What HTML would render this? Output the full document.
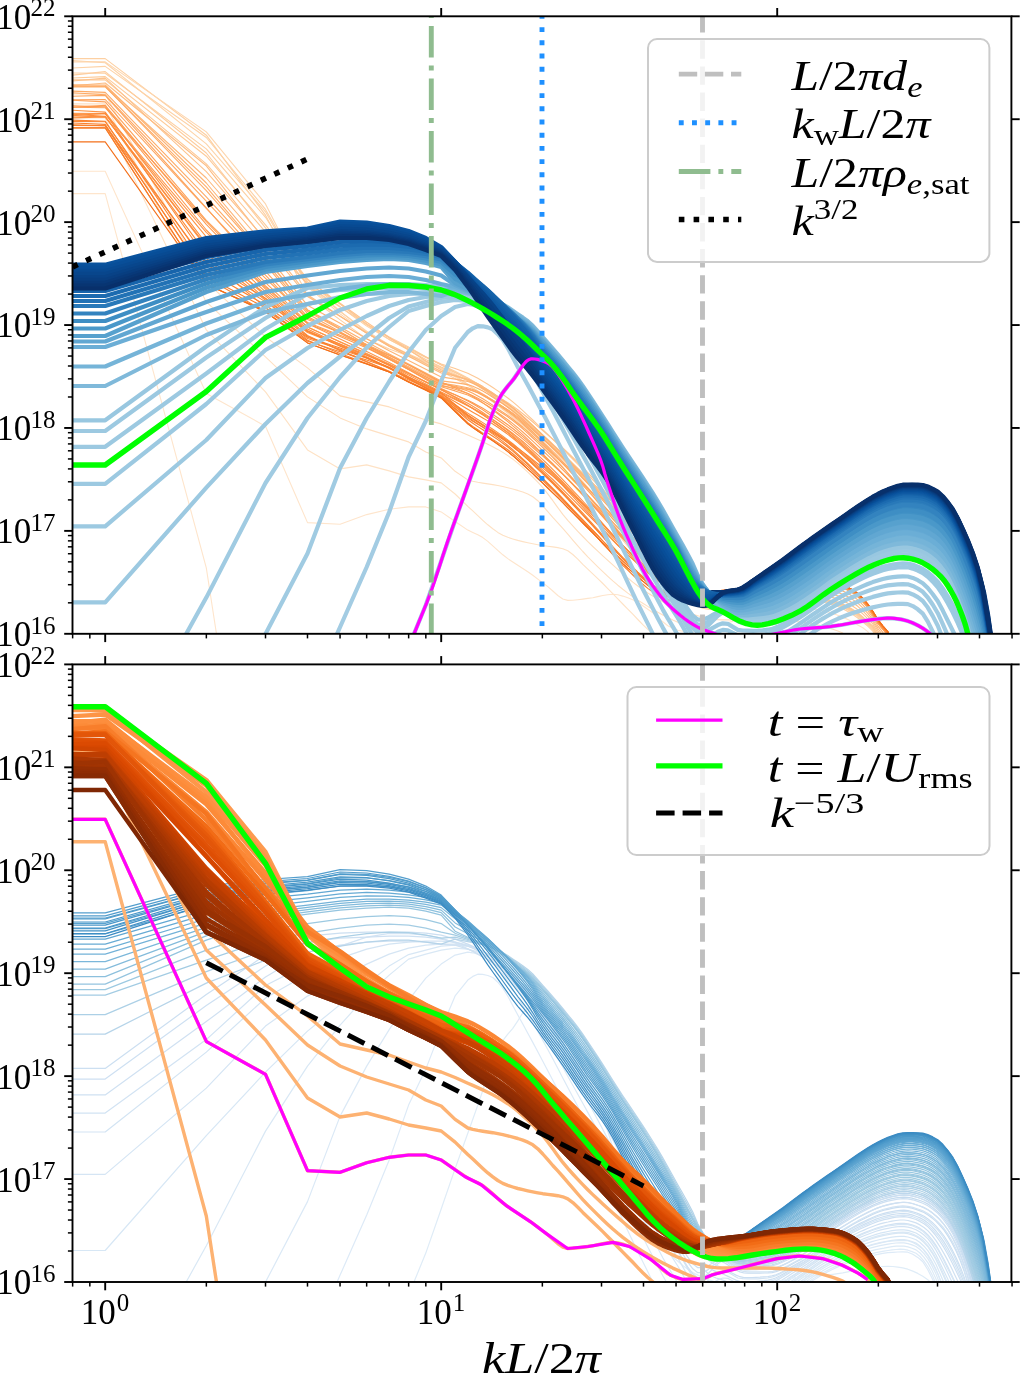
<!DOCTYPE html>
<html><head><meta charset="utf-8"><style>
html,body{margin:0;padding:0;background:#fff;}
body{width:1020px;height:1384px;overflow:hidden;}
svg{display:block;}
text{font-family:"Liberation Serif","DejaVu Serif",serif;fill:#000;}
.tl{font-size:35px;}
.ts{font-size:25px;}
.xl{font-size:44px;}
.it{font-style:italic;}
.lg{font-size:43px;}
.lgs{font-size:30px;}
</style></head><body>
<svg width="1020" height="1384" viewBox="0 0 1020 1384">
<defs>
<clipPath id="ct"><rect x="72.50" y="16.30" width="938.90" height="617.50"/></clipPath>
<clipPath id="cb"><rect x="72.50" y="664.40" width="938.90" height="617.60"/></clipPath>
</defs>
<rect width="1020" height="1384" fill="#fff"/>
<g clip-path="url(#ct)">
<polyline points="72.5,193.6 105.2,193.6 206.3,567.9 265.5,951.9 1012.8,1051.9" fill="none" stroke="#fee5cc" stroke-width="1.10" stroke-linejoin="round"/>
<polyline points="72.5,171.2 105.2,171.2 206.3,393.5 265.5,426.2 307.5,522.6 340.1,524.2 366.7,514.6 389.2,509.2 408.6,506.9 425.8,506.9 441.2,511.9 455.1,521.5 467.8,530.1 472.8,532.4 477.8,534.7 482.8,537.6 487.8,541.4 492.8,545.8 497.8,550.4 502.8,554.8 507.8,558.6 512.8,562.0 517.8,565.3 522.8,568.5 527.8,571.8 532.8,575.3 537.8,579.1 542.8,582.9 547.8,586.6 552.8,591.0 557.8,595.5 562.8,599.0 567.8,600.4 572.8,600.2 577.8,599.7 582.8,599.1 587.8,598.4 592.8,597.7 597.8,596.6 602.8,595.5 607.8,594.7 612.8,594.3 617.8,594.8 622.8,596.1 627.8,597.8 632.8,599.8 637.8,602.5 642.8,605.7 647.8,609.2 652.8,612.8 657.8,617.2 662.8,621.8 667.8,625.7 672.8,628.2 677.8,630.3 682.8,631.3 687.8,631.3 692.8,631.1 697.8,630.8 702.8,630.5 707.8,628.9 712.8,626.6 717.8,625.1 722.8,623.7 727.8,622.5 732.8,621.4 737.8,620.2 742.8,619.1 747.8,617.8 752.8,616.4 757.8,615.0 762.8,613.6 767.8,612.4 772.8,611.2 777.8,610.4 782.8,609.6 787.8,608.8 792.8,608.2 797.8,607.9 802.8,608.0 807.8,608.3 812.8,608.9 817.8,609.7 822.8,610.6 827.8,611.8 832.8,613.4 837.8,615.3 842.8,617.3 847.8,619.6 852.8,622.1 857.8,624.9 862.8,627.7 867.8,631.6 872.8,642.0 877.8,652.5 1012.8,691.9" fill="none" stroke="#fee5cc" stroke-width="1.10" stroke-linejoin="round"/>
<polyline points="72.5,117.9 105.2,117.9 206.3,329.9 265.5,391.9 307.5,449.9 340.1,468.9 366.7,464.9 389.2,470.9 408.6,476.9 425.8,479.9 441.2,482.9 455.1,494.0 467.8,506.4 472.8,510.9 477.8,515.6 482.8,520.3 487.8,524.8 492.8,528.8 497.8,532.4 502.8,535.3 507.8,537.3 512.8,538.9 517.8,540.4 522.8,541.6 527.8,542.7 532.8,543.7 537.8,544.7 542.8,545.6 547.8,546.3 552.8,546.9 557.8,547.6 562.8,548.7 567.8,550.8 572.8,554.5 577.8,559.2 582.8,564.3 587.8,569.1 592.8,573.8 597.8,578.6 602.8,583.5 607.8,588.6 612.8,593.7 617.8,598.9 622.8,604.0 627.8,609.1 632.8,614.2 637.8,619.5 642.8,624.6 647.8,629.4 652.8,633.6 657.8,637.9 662.8,642.0 667.8,645.8 672.8,648.9 1012.8,691.8" fill="none" stroke="#fee2c5" stroke-width="1.10" stroke-linejoin="round"/>
<polyline points="72.5,103.9 105.2,103.9 206.3,301.9 265.5,356.9 307.5,396.9 340.1,417.9 366.7,428.9 389.2,435.9 408.6,441.9 425.8,451.9 441.2,457.9 455.1,471.3 467.8,479.9 472.8,481.2 477.8,482.3 482.8,483.1 487.8,483.9 492.8,484.6 497.8,485.5 502.8,486.5 507.8,487.7 512.8,489.0 517.8,490.4 522.8,492.1 527.8,494.1 532.8,496.7 537.8,500.7 542.8,505.9 547.8,511.6 552.8,517.4 557.8,522.8 562.8,528.4 567.8,534.2 572.8,540.1 577.8,545.9 582.8,551.5 587.8,556.8 592.8,561.8 597.8,566.8 602.8,571.6 607.8,576.3 612.8,580.9 617.8,585.2 622.8,589.3 627.8,593.1 632.8,596.7 637.8,600.1 642.8,603.3 647.8,606.4 652.8,609.3 657.8,612.2 662.8,614.9 667.8,617.5 672.8,620.0 677.8,622.3 682.8,624.5 687.8,626.6 692.8,628.7 697.8,630.9 702.8,633.3 707.8,635.9 712.8,638.8 717.8,641.6 722.8,644.5 727.8,647.1 732.8,649.4 1012.8,691.8" fill="none" stroke="#fee0c2" stroke-width="1.10" stroke-linejoin="round"/>
<polyline points="72.5,93.9 105.2,93.9 206.3,281.9 265.5,336.9 307.5,367.9 340.1,395.9 366.7,401.9 389.2,406.9 408.6,413.9 425.8,419.9 441.2,423.9 455.1,429.4 467.8,435.1 472.8,437.3 477.8,439.5 482.8,441.8 487.8,444.2 492.8,446.7 497.8,449.4 502.8,452.4 507.8,455.6 512.8,459.1 517.8,463.1 522.8,467.5 527.8,472.1 532.8,477.0 537.8,482.1 542.8,487.6 547.8,493.9 552.8,500.7 557.8,507.6 562.8,514.3 567.8,520.3 572.8,525.9 577.8,531.3 582.8,536.5 587.8,541.6 592.8,546.5 597.8,551.2 602.8,555.9 607.8,560.4 612.8,564.9 617.8,569.3 622.8,573.7 627.8,578.0 632.8,582.1 637.8,586.0 642.8,589.6 647.8,593.0 652.8,596.0 657.8,598.9 662.8,601.7 667.8,604.3 672.8,606.8 677.8,609.1 682.8,611.1 687.8,612.9 692.8,614.4 697.8,615.8 702.8,617.2 707.8,618.4 712.8,619.3 717.8,619.8 722.8,619.9 727.8,619.9 732.8,619.9 737.8,619.9 742.8,619.9 747.8,619.9 752.8,619.9 757.8,619.9 762.8,619.9 767.8,620.0 772.8,620.2 777.8,620.4 782.8,620.6 787.8,621.0 792.8,621.3 797.8,621.7 802.8,622.2 807.8,622.9 812.8,623.8 817.8,624.9 822.8,626.2 827.8,627.7 832.8,629.3 837.8,631.1 842.8,633.1 847.8,636.2 852.8,639.9 857.8,643.8 862.8,647.6 867.8,650.8 1012.8,691.5" fill="none" stroke="#fedebe" stroke-width="1.10" stroke-linejoin="round"/>
<polyline points="72.5,58.6 105.2,58.6 206.3,135.2 265.5,215.2 307.5,295.2 340.1,319.9 366.7,338.9 389.2,348.9 408.6,355.9 425.8,361.9 441.2,367.9 455.1,375.8 467.8,384.3 472.8,387.7 477.8,390.9 482.8,394.0 487.8,397.1 492.8,400.2 497.8,403.3 502.8,406.7 507.8,410.3 512.8,414.1 517.8,418.1 522.8,422.3 527.8,426.8 532.8,431.7 537.8,437.2 542.8,443.2 547.8,449.3 552.8,455.4 557.8,461.3 562.8,467.2 567.8,473.0 572.8,478.8 577.8,484.6 582.8,490.5 587.8,496.3 592.8,502.1 597.8,507.9 602.8,513.7 607.8,519.5 612.8,525.4 617.8,531.3 622.8,537.2 627.8,543.0 632.8,549.0 637.8,555.1 642.8,561.2 647.8,567.0 652.8,572.4 657.8,577.2 662.8,581.8 667.8,586.1 672.8,590.1 677.8,593.6 682.8,597.0 687.8,600.5 692.8,603.7 697.8,606.4 702.8,608.3 707.8,609.1 712.8,609.7 717.8,610.1 722.8,610.4 727.8,610.5 732.8,610.3 737.8,609.8 742.8,609.0 747.8,608.0 752.8,607.0 757.8,606.1 762.8,605.3 767.8,604.5 772.8,603.7 777.8,602.8 782.8,602.1 787.8,601.6 792.8,601.4 797.8,601.4 802.8,601.4 807.8,601.4 812.8,601.4 817.8,601.5 822.8,602.1 827.8,603.3 832.8,604.8 837.8,606.5 842.8,608.7 847.8,611.5 852.8,614.5 857.8,618.0 862.8,622.0 867.8,626.1 872.8,631.0 877.8,641.4 882.8,652.8 1012.8,691.9" fill="none" stroke="#fdd0a2" stroke-width="1.10" stroke-linejoin="round"/>
<polyline points="72.5,61.9 105.2,61.9 206.3,131.9 265.5,203.9 307.5,286.9 340.1,313.9 366.7,332.9 389.2,345.9 408.6,354.9 425.8,361.9 441.2,368.9 455.1,376.8 467.8,384.9 472.8,388.2 477.8,391.5 482.8,394.9 487.8,398.3 492.8,401.9 497.8,405.6 502.8,409.5 507.8,413.4 512.8,417.6 517.8,421.9 522.8,426.4 527.8,431.0 532.8,435.8 537.8,440.7 542.8,445.6 547.8,450.7 552.8,456.0 557.8,461.4 562.8,467.0 567.8,472.8 572.8,478.6 577.8,484.5 582.8,490.5 587.8,496.4 592.8,502.5 597.8,508.7 602.8,515.1 607.8,521.5 612.8,527.9 617.8,534.1 622.8,540.2 627.8,546.1 632.8,551.7 637.8,557.4 642.8,563.1 647.8,568.6 652.8,574.0 657.8,579.0 662.8,583.7 667.8,587.8 672.8,591.5 677.8,594.9 682.8,598.1 687.8,601.0 692.8,603.5 697.8,605.4 702.8,606.9 707.8,608.2 712.8,609.2 717.8,609.8 722.8,609.8 727.8,609.5 732.8,609.0 737.8,608.3 742.8,607.6 747.8,607.0 752.8,606.2 757.8,605.3 762.8,604.4 767.8,603.6 772.8,602.9 777.8,602.3 782.8,601.9 787.8,601.5 792.8,601.1 797.8,600.7 802.8,600.5 807.8,600.4 812.8,600.5 817.8,601.0 822.8,601.8 827.8,602.8 832.8,604.0 837.8,605.3 842.8,607.4 847.8,610.1 852.8,613.1 857.8,616.6 862.8,620.8 867.8,625.5 872.8,630.1 877.8,641.5 882.8,648.0 887.8,651.7 1012.8,690.9" fill="none" stroke="#fdd5ad" stroke-width="1.10" stroke-linejoin="round"/>
<polyline points="72.5,60.5 105.2,62.8 206.3,143.9 265.5,211.8 307.5,285.8 340.1,311.6 366.7,331.1 389.2,344.8 408.6,354.1 425.8,361.2 441.2,367.5 455.1,374.0 467.8,380.6 472.8,383.3 477.8,386.1 482.8,388.9 487.8,391.9 492.8,395.0 497.8,398.3 502.8,401.7 507.8,405.3 512.8,409.1 517.8,413.2 522.8,417.5 527.8,422.0 532.8,426.6 537.8,431.5 542.8,436.5 547.8,441.6 552.8,447.0 557.8,452.5 562.8,458.3 567.8,464.3 572.8,470.4 577.8,476.6 582.8,482.9 587.8,489.3 592.8,495.7 597.8,502.4 602.8,509.3 607.8,516.1 612.8,523.0 617.8,529.8 622.8,536.4 627.8,542.7 632.8,548.9 637.8,555.0 642.8,561.0 647.8,566.7 652.8,572.1 657.8,577.1 662.8,581.8 667.8,585.9 672.8,589.5 677.8,592.9 682.8,596.1 687.8,599.0 692.8,601.4 697.8,603.3 702.8,604.7 707.8,606.0 712.8,607.0 717.8,607.6 722.8,607.9 727.8,607.9 732.8,607.8 737.8,607.5 742.8,607.1 747.8,606.5 752.8,605.8 757.8,604.9 762.8,604.0 767.8,603.1 772.8,602.4 777.8,601.8 782.8,601.4 787.8,601.0 792.8,600.6 797.8,600.3 802.8,600.0 807.8,599.9 812.8,600.0 817.8,600.5 822.8,601.2 827.8,602.3 832.8,603.4 837.8,604.8 842.8,606.8 847.8,609.5 852.8,612.5 857.8,615.9 862.8,620.2 867.8,624.8 872.8,629.4 877.8,640.5 882.8,647.4 887.8,651.1 1012.8,690.4" fill="none" stroke="#fdd4a9" stroke-width="1.10" stroke-linejoin="round"/>
<polyline points="72.5,68.0 105.2,66.4 206.3,137.5 265.5,209.4 307.5,283.2 340.1,311.2 366.7,332.0 389.2,346.2 408.6,356.2 425.8,364.2 441.2,371.5 455.1,378.4 467.8,385.4 472.8,388.4 477.8,391.5 482.8,394.7 487.8,398.0 492.8,401.4 497.8,404.9 502.8,408.6 507.8,412.4 512.8,416.4 517.8,420.5 522.8,424.9 527.8,429.4 532.8,434.0 537.8,438.7 542.8,443.5 547.8,448.3 552.8,453.2 557.8,458.2 562.8,463.4 567.8,468.7 572.8,474.0 577.8,479.4 582.8,484.8 587.8,490.2 592.8,495.7 597.8,501.4 602.8,507.1 607.8,513.0 612.8,518.8 617.8,524.5 622.8,530.1 627.8,535.5 632.8,540.6 637.8,545.9 642.8,551.1 647.8,556.4 652.8,561.6 657.8,566.6 662.8,571.3 667.8,575.7 672.8,579.8 677.8,583.7 682.8,587.6 687.8,591.2 692.8,594.5 697.8,597.2 702.8,599.5 707.8,601.7 712.8,603.6 717.8,605.1 722.8,605.9 727.8,606.3 732.8,606.6 737.8,606.7 742.8,606.5 747.8,606.1 752.8,605.4 757.8,604.6 762.8,603.6 767.8,602.7 772.8,601.9 777.8,601.4 782.8,600.9 787.8,600.5 792.8,600.1 797.8,599.8 802.8,599.5 807.8,599.4 812.8,599.5 817.8,599.9 822.8,600.7 827.8,601.7 832.8,602.9 837.8,604.2 842.8,606.3 847.8,608.9 852.8,611.9 857.8,615.3 862.8,619.5 867.8,624.2 872.8,628.8 877.8,639.5 882.8,646.8 887.8,650.5 1012.8,689.9" fill="none" stroke="#fdd2a6" stroke-width="1.10" stroke-linejoin="round"/>
<polyline points="72.5,73.0 105.2,73.2 206.3,148.9 265.5,217.3 307.5,281.8 340.1,306.8 366.7,326.1 389.2,339.6 408.6,349.3 425.8,357.5 441.2,364.8 455.1,371.3 467.8,378.1 472.8,381.0 477.8,384.1 482.8,387.4 487.8,390.8 492.8,394.4 497.8,398.0 502.8,401.8 507.8,405.8 512.8,409.9 517.8,414.4 522.8,419.0 527.8,423.7 532.8,428.6 537.8,433.6 542.8,438.7 547.8,443.7 552.8,448.8 557.8,454.1 562.8,459.5 567.8,465.0 572.8,470.5 577.8,476.1 582.8,481.7 587.8,487.4 592.8,493.1 597.8,499.0 602.8,505.0 607.8,511.1 612.8,517.1 617.8,523.1 622.8,528.9 627.8,534.6 632.8,540.0 637.8,545.5 642.8,550.8 647.8,556.0 652.8,561.0 657.8,565.8 662.8,570.4 667.8,574.7 672.8,578.6 677.8,582.5 682.8,586.3 687.8,589.8 692.8,592.9 697.8,595.6 702.8,597.8 707.8,599.8 712.8,601.6 717.8,603.0 722.8,603.9 727.8,604.8 732.8,605.4 737.8,605.8 742.8,605.9 747.8,605.7 752.8,605.0 757.8,604.2 762.8,603.2 767.8,602.3 772.8,601.5 777.8,600.9 782.8,600.4 787.8,600.0 792.8,599.6 797.8,599.3 802.8,599.0 807.8,598.9 812.8,599.0 817.8,599.4 822.8,600.2 827.8,601.2 832.8,602.4 837.8,603.7 842.8,605.7 847.8,608.3 852.8,611.3 857.8,614.7 862.8,618.9 867.8,623.5 872.8,628.1 877.8,638.5 882.8,646.2 887.8,649.9 1012.8,689.4" fill="none" stroke="#fdd0a2" stroke-width="1.10" stroke-linejoin="round"/>
<polyline points="72.5,75.1 105.2,71.6 206.3,153.0 265.5,227.9 307.5,285.7 340.1,307.0 366.7,324.2 389.2,337.0 408.6,347.1 425.8,356.7 441.2,365.1 455.1,372.3 467.8,379.3 472.8,382.4 477.8,385.6 482.8,388.9 487.8,392.3 492.8,395.8 497.8,399.4 502.8,403.0 507.8,406.7 512.8,410.5 517.8,414.6 522.8,418.8 527.8,423.1 532.8,427.4 537.8,431.8 542.8,436.2 547.8,440.5 552.8,444.9 557.8,449.3 562.8,453.9 567.8,458.5 572.8,463.3 577.8,468.1 582.8,473.0 587.8,477.9 592.8,483.1 597.8,488.4 602.8,493.9 607.8,499.6 612.8,505.3 617.8,511.0 622.8,516.7 627.8,522.4 632.8,527.9 637.8,533.5 642.8,539.3 647.8,545.2 652.8,551.0 657.8,556.6 662.8,562.0 667.8,567.1 672.8,571.9 677.8,576.6 682.8,581.0 687.8,585.2 692.8,589.0 697.8,592.2 702.8,594.8 707.8,597.2 712.8,599.2 717.8,600.7 722.8,601.9 727.8,603.2 732.8,604.2 737.8,605.0 742.8,605.4 747.8,605.2 752.8,604.7 757.8,603.8 762.8,602.8 767.8,601.9 772.8,601.0 777.8,600.4 782.8,599.9 787.8,599.5 792.8,599.1 797.8,598.8 802.8,598.5 807.8,598.4 812.8,598.5 817.8,598.9 822.8,599.6 827.8,600.7 832.8,601.8 837.8,603.1 842.8,605.1 847.8,607.7 852.8,610.7 857.8,614.0 862.8,618.2 867.8,622.9 872.8,627.4 877.8,637.5 882.8,645.5 887.8,649.2 1012.8,688.9" fill="none" stroke="#fdcd9e" stroke-width="1.10" stroke-linejoin="round"/>
<polyline points="72.5,78.0 105.2,76.6 206.3,156.2 265.5,224.9 307.5,279.0 340.1,304.1 366.7,324.7 389.2,339.4 408.6,350.1 425.8,359.5 441.2,367.1 455.1,372.6 467.8,378.3 472.8,380.9 477.8,383.7 482.8,386.7 487.8,389.9 492.8,393.2 497.8,396.6 502.8,400.1 507.8,403.8 512.8,407.7 517.8,411.8 522.8,416.2 527.8,420.7 532.8,425.4 537.8,430.1 542.8,434.8 547.8,439.5 552.8,444.2 557.8,449.0 562.8,453.9 567.8,458.9 572.8,463.9 577.8,469.0 582.8,474.1 587.8,479.3 592.8,484.5 597.8,490.0 602.8,495.5 607.8,501.1 612.8,506.7 617.8,512.3 622.8,517.7 627.8,523.0 632.8,528.2 637.8,533.4 642.8,538.6 647.8,543.7 652.8,548.7 657.8,553.6 662.8,558.4 667.8,563.0 672.8,567.5 677.8,571.9 682.8,576.3 687.8,580.5 692.8,584.4 697.8,587.9 702.8,590.9 707.8,593.6 712.8,596.1 717.8,598.3 722.8,600.0 727.8,601.6 732.8,603.0 737.8,604.2 742.8,604.8 747.8,604.8 752.8,604.3 757.8,603.4 762.8,602.4 767.8,601.4 772.8,600.5 777.8,599.9 782.8,599.5 787.8,599.0 792.8,598.6 797.8,598.3 802.8,598.1 807.8,597.9 812.8,598.0 817.8,598.4 822.8,599.1 827.8,600.1 832.8,601.3 837.8,602.6 842.8,604.5 847.8,607.1 852.8,610.1 857.8,613.4 862.8,617.6 867.8,622.2 872.8,626.7 877.8,636.5 882.8,644.9 887.8,648.6 892.8,652.1 1012.8,688.4" fill="none" stroke="#fdcb99" stroke-width="1.10" stroke-linejoin="round"/>
<polyline points="72.5,79.9 105.2,79.9 206.3,163.9 265.5,231.9 307.5,279.9 340.1,303.9 366.7,323.9 389.2,337.9 408.6,347.9 425.8,356.9 441.2,363.9 455.1,368.5 467.8,373.3 472.8,375.7 477.8,378.3 482.8,381.2 487.8,384.3 492.8,387.5 497.8,390.9 502.8,394.4 507.8,398.0 512.8,401.9 517.8,406.1 522.8,410.6 527.8,415.3 532.8,420.0 537.8,424.9 542.8,429.7 547.8,434.5 552.8,439.3 557.8,444.1 562.8,449.0 567.8,454.0 572.8,459.0 577.8,464.1 582.8,469.3 587.8,474.5 592.8,479.8 597.8,485.2 602.8,490.8 607.8,496.4 612.8,502.0 617.8,507.6 622.8,513.1 627.8,518.4 632.8,523.7 637.8,528.9 642.8,534.0 647.8,539.1 652.8,544.2 657.8,549.1 662.8,554.0 667.8,558.7 672.8,563.3 677.8,568.0 682.8,572.6 687.8,577.0 692.8,581.1 697.8,584.8 702.8,588.1 707.8,591.0 712.8,593.7 717.8,596.0 722.8,598.0 727.8,600.0 732.8,601.9 737.8,603.4 742.8,604.2 747.8,604.4 752.8,603.9 757.8,603.1 762.8,602.1 767.8,601.0 772.8,600.1 777.8,599.4 782.8,599.0 787.8,598.5 792.8,598.1 797.8,597.8 802.8,597.6 807.8,597.4 812.8,597.5 817.8,597.9 822.8,598.6 827.8,599.6 832.8,600.7 837.8,602.0 842.8,603.9 847.8,606.5 852.8,609.5 857.8,612.8 862.8,616.9 867.8,621.6 872.8,626.1 877.8,635.5 882.8,644.3 887.8,648.0 892.8,651.5 1012.8,687.9" fill="none" stroke="#fdc895" stroke-width="1.10" stroke-linejoin="round"/>
<polyline points="72.5,81.0 105.2,78.1 206.3,171.7 265.5,239.6 307.5,283.6 340.1,303.3 366.7,322.3 389.2,337.5 408.6,349.8 425.8,361.0 441.2,369.9 455.1,375.1 467.8,379.9 472.8,382.2 477.8,384.8 482.8,387.5 487.8,390.4 492.8,393.4 497.8,396.5 502.8,399.6 507.8,402.7 512.8,406.1 517.8,409.8 522.8,413.7 527.8,417.8 532.8,422.0 537.8,426.3 542.8,430.6 547.8,434.8 552.8,439.1 557.8,443.5 562.8,448.0 567.8,452.7 572.8,457.5 577.8,462.4 582.8,467.4 587.8,472.6 592.8,477.9 597.8,483.5 602.8,489.2 607.8,495.0 612.8,501.0 617.8,506.9 622.8,512.9 627.8,518.7 632.8,524.4 637.8,530.2 642.8,535.9 647.8,541.5 652.8,546.9 657.8,552.2 662.8,557.2 667.8,562.1 672.8,566.7 677.8,571.4 682.8,576.0 687.8,580.2 692.8,584.1 697.8,587.3 702.8,589.9 707.8,592.2 712.8,594.3 717.8,595.9 722.8,597.4 727.8,598.8 732.8,600.1 737.8,601.0 742.8,601.5 747.8,601.4 752.8,600.9 757.8,600.0 762.8,599.1 767.8,598.1 772.8,597.2 777.8,596.6 782.8,596.1 787.8,595.7 792.8,595.3 797.8,595.0 802.8,594.7 807.8,594.6 812.8,594.6 817.8,595.0 822.8,595.7 827.8,596.6 832.8,597.6 837.8,598.8 842.8,600.7 847.8,603.2 852.8,606.2 857.8,609.6 862.8,613.9 867.8,618.8 872.8,623.9 877.8,633.0 882.8,641.3 887.8,645.5 892.8,651.7 1012.8,689.2" fill="none" stroke="#fdc38d" stroke-width="1.10" stroke-linejoin="round"/>
<polyline points="72.5,85.8 105.2,83.0 206.3,165.8 265.5,240.9 307.5,294.8 340.1,316.2 366.7,333.0 389.2,345.0 408.6,354.4 425.8,363.5 441.2,371.4 455.1,375.7 467.8,380.4 472.8,382.9 477.8,385.8 482.8,389.0 487.8,392.4 492.8,396.0 497.8,399.7 502.8,403.5 507.8,407.3 512.8,411.3 517.8,415.6 522.8,420.1 527.8,424.8 532.8,429.5 537.8,434.1 542.8,438.8 547.8,443.2 552.8,447.7 557.8,452.1 562.8,456.6 567.8,461.0 572.8,465.5 577.8,469.9 582.8,474.4 587.8,478.9 592.8,483.5 597.8,488.2 602.8,493.0 607.8,497.9 612.8,502.8 617.8,507.7 622.8,512.5 627.8,517.2 632.8,521.9 637.8,526.5 642.8,531.4 647.8,536.5 652.8,541.7 657.8,546.8 662.8,551.9 667.8,556.9 672.8,561.9 677.8,567.1 682.8,572.2 687.8,577.2 692.8,581.7 697.8,585.4 702.8,588.4 707.8,591.2 712.8,593.5 717.8,595.4 722.8,596.7 727.8,597.6 732.8,598.3 737.8,598.7 742.8,598.8 747.8,598.5 752.8,597.9 757.8,597.0 762.8,596.1 767.8,595.1 772.8,594.3 777.8,593.7 782.8,593.3 787.8,592.8 792.8,592.4 797.8,592.1 802.8,591.9 807.8,591.7 812.8,591.8 817.8,592.1 822.8,592.7 827.8,593.6 832.8,594.5 837.8,595.7 842.8,597.5 847.8,600.0 852.8,602.9 857.8,606.3 862.8,610.9 867.8,616.1 872.8,621.8 877.8,630.6 882.8,638.3 887.8,643.0 892.8,651.8 1012.8,690.5" fill="none" stroke="#fdbe85" stroke-width="1.10" stroke-linejoin="round"/>
<polyline points="72.5,85.7 105.2,86.0 206.3,178.0 265.5,245.9 307.5,296.5 340.1,316.3 366.7,333.3 389.2,346.2 408.6,356.2 425.8,365.3 441.2,373.0 455.1,376.0 467.8,379.3 472.8,381.4 477.8,383.8 482.8,386.6 487.8,389.7 492.8,393.0 497.8,396.4 502.8,400.0 507.8,403.6 512.8,407.5 517.8,411.7 522.8,416.2 527.8,420.9 532.8,425.8 537.8,430.7 542.8,435.6 547.8,440.4 552.8,445.3 557.8,450.3 562.8,455.3 567.8,460.3 572.8,465.5 577.8,470.6 582.8,475.9 587.8,481.1 592.8,486.5 597.8,492.0 602.8,497.5 607.8,503.1 612.8,508.8 617.8,514.3 622.8,519.8 627.8,525.1 632.8,530.2 637.8,535.3 642.8,540.3 647.8,545.2 652.8,549.9 657.8,554.6 662.8,559.2 667.8,563.7 672.8,568.0 677.8,572.6 682.8,577.2 687.8,581.6 692.8,585.4 697.8,588.4 702.8,590.5 707.8,592.5 712.8,594.1 717.8,595.3 722.8,596.1 727.8,596.4 732.8,596.5 737.8,596.3 742.8,596.0 747.8,595.6 752.8,594.8 757.8,594.0 762.8,593.1 767.8,592.2 772.8,591.5 777.8,590.9 782.8,590.4 787.8,590.0 792.8,589.6 797.8,589.2 802.8,589.0 807.8,588.9 812.8,588.9 817.8,589.3 822.8,589.8 827.8,590.5 832.8,591.4 837.8,592.5 842.8,594.3 847.8,596.7 852.8,599.6 857.8,603.1 862.8,607.9 867.8,613.3 872.8,619.7 877.8,628.2 882.8,635.4 887.8,640.6 892.8,652.0 1012.8,691.8" fill="none" stroke="#fdb97d" stroke-width="1.10" stroke-linejoin="round"/>
<polyline points="72.5,84.7 105.2,85.0 206.3,183.0 265.5,253.4 307.5,305.3 340.1,323.2 366.7,338.8 389.2,350.8 408.6,360.5 425.8,369.2 441.2,376.9 455.1,379.1 467.8,381.5 472.8,383.3 477.8,385.6 482.8,388.2 487.8,391.1 492.8,394.3 497.8,397.6 502.8,401.0 507.8,404.4 512.8,408.1 517.8,412.2 522.8,416.5 527.8,421.0 532.8,425.7 537.8,430.5 542.8,435.2 547.8,439.9 552.8,444.6 557.8,449.4 562.8,454.3 567.8,459.3 572.8,464.3 577.8,469.4 582.8,474.6 587.8,479.8 592.8,485.1 597.8,490.5 602.8,496.1 607.8,501.7 612.8,507.4 617.8,513.0 622.8,518.5 627.8,523.8 632.8,529.1 637.8,534.3 642.8,539.4 647.8,544.5 652.8,549.6 657.8,554.5 662.8,559.3 667.8,564.0 672.8,568.5 677.8,573.3 682.8,578.1 687.8,582.6 692.8,586.5 697.8,589.3 702.8,591.2 707.8,592.9 712.8,594.2 717.8,595.1 722.8,595.4 727.8,595.2 732.8,594.7 737.8,594.0 742.8,593.3 747.8,592.6 752.8,591.8 757.8,591.0 762.8,590.1 767.8,589.3 772.8,588.6 777.8,588.1 782.8,587.6 787.8,587.1 792.8,586.7 797.8,586.4 802.8,586.2 807.8,586.0 812.8,586.1 817.8,586.4 822.8,586.9 827.8,587.5 832.8,588.3 837.8,589.3 842.8,591.1 847.8,593.5 852.8,596.3 857.8,599.9 862.8,604.8 867.8,610.6 872.8,617.5 877.8,625.8 882.8,632.4 887.8,638.1 892.8,652.1 1012.8,693.1" fill="none" stroke="#fdb475" stroke-width="1.10" stroke-linejoin="round"/>
<polyline points="72.5,86.9 105.2,86.9 206.3,186.9 265.5,256.9 307.5,309.9 340.1,326.9 366.7,341.9 389.2,353.9 408.6,363.9 425.8,372.9 441.2,380.9 455.1,382.6 467.8,384.6 472.8,386.3 477.8,388.5 482.8,391.1 487.8,394.0 492.8,397.2 497.8,400.5 502.8,403.8 507.8,407.2 512.8,410.9 517.8,414.9 522.8,419.2 527.8,423.8 532.8,428.4 537.8,433.2 542.8,438.0 547.8,442.7 552.8,447.4 557.8,452.2 562.8,457.1 567.8,462.0 572.8,467.1 577.8,472.2 582.8,477.3 587.8,482.5 592.8,487.8 597.8,493.2 602.8,498.8 607.8,504.4 612.8,510.0 617.8,515.5 622.8,521.0 627.8,526.2 632.8,531.4 637.8,536.5 642.8,541.6 647.8,546.5 652.8,551.4 657.8,556.2 662.8,560.9 667.8,565.4 672.8,569.9 677.8,574.6 682.8,579.4 687.8,583.9 692.8,587.7 697.8,590.3 702.8,591.9 707.8,593.2 712.8,594.3 717.8,594.8 722.8,594.8 727.8,594.1 732.8,592.9 737.8,591.7 742.8,590.6 747.8,589.7 752.8,588.8 757.8,587.9 762.8,587.1 767.8,586.4 772.8,585.7 777.8,585.2 782.8,584.7 787.8,584.3 792.8,583.9 797.8,583.5 802.8,583.3 807.8,583.2 812.8,583.3 817.8,583.5 822.8,584.0 827.8,584.5 832.8,585.2 837.8,586.1 842.8,587.8 847.8,590.2 852.8,593.0 857.8,596.7 862.8,601.8 867.8,607.8 872.8,615.4 877.8,623.4 882.8,629.4 887.8,635.6 892.8,652.3 1012.8,694.4" fill="none" stroke="#fdaf6d" stroke-width="1.10" stroke-linejoin="round"/>
<polyline points="72.5,86.3 105.2,86.4 206.3,190.6 265.5,258.0 307.5,309.9 340.1,328.6 366.7,345.3 389.2,358.6 408.6,369.3 425.8,378.4 441.2,386.1 455.1,387.7 467.8,389.4 472.8,390.9 477.8,392.8 482.8,395.1 487.8,397.7 492.8,400.6 497.8,403.6 502.8,406.6 507.8,409.7 512.8,413.2 517.8,416.9 522.8,421.0 527.8,425.3 532.8,429.8 537.8,434.4 542.8,439.0 547.8,443.6 552.8,448.3 557.8,453.1 562.8,458.0 567.8,463.0 572.8,468.1 577.8,473.2 582.8,478.5 587.8,483.7 592.8,489.1 597.8,494.6 602.8,500.3 607.8,505.9 612.8,511.6 617.8,517.2 622.8,522.7 627.8,528.0 632.8,533.1 637.8,538.2 642.8,543.2 647.8,548.2 652.8,553.0 657.8,557.7 662.8,562.2 667.8,566.6 672.8,570.9 677.8,575.4 682.8,580.0 687.8,584.4 692.8,588.0 697.8,590.6 702.8,592.0 707.8,593.3 712.8,594.2 717.8,594.8 722.8,594.7 727.8,594.0 732.8,592.8 737.8,591.5 742.8,590.4 747.8,589.6 752.8,588.7 757.8,587.8 762.8,587.0 767.8,586.2 772.8,585.6 777.8,585.1 782.8,584.6 787.8,584.2 792.8,583.7 797.8,583.4 802.8,583.2 807.8,583.1 812.8,583.1 817.8,583.4 822.8,583.8 827.8,584.4 832.8,585.0 837.8,586.0 842.8,587.7 847.8,590.0 852.8,592.8 857.8,596.5 862.8,601.6 867.8,607.6 872.8,615.2 877.8,623.2 882.8,629.2 887.8,635.4 892.8,652.0 1012.8,694.3" fill="none" stroke="#fdad69" stroke-width="1.10" stroke-linejoin="round"/>
<polyline points="72.5,91.1 105.2,92.4 206.3,196.8 265.5,261.8 307.5,311.6 340.1,329.3 366.7,344.7 389.2,356.9 408.6,366.8 425.8,375.5 441.2,383.1 455.1,385.3 467.8,387.7 472.8,389.4 477.8,391.6 482.8,394.2 487.8,397.1 492.8,400.2 497.8,403.5 502.8,406.8 507.8,410.3 512.8,414.0 517.8,418.1 522.8,422.5 527.8,427.1 532.8,431.8 537.8,436.7 542.8,441.6 547.8,446.5 552.8,451.4 557.8,456.4 562.8,461.6 567.8,466.8 572.8,472.1 577.8,477.4 582.8,482.8 587.8,488.2 592.8,493.6 597.8,499.2 602.8,504.9 607.8,510.6 612.8,516.3 617.8,521.9 622.8,527.3 627.8,532.6 632.8,537.6 637.8,542.6 642.8,547.5 647.8,552.2 652.8,556.8 657.8,561.3 662.8,565.6 667.8,569.7 672.8,573.7 677.8,577.9 682.8,582.3 687.8,586.3 692.8,589.6 697.8,591.9 702.8,593.1 707.8,594.0 712.8,594.7 717.8,594.9 722.8,594.7 727.8,593.9 732.8,592.7 737.8,591.4 742.8,590.3 747.8,589.4 752.8,588.5 757.8,587.7 762.8,586.8 767.8,586.1 772.8,585.5 777.8,585.0 782.8,584.5 787.8,584.0 792.8,583.6 797.8,583.3 802.8,583.0 807.8,582.9 812.8,583.0 817.8,583.3 822.8,583.7 827.8,584.2 832.8,584.9 837.8,585.8 842.8,587.5 847.8,589.9 852.8,592.7 857.8,596.3 862.8,601.5 867.8,607.4 872.8,615.0 877.8,623.0 882.8,629.0 887.8,635.2 892.8,651.8 1012.8,694.1" fill="none" stroke="#fdab66" stroke-width="1.10" stroke-linejoin="round"/>
<polyline points="72.5,92.8 105.2,94.8 206.3,201.2 265.5,264.7 307.5,313.7 340.1,331.8 366.7,347.1 389.2,359.1 408.6,368.6 425.8,376.8 441.2,383.9 455.1,386.2 467.8,388.8 472.8,390.6 477.8,392.8 482.8,395.4 487.8,398.2 492.8,401.3 497.8,404.6 502.8,408.0 507.8,411.5 512.8,415.3 517.8,419.4 522.8,423.8 527.8,428.5 532.8,433.3 537.8,438.2 542.8,443.2 547.8,448.2 552.8,453.2 557.8,458.4 562.8,463.6 567.8,468.9 572.8,474.3 577.8,479.7 582.8,485.2 587.8,490.6 592.8,496.1 597.8,501.8 602.8,507.5 607.8,513.2 612.8,518.8 617.8,524.4 622.8,529.7 627.8,534.9 632.8,539.9 637.8,544.8 642.8,549.5 647.8,554.2 652.8,558.6 657.8,563.0 662.8,567.1 667.8,571.1 672.8,575.0 677.8,579.1 682.8,583.2 687.8,587.1 692.8,590.3 697.8,592.5 702.8,593.6 707.8,594.3 712.8,594.8 717.8,595.0 722.8,594.6 727.8,593.8 732.8,592.6 737.8,591.3 742.8,590.2 747.8,589.3 752.8,588.4 757.8,587.5 762.8,586.7 767.8,586.0 772.8,585.3 777.8,584.8 782.8,584.4 787.8,583.9 792.8,583.5 797.8,583.1 802.8,582.9 807.8,582.8 812.8,582.9 817.8,583.1 822.8,583.5 827.8,584.1 832.8,584.8 837.8,585.7 842.8,587.4 847.8,589.7 852.8,592.5 857.8,596.1 862.8,601.3 867.8,607.2 872.8,614.8 877.8,622.8 882.8,628.9 887.8,634.9 892.8,651.5 1012.8,694.0" fill="none" stroke="#fda863" stroke-width="1.10" stroke-linejoin="round"/>
<polyline points="72.5,96.3 105.2,95.4 206.3,207.9 265.5,275.1 307.5,319.5 340.1,332.7 366.7,344.5 389.2,355.1 408.6,364.9 425.8,374.2 441.2,382.7 455.1,386.8 467.8,391.0 472.8,393.3 477.8,395.9 482.8,398.8 487.8,401.9 492.8,405.2 497.8,408.6 502.8,412.1 507.8,415.5 512.8,419.2 517.8,423.2 522.8,427.3 527.8,431.7 532.8,436.1 537.8,440.6 542.8,445.1 547.8,449.6 552.8,454.1 557.8,458.8 562.8,463.5 567.8,468.3 572.8,473.2 577.8,478.2 582.8,483.3 587.8,488.4 592.8,493.6 597.8,498.9 602.8,504.5 607.8,510.1 612.8,515.7 617.8,521.3 622.8,526.8 627.8,532.2 632.8,537.5 637.8,542.7 642.8,548.1 647.8,553.3 652.8,558.5 657.8,563.4 662.8,568.1 667.8,572.6 672.8,576.7 677.8,581.1 682.8,585.3 687.8,589.2 692.8,592.3 697.8,594.3 702.8,595.2 707.8,595.6 712.8,595.5 717.8,595.2 722.8,594.6 727.8,593.7 732.8,592.5 737.8,591.2 742.8,590.1 747.8,589.1 752.8,588.3 757.8,587.4 762.8,586.6 767.8,585.8 772.8,585.2 777.8,584.7 782.8,584.2 787.8,583.8 792.8,583.3 797.8,583.0 802.8,582.8 807.8,582.7 812.8,582.7 817.8,583.0 822.8,583.4 827.8,584.0 832.8,584.6 837.8,585.5 842.8,587.2 847.8,589.6 852.8,592.3 857.8,596.0 862.8,601.1 867.8,607.0 872.8,614.6 877.8,622.6 882.8,628.7 887.8,634.7 892.8,651.2 1012.8,693.8" fill="none" stroke="#fda65f" stroke-width="1.10" stroke-linejoin="round"/>
<polyline points="72.5,99.9 105.2,99.5 206.3,208.4 265.5,271.3 307.5,316.6 340.1,333.3 366.7,347.3 389.2,359.2 408.6,369.4 425.8,378.6 441.2,386.7 455.1,390.9 467.8,395.1 472.8,397.4 477.8,400.0 482.8,402.9 487.8,406.0 492.8,409.3 497.8,412.7 502.8,416.2 507.8,419.8 512.8,423.6 517.8,427.7 522.8,432.0 527.8,436.5 532.8,441.2 537.8,445.9 542.8,450.6 547.8,455.3 552.8,460.1 557.8,464.9 562.8,469.9 567.8,474.9 572.8,480.0 577.8,485.1 582.8,490.2 587.8,495.4 592.8,500.6 597.8,505.9 602.8,511.3 607.8,516.8 612.8,522.2 617.8,527.5 622.8,532.7 627.8,537.7 632.8,542.5 637.8,547.3 642.8,552.0 647.8,556.7 652.8,561.2 657.8,565.6 662.8,569.8 667.8,573.7 672.8,577.4 677.8,581.4 682.8,585.4 687.8,589.0 692.8,592.0 697.8,593.9 702.8,594.8 707.8,595.2 712.8,595.3 717.8,595.1 722.8,594.5 727.8,593.6 732.8,592.3 737.8,591.1 742.8,589.9 747.8,589.0 752.8,588.1 757.8,587.2 762.8,586.4 767.8,585.7 772.8,585.1 777.8,584.6 782.8,584.1 787.8,583.6 792.8,583.2 797.8,582.9 802.8,582.6 807.8,582.5 812.8,582.6 817.8,582.8 822.8,583.3 827.8,583.8 832.8,584.5 837.8,585.4 842.8,587.1 847.8,589.4 852.8,592.2 857.8,595.8 862.8,600.9 867.8,606.8 872.8,614.4 877.8,622.4 882.8,628.5 887.8,634.5 892.8,651.0 1012.8,693.7" fill="none" stroke="#fda35c" stroke-width="1.10" stroke-linejoin="round"/>
<polyline points="72.5,100.3 105.2,101.9 206.3,220.3 265.5,278.3 307.5,318.0 340.1,332.5 366.7,345.8 389.2,357.6 408.6,368.0 425.8,377.1 441.2,385.0 455.1,389.2 467.8,393.5 472.8,395.7 477.8,398.2 482.8,400.9 487.8,403.8 492.8,406.9 497.8,410.2 502.8,413.5 507.8,416.9 512.8,420.6 517.8,424.6 522.8,428.9 527.8,433.3 532.8,438.0 537.8,442.7 542.8,447.5 547.8,452.4 552.8,457.3 557.8,462.5 562.8,467.7 567.8,473.1 572.8,478.6 577.8,484.1 582.8,489.7 587.8,495.4 592.8,501.1 597.8,507.0 602.8,513.0 607.8,519.0 612.8,524.9 617.8,530.8 622.8,536.6 627.8,542.1 632.8,547.4 637.8,552.7 642.8,557.8 647.8,562.6 652.8,567.2 657.8,571.5 662.8,575.5 667.8,579.2 672.8,582.6 677.8,586.1 682.8,589.6 687.8,592.7 692.8,595.1 697.8,596.5 702.8,596.8 707.8,596.6 712.8,596.0 717.8,595.3 722.8,594.5 727.8,593.5 732.8,592.2 737.8,590.9 742.8,589.8 747.8,588.9 752.8,588.0 757.8,587.1 762.8,586.3 767.8,585.6 772.8,584.9 777.8,584.4 782.8,584.0 787.8,583.5 792.8,583.1 797.8,582.7 802.8,582.5 807.8,582.4 812.8,582.5 817.8,582.7 822.8,583.1 827.8,583.7 832.8,584.3 837.8,585.2 842.8,586.9 847.8,589.2 852.8,592.0 857.8,595.6 862.8,600.7 867.8,606.6 872.8,614.1 877.8,622.2 882.8,628.3 887.8,634.3 892.8,650.7 1012.8,693.6" fill="none" stroke="#fda158" stroke-width="1.10" stroke-linejoin="round"/>
<polyline points="72.5,107.3 105.2,107.7 206.3,221.7 265.5,282.7 307.5,322.5 340.1,335.3 366.7,345.9 389.2,355.6 408.6,364.8 425.8,373.7 441.2,382.1 455.1,387.8 467.8,393.6 472.8,396.5 477.8,399.5 482.8,402.9 487.8,406.4 492.8,410.0 497.8,413.8 502.8,417.7 507.8,421.6 512.8,425.8 517.8,430.2 522.8,434.7 527.8,439.4 532.8,444.2 537.8,449.1 542.8,454.0 547.8,458.8 552.8,463.7 557.8,468.7 562.8,473.8 567.8,479.0 572.8,484.2 577.8,489.4 582.8,494.6 587.8,499.8 592.8,505.1 597.8,510.5 602.8,516.0 607.8,521.5 612.8,527.0 617.8,532.4 622.8,537.7 627.8,542.8 632.8,547.7 637.8,552.7 642.8,557.5 647.8,562.3 652.8,566.8 657.8,571.2 662.8,575.3 667.8,579.1 672.8,582.6 677.8,586.2 682.8,589.8 687.8,593.0 692.8,595.5 697.8,596.9 702.8,597.2 707.8,596.9 712.8,596.3 717.8,595.3 722.8,594.4 727.8,593.4 732.8,592.1 737.8,590.8 742.8,589.7 747.8,588.7 752.8,587.8 757.8,587.0 762.8,586.2 767.8,585.4 772.8,584.8 777.8,584.3 782.8,583.8 787.8,583.4 792.8,582.9 797.8,582.6 802.8,582.4 807.8,582.2 812.8,582.3 817.8,582.6 822.8,583.0 827.8,583.5 832.8,584.2 837.8,585.1 842.8,586.8 847.8,589.1 852.8,591.9 857.8,595.4 862.8,600.5 867.8,606.4 872.8,613.9 877.8,622.0 882.8,628.1 887.8,634.1 892.8,650.4 1012.8,693.4" fill="none" stroke="#fd9f55" stroke-width="1.10" stroke-linejoin="round"/>
<polyline points="72.5,107.2 105.2,105.4 206.3,224.4 265.5,285.8 307.5,323.6 340.1,336.6 366.7,348.0 389.2,359.0 408.6,369.5 425.8,379.4 441.2,388.4 455.1,394.8 467.8,401.0 472.8,403.8 477.8,406.8 482.8,409.9 487.8,413.2 492.8,416.6 497.8,420.0 502.8,423.5 507.8,427.1 512.8,430.9 517.8,434.8 522.8,438.9 527.8,443.1 532.8,447.5 537.8,451.8 542.8,456.2 547.8,460.6 552.8,465.1 557.8,469.7 562.8,474.4 567.8,479.2 572.8,484.1 577.8,489.0 582.8,494.0 587.8,499.0 592.8,504.1 597.8,509.4 602.8,514.7 607.8,520.2 612.8,525.6 617.8,531.0 622.8,536.3 627.8,541.5 632.8,546.5 637.8,551.5 642.8,556.5 647.8,561.6 652.8,566.4 657.8,571.0 662.8,575.3 667.8,579.2 672.8,582.8 677.8,586.5 682.8,590.1 687.8,593.3 692.8,595.8 697.8,597.2 702.8,597.4 707.8,597.1 712.8,596.3 717.8,595.3 722.8,594.4 727.8,593.3 732.8,592.0 737.8,590.7 742.8,589.6 747.8,588.6 752.8,587.7 757.8,586.8 762.8,586.0 767.8,585.3 772.8,584.7 777.8,584.2 782.8,583.7 787.8,583.2 792.8,582.8 797.8,582.5 802.8,582.2 807.8,582.1 812.8,582.2 817.8,582.4 822.8,582.8 827.8,583.4 832.8,584.0 837.8,584.9 842.8,586.6 847.8,588.9 852.8,591.7 857.8,595.2 862.8,600.3 867.8,606.2 872.8,613.7 877.8,621.8 882.8,627.9 887.8,633.9 892.8,650.2 1012.8,693.3" fill="none" stroke="#fd9c52" stroke-width="1.10" stroke-linejoin="round"/>
<polyline points="72.5,105.9 105.2,106.7 206.3,230.0 265.5,289.0 307.5,327.0 340.1,341.7 366.7,353.6 389.2,364.1 408.6,373.5 425.8,381.9 441.2,389.3 455.1,394.8 467.8,400.2 472.8,402.8 477.8,405.5 482.8,408.3 487.8,411.4 492.8,414.5 497.8,417.8 502.8,421.3 507.8,424.8 512.8,428.5 517.8,432.5 522.8,436.7 527.8,441.1 532.8,445.5 537.8,450.1 542.8,454.7 547.8,459.4 552.8,464.2 557.8,469.1 562.8,474.2 567.8,479.3 572.8,484.5 577.8,489.8 582.8,495.1 587.8,500.3 592.8,505.7 597.8,511.2 602.8,516.8 607.8,522.4 612.8,527.9 617.8,533.4 622.8,538.7 627.8,543.9 632.8,548.8 637.8,553.7 642.8,558.7 647.8,563.5 652.8,568.2 657.8,572.7 662.8,576.8 667.8,580.5 672.8,583.9 677.8,587.4 682.8,590.8 687.8,593.9 692.8,596.2 697.8,597.5 702.8,597.7 707.8,597.2 712.8,596.4 717.8,595.3 722.8,594.4 727.8,593.2 732.8,591.9 737.8,590.6 742.8,589.4 747.8,588.5 752.8,587.6 757.8,586.7 762.8,585.9 767.8,585.2 772.8,584.5 777.8,584.0 782.8,583.6 787.8,583.1 792.8,582.7 797.8,582.3 802.8,582.1 807.8,582.0 812.8,582.0 817.8,582.3 822.8,582.7 827.8,583.2 832.8,583.9 837.8,584.8 842.8,586.4 847.8,588.8 852.8,591.5 857.8,595.1 862.8,600.1 867.8,606.0 872.8,613.5 877.8,621.5 882.8,627.8 887.8,633.7 892.8,649.9 1012.8,693.2" fill="none" stroke="#fd9a4e" stroke-width="1.10" stroke-linejoin="round"/>
<polyline points="72.5,113.3 105.2,113.5 206.3,232.3 265.5,287.2 307.5,323.6 340.1,338.9 366.7,351.4 389.2,362.6 408.6,372.8 425.8,381.9 441.2,390.1 455.1,396.7 467.8,403.3 472.8,406.3 477.8,409.3 482.8,412.5 487.8,415.9 492.8,419.4 497.8,423.0 502.8,426.7 507.8,430.5 512.8,434.6 517.8,438.8 522.8,443.2 527.8,447.8 532.8,452.5 537.8,457.3 542.8,462.1 547.8,466.9 552.8,471.8 557.8,476.9 562.8,482.0 567.8,487.3 572.8,492.5 577.8,497.8 582.8,503.1 587.8,508.3 592.8,513.6 597.8,519.0 602.8,524.4 607.8,529.8 612.8,535.2 617.8,540.5 622.8,545.5 627.8,550.4 632.8,555.0 637.8,559.6 642.8,564.1 647.8,568.4 652.8,572.5 657.8,576.5 662.8,580.1 667.8,583.4 672.8,586.3 677.8,589.4 682.8,592.4 687.8,595.1 692.8,597.1 697.8,598.2 702.8,598.2 707.8,597.5 712.8,596.5 717.8,595.4 722.8,594.3 727.8,593.1 732.8,591.8 737.8,590.5 742.8,589.3 747.8,588.3 752.8,587.4 757.8,586.6 762.8,585.8 767.8,585.0 772.8,584.4 777.8,583.9 782.8,583.4 787.8,583.0 792.8,582.5 797.8,582.2 802.8,582.0 807.8,581.8 812.8,581.9 817.8,582.1 822.8,582.6 827.8,583.1 832.8,583.8 837.8,584.6 842.8,586.3 847.8,588.6 852.8,591.4 857.8,594.9 862.8,600.0 867.8,605.8 872.8,613.3 877.8,621.3 882.8,627.6 887.8,633.5 892.8,649.6 1012.8,693.0" fill="none" stroke="#fd974b" stroke-width="1.10" stroke-linejoin="round"/>
<polyline points="72.5,113.9 105.2,113.9 206.3,236.9 265.5,291.9 307.5,326.9 340.1,341.9 366.7,353.9 389.2,364.9 408.6,374.9 425.8,383.9 441.2,391.9 455.1,398.8 467.8,405.7 472.8,408.6 477.8,411.7 482.8,414.8 487.8,418.1 492.8,421.5 497.8,425.0 502.8,428.6 507.8,432.3 512.8,436.3 517.8,440.4 522.8,444.7 527.8,449.1 532.8,453.7 537.8,458.3 542.8,463.0 547.8,467.7 552.8,472.5 557.8,477.4 562.8,482.5 567.8,487.7 572.8,492.9 577.8,498.1 582.8,503.3 587.8,508.5 592.8,513.7 597.8,519.1 602.8,524.5 607.8,529.9 612.8,535.3 617.8,540.5 622.8,545.6 627.8,550.4 632.8,555.1 637.8,559.7 642.8,564.3 647.8,568.8 652.8,573.1 657.8,577.1 662.8,580.9 667.8,584.2 672.8,587.2 677.8,590.3 682.8,593.2 687.8,595.9 692.8,597.8 697.8,598.8 702.8,598.7 707.8,597.9 712.8,596.7 717.8,595.4 722.8,594.3 727.8,593.0 732.8,591.6 737.8,590.3 742.8,589.2 747.8,588.2 752.8,587.3 757.8,586.4 762.8,585.6 767.8,584.9 772.8,584.3 777.8,583.8 782.8,583.3 787.8,582.8 792.8,582.4 797.8,582.1 802.8,581.8 807.8,581.7 812.8,581.8 817.8,582.0 822.8,582.4 827.8,583.0 832.8,583.6 837.8,584.5 842.8,586.1 847.8,588.4 852.8,591.2 857.8,594.7 862.8,599.8 867.8,605.6 872.8,613.1 877.8,621.1 882.8,627.4 887.8,633.2 892.8,649.4 1012.8,692.9" fill="none" stroke="#fd9547" stroke-width="1.10" stroke-linejoin="round"/>
<polyline points="72.5,110.3 105.2,112.1 206.3,243.7 265.5,295.8 307.5,330.4 340.1,345.6 366.7,357.7 389.2,368.4 408.6,377.9 425.8,386.0 441.2,393.0 455.1,399.4 467.8,405.7 472.8,408.3 477.8,411.0 482.8,413.8 487.8,416.7 492.8,419.8 497.8,422.9 502.8,426.2 507.8,429.7 512.8,433.5 517.8,437.4 522.8,441.5 527.8,445.9 532.8,450.3 537.8,454.9 542.8,459.6 547.8,464.4 552.8,469.3 557.8,474.4 562.8,479.6 567.8,484.9 572.8,490.3 577.8,495.7 582.8,501.2 587.8,506.6 592.8,512.1 597.8,517.8 602.8,523.5 607.8,529.1 612.8,534.8 617.8,540.3 622.8,545.6 627.8,550.7 632.8,555.6 637.8,560.4 642.8,565.2 647.8,569.9 652.8,574.3 657.8,578.4 662.8,582.1 667.8,585.4 672.8,588.4 677.8,591.3 682.8,594.2 687.8,596.6 692.8,598.3 697.8,598.9 702.8,598.6 707.8,597.6 712.8,596.3 717.8,595.0 722.8,593.9 727.8,592.7 732.8,591.4 737.8,590.2 742.8,589.1 747.8,588.1 752.8,587.2 757.8,586.4 762.8,585.6 767.8,584.8 772.8,584.2 777.8,583.7 782.8,583.2 787.8,582.8 792.8,582.3 797.8,582.0 802.8,581.7 807.8,581.6 812.8,581.7 817.8,581.9 822.8,582.3 827.8,582.9 832.8,583.5 837.8,584.4 842.8,586.0 847.8,588.3 852.8,591.1 857.8,594.6 862.8,599.6 867.8,605.5 872.8,612.9 877.8,621.0 882.8,627.3 887.8,633.1 892.8,649.1 1012.8,692.8" fill="none" stroke="#fd9344" stroke-width="1.10" stroke-linejoin="round"/>
<polyline points="72.5,116.0 105.2,116.9 206.3,247.2 265.5,298.8 307.5,332.5 340.1,345.4 366.7,355.3 389.2,364.5 408.6,373.5 425.8,381.8 441.2,389.5 455.1,397.5 467.8,405.3 472.8,408.5 477.8,411.7 482.8,414.9 487.8,418.3 492.8,421.7 497.8,425.3 502.8,429.0 507.8,432.9 512.8,436.9 517.8,441.2 522.8,445.6 527.8,450.2 532.8,454.8 537.8,459.6 542.8,464.3 547.8,469.1 552.8,474.0 557.8,479.0 562.8,484.2 567.8,489.4 572.8,494.6 577.8,499.9 582.8,505.1 587.8,510.4 592.8,515.6 597.8,521.0 602.8,526.5 607.8,531.9 612.8,537.4 617.8,542.7 622.8,547.8 627.8,552.7 632.8,557.4 637.8,562.2 642.8,566.9 647.8,571.5 652.8,575.8 657.8,579.9 662.8,583.5 667.8,586.8 672.8,589.7 677.8,592.6 682.8,595.3 687.8,597.6 692.8,599.0 697.8,599.4 702.8,598.7 707.8,597.5 712.8,596.1 717.8,594.7 722.8,593.6 727.8,592.4 732.8,591.2 737.8,590.1 742.8,589.0 747.8,588.1 752.8,587.2 757.8,586.3 762.8,585.5 767.8,584.8 772.8,584.1 777.8,583.6 782.8,583.1 787.8,582.7 792.8,582.2 797.8,581.9 802.8,581.7 807.8,581.5 812.8,581.6 817.8,581.8 822.8,582.2 827.8,582.8 832.8,583.4 837.8,584.3 842.8,585.9 847.8,588.2 852.8,591.0 857.8,594.5 862.8,599.5 867.8,605.4 872.8,612.8 877.8,620.8 882.8,627.2 887.8,632.9 892.8,648.9 1012.8,692.7" fill="none" stroke="#fd9142" stroke-width="1.10" stroke-linejoin="round"/>
<polyline points="72.5,117.9 105.2,116.9 206.3,245.9 265.5,294.1 307.5,329.0 340.1,344.4 366.7,356.8 389.2,367.9 408.6,378.6 425.8,387.8 441.2,396.1 455.1,404.8 467.8,413.1 472.8,416.3 477.8,419.5 482.8,422.6 487.8,425.9 492.8,429.2 497.8,432.6 502.8,436.2 507.8,439.9 512.8,443.8 517.8,447.9 522.8,452.2 527.8,456.5 532.8,461.0 537.8,465.6 542.8,470.2 547.8,474.8 552.8,479.5 557.8,484.3 562.8,489.3 567.8,494.3 572.8,499.3 577.8,504.4 582.8,509.5 587.8,514.5 592.8,519.5 597.8,524.7 602.8,529.9 607.8,535.1 612.8,540.3 617.8,545.3 622.8,550.2 627.8,554.8 632.8,559.2 637.8,563.6 642.8,568.0 647.8,572.2 652.8,576.3 657.8,580.1 662.8,583.4 667.8,586.4 672.8,589.2 677.8,591.9 682.8,594.5 687.8,596.6 692.8,597.8 697.8,598.1 702.8,597.4 707.8,596.3 712.8,595.2 717.8,594.2 722.8,593.3 727.8,592.2 732.8,591.0 737.8,589.9 742.8,588.9 747.8,588.0 752.8,587.1 757.8,586.3 762.8,585.4 767.8,584.7 772.8,584.1 777.8,583.5 782.8,583.1 787.8,582.6 792.8,582.2 797.8,581.8 802.8,581.6 807.8,581.5 812.8,581.5 817.8,581.8 822.8,582.2 827.8,582.7 832.8,583.3 837.8,584.2 842.8,585.8 847.8,588.1 852.8,590.9 857.8,594.4 862.8,599.4 867.8,605.2 872.8,612.6 877.8,620.7 882.8,627.0 887.8,632.8 892.8,648.7 897.8,655.2 1012.8,692.6" fill="none" stroke="#fd8f3f" stroke-width="1.10" stroke-linejoin="round"/>
<polyline points="72.5,114.2 105.2,116.4 206.3,253.7 265.5,300.2 307.5,335.5 340.1,350.7 366.7,361.9 389.2,371.2 408.6,380.0 425.8,387.2 441.2,393.8 455.1,401.7 467.8,409.3 472.8,412.2 477.8,415.0 482.8,417.9 487.8,420.9 492.8,424.0 497.8,427.2 502.8,430.7 507.8,434.4 512.8,438.3 517.8,442.4 522.8,446.8 527.8,451.3 532.8,455.9 537.8,460.7 542.8,465.5 547.8,470.4 552.8,475.3 557.8,480.5 562.8,485.7 567.8,491.0 572.8,496.4 577.8,501.8 582.8,507.2 587.8,512.5 592.8,517.8 597.8,523.3 602.8,528.8 607.8,534.3 612.8,539.7 617.8,545.0 622.8,550.1 627.8,554.9 632.8,559.4 637.8,564.0 642.8,568.6 647.8,573.0 652.8,577.2 657.8,581.0 662.8,584.4 667.8,587.4 672.8,590.2 677.8,592.9 682.8,595.3 687.8,597.3 692.8,598.3 697.8,598.3 702.8,597.4 707.8,596.1 712.8,594.9 717.8,593.9 722.8,592.9 727.8,591.9 732.8,590.8 737.8,589.8 742.8,588.8 747.8,588.0 752.8,587.1 757.8,586.2 762.8,585.4 767.8,584.6 772.8,584.0 777.8,583.5 782.8,583.0 787.8,582.5 792.8,582.1 797.8,581.7 802.8,581.5 807.8,581.4 812.8,581.4 817.8,581.7 822.8,582.1 827.8,582.6 832.8,583.3 837.8,584.1 842.8,585.7 847.8,588.0 852.8,590.8 857.8,594.2 862.8,599.2 867.8,605.1 872.8,612.5 877.8,620.6 882.8,626.9 887.8,632.7 892.8,648.5 897.8,655.0 1012.8,692.6" fill="none" stroke="#fd8d3c" stroke-width="1.10" stroke-linejoin="round"/>
<polyline points="72.5,115.8 105.2,113.3 206.3,258.4 265.5,307.4 307.5,338.6 340.1,349.3 366.7,358.3 389.2,367.7 408.6,378.2 425.8,387.5 441.2,396.2 455.1,406.4 467.8,415.7 472.8,418.9 477.8,422.1 482.8,425.1 487.8,428.2 492.8,431.2 497.8,434.3 502.8,437.6 507.8,440.9 512.8,444.4 517.8,448.1 522.8,451.9 527.8,455.8 532.8,459.8 537.8,463.8 542.8,467.9 547.8,472.0 552.8,476.2 557.8,480.5 562.8,485.0 567.8,489.6 572.8,494.3 577.8,499.0 582.8,503.9 587.8,508.7 592.8,513.7 597.8,518.8 602.8,524.1 607.8,529.5 612.8,534.9 617.8,540.3 622.8,545.5 627.8,550.6 632.8,555.6 637.8,560.6 642.8,565.8 647.8,571.0 652.8,576.0 657.8,580.4 662.8,584.4 667.8,587.9 672.8,591.1 677.8,594.1 682.8,596.7 687.8,598.6 692.8,599.4 697.8,599.1 702.8,597.9 707.8,596.3 712.8,594.9 717.8,593.6 722.8,592.6 727.8,591.6 732.8,590.6 737.8,589.7 742.8,588.7 747.8,587.9 752.8,587.0 757.8,586.1 762.8,585.3 767.8,584.6 772.8,583.9 777.8,583.4 782.8,582.9 787.8,582.4 792.8,582.0 797.8,581.7 802.8,581.4 807.8,581.3 812.8,581.3 817.8,581.6 822.8,582.0 827.8,582.5 832.8,583.2 837.8,584.0 842.8,585.6 847.8,587.9 852.8,590.7 857.8,594.1 862.8,599.1 867.8,605.0 872.8,612.3 877.8,620.4 882.8,626.8 887.8,632.5 892.8,648.2 897.8,654.9 1012.8,692.5" fill="none" stroke="#fc8b3a" stroke-width="1.10" stroke-linejoin="round"/>
<polyline points="72.5,121.4 105.2,121.7 206.3,264.3 265.5,301.9 307.5,331.4 340.1,343.9 366.7,354.9 389.2,365.5 408.6,376.7 425.8,386.1 441.2,394.6 455.1,405.1 467.8,414.8 472.8,418.1 477.8,421.3 482.8,424.4 487.8,427.6 492.8,430.8 497.8,434.1 502.8,437.6 507.8,441.3 512.8,445.2 517.8,449.3 522.8,453.6 527.8,458.0 532.8,462.6 537.8,467.2 542.8,471.9 547.8,476.7 552.8,481.6 557.8,486.6 562.8,491.8 567.8,497.1 572.8,502.4 577.8,507.8 582.8,513.2 587.8,518.6 592.8,524.1 597.8,529.7 602.8,535.3 607.8,541.0 612.8,546.6 617.8,552.1 622.8,557.4 627.8,562.4 632.8,567.2 637.8,572.1 642.8,576.6 647.8,580.9 652.8,584.8 657.8,588.3 662.8,591.2 667.8,593.7 672.8,595.9 677.8,598.0 682.8,599.7 687.8,600.8 692.8,600.9 697.8,599.9 702.8,598.1 707.8,596.1 712.8,594.5 717.8,593.2 722.8,592.3 727.8,591.3 732.8,590.4 737.8,589.5 742.8,588.7 747.8,587.8 752.8,587.0 757.8,586.1 762.8,585.3 767.8,584.5 772.8,583.8 777.8,583.3 782.8,582.8 787.8,582.4 792.8,581.9 797.8,581.6 802.8,581.3 807.8,581.2 812.8,581.3 817.8,581.5 822.8,581.9 827.8,582.4 832.8,583.1 837.8,583.9 842.8,585.5 847.8,587.8 852.8,590.6 857.8,594.0 862.8,599.0 867.8,604.8 872.8,612.2 877.8,620.3 882.8,626.7 887.8,632.4 892.8,648.0 897.8,654.8 1012.8,692.4" fill="none" stroke="#fc8937" stroke-width="1.10" stroke-linejoin="round"/>
<polyline points="72.5,125.4 105.2,125.7 206.3,262.6 265.5,298.3 307.5,331.3 340.1,346.2 366.7,357.9 389.2,368.1 408.6,378.7 425.8,387.5 441.2,395.7 455.1,406.7 467.8,416.9 472.8,420.5 477.8,423.9 482.8,427.2 487.8,430.6 492.8,434.1 497.8,437.7 502.8,441.4 507.8,445.5 512.8,449.7 517.8,454.2 522.8,458.8 527.8,463.5 532.8,468.4 537.8,473.3 542.8,478.3 547.8,483.3 552.8,488.3 557.8,493.5 562.8,498.7 567.8,504.0 572.8,509.3 577.8,514.6 582.8,519.9 587.8,525.1 592.8,530.2 597.8,535.5 602.8,540.8 607.8,546.0 612.8,551.2 617.8,556.2 622.8,560.9 627.8,565.4 632.8,569.6 637.8,573.8 642.8,577.8 647.8,581.5 652.8,584.9 657.8,587.9 662.8,590.5 667.8,592.7 672.8,594.8 677.8,596.7 682.8,598.4 687.8,599.4 692.8,599.4 697.8,598.4 702.8,596.7 707.8,594.9 712.8,593.6 717.8,592.7 722.8,591.9 727.8,591.1 732.8,590.2 737.8,589.4 742.8,588.6 747.8,587.8 752.8,586.9 757.8,586.0 762.8,585.2 767.8,584.4 772.8,583.7 777.8,583.2 782.8,582.7 787.8,582.3 792.8,581.8 797.8,581.5 802.8,581.2 807.8,581.1 812.8,581.2 817.8,581.4 822.8,581.8 827.8,582.3 832.8,583.0 837.8,583.8 842.8,585.4 847.8,587.7 852.8,590.4 857.8,593.9 862.8,598.9 867.8,604.7 872.8,612.0 877.8,620.1 882.8,626.5 887.8,632.2 892.8,647.8 897.8,654.7 1012.8,692.3" fill="none" stroke="#fb8735" stroke-width="1.10" stroke-linejoin="round"/>
<polyline points="72.5,120.1 105.2,121.2 206.3,270.7 265.5,305.0 307.5,336.3 340.1,350.1 366.7,361.5 389.2,371.5 408.6,382.0 425.8,390.2 441.2,397.8 455.1,408.5 467.8,418.1 472.8,421.2 477.8,424.2 482.8,427.1 487.8,430.0 492.8,433.0 497.8,436.0 502.8,439.3 507.8,442.9 512.8,446.7 517.8,450.7 522.8,454.9 527.8,459.3 532.8,463.9 537.8,468.5 542.8,473.2 547.8,478.0 552.8,482.9 557.8,487.9 562.8,493.1 567.8,498.4 572.8,503.8 577.8,509.1 582.8,514.6 587.8,519.9 592.8,525.4 597.8,530.9 602.8,536.5 607.8,542.1 612.8,547.7 617.8,553.1 622.8,558.2 627.8,563.1 632.8,567.8 637.8,572.5 642.8,577.0 647.8,581.2 652.8,585.1 657.8,588.5 662.8,591.3 667.8,593.7 672.8,595.9 677.8,597.9 682.8,599.5 687.8,600.5 692.8,600.2 697.8,598.8 702.8,596.8 707.8,594.8 712.8,593.4 717.8,592.4 722.8,591.6 727.8,590.8 732.8,590.0 737.8,589.3 742.8,588.5 747.8,587.7 752.8,586.9 757.8,586.0 762.8,585.1 767.8,584.3 772.8,583.7 777.8,583.1 782.8,582.7 787.8,582.2 792.8,581.8 797.8,581.4 802.8,581.2 807.8,581.0 812.8,581.1 817.8,581.3 822.8,581.7 827.8,582.3 832.8,582.9 837.8,583.8 842.8,585.3 847.8,587.6 852.8,590.3 857.8,593.8 862.8,598.7 867.8,604.6 872.8,611.9 877.8,620.0 882.8,626.4 887.8,632.1 892.8,647.6 897.8,654.6 1012.8,692.2" fill="none" stroke="#fa8432" stroke-width="1.10" stroke-linejoin="round"/>
<polyline points="72.5,123.0 105.2,124.4 206.3,277.5 265.5,311.8 307.5,341.3 340.1,351.8 366.7,360.0 389.2,367.8 408.6,377.2 425.8,385.1 441.2,392.8 455.1,404.5 467.8,415.3 472.8,418.8 477.8,422.1 482.8,425.3 487.8,428.5 492.8,431.7 497.8,435.1 502.8,438.6 507.8,442.4 512.8,446.5 517.8,450.7 522.8,455.2 527.8,459.7 532.8,464.4 537.8,469.1 542.8,473.9 547.8,478.8 552.8,483.7 557.8,488.8 562.8,493.9 567.8,499.2 572.8,504.5 577.8,509.8 582.8,515.2 587.8,520.5 592.8,525.9 597.8,531.4 602.8,537.0 607.8,542.6 612.8,548.1 617.8,553.6 622.8,558.8 627.8,563.8 632.8,568.6 637.8,573.4 642.8,578.1 647.8,582.6 652.8,586.6 657.8,590.2 662.8,593.0 667.8,595.6 672.8,597.9 677.8,599.9 682.8,601.4 687.8,602.1 692.8,601.5 697.8,599.8 702.8,597.4 707.8,595.1 712.8,593.4 717.8,592.2 722.8,591.3 727.8,590.5 732.8,589.8 737.8,589.1 742.8,588.4 747.8,587.6 752.8,586.8 757.8,585.9 762.8,585.1 767.8,584.3 772.8,583.6 777.8,583.1 782.8,582.6 787.8,582.1 792.8,581.7 797.8,581.3 802.8,581.1 807.8,581.0 812.8,581.0 817.8,581.2 822.8,581.6 827.8,582.2 832.8,582.8 837.8,583.7 842.8,585.2 847.8,587.5 852.8,590.2 857.8,593.6 862.8,598.6 867.8,604.4 872.8,611.7 877.8,619.8 882.8,626.3 887.8,631.9 892.8,647.4 897.8,654.5 1012.8,692.1" fill="none" stroke="#f98230" stroke-width="1.10" stroke-linejoin="round"/>
<polyline points="72.5,124.8 105.2,125.8 206.3,276.2 265.5,307.9 307.5,340.3 340.1,353.6 366.7,363.5 389.2,372.0 408.6,381.6 425.8,389.3 441.2,396.7 455.1,408.8 467.8,419.8 472.8,423.3 477.8,426.6 482.8,429.8 487.8,433.0 492.8,436.2 497.8,439.6 502.8,443.2 507.8,447.0 512.8,451.2 517.8,455.5 522.8,460.0 527.8,464.6 532.8,469.4 537.8,474.2 542.8,479.1 547.8,484.0 552.8,488.9 557.8,494.0 562.8,499.1 567.8,504.3 572.8,509.6 577.8,514.8 582.8,520.0 587.8,525.2 592.8,530.4 597.8,535.6 602.8,541.0 607.8,546.3 612.8,551.5 617.8,556.5 622.8,561.3 627.8,565.9 632.8,570.2 637.8,574.6 642.8,578.8 647.8,582.8 652.8,586.5 657.8,589.7 662.8,592.3 667.8,594.6 672.8,596.7 677.8,598.6 682.8,600.0 687.8,600.7 692.8,600.0 697.8,598.3 702.8,596.0 707.8,593.8 712.8,592.5 717.8,591.6 722.8,590.9 727.8,590.3 732.8,589.6 737.8,589.0 742.8,588.3 747.8,587.6 752.8,586.7 757.8,585.9 762.8,585.0 767.8,584.2 772.8,583.5 777.8,583.0 782.8,582.5 787.8,582.0 792.8,581.6 797.8,581.3 802.8,581.0 807.8,580.9 812.8,580.9 817.8,581.1 822.8,581.5 827.8,582.1 832.8,582.7 837.8,583.6 842.8,585.1 847.8,587.4 852.8,590.1 857.8,593.5 862.8,598.5 867.8,604.3 872.8,611.6 877.8,619.7 882.8,626.2 887.8,631.8 892.8,647.1 897.8,654.4 1012.8,692.1" fill="none" stroke="#f9802d" stroke-width="1.10" stroke-linejoin="round"/>
<polyline points="72.5,127.9 105.2,127.7 206.3,284.5 265.5,310.4 307.5,337.3 340.1,347.9 366.7,357.7 389.2,367.3 408.6,378.8 425.8,388.2 441.2,397.1 455.1,410.7 467.8,422.7 472.8,426.4 477.8,429.8 482.8,433.1 487.8,436.2 492.8,439.4 497.8,442.6 502.8,446.1 507.8,449.8 512.8,453.8 517.8,457.9 522.8,462.3 527.8,466.7 532.8,471.3 537.8,475.9 542.8,480.6 547.8,485.4 552.8,490.2 557.8,495.2 562.8,500.3 567.8,505.5 572.8,510.8 577.8,516.1 582.8,521.5 587.8,526.8 592.8,532.2 597.8,537.8 602.8,543.4 607.8,549.0 612.8,554.6 617.8,560.0 622.8,565.3 627.8,570.2 632.8,575.0 637.8,579.8 642.8,584.3 647.8,588.4 652.8,592.1 657.8,595.1 662.8,597.5 667.8,599.5 672.8,601.3 677.8,602.8 682.8,603.7 687.8,603.8 692.8,602.5 697.8,600.0 702.8,597.0 707.8,594.3 712.8,592.6 717.8,591.4 722.8,590.6 727.8,590.0 732.8,589.4 737.8,588.9 742.8,588.2 747.8,587.5 752.8,586.7 757.8,585.8 762.8,585.0 767.8,584.1 772.8,583.4 777.8,582.9 782.8,582.4 787.8,582.0 792.8,581.5 797.8,581.2 802.8,580.9 807.8,580.8 812.8,580.8 817.8,581.1 822.8,581.5 827.8,582.0 832.8,582.6 837.8,583.5 842.8,585.0 847.8,587.3 852.8,590.0 857.8,593.4 862.8,598.3 867.8,604.2 872.8,611.4 877.8,619.5 882.8,626.0 887.8,631.6 892.8,646.9 897.8,654.2 1012.8,692.0" fill="none" stroke="#f87e2b" stroke-width="1.10" stroke-linejoin="round"/>
<polyline points="72.5,127.9 105.2,127.9 206.3,283.9 265.5,311.9 307.5,342.9 340.1,354.9 366.7,363.9 389.2,371.9 408.6,381.9 425.8,389.9 441.2,397.9 455.1,411.5 467.8,423.8 472.8,427.6 477.8,431.0 482.8,434.3 487.8,437.5 492.8,440.8 497.8,444.2 502.8,447.7 507.8,451.6 512.8,455.7 517.8,460.0 522.8,464.5 527.8,469.1 532.8,473.7 537.8,478.5 542.8,483.2 547.8,488.0 552.8,492.8 557.8,497.7 562.8,502.7 567.8,507.8 572.8,512.8 577.8,517.9 582.8,523.0 587.8,528.0 592.8,533.1 597.8,538.2 602.8,543.5 607.8,548.7 612.8,553.8 617.8,558.8 622.8,563.6 627.8,568.1 632.8,572.4 637.8,576.8 642.8,581.1 647.8,585.2 652.8,588.8 657.8,592.0 662.8,594.5 667.8,596.7 672.8,598.7 677.8,600.4 682.8,601.6 687.8,601.9 692.8,600.7 697.8,598.4 702.8,595.6 707.8,593.1 712.8,591.7 717.8,590.9 722.8,590.3 727.8,589.7 732.8,589.2 737.8,588.7 742.8,588.1 747.8,587.5 752.8,586.6 757.8,585.8 762.8,584.9 767.8,584.1 772.8,583.4 777.8,582.8 782.8,582.3 787.8,581.9 792.8,581.4 797.8,581.1 802.8,580.8 807.8,580.7 812.8,580.7 817.8,581.0 822.8,581.4 827.8,581.9 832.8,582.5 837.8,583.4 842.8,584.9 847.8,587.2 852.8,589.9 857.8,593.3 862.8,598.2 867.8,604.0 872.8,611.3 877.8,619.4 882.8,625.9 887.8,631.5 892.8,646.7 897.8,654.1 1012.8,691.9" fill="none" stroke="#f77c28" stroke-width="1.10" stroke-linejoin="round"/>
<polyline points="72.5,141.9 105.2,141.9 206.3,283.9 265.5,311.9 307.5,342.9 340.1,354.9 366.7,363.9 389.2,371.9 408.6,381.9 425.8,389.9 441.2,397.9 455.1,411.5 467.8,423.8 472.8,427.6 477.8,431.0 482.8,434.3 487.8,437.5 492.8,440.8 497.8,444.2 502.8,447.7 507.8,451.6 512.8,455.7 517.8,460.0 522.8,464.5 527.8,469.1 532.8,473.7 537.8,478.5 542.8,483.2 547.8,488.0 552.8,492.8 557.8,497.7 562.8,502.7 567.8,507.8 572.8,512.8 577.8,517.9 582.8,523.0 587.8,528.0 592.8,533.1 597.8,538.2 602.8,543.5 607.8,548.7 612.8,553.8 617.8,558.8 622.8,563.6 627.8,568.1 632.8,572.4 637.8,576.8 642.8,581.1 647.8,585.2 652.8,588.8 657.8,592.0 662.8,594.5 667.8,596.7 672.8,598.7 677.8,600.4 682.8,601.6 687.8,601.9 692.8,600.7 697.8,598.4 702.8,595.6 707.8,593.1 712.8,591.7 717.8,590.9 722.8,590.3 727.8,589.7 732.8,589.2 737.8,588.7 742.8,588.1 747.8,587.5 752.8,586.6 757.8,585.8 762.8,584.9 767.8,584.1 772.8,583.4 777.8,582.8 782.8,582.3 787.8,581.9 792.8,581.4 797.8,581.1 802.8,580.8 807.8,580.7 812.8,580.7 817.8,581.0 822.8,581.4 827.8,581.9 832.8,582.5 837.8,583.4 842.8,584.9 847.8,587.2 852.8,589.9 857.8,593.3 862.8,598.2 867.8,604.0 872.8,611.3 877.8,619.4 882.8,625.9 887.8,631.5 892.8,646.7 897.8,654.1 1012.8,691.9" fill="none" stroke="#f3701b" stroke-width="1.10" stroke-linejoin="round"/>
<polyline points="704.0,597.6 708.0,601.2 712.0,604.1 716.0,606.2 720.0,607.7 724.0,609.5 728.0,611.6 732.0,613.8 736.0,615.7 740.0,617.2 744.0,617.9 748.0,617.7 752.0,617.3 756.0,616.9 760.0,616.5 764.0,616.1 768.0,615.7 772.0,615.0 776.0,613.9 780.0,612.3 784.0,610.4 788.0,608.3 792.0,606.0 796.0,603.7 800.0,601.4 804.0,599.1 808.0,596.4 812.0,593.6 816.0,590.6 820.0,587.6 824.0,584.6 828.0,581.7 832.0,579.0 836.0,576.4 840.0,573.8 844.0,571.2 848.0,568.7 852.0,566.2 856.0,563.9 860.0,561.6 864.0,559.5 868.0,557.4 872.0,555.4 876.0,553.6 880.0,551.9 884.0,550.6 888.0,549.5 892.0,548.5 896.0,547.7 900.0,547.1 904.0,546.8 908.0,547.1 912.0,547.8 916.0,548.9 920.0,550.1 924.0,551.6 928.0,553.7 932.0,556.4 936.0,559.6 940.0,563.4 944.0,567.8 948.0,573.4 952.0,580.0 956.0,587.6 960.0,596.7 964.0,607.4 968.0,620.5 972.0,635.4 976.0,647.5 980.0,657.7 984.0,668.0 988.0,678.9 992.0,690.0 996.0,699.5 1000.0,707.3 1004.0,713.6 1008.0,717.9 1012.0,720.0" fill="none" stroke="#8cc0dd" stroke-width="4.20" stroke-linejoin="round"/>
<polyline points="704.0,597.7 708.0,601.0 712.0,603.8 716.0,605.8 720.0,607.3 724.0,609.0 728.0,611.0 732.0,613.1 736.0,615.0 740.0,616.4 744.0,617.0 748.0,616.7 752.0,616.3 756.0,615.8 760.0,615.3 764.0,614.9 768.0,614.4 772.0,613.7 776.0,612.5 780.0,610.9 784.0,608.9 788.0,606.8 792.0,604.5 796.0,602.2 800.0,599.9 804.0,597.5 808.0,594.9 812.0,592.0 816.0,589.0 820.0,586.0 824.0,583.0 828.0,580.1 832.0,577.5 836.0,574.8 840.0,572.2 844.0,569.6 848.0,567.1 852.0,564.6 856.0,562.3 860.0,560.0 864.0,557.9 868.0,555.8 872.0,553.8 876.0,551.9 880.0,550.2 884.0,548.9 888.0,547.8 892.0,546.8 896.0,545.9 900.0,545.3 904.0,545.1 908.0,545.3 912.0,546.0 916.0,547.1 920.0,548.3 924.0,549.7 928.0,551.8 932.0,554.4 936.0,557.7 940.0,561.4 944.0,565.8 948.0,571.4 952.0,578.0 956.0,585.5 960.0,594.6 964.0,605.2 968.0,618.2 972.0,633.0 976.0,645.1 980.0,655.4 984.0,665.9 988.0,677.1 992.0,688.6 996.0,698.6 1000.0,706.6 1004.0,713.2 1008.0,717.8 1012.0,720.0" fill="none" stroke="#86bddc" stroke-width="4.20" stroke-linejoin="round"/>
<polyline points="704.0,597.7 708.0,600.8 712.0,603.4 716.0,605.4 720.0,606.8 724.0,608.5 728.0,610.4 732.0,612.5 736.0,614.3 740.0,615.6 744.0,616.1 748.0,615.7 752.0,615.2 756.0,614.7 760.0,614.2 764.0,613.6 768.0,613.1 772.0,612.3 776.0,611.1 780.0,609.4 784.0,607.5 788.0,605.3 792.0,603.0 796.0,600.6 800.0,598.4 804.0,596.0 808.0,593.3 812.0,590.4 816.0,587.5 820.0,584.4 824.0,581.5 828.0,578.6 832.0,575.9 836.0,573.3 840.0,570.7 844.0,568.1 848.0,565.5 852.0,563.0 856.0,560.7 860.0,558.4 864.0,556.3 868.0,554.2 872.0,552.1 876.0,550.2 880.0,548.6 884.0,547.2 888.0,546.1 892.0,545.1 896.0,544.2 900.0,543.6 904.0,543.3 908.0,543.6 912.0,544.2 916.0,545.2 920.0,546.4 924.0,547.8 928.0,549.9 932.0,552.5 936.0,555.7 940.0,559.5 944.0,563.9 948.0,569.4 952.0,576.0 956.0,583.5 960.0,592.5 964.0,603.1 968.0,616.0 972.0,630.7 976.0,642.8 980.0,653.0 984.0,663.7 988.0,675.2 992.0,687.3 996.0,697.6 1000.0,706.0 1004.0,712.8 1008.0,717.6 1012.0,720.0" fill="none" stroke="#80b9db" stroke-width="4.20" stroke-linejoin="round"/>
<polyline points="704.0,597.8 708.0,600.6 712.0,603.1 716.0,605.0 720.0,606.4 724.0,608.0 728.0,609.9 732.0,611.8 736.0,613.6 740.0,614.8 744.0,615.2 748.0,614.8 752.0,614.2 756.0,613.6 760.0,613.0 764.0,612.4 768.0,611.8 772.0,611.0 776.0,609.7 780.0,608.0 784.0,606.0 788.0,603.8 792.0,601.5 796.0,599.1 800.0,596.8 804.0,594.4 808.0,591.7 812.0,588.9 816.0,585.9 820.0,582.9 824.0,579.9 828.0,577.0 832.0,574.4 836.0,571.7 840.0,569.1 844.0,566.5 848.0,563.9 852.0,561.5 856.0,559.1 860.0,556.8 864.0,554.6 868.0,552.5 872.0,550.5 876.0,548.6 880.0,546.9 884.0,545.5 888.0,544.4 892.0,543.4 896.0,542.5 900.0,541.8 904.0,541.6 908.0,541.8 912.0,542.4 916.0,543.4 920.0,544.6 924.0,546.0 928.0,548.0 932.0,550.6 936.0,553.8 940.0,557.5 944.0,561.9 948.0,567.4 952.0,573.9 956.0,581.4 960.0,590.4 964.0,600.9 968.0,613.7 972.0,628.3 976.0,640.4 980.0,650.7 984.0,661.5 988.0,673.4 992.0,685.9 996.0,696.6 1000.0,705.3 1004.0,712.4 1008.0,717.4 1012.0,720.0" fill="none" stroke="#7cb8da" stroke-width="4.20" stroke-linejoin="round"/>
<polyline points="704.0,597.8 708.0,600.4 712.0,602.8 716.0,604.6 720.0,605.9 724.0,607.5 728.0,609.3 732.0,611.2 736.0,612.9 740.0,614.0 744.0,614.3 748.0,613.8 752.0,613.2 756.0,612.5 760.0,611.9 764.0,611.2 768.0,610.5 772.0,609.6 776.0,608.3 780.0,606.6 784.0,604.6 788.0,602.3 792.0,600.0 796.0,597.6 800.0,595.3 804.0,592.8 808.0,590.2 812.0,587.3 816.0,584.3 820.0,581.3 824.0,578.4 828.0,575.5 832.0,572.8 836.0,570.2 840.0,567.5 844.0,564.9 848.0,562.4 852.0,559.9 856.0,557.5 860.0,555.2 864.0,553.0 868.0,550.9 872.0,548.8 876.0,546.9 880.0,545.2 884.0,543.8 888.0,542.7 892.0,541.6 896.0,540.7 900.0,540.1 904.0,539.8 908.0,540.0 912.0,540.6 916.0,541.6 920.0,542.7 924.0,544.1 928.0,546.1 932.0,548.7 936.0,551.8 940.0,555.5 944.0,559.9 948.0,565.4 952.0,571.9 956.0,579.3 960.0,588.3 964.0,598.8 968.0,611.5 972.0,625.9 976.0,638.0 980.0,648.4 984.0,659.4 988.0,671.5 992.0,684.5 996.0,695.6 1000.0,704.6 1004.0,712.0 1008.0,717.3 1012.0,720.0" fill="none" stroke="#79b6d9" stroke-width="4.20" stroke-linejoin="round"/>
<polyline points="704.0,597.9 708.0,600.2 712.0,602.4 716.0,604.2 720.0,605.5 724.0,607.0 728.0,608.7 732.0,610.6 736.0,612.1 740.0,613.2 744.0,613.4 748.0,612.8 752.0,612.1 756.0,611.5 760.0,610.7 764.0,610.0 768.0,609.2 772.0,608.3 776.0,606.9 780.0,605.1 784.0,603.1 788.0,600.9 792.0,598.5 796.0,596.1 800.0,593.7 804.0,591.3 808.0,588.6 812.0,585.7 816.0,582.8 820.0,579.8 824.0,576.8 828.0,574.0 832.0,571.3 836.0,568.6 840.0,566.0 844.0,563.4 848.0,560.8 852.0,558.3 856.0,555.9 860.0,553.6 864.0,551.4 868.0,549.3 872.0,547.2 876.0,545.3 880.0,543.6 884.0,542.1 888.0,541.0 892.0,539.9 896.0,539.0 900.0,538.4 904.0,538.1 908.0,538.2 912.0,538.8 916.0,539.8 920.0,540.9 924.0,542.2 928.0,544.2 932.0,546.7 936.0,549.9 940.0,553.6 944.0,557.9 948.0,563.4 952.0,569.9 956.0,577.3 960.0,586.2 964.0,596.6 968.0,609.2 972.0,623.5 976.0,635.6 980.0,646.1 984.0,657.2 988.0,669.7 992.0,683.2 996.0,694.6 1000.0,703.9 1004.0,711.6 1008.0,717.1 1012.0,720.0" fill="none" stroke="#76b4d8" stroke-width="4.20" stroke-linejoin="round"/>
<polyline points="704.0,597.9 708.0,600.0 712.0,602.1 716.0,603.8 720.0,605.0 724.0,606.5 728.0,608.2 732.0,609.9 736.0,611.4 740.0,612.4 744.0,612.5 748.0,611.9 752.0,611.1 756.0,610.4 760.0,609.6 764.0,608.8 768.0,607.9 772.0,606.9 776.0,605.5 780.0,603.7 784.0,601.7 788.0,599.4 792.0,597.0 796.0,594.5 800.0,592.2 804.0,589.7 808.0,587.0 812.0,584.2 816.0,581.2 820.0,578.2 824.0,575.3 828.0,572.4 832.0,569.7 836.0,567.1 840.0,564.4 844.0,561.8 848.0,559.2 852.0,556.7 856.0,554.3 860.0,552.0 864.0,549.8 868.0,547.6 872.0,545.5 876.0,543.6 880.0,541.9 884.0,540.5 888.0,539.3 892.0,538.2 896.0,537.3 900.0,536.6 904.0,536.3 908.0,536.4 912.0,537.0 916.0,537.9 920.0,539.0 924.0,540.4 928.0,542.3 932.0,544.8 936.0,547.9 940.0,551.6 944.0,555.9 948.0,561.4 952.0,567.8 956.0,575.2 960.0,584.2 964.0,594.5 968.0,607.0 972.0,621.2 976.0,633.2 980.0,643.8 984.0,655.0 988.0,667.8 992.0,681.8 996.0,693.6 1000.0,703.2 1004.0,711.2 1008.0,716.9 1012.0,720.0" fill="none" stroke="#73b2d8" stroke-width="4.20" stroke-linejoin="round"/>
<polyline points="704.0,597.9 708.0,599.8 712.0,601.7 716.0,603.4 720.0,604.6 724.0,606.0 728.0,607.6 732.0,609.3 736.0,610.7 740.0,611.6 744.0,611.6 748.0,610.9 752.0,610.1 756.0,609.3 760.0,608.4 764.0,607.5 768.0,606.6 772.0,605.6 776.0,604.1 780.0,602.3 784.0,600.2 788.0,597.9 792.0,595.5 796.0,593.0 800.0,590.6 804.0,588.2 808.0,585.5 812.0,582.6 816.0,579.6 820.0,576.7 824.0,573.7 828.0,570.9 832.0,568.2 836.0,565.5 840.0,562.9 844.0,560.2 848.0,557.7 852.0,555.1 856.0,552.7 860.0,550.4 864.0,548.2 868.0,546.0 872.0,543.9 876.0,542.0 880.0,540.2 884.0,538.8 888.0,537.6 892.0,536.5 896.0,535.6 900.0,534.9 904.0,534.6 908.0,534.7 912.0,535.2 916.0,536.1 920.0,537.2 924.0,538.5 928.0,540.4 932.0,542.9 936.0,546.0 940.0,549.6 944.0,554.0 948.0,559.4 952.0,565.8 956.0,573.2 960.0,582.1 964.0,592.4 968.0,604.8 972.0,618.8 976.0,630.8 980.0,641.4 984.0,652.9 988.0,666.0 992.0,680.5 996.0,692.7 1000.0,702.5 1004.0,710.8 1008.0,716.8 1012.0,720.0" fill="none" stroke="#6fb0d7" stroke-width="4.20" stroke-linejoin="round"/>
<polyline points="704.0,598.0 708.0,599.7 712.0,601.4 716.0,603.0 720.0,604.1 724.0,605.5 728.0,607.0 732.0,608.6 736.0,610.0 740.0,610.8 744.0,610.7 748.0,609.9 752.0,609.1 756.0,608.2 760.0,607.3 764.0,606.3 768.0,605.3 772.0,604.2 776.0,602.7 780.0,600.9 784.0,598.7 788.0,596.4 792.0,594.0 796.0,591.5 800.0,589.1 804.0,586.6 808.0,583.9 812.0,581.0 816.0,578.1 820.0,575.1 824.0,572.2 828.0,569.3 832.0,566.6 836.0,564.0 840.0,561.3 844.0,558.7 848.0,556.1 852.0,553.5 856.0,551.1 860.0,548.8 864.0,546.5 868.0,544.3 872.0,542.3 876.0,540.3 880.0,538.5 884.0,537.1 888.0,535.9 892.0,534.8 896.0,533.8 900.0,533.1 904.0,532.8 908.0,532.9 912.0,533.4 916.0,534.3 920.0,535.4 924.0,536.6 928.0,538.5 932.0,541.0 936.0,544.0 940.0,547.7 944.0,552.0 948.0,557.4 952.0,563.8 956.0,571.1 960.0,580.0 964.0,590.2 968.0,602.5 972.0,616.4 976.0,628.4 980.0,639.1 984.0,650.7 988.0,664.2 992.0,679.1 996.0,691.7 1000.0,701.9 1004.0,710.4 1008.0,716.6 1012.0,720.0" fill="none" stroke="#6cafd6" stroke-width="4.20" stroke-linejoin="round"/>
<polyline points="704.0,598.0 708.0,599.5 712.0,601.0 716.0,602.6 720.0,603.7 724.0,604.9 728.0,606.5 732.0,608.0 736.0,609.2 740.0,610.0 744.0,609.9 748.0,609.0 752.0,608.0 756.0,607.1 760.0,606.1 764.0,605.1 768.0,604.1 772.0,602.9 776.0,601.3 780.0,599.4 784.0,597.3 788.0,594.9 792.0,592.5 796.0,590.0 800.0,587.6 804.0,585.0 808.0,582.3 812.0,579.5 816.0,576.5 820.0,573.6 824.0,570.6 828.0,567.8 832.0,565.1 836.0,562.4 840.0,559.8 844.0,557.1 848.0,554.5 852.0,552.0 856.0,549.5 860.0,547.2 864.0,544.9 868.0,542.7 872.0,540.6 876.0,538.6 880.0,536.9 884.0,535.4 888.0,534.2 892.0,533.1 896.0,532.1 900.0,531.4 904.0,531.1 908.0,531.1 912.0,531.6 916.0,532.5 920.0,533.5 924.0,534.8 928.0,536.6 932.0,539.1 936.0,542.1 940.0,545.7 944.0,550.0 948.0,555.3 952.0,561.7 956.0,569.0 960.0,577.9 964.0,588.1 968.0,600.3 972.0,614.1 976.0,626.0 980.0,636.8 984.0,648.5 988.0,662.3 992.0,677.7 996.0,690.7 1000.0,701.2 1004.0,709.9 1008.0,716.4 1012.0,720.0" fill="none" stroke="#69add5" stroke-width="4.20" stroke-linejoin="round"/>
<polyline points="704.0,598.1 708.0,599.3 712.0,600.7 716.0,602.2 720.0,603.2 724.0,604.4 728.0,605.9 732.0,607.3 736.0,608.5 740.0,609.2 744.0,609.0 748.0,608.0 752.0,607.0 756.0,606.0 760.0,605.0 764.0,603.9 768.0,602.8 772.0,601.5 776.0,599.9 780.0,598.0 784.0,595.8 788.0,593.5 792.0,591.0 796.0,588.5 800.0,586.0 804.0,583.5 808.0,580.7 812.0,577.9 816.0,575.0 820.0,572.0 824.0,569.1 828.0,566.2 832.0,563.5 836.0,560.9 840.0,558.2 844.0,555.6 848.0,552.9 852.0,550.4 856.0,547.9 860.0,545.6 864.0,543.3 868.0,541.1 872.0,539.0 876.0,537.0 880.0,535.2 884.0,533.7 888.0,532.5 892.0,531.4 896.0,530.4 900.0,529.6 904.0,529.3 908.0,529.3 912.0,529.8 916.0,530.7 920.0,531.7 924.0,532.9 928.0,534.7 932.0,537.1 936.0,540.1 940.0,543.7 944.0,548.0 948.0,553.3 952.0,559.7 956.0,567.0 960.0,575.8 964.0,585.9 968.0,598.0 972.0,611.7 976.0,623.7 980.0,634.5 984.0,646.4 988.0,660.5 992.0,676.4 996.0,689.7 1000.0,700.5 1004.0,709.5 1008.0,716.3 1012.0,720.0" fill="none" stroke="#66aad4" stroke-width="4.20" stroke-linejoin="round"/>
<polyline points="704.0,598.1 708.0,599.1 712.0,600.4 716.0,601.7 720.0,602.8 724.0,603.9 728.0,605.3 732.0,606.7 736.0,607.8 740.0,608.4 744.0,608.1 748.0,607.0 752.0,606.0 756.0,604.9 760.0,603.8 764.0,602.7 768.0,601.5 772.0,600.2 776.0,598.5 780.0,596.6 784.0,594.4 788.0,592.0 792.0,589.5 796.0,586.9 800.0,584.5 804.0,581.9 808.0,579.2 812.0,576.3 816.0,573.4 820.0,570.4 824.0,567.5 828.0,564.7 832.0,562.0 836.0,559.3 840.0,556.6 844.0,554.0 848.0,551.4 852.0,548.8 856.0,546.3 860.0,543.9 864.0,541.7 868.0,539.4 872.0,537.3 876.0,535.3 880.0,533.5 884.0,532.0 888.0,530.8 892.0,529.6 896.0,528.6 900.0,527.9 904.0,527.5 908.0,527.6 912.0,528.0 916.0,528.8 920.0,529.8 924.0,531.0 928.0,532.9 932.0,535.2 936.0,538.2 940.0,541.8 944.0,546.0 948.0,551.3 952.0,557.7 956.0,564.9 960.0,573.7 964.0,583.8 968.0,595.8 972.0,609.3 976.0,621.3 980.0,632.2 984.0,644.2 988.0,658.6 992.0,675.0 996.0,688.7 1000.0,699.8 1004.0,709.1 1008.0,716.1 1012.0,720.0" fill="none" stroke="#63a8d3" stroke-width="4.20" stroke-linejoin="round"/>
<polyline points="704.0,598.2 708.0,598.9 712.0,600.0 716.0,601.3 720.0,602.3 724.0,603.4 728.0,604.8 732.0,606.1 736.0,607.1 740.0,607.6 744.0,607.2 748.0,606.1 752.0,605.0 756.0,603.8 760.0,602.7 764.0,601.4 768.0,600.2 772.0,598.8 776.0,597.1 780.0,595.2 784.0,592.9 788.0,590.5 792.0,588.0 796.0,585.4 800.0,582.9 804.0,580.3 808.0,577.6 812.0,574.8 816.0,571.8 820.0,568.9 824.0,566.0 828.0,563.1 832.0,560.4 836.0,557.7 840.0,555.1 844.0,552.4 848.0,549.8 852.0,547.2 856.0,544.7 860.0,542.3 864.0,540.0 868.0,537.8 872.0,535.7 876.0,533.7 880.0,531.9 884.0,530.3 888.0,529.1 892.0,527.9 896.0,526.9 900.0,526.2 904.0,525.8 908.0,525.8 912.0,526.2 916.0,527.0 920.0,528.0 924.0,529.2 928.0,531.0 932.0,533.3 936.0,536.2 940.0,539.8 944.0,544.1 948.0,549.3 952.0,555.6 956.0,562.9 960.0,571.6 964.0,581.6 968.0,593.5 972.0,606.9 976.0,618.9 980.0,629.8 984.0,642.0 988.0,656.8 992.0,673.6 996.0,687.8 1000.0,699.1 1004.0,708.7 1008.0,715.9 1012.0,720.0" fill="none" stroke="#5fa6d1" stroke-width="4.20" stroke-linejoin="round"/>
<polyline points="704.0,598.2 708.0,598.7 712.0,599.7 716.0,600.9 720.0,601.9 724.0,602.9 728.0,604.2 732.0,605.4 736.0,606.4 740.0,606.8 744.0,606.3 748.0,605.1 752.0,603.9 756.0,602.7 760.0,601.5 764.0,600.2 768.0,598.9 772.0,597.5 776.0,595.7 780.0,593.7 784.0,591.5 788.0,589.0 792.0,586.5 796.0,583.9 800.0,581.4 804.0,578.8 808.0,576.0 812.0,573.2 816.0,570.3 820.0,567.3 824.0,564.4 828.0,561.6 832.0,558.9 836.0,556.2 840.0,553.5 844.0,550.9 848.0,548.2 852.0,545.6 856.0,543.1 860.0,540.7 864.0,538.4 868.0,536.2 872.0,534.0 876.0,532.0 880.0,530.2 884.0,528.7 888.0,527.4 892.0,526.2 896.0,525.2 900.0,524.4 904.0,524.0 908.0,524.0 912.0,524.4 916.0,525.2 920.0,526.1 924.0,527.3 928.0,529.1 932.0,531.4 936.0,534.3 940.0,537.9 944.0,542.1 948.0,547.3 952.0,553.6 956.0,560.8 960.0,569.5 964.0,579.5 968.0,591.3 972.0,604.6 976.0,616.5 980.0,627.5 984.0,639.9 988.0,654.9 992.0,672.3 996.0,686.8 1000.0,698.4 1004.0,708.3 1008.0,715.8 1012.0,720.0" fill="none" stroke="#5ca4d0" stroke-width="4.20" stroke-linejoin="round"/>
<polyline points="704.0,598.3 708.0,598.5 712.0,599.3 716.0,600.5 720.0,601.4 724.0,602.4 728.0,603.6 732.0,604.8 736.0,605.6 740.0,606.0 744.0,605.4 748.0,604.1 752.0,602.9 756.0,601.7 760.0,600.4 764.0,599.0 768.0,597.6 772.0,596.1 776.0,594.3 780.0,592.3 784.0,590.0 788.0,587.5 792.0,585.0 796.0,582.4 800.0,579.8 804.0,577.2 808.0,574.5 812.0,571.6 816.0,568.7 820.0,565.8 824.0,562.9 828.0,560.0 832.0,557.3 836.0,554.6 840.0,552.0 844.0,549.3 848.0,546.6 852.0,544.0 856.0,541.5 860.0,539.1 864.0,536.8 868.0,534.5 872.0,532.4 876.0,530.4 880.0,528.5 884.0,527.0 888.0,525.7 892.0,524.5 896.0,523.5 900.0,522.7 904.0,522.3 908.0,522.2 912.0,522.6 916.0,523.4 920.0,524.3 924.0,525.4 928.0,527.2 932.0,529.4 936.0,532.3 940.0,535.9 944.0,540.1 948.0,545.3 952.0,551.6 956.0,558.7 960.0,567.4 964.0,577.3 968.0,589.0 972.0,602.2 976.0,614.1 980.0,625.2 984.0,637.7 988.0,653.1 992.0,670.9 996.0,685.8 1000.0,697.8 1004.0,707.9 1008.0,715.6 1012.0,720.0" fill="none" stroke="#59a2cf" stroke-width="4.20" stroke-linejoin="round"/>
<polyline points="704.0,598.3 708.0,598.3 712.0,599.0 716.0,600.1 720.0,601.0 724.0,601.9 728.0,603.1 732.0,604.1 736.0,604.9 740.0,605.2 744.0,604.5 748.0,603.2 752.0,601.9 756.0,600.6 760.0,599.2 764.0,597.8 768.0,596.3 772.0,594.8 776.0,592.9 780.0,590.9 784.0,588.6 788.0,586.0 792.0,583.5 796.0,580.9 800.0,578.3 804.0,575.7 808.0,572.9 812.0,570.1 816.0,567.1 820.0,564.2 824.0,561.3 828.0,558.5 832.0,555.8 836.0,553.1 840.0,550.4 844.0,547.7 848.0,545.1 852.0,542.5 856.0,539.9 860.0,537.5 864.0,535.2 868.0,532.9 872.0,530.7 876.0,528.7 880.0,526.9 884.0,525.3 888.0,524.0 892.0,522.8 896.0,521.7 900.0,520.9 904.0,520.5 908.0,520.5 912.0,520.8 916.0,521.5 920.0,522.4 924.0,523.6 928.0,525.3 932.0,527.5 936.0,530.4 940.0,533.9 944.0,538.1 948.0,543.3 952.0,549.5 956.0,556.7 960.0,565.3 964.0,575.2 968.0,586.8 972.0,599.8 976.0,611.7 980.0,622.9 984.0,635.5 988.0,651.2 992.0,669.5 996.0,684.8 1000.0,697.1 1004.0,707.5 1008.0,715.4 1012.0,720.0" fill="none" stroke="#569fce" stroke-width="4.20" stroke-linejoin="round"/>
<polyline points="704.0,598.4 708.0,598.1 712.0,598.6 716.0,599.7 720.0,600.5 724.0,601.4 728.0,602.5 732.0,603.5 736.0,604.2 740.0,604.4 744.0,603.6 748.0,602.2 752.0,600.9 756.0,599.5 760.0,598.1 764.0,596.6 768.0,595.0 772.0,593.4 776.0,591.5 780.0,589.4 784.0,587.1 788.0,584.6 792.0,581.9 796.0,579.3 800.0,576.7 804.0,574.1 808.0,571.3 812.0,568.5 816.0,565.6 820.0,562.7 824.0,559.8 828.0,556.9 832.0,554.2 836.0,551.5 840.0,548.9 844.0,546.2 848.0,543.5 852.0,540.9 856.0,538.4 860.0,535.9 864.0,533.6 868.0,531.3 872.0,529.1 876.0,527.1 880.0,525.2 884.0,523.6 888.0,522.3 892.0,521.1 896.0,520.0 900.0,519.2 904.0,518.8 908.0,518.7 912.0,519.0 916.0,519.7 920.0,520.6 924.0,521.7 928.0,523.4 932.0,525.6 936.0,528.4 940.0,532.0 944.0,536.1 948.0,541.3 952.0,547.5 956.0,554.6 960.0,563.2 964.0,573.0 968.0,584.5 972.0,597.5 976.0,609.3 980.0,620.6 984.0,633.4 988.0,649.4 992.0,668.2 996.0,683.8 1000.0,696.4 1004.0,707.1 1008.0,715.2 1012.0,720.0" fill="none" stroke="#519ccc" stroke-width="4.20" stroke-linejoin="round"/>
<polyline points="704.0,598.4 708.0,597.9 712.0,598.3 716.0,599.3 720.0,600.1 724.0,600.9 728.0,601.9 732.0,602.9 736.0,603.5 740.0,603.6 744.0,602.7 748.0,601.2 752.0,599.8 756.0,598.4 760.0,596.9 764.0,595.3 768.0,593.8 772.0,592.1 776.0,590.2 780.0,588.0 784.0,585.6 788.0,583.1 792.0,580.4 796.0,577.8 800.0,575.2 804.0,572.5 808.0,569.8 812.0,566.9 816.0,564.0 820.0,561.1 824.0,558.2 828.0,555.4 832.0,552.7 836.0,550.0 840.0,547.3 844.0,544.6 848.0,541.9 852.0,539.3 856.0,536.8 860.0,534.3 864.0,531.9 868.0,529.6 872.0,527.5 876.0,525.4 880.0,523.5 884.0,521.9 888.0,520.6 892.0,519.3 896.0,518.3 900.0,517.5 904.0,517.0 908.0,516.9 912.0,517.2 916.0,517.9 920.0,518.7 924.0,519.8 928.0,521.5 932.0,523.7 936.0,526.5 940.0,530.0 944.0,534.2 948.0,539.3 952.0,545.5 956.0,552.5 960.0,561.2 964.0,570.9 968.0,582.3 972.0,595.1 976.0,606.9 980.0,618.3 984.0,631.2 988.0,647.6 992.0,666.8 996.0,682.9 1000.0,695.7 1004.0,706.7 1008.0,715.1 1012.0,720.0" fill="none" stroke="#4d9aca" stroke-width="4.20" stroke-linejoin="round"/>
<polyline points="704.0,598.5 708.0,597.7 712.0,598.0 716.0,598.9 720.0,599.6 724.0,600.4 728.0,601.4 732.0,602.2 736.0,602.8 740.0,602.8 744.0,601.8 748.0,600.3 752.0,598.8 756.0,597.3 760.0,595.8 764.0,594.1 768.0,592.5 772.0,590.7 776.0,588.8 780.0,586.6 784.0,584.2 788.0,581.6 792.0,578.9 796.0,576.3 800.0,573.7 804.0,571.0 808.0,568.2 812.0,565.3 816.0,562.5 820.0,559.5 824.0,556.7 828.0,553.8 832.0,551.1 836.0,548.4 840.0,545.7 844.0,543.0 848.0,540.3 852.0,537.7 856.0,535.2 860.0,532.7 864.0,530.3 868.0,528.0 872.0,525.8 876.0,523.7 880.0,521.8 884.0,520.2 888.0,518.9 892.0,517.6 896.0,516.5 900.0,515.7 904.0,515.3 908.0,515.1 912.0,515.4 916.0,516.1 920.0,516.9 924.0,518.0 928.0,519.6 932.0,521.8 936.0,524.5 940.0,528.0 944.0,532.2 948.0,537.3 952.0,543.4 956.0,550.5 960.0,559.1 964.0,568.8 968.0,580.0 972.0,592.7 976.0,604.6 980.0,615.9 984.0,629.0 988.0,645.7 992.0,665.4 996.0,681.9 1000.0,695.0 1004.0,706.3 1008.0,714.9 1012.0,720.0" fill="none" stroke="#4997c9" stroke-width="4.20" stroke-linejoin="round"/>
<polyline points="704.0,598.5 708.0,597.5 712.0,597.6 716.0,598.5 720.0,599.2 724.0,599.9 728.0,600.8 732.0,601.6 736.0,602.0 740.0,602.0 744.0,600.9 748.0,599.3 752.0,597.8 756.0,596.2 760.0,594.6 764.0,592.9 768.0,591.2 772.0,589.4 776.0,587.4 780.0,585.2 784.0,582.7 788.0,580.1 792.0,577.4 796.0,574.8 800.0,572.1 804.0,569.4 808.0,566.6 812.0,563.8 816.0,560.9 820.0,558.0 824.0,555.1 828.0,552.3 832.0,549.6 836.0,546.9 840.0,544.2 844.0,541.5 848.0,538.8 852.0,536.1 856.0,533.6 860.0,531.1 864.0,528.7 868.0,526.4 872.0,524.2 876.0,522.1 880.0,520.2 884.0,518.5 888.0,517.2 892.0,515.9 896.0,514.8 900.0,514.0 904.0,513.5 908.0,513.4 912.0,513.6 916.0,514.2 920.0,515.0 924.0,516.1 928.0,517.7 932.0,519.8 936.0,522.6 940.0,526.1 944.0,530.2 948.0,535.3 952.0,541.4 956.0,548.4 960.0,557.0 964.0,566.6 968.0,577.8 972.0,590.3 976.0,602.2 980.0,613.6 984.0,626.9 988.0,643.9 992.0,664.1 996.0,680.9 1000.0,694.3 1004.0,705.9 1008.0,714.7 1012.0,720.0" fill="none" stroke="#4594c7" stroke-width="4.20" stroke-linejoin="round"/>
<polyline points="704.0,598.6 708.0,597.3 712.0,597.3 716.0,598.1 720.0,598.7 724.0,599.4 728.0,600.2 732.0,600.9 736.0,601.3 740.0,601.3 744.0,600.0 748.0,598.3 752.0,596.7 756.0,595.1 760.0,593.5 764.0,591.7 768.0,589.9 772.0,588.0 776.0,586.0 780.0,583.7 784.0,581.3 788.0,578.6 792.0,575.9 796.0,573.2 800.0,570.6 804.0,567.9 808.0,565.1 812.0,562.2 816.0,559.3 820.0,556.4 824.0,553.6 828.0,550.7 832.0,548.0 836.0,545.3 840.0,542.6 844.0,539.9 848.0,537.2 852.0,534.5 856.0,532.0 860.0,529.5 864.0,527.1 868.0,524.7 872.0,522.5 876.0,520.4 880.0,518.5 884.0,516.8 888.0,515.5 892.0,514.2 896.0,513.1 900.0,512.2 904.0,511.8 908.0,511.6 912.0,511.8 916.0,512.4 920.0,513.2 924.0,514.2 928.0,515.8 932.0,517.9 936.0,520.6 940.0,524.1 944.0,528.2 948.0,533.2 952.0,539.3 956.0,546.4 960.0,554.9 964.0,564.5 968.0,575.6 972.0,588.0 976.0,599.8 980.0,611.3 984.0,624.7 988.0,642.0 992.0,662.7 996.0,679.9 1000.0,693.6 1004.0,705.5 1008.0,714.6 1012.0,720.0" fill="none" stroke="#4191c5" stroke-width="4.20" stroke-linejoin="round"/>
<polyline points="704.0,598.6 708.0,597.1 712.0,596.9 716.0,597.7 720.0,598.3 724.0,598.9 728.0,599.7 732.0,600.3 736.0,600.6 740.0,600.5 744.0,599.1 748.0,597.4 752.0,595.7 756.0,594.0 760.0,592.3 764.0,590.5 768.0,588.6 772.0,586.7 776.0,584.6 780.0,582.3 784.0,579.8 788.0,577.2 792.0,574.4 796.0,571.7 800.0,569.0 804.0,566.3 808.0,563.5 812.0,560.6 816.0,557.8 820.0,554.9 824.0,552.0 828.0,549.2 832.0,546.5 836.0,543.8 840.0,541.1 844.0,538.3 848.0,535.6 852.0,533.0 856.0,530.4 860.0,527.9 864.0,525.4 868.0,523.1 872.0,520.9 876.0,518.8 880.0,516.8 884.0,515.2 888.0,513.8 892.0,512.5 896.0,511.4 900.0,510.5 904.0,510.0 908.0,509.8 912.0,510.0 916.0,510.6 920.0,511.3 924.0,512.4 928.0,513.9 932.0,516.0 936.0,518.7 940.0,522.1 944.0,526.2 948.0,531.2 952.0,537.3 956.0,544.3 960.0,552.8 964.0,562.3 968.0,573.3 972.0,585.6 976.0,597.4 980.0,609.0 984.0,622.5 988.0,640.2 992.0,661.4 996.0,678.9 1000.0,693.0 1004.0,705.1 1008.0,714.4 1012.0,720.0" fill="none" stroke="#3d8dc4" stroke-width="4.20" stroke-linejoin="round"/>
<polyline points="704.0,598.7 708.0,596.9 712.0,596.6 716.0,597.3 720.0,597.8 724.0,598.4 728.0,599.1 732.0,599.7 736.0,599.9 740.0,599.7 744.0,598.2 748.0,596.4 752.0,594.7 756.0,593.0 760.0,591.1 764.0,589.2 768.0,587.3 772.0,585.3 776.0,583.2 780.0,580.9 784.0,578.4 788.0,575.7 792.0,572.9 796.0,570.2 800.0,567.5 804.0,564.7 808.0,561.9 812.0,559.1 816.0,556.2 820.0,553.3 824.0,550.5 828.0,547.6 832.0,544.9 836.0,542.2 840.0,539.5 844.0,536.8 848.0,534.1 852.0,531.4 856.0,528.8 860.0,526.3 864.0,523.8 868.0,521.5 872.0,519.2 876.0,517.1 880.0,515.2 884.0,513.5 888.0,512.1 892.0,510.8 896.0,509.6 900.0,508.8 904.0,508.2 908.0,508.0 912.0,508.2 916.0,508.8 920.0,509.5 924.0,510.5 928.0,512.0 932.0,514.1 936.0,516.7 940.0,520.2 944.0,524.3 948.0,529.2 952.0,535.3 956.0,542.2 960.0,550.7 964.0,560.2 968.0,571.1 972.0,583.2 976.0,595.0 980.0,606.7 984.0,620.4 988.0,638.3 992.0,660.0 996.0,677.9 1000.0,692.3 1004.0,704.7 1008.0,714.2 1012.0,720.0" fill="none" stroke="#3a8ac2" stroke-width="4.20" stroke-linejoin="round"/>
<polyline points="704.0,598.7 708.0,596.8 712.0,596.2 716.0,596.9 720.0,597.4 724.0,597.9 728.0,598.5 732.0,599.0 736.0,599.1 740.0,598.9 744.0,597.4 748.0,595.4 752.0,593.7 756.0,591.9 760.0,590.0 764.0,588.0 768.0,586.0 772.0,584.0 776.0,581.8 780.0,579.4 784.0,576.9 788.0,574.2 792.0,571.4 796.0,568.7 800.0,565.9 804.0,563.2 808.0,560.4 812.0,557.5 816.0,554.6 820.0,551.8 824.0,548.9 828.0,546.1 832.0,543.4 836.0,540.7 840.0,537.9 844.0,535.2 848.0,532.5 852.0,529.8 856.0,527.2 860.0,524.7 864.0,522.2 868.0,519.8 872.0,517.6 876.0,515.5 880.0,513.5 884.0,511.8 888.0,510.4 892.0,509.1 896.0,507.9 900.0,507.0 904.0,506.5 908.0,506.3 912.0,506.5 916.0,507.0 920.0,507.6 924.0,508.6 928.0,510.2 932.0,512.1 936.0,514.8 940.0,518.2 944.0,522.3 948.0,527.2 952.0,533.2 956.0,540.2 960.0,548.6 964.0,558.0 968.0,568.8 972.0,580.9 976.0,592.6 980.0,604.3 984.0,618.2 988.0,636.5 992.0,658.6 996.0,677.0 1000.0,691.6 1004.0,704.3 1008.0,714.1 1012.0,720.0" fill="none" stroke="#3787c0" stroke-width="4.20" stroke-linejoin="round"/>
<polyline points="704.0,598.8 708.0,596.6 712.0,595.9 716.0,596.5 720.0,596.9 724.0,597.4 728.0,598.0 732.0,598.4 736.0,598.4 740.0,598.1 744.0,596.5 748.0,594.5 752.0,592.6 756.0,590.8 760.0,588.8 764.0,586.8 768.0,584.7 772.0,582.6 776.0,580.4 780.0,578.0 784.0,575.5 788.0,572.7 792.0,569.9 796.0,567.2 800.0,564.4 804.0,561.6 808.0,558.8 812.0,555.9 816.0,553.1 820.0,550.2 824.0,547.4 828.0,544.6 832.0,541.8 836.0,539.1 840.0,536.4 844.0,533.6 848.0,530.9 852.0,528.2 856.0,525.6 860.0,523.1 864.0,520.6 868.0,518.2 872.0,515.9 876.0,513.8 880.0,511.8 884.0,510.1 888.0,508.7 892.0,507.3 896.0,506.2 900.0,505.3 904.0,504.7 908.0,504.5 912.0,504.7 916.0,505.1 920.0,505.8 924.0,506.7 928.0,508.3 932.0,510.2 936.0,512.8 940.0,516.2 944.0,520.3 948.0,525.2 952.0,531.2 956.0,538.1 960.0,546.5 964.0,555.9 968.0,566.6 972.0,578.5 976.0,590.2 980.0,602.0 984.0,616.0 988.0,634.7 992.0,657.3 996.0,676.0 1000.0,690.9 1004.0,703.9 1008.0,713.9 1012.0,720.0" fill="none" stroke="#3383be" stroke-width="4.20" stroke-linejoin="round"/>
<polyline points="704.0,598.8 708.0,596.4 712.0,595.6 716.0,596.1 720.0,596.5 724.0,596.9 728.0,597.4 732.0,597.7 736.0,597.7 740.0,597.3 744.0,595.6 748.0,593.5 752.0,591.6 756.0,589.7 760.0,587.7 764.0,585.6 768.0,583.5 772.0,581.3 776.0,579.0 780.0,576.6 784.0,574.0 788.0,571.2 792.0,568.4 796.0,565.6 800.0,562.9 804.0,560.1 808.0,557.2 812.0,554.4 816.0,551.5 820.0,548.6 824.0,545.8 828.0,543.0 832.0,540.3 836.0,537.6 840.0,534.8 844.0,532.1 848.0,529.3 852.0,526.6 856.0,524.0 860.0,521.4 864.0,519.0 868.0,516.5 872.0,514.3 876.0,512.2 880.0,510.2 884.0,508.4 888.0,507.0 892.0,505.6 896.0,504.4 900.0,503.5 904.0,503.0 908.0,502.7 912.0,502.9 916.0,503.3 920.0,503.9 924.0,504.9 928.0,506.4 932.0,508.3 936.0,510.9 940.0,514.3 944.0,518.3 948.0,523.2 952.0,529.2 956.0,536.1 960.0,544.4 964.0,553.7 968.0,564.3 972.0,576.1 976.0,587.9 980.0,599.7 984.0,613.9 988.0,632.8 992.0,655.9 996.0,675.0 1000.0,690.2 1004.0,703.5 1008.0,713.7 1012.0,720.0" fill="none" stroke="#3080bd" stroke-width="4.20" stroke-linejoin="round"/>
<polyline points="704.0,598.8 708.0,596.2 712.0,595.2 716.0,595.7 720.0,596.0 724.0,596.4 728.0,596.8 732.0,597.1 736.0,597.0 740.0,596.5 744.0,594.7 748.0,592.6 752.0,590.6 756.0,588.6 760.0,586.5 764.0,584.4 768.0,582.2 772.0,579.9 776.0,577.6 780.0,575.2 784.0,572.5 788.0,569.8 792.0,566.9 796.0,564.1 800.0,561.3 804.0,558.5 808.0,555.7 812.0,552.8 816.0,549.9 820.0,547.1 824.0,544.2 828.0,541.5 832.0,538.7 836.0,536.0 840.0,533.3 844.0,530.5 848.0,527.8 852.0,525.0 856.0,522.4 860.0,519.8 864.0,517.3 868.0,514.9 872.0,512.6 876.0,510.5 880.0,508.5 884.0,506.7 888.0,505.3 892.0,503.9 896.0,502.7 900.0,501.8 904.0,501.2 908.0,500.9 912.0,501.1 916.0,501.5 920.0,502.1 924.0,503.0 928.0,504.5 932.0,506.4 936.0,508.9 940.0,512.3 944.0,516.3 948.0,521.2 952.0,527.1 956.0,534.0 960.0,542.3 964.0,551.6 968.0,562.1 972.0,573.7 976.0,585.5 980.0,597.4 984.0,611.7 988.0,631.0 992.0,654.5 996.0,674.0 1000.0,689.5 1004.0,703.1 1008.0,713.6 1012.0,720.0" fill="none" stroke="#2d7dbb" stroke-width="4.20" stroke-linejoin="round"/>
<polyline points="704.0,598.9 708.0,596.0 712.0,594.9 716.0,595.3 720.0,595.6 724.0,595.9 728.0,596.3 732.0,596.4 736.0,596.3 740.0,595.7 744.0,593.8 748.0,591.6 752.0,589.6 756.0,587.5 760.0,585.4 764.0,583.2 768.0,580.9 772.0,578.6 776.0,576.2 780.0,573.7 784.0,571.1 788.0,568.3 792.0,565.4 796.0,562.6 800.0,559.8 804.0,556.9 808.0,554.1 812.0,551.2 816.0,548.4 820.0,545.5 824.0,542.7 828.0,539.9 832.0,537.2 836.0,534.4 840.0,531.7 844.0,529.0 848.0,526.2 852.0,523.5 856.0,520.8 860.0,518.2 864.0,515.7 868.0,513.3 872.0,511.0 876.0,508.8 880.0,506.8 884.0,505.0 888.0,503.6 892.0,502.2 896.0,501.0 900.0,500.0 904.0,499.5 908.0,499.2 912.0,499.3 916.0,499.7 920.0,500.3 924.0,501.1 928.0,502.6 932.0,504.5 936.0,507.0 940.0,510.3 944.0,514.4 948.0,519.2 952.0,525.1 956.0,531.9 960.0,540.2 964.0,549.4 968.0,559.8 972.0,571.4 976.0,583.1 980.0,595.1 984.0,609.5 988.0,629.1 992.0,653.2 996.0,673.0 1000.0,688.9 1004.0,702.7 1008.0,713.4 1012.0,720.0" fill="none" stroke="#2979b9" stroke-width="4.20" stroke-linejoin="round"/>
<polyline points="704.0,598.9 708.0,595.8 712.0,594.5 716.0,594.9 720.0,595.1 724.0,595.4 728.0,595.7 732.0,595.8 736.0,595.5 740.0,594.9 744.0,592.9 748.0,590.6 752.0,588.5 756.0,586.4 760.0,584.2 764.0,581.9 768.0,579.6 772.0,577.2 776.0,574.8 780.0,572.3 784.0,569.6 788.0,566.8 792.0,563.9 796.0,561.1 800.0,558.2 804.0,555.4 808.0,552.5 812.0,549.7 816.0,546.8 820.0,544.0 824.0,541.1 828.0,538.4 832.0,535.6 836.0,532.9 840.0,530.2 844.0,527.4 848.0,524.6 852.0,521.9 856.0,519.2 860.0,516.6 864.0,514.1 868.0,511.6 872.0,509.4 876.0,507.2 880.0,505.1 884.0,503.3 888.0,501.8 892.0,500.5 896.0,499.3 900.0,498.3 904.0,497.7 908.0,497.4 912.0,497.5 916.0,497.8 920.0,498.4 924.0,499.3 928.0,500.7 932.0,502.5 936.0,505.0 940.0,508.4 944.0,512.4 948.0,517.2 952.0,523.1 956.0,529.9 960.0,538.1 964.0,547.3 968.0,557.6 972.0,569.0 976.0,580.7 980.0,592.8 984.0,607.4 988.0,627.3 992.0,651.8 996.0,672.1 1000.0,688.2 1004.0,702.3 1008.0,713.2 1012.0,720.0" fill="none" stroke="#2373b6" stroke-width="4.20" stroke-linejoin="round"/>
<polyline points="704.0,599.0 708.0,595.6 712.0,594.2 716.0,594.5 720.0,594.7 724.0,594.9 728.0,595.1 732.0,595.2 736.0,594.8 740.0,594.1 744.0,592.0 748.0,589.7 752.0,587.5 756.0,585.3 760.0,583.1 764.0,580.7 768.0,578.3 772.0,575.9 776.0,573.4 780.0,570.9 784.0,568.2 788.0,565.3 792.0,562.4 796.0,559.5 800.0,556.7 804.0,553.8 808.0,550.9 812.0,548.1 816.0,545.3 820.0,542.4 824.0,539.6 828.0,536.8 832.0,534.1 836.0,531.3 840.0,528.6 844.0,525.8 848.0,523.0 852.0,520.3 856.0,517.6 860.0,515.0 864.0,512.5 868.0,510.0 872.0,507.7 876.0,505.5 880.0,503.5 884.0,501.7 888.0,500.1 892.0,498.8 896.0,497.5 900.0,496.6 904.0,496.0 908.0,495.6 912.0,495.7 916.0,496.0 920.0,496.6 924.0,497.4 928.0,498.8 932.0,500.6 936.0,503.1 940.0,506.4 944.0,510.4 948.0,515.2 952.0,521.0 956.0,527.8 960.0,536.1 964.0,545.1 968.0,555.3 972.0,566.6 976.0,578.3 980.0,590.4 984.0,605.2 988.0,625.4 992.0,650.4 996.0,671.1 1000.0,687.5 1004.0,701.9 1008.0,713.1 1012.0,720.0" fill="none" stroke="#1e6db2" stroke-width="4.20" stroke-linejoin="round"/>
<polyline points="704.0,599.0 708.0,595.4 712.0,593.8 716.0,594.1 720.0,594.2 724.0,594.4 728.0,594.6 732.0,594.5 736.0,594.1 740.0,593.3 744.0,591.1 748.0,588.7 752.0,586.5 756.0,584.2 760.0,581.9 764.0,579.5 768.0,577.0 772.0,574.5 776.0,572.0 780.0,569.4 784.0,566.7 788.0,563.8 792.0,560.9 796.0,558.0 800.0,555.1 804.0,552.2 808.0,549.4 812.0,546.5 816.0,543.7 820.0,540.9 824.0,538.0 828.0,535.3 832.0,532.5 836.0,529.8 840.0,527.0 844.0,524.3 848.0,521.5 852.0,518.7 856.0,516.0 860.0,513.4 864.0,510.8 868.0,508.4 872.0,506.1 876.0,503.9 880.0,501.8 884.0,500.0 888.0,498.4 892.0,497.0 896.0,495.8 900.0,494.8 904.0,494.2 908.0,493.8 912.0,493.9 916.0,494.2 920.0,494.7 924.0,495.5 928.0,496.9 932.0,498.7 936.0,501.1 940.0,504.4 944.0,508.4 948.0,513.2 952.0,519.0 956.0,525.8 960.0,534.0 964.0,543.0 968.0,553.1 972.0,564.3 976.0,575.9 980.0,588.1 984.0,603.0 988.0,623.6 992.0,649.1 996.0,670.1 1000.0,686.8 1004.0,701.4 1008.0,712.9 1012.0,720.0" fill="none" stroke="#1967ad" stroke-width="4.20" stroke-linejoin="round"/>
<polyline points="704.0,599.1 708.0,595.2 712.0,593.5 716.0,593.7 720.0,593.8 724.0,593.9 728.0,594.0 732.0,593.9 736.0,593.4 740.0,592.5 744.0,590.2 748.0,587.7 752.0,585.4 756.0,583.2 760.0,580.8 764.0,578.3 768.0,575.7 772.0,573.2 776.0,570.6 780.0,568.0 784.0,565.3 788.0,562.4 792.0,559.4 796.0,556.5 800.0,553.6 804.0,550.7 808.0,547.8 812.0,545.0 816.0,542.1 820.0,539.3 824.0,536.5 828.0,533.7 832.0,531.0 836.0,528.2 840.0,525.5 844.0,522.7 848.0,519.9 852.0,517.1 856.0,514.4 860.0,511.8 864.0,509.2 868.0,506.7 872.0,504.4 876.0,502.2 880.0,500.1 884.0,498.3 888.0,496.7 892.0,495.3 896.0,494.1 900.0,493.1 904.0,492.5 908.0,492.1 912.0,492.1 916.0,492.4 920.0,492.9 924.0,493.7 928.0,495.0 932.0,496.8 936.0,499.2 940.0,502.5 944.0,506.4 948.0,511.1 952.0,517.0 956.0,523.7 960.0,531.9 964.0,540.9 968.0,550.8 972.0,561.9 976.0,573.5 980.0,585.8 984.0,600.9 988.0,621.8 992.0,647.7 996.0,669.1 1000.0,686.1 1004.0,701.0 1008.0,712.7 1012.0,720.0" fill="none" stroke="#135fa7" stroke-width="4.20" stroke-linejoin="round"/>
<polyline points="704.0,599.1 708.0,595.0 712.0,593.2 716.0,593.2 720.0,593.3 724.0,593.4 728.0,593.4 732.0,593.2 736.0,592.7 740.0,591.7 744.0,589.3 748.0,586.8 752.0,584.4 756.0,582.1 760.0,579.6 764.0,577.1 768.0,574.4 772.0,571.8 776.0,569.2 780.0,566.6 784.0,563.8 788.0,560.9 792.0,557.9 796.0,555.0 800.0,552.0 804.0,549.1 808.0,546.2 812.0,543.4 816.0,540.6 820.0,537.7 824.0,534.9 828.0,532.2 832.0,529.4 836.0,526.7 840.0,523.9 844.0,521.1 848.0,518.3 852.0,515.5 856.0,512.8 860.0,510.2 864.0,507.6 868.0,505.1 872.0,502.8 876.0,500.6 880.0,498.5 884.0,496.6 888.0,495.0 892.0,493.6 896.0,492.3 900.0,491.3 904.0,490.7 908.0,490.3 912.0,490.3 916.0,490.6 920.0,491.0 924.0,491.8 928.0,493.1 932.0,494.8 936.0,497.2 940.0,500.5 944.0,504.5 948.0,509.1 952.0,514.9 956.0,521.6 960.0,529.8 964.0,538.7 968.0,548.6 972.0,559.5 976.0,571.1 980.0,583.5 984.0,598.7 988.0,619.9 992.0,646.3 996.0,668.1 1000.0,685.4 1004.0,700.6 1008.0,712.6 1012.0,720.0" fill="none" stroke="#0c57a0" stroke-width="4.20" stroke-linejoin="round"/>
<polyline points="704.0,599.2 708.0,594.8 712.0,592.8 716.0,592.8 720.0,592.9 724.0,592.9 728.0,592.9 732.0,592.6 736.0,591.9 740.0,590.9 744.0,588.4 748.0,585.8 752.0,583.4 756.0,581.0 760.0,578.5 764.0,575.8 768.0,573.1 772.0,570.5 776.0,567.8 780.0,565.2 784.0,562.3 788.0,559.4 792.0,556.4 796.0,553.5 800.0,550.5 804.0,547.6 808.0,544.7 812.0,541.8 816.0,539.0 820.0,536.2 824.0,533.4 828.0,530.6 832.0,527.9 836.0,525.1 840.0,522.4 844.0,519.6 848.0,516.7 852.0,514.0 856.0,511.3 860.0,508.6 864.0,506.0 868.0,503.5 872.0,501.1 876.0,498.9 880.0,496.8 884.0,494.9 888.0,493.3 892.0,491.9 896.0,490.6 900.0,489.6 904.0,489.0 908.0,488.5 912.0,488.5 916.0,488.7 920.0,489.2 924.0,489.9 928.0,491.2 932.0,492.9 936.0,495.3 940.0,498.6 944.0,502.5 948.0,507.1 952.0,512.9 956.0,519.6 960.0,527.7 964.0,536.6 968.0,546.4 972.0,557.1 976.0,568.8 980.0,581.2 984.0,596.5 988.0,618.1 992.0,645.0 996.0,667.1 1000.0,684.8 1004.0,700.2 1008.0,712.4 1012.0,720.0" fill="none" stroke="#084e97" stroke-width="4.20" stroke-linejoin="round"/>
<polyline points="704.0,599.2 708.0,594.6 712.0,592.5 716.0,592.4 720.0,592.4 724.0,592.4 728.0,592.3 732.0,592.0 736.0,591.2 740.0,590.1 744.0,587.5 748.0,584.8 752.0,582.4 756.0,579.9 760.0,577.3 764.0,574.6 768.0,571.9 772.0,569.1 776.0,566.5 780.0,563.7 784.0,560.9 788.0,557.9 792.0,554.9 796.0,551.9 800.0,549.0 804.0,546.0 808.0,543.1 812.0,540.3 816.0,537.4 820.0,534.6 824.0,531.8 828.0,529.1 832.0,526.3 836.0,523.6 840.0,520.8 844.0,518.0 848.0,515.2 852.0,512.4 856.0,509.7 860.0,507.0 864.0,504.3 868.0,501.8 872.0,499.5 876.0,497.3 880.0,495.1 884.0,493.2 888.0,491.6 892.0,490.2 896.0,488.9 900.0,487.9 904.0,487.2 908.0,486.7 912.0,486.7 916.0,486.9 920.0,487.3 924.0,488.1 928.0,489.3 932.0,491.0 936.0,493.3 940.0,496.6 944.0,500.5 948.0,505.1 952.0,510.9 956.0,517.5 960.0,525.6 964.0,534.4 968.0,544.1 972.0,554.8 976.0,566.4 980.0,578.8 984.0,594.4 988.0,616.2 992.0,643.6 996.0,666.2 1000.0,684.1 1004.0,699.8 1008.0,712.2 1012.0,720.0" fill="none" stroke="#084489" stroke-width="4.20" stroke-linejoin="round"/>
<polyline points="704.0,599.3 708.0,594.4 712.0,592.1 716.0,592.0 720.0,592.0 724.0,591.9 728.0,591.7 732.0,591.3 736.0,590.5 740.0,589.3 744.0,586.6 748.0,583.9 752.0,581.3 756.0,578.8 760.0,576.2 764.0,573.4 768.0,570.6 772.0,567.8 776.0,565.1 780.0,562.3 784.0,559.4 788.0,556.4 792.0,553.4 796.0,550.4 800.0,547.4 804.0,544.4 808.0,541.5 812.0,538.7 816.0,535.9 820.0,533.1 824.0,530.3 828.0,527.5 832.0,524.8 836.0,522.0 840.0,519.2 844.0,516.4 848.0,513.6 852.0,510.8 856.0,508.1 860.0,505.4 864.0,502.7 868.0,500.2 872.0,497.8 876.0,495.6 880.0,493.5 884.0,491.5 888.0,489.9 892.0,488.5 896.0,487.2 900.0,486.1 904.0,485.4 908.0,485.0 912.0,484.9 916.0,485.1 920.0,485.5 924.0,486.2 928.0,487.5 932.0,489.1 936.0,491.4 940.0,494.6 944.0,498.5 948.0,503.1 952.0,508.8 956.0,515.5 960.0,523.5 964.0,532.3 968.0,541.9 972.0,552.4 976.0,564.0 980.0,576.5 984.0,592.2 988.0,614.4 992.0,642.2 996.0,665.2 1000.0,683.4 1004.0,699.4 1008.0,712.0 1012.0,720.0" fill="none" stroke="#083674" stroke-width="4.20" stroke-linejoin="round"/>
<polyline points="72.5,1400.0 389.2,695.0 408.6,647.0 425.8,605.0 441.2,560.9 455.1,520.5 467.8,485.1 472.8,471.2 477.8,457.0 482.8,442.4 487.8,426.4 492.8,412.7 497.8,401.3 502.8,392.6 507.8,386.1 512.8,380.2 517.8,372.8 522.8,364.7 527.8,360.8 532.8,359.2 537.8,359.3 542.8,361.0 547.8,363.4 552.8,367.3 557.8,373.3 562.8,381.4 567.8,389.8 572.8,398.8 577.8,408.5 582.8,419.1 587.8,430.3 592.8,441.3 597.8,452.6 602.8,466.7 607.8,483.5 612.8,498.9 617.8,513.4 622.8,526.3 627.8,538.0 632.8,549.0 637.8,559.7 642.8,569.6 647.8,578.3 652.8,585.9 657.8,592.8 662.8,598.8 667.8,604.1 672.8,608.9 677.8,613.2 682.8,617.4 687.8,621.2 692.8,624.4 697.8,627.0 702.8,629.3 707.8,631.2 712.8,633.0 717.8,634.8 722.8,636.6 727.8,638.1 732.8,639.3 737.8,639.9 742.8,639.9 747.8,639.5 752.8,638.7 757.8,637.7 762.8,636.6 767.8,635.4 772.8,634.2 777.8,633.2 782.8,632.2 787.8,631.2 792.8,630.1 797.8,629.3 802.8,628.7 807.8,628.3 812.8,627.9 817.8,627.6 822.8,627.2 827.8,626.8 832.8,626.2 837.8,625.5 842.8,624.7 847.8,623.7 852.8,622.8 857.8,621.9 862.8,621.0 867.8,620.3 872.8,619.6 877.8,618.9 882.8,618.4 887.8,618.2 892.8,618.4 897.8,619.0 902.8,619.7 907.8,621.1 912.8,623.0 917.8,625.3 922.8,628.2 927.8,631.7 932.8,636.4 937.8,642.5 942.8,648.1 947.8,653.5 1012.8,720.8" fill="none" stroke="#a3cce3" stroke-width="4.20" stroke-linejoin="round"/>
<polyline points="72.5,1160.0 307.5,701.0 340.1,627.0 366.7,567.0 389.2,512.0 408.6,457.0 425.8,421.0 441.2,381.0 455.1,347.8 467.8,332.0 472.8,328.3 477.8,326.1 482.8,326.3 487.8,327.4 492.8,329.4 497.8,334.1 502.8,340.0 507.8,348.1 512.8,357.5 517.8,366.9 522.8,375.9 527.8,385.1 532.8,394.3 537.8,403.7 542.8,413.1 547.8,422.6 552.8,432.2 557.8,441.9 562.8,451.6 567.8,461.4 572.8,471.2 577.8,481.0 582.8,490.8 587.8,500.7 592.8,510.5 597.8,520.5 602.8,530.5 607.8,540.5 612.8,550.8 617.8,561.2 622.8,571.9 627.8,582.6 632.8,593.2 637.8,603.6 642.8,613.6 647.8,623.6 652.8,633.8 657.8,643.5 662.8,651.9 787.8,652.1 792.8,647.7 797.8,643.5 802.8,639.6 807.8,635.9 812.8,632.4 817.8,629.3 822.8,626.4 827.8,623.7 832.8,621.2 837.8,618.8 842.8,616.7 847.8,614.8 852.8,613.0 857.8,611.4 862.8,610.0 867.8,608.6 872.8,607.4 877.8,606.3 882.8,605.3 887.8,604.5 892.8,604.2 897.8,603.9 902.8,603.8 907.8,604.1 912.8,606.1 917.8,609.3 922.8,613.7 927.8,621.6 932.8,631.7 937.8,643.3 942.8,658.7 1012.8,720.0" fill="none" stroke="#a3cce3" stroke-width="4.20" stroke-linejoin="round"/>
<polyline points="72.5,900.0 206.3,720.0 265.5,634.0 307.5,553.5 340.1,468.0 366.7,418.0 389.2,381.5 408.6,352.0 425.8,330.0 441.2,316.0 455.1,307.0 467.8,304.0 472.8,304.7 477.8,306.2 482.8,308.2 487.8,311.4 492.8,315.3 497.8,320.1 502.8,326.0 507.8,333.1 512.8,341.1 517.8,349.4 522.8,357.6 527.8,366.0 532.8,374.6 537.8,383.3 542.8,392.3 547.8,401.4 552.8,410.6 557.8,420.1 562.8,429.8 567.8,439.4 572.8,448.9 577.8,458.4 582.8,467.9 587.8,477.7 592.8,487.6 597.8,497.6 602.8,507.8 607.8,518.1 612.8,528.4 617.8,538.6 622.8,548.7 627.8,558.8 632.8,568.9 637.8,579.0 642.8,589.0 647.8,598.8 652.8,608.4 657.8,618.2 662.8,627.6 667.8,636.4 672.8,644.6 677.8,653.4 777.8,652.8 782.8,647.8 787.8,643.5 792.8,639.6 797.8,635.8 802.8,632.1 807.8,628.5 812.8,625.0 817.8,621.7 822.8,618.6 827.8,615.7 832.8,612.9 837.8,610.3 842.8,607.9 847.8,605.7 852.8,603.7 857.8,601.8 862.8,600.0 867.8,598.4 872.8,596.9 877.8,595.6 882.8,594.4 887.8,593.4 892.8,592.9 897.8,592.5 902.8,592.3 907.8,592.6 912.8,594.4 917.8,597.2 922.8,601.0 927.8,607.6 932.8,616.1 937.8,625.8 942.8,638.6 947.8,651.6 1012.8,720.2" fill="none" stroke="#a0cbe2" stroke-width="4.20" stroke-linejoin="round"/>
<polyline points="72.5,780.0 105.2,780.0 206.3,597.6 265.5,483.0 307.5,418.0 340.1,377.0 366.7,347.6 389.2,327.0 408.6,311.0 425.8,306.0 441.2,302.0 455.1,300.0 467.8,301.0 472.8,302.2 477.8,304.1 482.8,306.3 487.8,309.0 492.8,312.3 497.8,316.1 502.8,320.8 507.8,326.9 512.8,334.0 517.8,341.7 522.8,349.3 527.8,357.6 532.8,366.3 537.8,375.2 542.8,383.9 547.8,392.6 552.8,401.4 557.8,410.2 562.8,419.1 567.8,428.1 572.8,437.1 577.8,446.1 582.8,455.2 587.8,464.3 592.8,473.5 597.8,482.9 602.8,492.3 607.8,501.9 612.8,511.7 617.8,521.5 622.8,531.4 627.8,541.3 632.8,551.2 637.8,561.0 642.8,570.7 647.8,580.4 652.8,590.3 657.8,600.1 662.8,609.6 667.8,618.4 672.8,626.6 677.8,635.1 682.8,642.9 687.8,648.5 692.8,651.4 772.8,649.3 777.8,645.4 782.8,641.1 787.8,637.3 792.8,633.7 797.8,630.2 802.8,626.6 807.8,623.1 812.8,619.6 817.8,616.3 822.8,613.0 827.8,609.9 832.8,607.0 837.8,604.2 842.8,601.6 847.8,599.2 852.8,597.0 857.8,594.8 862.8,592.9 867.8,591.0 872.8,589.3 877.8,587.8 882.8,586.5 887.8,585.4 892.8,584.8 897.8,584.3 902.8,584.1 907.8,584.3 912.8,585.9 917.8,588.5 922.8,591.8 927.8,597.5 932.8,604.8 937.8,613.2 942.8,624.1 947.8,635.7 952.8,646.0 957.8,655.9 1012.8,720.3" fill="none" stroke="#a0cbe2" stroke-width="4.20" stroke-linejoin="round"/>
<polyline points="72.5,602.4 105.2,602.4 206.3,487.6 265.5,424.0 307.5,383.0 340.1,356.5 366.7,336.0 389.2,318.0 408.6,306.5 425.8,302.0 441.2,298.0 455.1,297.0 467.8,298.0 472.8,299.2 477.8,301.1 482.8,303.2 487.8,305.8 492.8,308.8 497.8,312.3 502.8,316.5 507.8,321.9 512.8,328.2 517.8,335.0 522.8,341.9 527.8,349.4 532.8,357.3 537.8,365.5 542.8,373.8 547.8,382.4 552.8,391.2 557.8,400.2 562.8,409.1 567.8,418.0 572.8,426.9 577.8,435.8 582.8,444.7 587.8,453.7 592.8,462.7 597.8,471.9 602.8,481.3 607.8,490.9 612.8,500.6 617.8,510.5 622.8,520.4 627.8,530.3 632.8,540.0 637.8,549.5 642.8,558.7 647.8,567.7 652.8,576.6 657.8,585.3 662.8,593.9 667.8,602.1 672.8,610.1 677.8,617.9 682.8,626.7 687.8,635.7 692.8,643.2 697.8,647.5 702.8,647.9 707.8,647.6 712.8,647.1 717.8,646.6 722.8,646.2 727.8,646.5 732.8,647.8 737.8,649.1 742.8,649.2 747.8,648.6 752.8,647.7 757.8,646.7 762.8,645.4 767.8,643.7 772.8,641.5 777.8,638.4 782.8,634.8 787.8,631.5 792.8,628.2 797.8,624.9 802.8,621.5 807.8,618.0 812.8,614.6 817.8,611.2 822.8,607.7 827.8,604.4 832.8,601.3 837.8,598.4 842.8,595.7 847.8,593.1 852.8,590.6 857.8,588.3 862.8,586.1 867.8,584.0 872.8,582.1 877.8,580.5 882.8,579.0 887.8,577.9 892.8,577.2 897.8,576.6 902.8,576.3 907.8,576.5 912.8,577.9 917.8,580.2 922.8,583.2 927.8,588.0 932.8,594.2 937.8,601.3 942.8,610.6 947.8,620.7 952.8,630.7 957.8,640.9 962.8,651.3 1012.8,720.5" fill="none" stroke="#9cc9e1" stroke-width="4.20" stroke-linejoin="round"/>
<polyline points="72.5,526.3 105.2,526.3 206.3,440.0 265.5,378.0 307.5,348.0 340.1,330.0 366.7,316.0 389.2,306.0 408.6,300.0 425.8,297.0 441.2,296.0 455.1,296.0 467.8,298.0 472.8,299.3 477.8,301.1 482.8,303.2 487.8,305.8 492.8,308.9 497.8,312.3 502.8,316.4 507.8,321.4 512.8,327.1 517.8,333.2 522.8,339.6 527.8,346.7 532.8,354.1 537.8,361.9 542.8,369.7 547.8,377.8 552.8,386.1 557.8,394.6 562.8,403.2 567.8,411.7 572.8,420.2 577.8,428.8 582.8,437.5 587.8,446.3 592.8,455.1 597.8,464.0 602.8,473.1 607.8,482.4 612.8,491.8 617.8,501.4 622.8,511.0 627.8,520.6 632.8,530.1 637.8,539.5 642.8,548.7 647.8,557.9 652.8,567.0 657.8,576.1 662.8,585.1 667.8,593.7 672.8,602.0 677.8,609.9 682.8,618.8 687.8,627.8 692.8,635.2 697.8,639.5 702.8,639.6 707.8,637.6 712.8,634.7 717.8,631.8 722.8,629.9 727.8,630.3 732.8,632.9 737.8,635.4 742.8,635.8 747.8,635.7 752.8,635.6 757.8,635.3 762.8,634.7 767.8,633.7 772.8,632.4 777.8,630.1 782.8,627.4 787.8,624.6 792.8,621.7 797.8,618.6 802.8,615.4 807.8,612.1 812.8,608.6 817.8,605.1 822.8,601.5 827.8,598.0 832.8,594.7 837.8,591.6 842.8,588.7 847.8,585.9 852.8,583.2 857.8,580.6 862.8,578.1 867.8,575.8 872.8,573.7 877.8,571.9 882.8,570.3 887.8,569.0 892.8,568.2 897.8,567.5 902.8,567.1 907.8,567.3 912.8,568.6 917.8,570.6 922.8,573.0 927.8,576.8 932.8,581.7 937.8,587.4 942.8,594.7 947.8,603.3 952.8,612.5 957.8,623.2 962.8,634.7 967.8,647.2 972.8,661.5 1012.8,720.6" fill="none" stroke="#9cc9e1" stroke-width="4.20" stroke-linejoin="round"/>
<polyline points="72.5,483.9 105.2,483.9 206.3,404.0 265.5,350.0 307.5,326.0 340.1,310.0 366.7,301.0 389.2,296.0 408.6,294.0 425.8,293.0 441.2,293.0 455.1,294.0 467.8,297.0 472.8,298.8 477.8,301.0 482.8,303.4 487.8,306.1 492.8,309.0 497.8,312.4 502.8,316.2 507.8,320.8 512.8,325.9 517.8,331.5 522.8,337.4 527.8,343.9 532.8,350.9 537.8,358.3 542.8,365.6 547.8,373.2 552.8,381.0 557.8,389.1 562.8,397.2 567.8,405.4 572.8,413.8 577.8,422.3 582.8,430.9 587.8,439.5 592.8,448.3 597.8,457.1 602.8,466.0 607.8,475.0 612.8,484.2 617.8,493.4 622.8,502.7 627.8,512.0 632.8,521.3 637.8,530.5 642.8,539.7 647.8,549.0 652.8,558.4 657.8,567.9 662.8,577.3 667.8,586.3 672.8,594.9 677.8,602.9 682.8,611.9 687.8,620.8 692.8,628.2 697.8,632.5 702.8,632.7 707.8,630.7 712.8,627.9 717.8,625.1 722.8,623.3 727.8,623.8 732.8,626.9 737.8,629.9 742.8,630.5 747.8,630.7 752.8,630.8 757.8,630.7 762.8,630.3 767.8,629.7 772.8,628.8 777.8,626.8 782.8,624.4 787.8,621.9 792.8,619.1 797.8,616.1 802.8,613.0 807.8,609.7 812.8,606.2 817.8,602.7 822.8,599.0 827.8,595.4 832.8,592.1 837.8,588.9 842.8,585.9 847.8,583.0 852.8,580.2 857.8,577.5 862.8,575.0 867.8,572.5 872.8,570.3 877.8,568.4 882.8,566.8 887.8,565.5 892.8,564.6 897.8,563.9 902.8,563.4 907.8,563.6 912.8,564.8 917.8,566.7 922.8,569.0 927.8,572.3 932.8,576.7 937.8,581.8 942.8,588.4 947.8,596.3 952.8,605.3 957.8,616.0 962.8,628.1 967.8,641.3 972.8,656.7 1012.8,720.7" fill="none" stroke="#9cc9e1" stroke-width="4.20" stroke-linejoin="round"/>
<polyline points="72.5,465.0 105.2,465.0 206.3,391.5 265.5,337.4 307.5,316.0 340.1,298.0 366.7,289.0 389.2,285.3 408.6,285.5 425.8,287.0 441.2,290.0 455.1,294.8 467.8,300.6 472.8,303.3 477.8,306.0 482.8,308.8 487.8,311.7 492.8,314.8 497.8,317.9 502.8,321.2 507.8,324.6 512.8,328.2 517.8,332.0 522.8,336.2 527.8,340.8 532.8,345.5 537.8,350.3 542.8,355.1 547.8,360.0 552.8,365.3 557.8,371.2 562.8,377.9 567.8,385.2 572.8,392.6 577.8,399.7 582.8,406.5 587.8,413.1 592.8,419.8 597.8,426.8 602.8,434.2 607.8,442.2 612.8,450.3 617.8,458.5 622.8,466.4 627.8,474.3 632.8,482.1 637.8,489.9 642.8,497.7 647.8,505.6 652.8,513.5 657.8,521.5 662.8,529.5 667.8,537.4 672.8,545.6 677.8,554.3 682.8,564.0 687.8,574.0 692.8,583.4 697.8,591.5 702.8,598.9 707.8,604.2 712.8,607.2 717.8,609.5 722.8,612.0 727.8,615.0 732.8,618.3 737.8,621.2 742.8,623.2 747.8,623.7 752.8,623.7 757.8,623.7 762.8,623.7 767.8,623.7 772.8,623.3 777.8,622.0 782.8,620.0 787.8,617.6 792.8,614.9 797.8,612.2 802.8,609.6 807.8,606.4 812.8,602.8 817.8,599.0 822.8,595.2 827.8,591.5 832.8,588.2 837.8,584.9 842.8,581.7 847.8,578.6 852.8,575.6 857.8,572.8 862.8,570.2 867.8,567.7 872.8,565.3 877.8,563.2 882.8,561.4 887.8,560.2 892.8,559.1 897.8,558.2 902.8,557.8 907.8,558.2 912.8,559.3 917.8,560.9 922.8,562.7 927.8,565.4 932.8,569.0 937.8,573.5 942.8,578.7 947.8,585.7 952.8,594.2 957.8,604.5 962.8,617.2 967.8,633.8 972.8,653.3 1012.8,816.2" fill="none" stroke="#9cc9e1" stroke-width="4.20" stroke-linejoin="round"/>
<polyline points="72.5,446.8 105.2,446.8 206.3,373.5 265.5,329.0 307.5,304.0 340.1,297.0 366.7,294.0 389.2,293.0 408.6,293.0 425.8,294.0 441.2,296.0 455.1,297.0 467.8,301.0 472.8,303.2 477.8,305.8 482.8,308.6 487.8,311.5 492.8,314.7 497.8,318.3 502.8,322.5 507.8,327.5 512.8,333.3 517.8,339.3 522.8,345.5 527.8,352.2 532.8,359.1 537.8,366.3 542.8,373.6 547.8,381.0 552.8,388.6 557.8,396.3 562.8,404.2 567.8,412.2 572.8,420.3 577.8,428.5 582.8,436.7 587.8,445.1 592.8,453.6 597.8,462.2 602.8,470.9 607.8,479.8 612.8,488.9 617.8,498.1 622.8,507.4 627.8,516.6 632.8,525.8 637.8,534.9 642.8,543.8 647.8,552.6 652.8,561.5 657.8,570.4 662.8,579.1 667.8,587.4 672.8,595.3 677.8,602.7 682.8,610.9 687.8,619.0 692.8,625.7 697.8,629.6 702.8,629.4 707.8,625.9 712.8,620.7 717.8,615.7 722.8,612.5 727.8,612.9 732.8,616.4 737.8,619.9 742.8,620.9 747.8,621.2 752.8,621.4 757.8,621.4 762.8,621.3 767.8,621.0 772.8,620.5 777.8,619.0 782.8,616.9 787.8,614.7 792.8,612.1 797.8,609.2 802.8,606.2 807.8,602.9 812.8,599.4 817.8,595.8 822.8,592.1 827.8,588.3 832.8,584.9 837.8,581.6 842.8,578.4 847.8,575.4 852.8,572.4 857.8,569.5 862.8,566.8 867.8,564.2 872.8,561.8 877.8,559.8 882.8,558.0 887.8,556.6 892.8,555.6 897.8,554.8 902.8,554.3 907.8,554.4 912.8,555.4 917.8,557.1 922.8,559.0 927.8,561.7 932.8,565.1 937.8,569.3 942.8,574.9 947.8,581.7 952.8,590.0 957.8,601.0 962.8,613.7 967.8,627.7 972.8,644.5 977.8,661.0 1012.8,721.0" fill="none" stroke="#9cc9e1" stroke-width="4.20" stroke-linejoin="round"/>
<polyline points="72.5,431.0 105.2,431.0 206.3,357.5 265.5,318.0 307.5,294.0 340.1,290.0 366.7,289.0 389.2,288.0 408.6,288.0 425.8,289.0 441.2,291.0 455.1,294.0 467.8,298.0 472.8,300.2 477.8,302.8 482.8,305.6 487.8,308.5 492.8,311.7 497.8,315.3 502.8,319.4 507.8,324.3 512.8,329.7 517.8,335.5 522.8,341.3 527.8,347.4 532.8,353.9 537.8,360.6 542.8,367.6 547.8,374.9 552.8,382.5 557.8,390.3 562.8,398.2 567.8,406.2 572.8,414.3 577.8,422.5 582.8,430.8 587.8,439.2 592.8,447.7 597.8,456.2 602.8,464.9 607.8,473.7 612.8,482.6 617.8,491.6 622.8,500.6 627.8,509.7 632.8,518.8 637.8,527.8 642.8,536.8 647.8,545.8 652.8,555.0 657.8,564.3 662.8,573.3 667.8,582.1 672.8,590.2 677.8,597.7 682.8,605.9 687.8,614.0 692.8,620.7 697.8,624.6 702.8,624.5 707.8,621.8 712.8,617.8 717.8,613.9 722.8,611.4 727.8,611.8 732.8,615.1 737.8,618.4 742.8,619.0 747.8,619.2 752.8,619.2 757.8,619.2 762.8,618.9 767.8,618.4 772.8,617.6 777.8,616.0 782.8,613.9 787.8,611.6 792.8,609.0 797.8,606.0 802.8,602.9 807.8,599.6 812.8,596.1 817.8,592.6 822.8,588.8 827.8,585.1 832.8,581.6 837.8,578.4 842.8,575.2 847.8,572.1 852.8,569.1 857.8,566.2 862.8,563.4 867.8,560.8 872.8,558.4 877.8,556.3 882.8,554.5 887.8,553.0 892.8,552.0 897.8,551.1 902.8,550.6 907.8,550.7 912.8,551.7 917.8,553.3 922.8,555.1 927.8,557.7 932.8,561.1 937.8,565.3 942.8,570.7 947.8,577.5 952.8,585.8 957.8,596.6 962.8,609.2 967.8,623.1 972.8,639.6 977.8,656.0 1012.8,721.1" fill="none" stroke="#9cc9e1" stroke-width="4.20" stroke-linejoin="round"/>
<polyline points="72.5,420.3 105.2,420.3 206.3,346.5 265.5,307.0 307.5,288.0 340.1,285.0 366.7,284.0 389.2,284.0 408.6,284.0 425.8,285.0 441.2,287.0 455.1,291.0 467.8,296.0 472.8,298.3 477.8,300.8 482.8,303.6 487.8,306.5 492.8,309.8 497.8,313.3 502.8,317.3 507.8,322.0 512.8,327.1 517.8,332.6 522.8,338.2 527.8,344.0 532.8,350.2 537.8,356.7 542.8,363.5 547.8,370.8 552.8,378.4 557.8,386.3 562.8,394.2 567.8,402.1 572.8,410.1 577.8,418.2 582.8,426.3 587.8,434.6 592.8,442.9 597.8,451.3 602.8,459.8 607.8,468.4 612.8,477.2 617.8,486.0 622.8,495.0 627.8,503.9 632.8,512.9 637.8,521.8 642.8,530.8 647.8,539.8 652.8,549.2 657.8,558.7 662.8,568.0 667.8,576.9 672.8,585.1 677.8,592.7 682.8,601.0 687.8,609.1 692.8,615.7 697.8,619.6 702.8,619.6 707.8,617.7 712.8,614.8 717.8,612.0 722.8,610.2 727.8,610.6 732.8,613.8 737.8,616.8 742.8,617.2 747.8,617.2 752.8,617.1 757.8,616.9 762.8,616.4 767.8,615.7 772.8,614.8 777.8,613.0 782.8,610.9 787.8,608.5 792.8,605.8 797.8,602.8 802.8,599.7 807.8,596.4 812.8,592.9 817.8,589.3 822.8,585.6 827.8,581.9 832.8,578.4 837.8,575.1 842.8,571.9 847.8,568.8 852.8,565.8 857.8,562.8 862.8,560.1 867.8,557.4 872.8,554.9 877.8,552.9 882.8,551.0 887.8,549.5 892.8,548.4 897.8,547.5 902.8,546.9 907.8,547.0 912.8,548.0 917.8,549.4 922.8,551.2 927.8,553.8 932.8,557.1 937.8,561.2 942.8,566.6 947.8,573.3 952.8,581.5 957.8,592.3 962.8,604.8 967.8,618.5 972.8,634.6 977.8,651.1 1012.8,721.3" fill="none" stroke="#98c7e0" stroke-width="4.20" stroke-linejoin="round"/>
<polyline points="72.5,386.0 105.2,386.0 206.3,335.0 265.5,312.0 307.5,304.0 340.1,298.0 366.7,294.0 389.2,292.0 408.6,292.0 425.8,294.0 441.2,296.0 455.1,291.0 467.8,293.5 472.8,294.6 477.8,295.5 482.8,296.5 487.8,297.8 492.8,299.5 497.8,301.7 502.8,304.3 507.8,307.3 512.8,310.8 517.8,314.2 522.8,317.6 527.8,321.3 532.8,325.9 537.8,331.5 542.8,337.2 547.8,342.9 552.8,348.6 557.8,354.4 562.8,360.4 567.8,366.5 572.8,372.6 577.8,379.1 582.8,386.0 587.8,393.4 592.8,400.9 597.8,408.6 602.8,416.3 607.8,424.2 612.8,432.2 617.8,440.0 622.8,447.7 627.8,455.1 632.8,462.6 637.8,470.1 642.8,477.6 647.8,485.3 652.8,493.2 657.8,501.3 662.8,509.8 667.8,518.7 672.8,527.7 677.8,536.6 682.8,545.4 687.8,554.4 692.8,564.0 697.8,575.6 702.8,584.4 707.8,591.6 712.8,597.9 717.8,603.2 722.8,607.4 727.8,610.7 732.8,613.6 737.8,615.4 742.8,615.5 747.8,615.3 752.8,614.9 757.8,614.5 762.8,613.9 767.8,613.1 772.8,611.9 777.8,610.1 782.8,607.8 787.8,605.4 792.8,602.6 797.8,599.6 802.8,596.4 807.8,593.1 812.8,589.6 817.8,586.1 822.8,582.3 827.8,578.6 832.8,575.2 837.8,571.9 842.8,568.7 847.8,565.5 852.8,562.5 857.8,559.5 862.8,556.7 867.8,554.0 872.8,551.5 877.8,549.4 882.8,547.5 887.8,546.0 892.8,544.8 897.8,543.9 902.8,543.3 907.8,543.4 912.8,544.2 917.8,545.6 922.8,547.3 927.8,549.8 932.8,553.1 937.8,557.1 942.8,562.5 947.8,569.1 952.8,577.3 957.8,587.9 962.8,600.3 967.8,613.9 972.8,629.7 977.8,646.1 982.8,661.4 1012.8,721.5" fill="none" stroke="#7fb9da" stroke-width="4.20" stroke-linejoin="round"/>
<polyline points="72.5,366.5 105.2,366.5 206.3,323.5 265.5,302.0 307.5,294.5 340.1,289.0 366.7,285.5 389.2,284.0 408.6,284.5 425.8,287.0 441.2,290.0 455.1,289.0 467.8,292.4 472.8,293.7 477.8,294.9 482.8,296.2 487.8,297.7 492.8,299.7 497.8,302.1 502.8,304.8 507.8,308.0 512.8,311.6 517.8,315.3 522.8,318.9 527.8,322.8 532.8,327.4 537.8,333.0 542.8,338.7 547.8,344.4 552.8,350.1 557.8,355.9 562.8,361.9 567.8,368.0 572.8,374.1 577.8,380.6 582.8,387.5 587.8,394.8 592.8,402.4 597.8,410.1 602.8,417.9 607.8,425.8 612.8,433.9 617.8,441.8 622.8,449.4 627.8,456.9 632.8,464.4 637.8,471.8 642.8,479.3 647.8,487.1 652.8,495.1 657.8,503.3 662.8,511.9 667.8,520.8 672.8,529.9 677.8,538.9 682.8,548.1 687.8,557.3 692.8,566.6 697.8,576.6 702.8,584.8 707.8,591.4 712.8,597.2 717.8,602.1 722.8,606.0 727.8,608.8 732.8,611.3 737.8,612.9 742.8,613.0 747.8,612.5 752.8,611.7 757.8,611.0 762.8,610.1 767.8,609.1 772.8,607.7 777.8,605.7 782.8,603.3 787.8,600.8 792.8,597.9 797.8,594.8 802.8,591.6 807.8,588.2 812.8,584.7 817.8,581.2 822.8,577.5 827.8,573.8 832.8,570.3 837.8,567.0 842.8,563.8 847.8,560.6 852.8,557.5 857.8,554.5 862.8,551.7 867.8,548.9 872.8,546.4 877.8,544.2 882.8,542.3 887.8,540.6 892.8,539.5 897.8,538.4 902.8,537.8 907.8,537.8 912.8,538.7 917.8,539.9 922.8,541.5 927.8,543.9 932.8,547.0 937.8,550.9 942.8,556.2 947.8,562.8 952.8,570.9 957.8,581.4 962.8,593.6 967.8,606.9 972.8,622.4 977.8,638.7 982.8,654.6 1012.8,721.7" fill="none" stroke="#75b4d8" stroke-width="4.20" stroke-linejoin="round"/>
<polyline points="72.5,347.0 105.2,347.0 206.3,312.0 265.5,292.0 307.5,285.0 340.1,280.0 366.7,277.0 389.2,276.0 408.6,277.0 425.8,280.0 441.2,284.0 455.1,287.0 467.8,291.3 472.8,292.9 477.8,294.4 482.8,295.9 487.8,297.7 492.8,299.8 497.8,302.4 502.8,305.3 507.8,308.7 512.8,312.5 517.8,316.4 522.8,320.1 527.8,324.2 532.8,329.0 537.8,334.6 542.8,340.2 547.8,345.9 552.8,351.6 557.8,357.4 562.8,363.4 567.8,369.5 572.8,375.6 577.8,382.1 582.8,389.0 587.8,396.3 592.8,403.9 597.8,411.6 602.8,419.4 607.8,427.4 612.8,435.5 617.8,443.5 622.8,451.2 627.8,458.6 632.8,466.1 637.8,473.6 642.8,481.1 647.8,488.9 652.8,496.9 657.8,505.3 662.8,514.0 667.8,523.0 672.8,532.1 677.8,541.3 682.8,550.8 687.8,560.3 692.8,569.2 697.8,577.6 702.8,585.2 707.8,591.2 712.8,596.4 717.8,601.0 722.8,604.5 727.8,607.0 732.8,609.1 737.8,610.4 742.8,610.4 747.8,609.6 752.8,608.5 757.8,607.5 762.8,606.4 767.8,605.0 772.8,603.4 777.8,601.3 782.8,598.8 787.8,596.2 792.8,593.2 797.8,590.0 802.8,586.7 807.8,583.3 812.8,579.9 817.8,576.3 822.8,572.6 827.8,569.0 832.8,565.5 837.8,562.2 842.8,558.9 847.8,555.7 852.8,552.6 857.8,549.5 862.8,546.6 867.8,543.8 872.8,541.2 877.8,539.0 882.8,537.0 887.8,535.3 892.8,534.1 897.8,533.0 902.8,532.3 907.8,532.3 912.8,533.1 917.8,534.2 922.8,535.6 927.8,537.9 932.8,541.0 937.8,544.8 942.8,550.0 947.8,556.6 952.8,564.5 957.8,574.8 962.8,586.9 967.8,600.0 972.8,615.1 977.8,631.3 982.8,647.8 987.8,665.9 1012.8,721.9" fill="none" stroke="#6baed6" stroke-width="4.20" stroke-linejoin="round"/>
<polyline points="72.5,341.5 105.2,341.5 206.3,302.0 265.5,282.0 307.5,275.5 340.1,271.0 366.7,268.5 389.2,267.5 408.6,268.5 425.8,271.5 441.2,275.5 455.1,285.1 467.8,290.2 472.8,292.1 477.8,293.8 482.8,295.6 487.8,297.6 492.8,300.0 497.8,302.8 502.8,305.8 507.8,309.4 512.8,313.5 517.8,317.4 522.8,321.2 527.8,325.2 532.8,330.0 537.8,335.6 542.8,341.2 547.8,346.9 552.8,352.6 557.8,358.4 562.8,364.4 567.8,370.5 572.8,376.6 577.8,383.1 582.8,390.0 587.8,397.3 592.8,404.9 597.8,412.6 602.8,420.4 607.8,428.4 612.8,436.5 617.8,444.5 622.8,452.2 627.8,459.8 632.8,467.4 637.8,474.9 642.8,482.5 647.8,490.4 652.8,498.5 657.8,506.8 662.8,515.5 667.8,524.5 672.8,533.6 677.8,542.8 682.8,552.3 687.8,561.8 692.8,570.7 697.8,579.0 702.8,586.4 707.8,591.8 712.8,596.3 717.8,600.2 722.8,603.1 727.8,605.1 732.8,606.9 737.8,608.0 742.8,607.9 747.8,606.8 752.8,605.3 757.8,604.0 762.8,602.6 767.8,601.0 772.8,599.2 777.8,596.9 782.8,594.3 787.8,591.5 792.8,588.5 797.8,585.2 802.8,581.9 807.8,578.5 812.8,575.0 817.8,571.4 822.8,567.8 827.8,564.1 832.8,560.7 837.8,557.3 842.8,554.0 847.8,550.8 852.8,547.6 857.8,544.5 862.8,541.6 867.8,538.7 872.8,536.1 877.8,533.8 882.8,531.7 887.8,530.0 892.8,528.7 897.8,527.5 902.8,526.8 907.8,526.8 912.8,527.5 917.8,528.5 922.8,529.8 927.8,532.0 932.8,535.0 937.8,538.7 942.8,543.8 947.8,550.3 952.8,558.1 957.8,568.3 962.8,580.2 967.8,593.1 972.8,607.9 977.8,623.9 982.8,641.0 987.8,660.4 1012.8,722.2" fill="none" stroke="#61a7d2" stroke-width="4.20" stroke-linejoin="round"/>
<polyline points="72.5,336.0 105.2,336.0 206.3,292.0 265.5,272.0 307.5,266.0 340.1,262.0 366.7,260.0 389.2,259.0 408.6,260.0 425.8,263.0 441.2,267.0 455.1,283.1 467.8,289.1 472.8,291.2 477.8,293.3 482.8,295.3 487.8,297.6 492.8,300.2 497.8,303.1 502.8,306.3 507.8,310.2 512.8,314.4 517.8,318.4 522.8,322.2 527.8,326.2 532.8,331.0 537.8,336.6 542.8,342.2 547.8,347.9 552.8,353.6 557.8,359.4 562.8,365.4 567.8,371.5 572.8,377.6 577.8,384.1 582.8,391.0 587.8,398.3 592.8,405.9 597.8,413.6 602.8,421.4 607.8,429.4 612.8,437.5 617.8,445.5 622.8,453.3 627.8,461.0 632.8,468.6 637.8,476.3 642.8,484.0 647.8,491.9 652.8,500.0 657.8,508.3 662.8,517.0 667.8,526.0 672.8,535.1 677.8,544.3 682.8,553.9 687.8,563.4 692.8,572.2 697.8,580.4 702.8,587.7 707.8,592.4 712.8,596.2 717.8,599.3 722.8,601.7 727.8,603.3 732.8,604.7 737.8,605.5 742.8,605.3 747.8,603.9 752.8,602.1 757.8,600.5 762.8,598.8 767.8,597.0 772.8,594.9 777.8,592.5 782.8,589.8 787.8,586.9 792.8,583.7 797.8,580.4 802.8,577.0 807.8,573.6 812.8,570.1 817.8,566.5 822.8,562.9 827.8,559.3 832.8,555.8 837.8,552.5 842.8,549.1 847.8,545.9 852.8,542.6 857.8,539.5 862.8,536.5 867.8,533.6 872.8,530.9 877.8,528.6 882.8,526.5 887.8,524.7 892.8,523.3 897.8,522.1 902.8,521.3 907.8,521.3 912.8,521.9 917.8,522.7 922.8,523.9 927.8,526.1 932.8,529.0 937.8,532.5 942.8,537.6 947.8,544.0 952.8,551.7 957.8,561.8 962.8,573.5 967.8,586.2 972.8,600.6 977.8,616.5 982.8,634.2 987.8,655.0 1012.8,722.4" fill="none" stroke="#57a1ce" stroke-width="4.20" stroke-linejoin="round"/>
<polyline points="72.5,328.5 105.2,328.5 206.3,287.8 265.5,269.5 307.5,263.8 340.1,259.8 366.7,257.8 389.2,257.0 408.6,258.0 425.8,260.8 441.2,264.5 455.1,278.9 467.8,285.6 472.8,288.2 477.8,290.8 482.8,293.3 487.8,296.0 492.8,299.0 497.8,302.3 502.8,305.9 507.8,309.9 512.8,314.2 517.8,318.5 522.8,322.7 527.8,327.1 532.8,332.2 537.8,338.3 542.8,344.3 547.8,350.1 552.8,355.8 557.8,361.6 562.8,367.6 567.8,373.8 572.8,380.2 577.8,386.8 582.8,393.7 587.8,401.0 592.8,408.5 597.8,416.1 602.8,423.9 607.8,431.9 612.8,440.0 617.8,448.0 622.8,455.8 627.8,463.5 632.8,471.2 637.8,478.9 642.8,486.7 647.8,494.6 652.8,502.6 657.8,510.8 662.8,519.4 667.8,528.1 672.8,536.9 677.8,546.1 682.8,556.0 687.8,565.9 692.8,574.6 697.8,581.8 702.8,588.0 707.8,592.2 712.8,595.6 717.8,598.3 722.8,600.2 727.8,601.4 732.8,602.4 737.8,603.0 742.8,602.8 747.8,601.1 752.8,598.9 757.8,597.0 762.8,595.0 767.8,593.0 772.8,590.7 777.8,588.1 782.8,585.3 787.8,582.3 792.8,579.0 797.8,575.6 802.8,572.2 807.8,568.7 812.8,565.2 817.8,561.6 822.8,558.0 827.8,554.5 832.8,551.0 837.8,547.6 842.8,544.3 847.8,541.0 852.8,537.7 857.8,534.5 862.8,531.5 867.8,528.5 872.8,525.8 877.8,523.4 882.8,521.2 887.8,519.4 892.8,518.0 897.8,516.7 902.8,515.8 907.8,515.8 912.8,516.3 917.8,517.0 922.8,518.1 927.8,520.1 932.8,522.9 937.8,526.4 942.8,531.4 947.8,537.7 952.8,545.3 957.8,555.2 962.8,566.8 967.8,579.3 972.8,593.4 977.8,609.2 982.8,627.3 987.8,649.5 1012.8,722.7" fill="none" stroke="#4a98c9" stroke-width="4.20" stroke-linejoin="round"/>
<polyline points="72.5,321.0 105.2,321.0 206.3,283.5 265.5,267.0 307.5,261.5 340.1,257.5 366.7,255.5 389.2,255.0 408.6,256.0 425.8,258.5 441.2,262.0 455.1,274.8 467.8,282.1 472.8,285.3 477.8,288.3 482.8,291.3 487.8,294.5 492.8,297.9 497.8,301.5 502.8,305.4 507.8,309.6 512.8,314.1 517.8,318.6 522.8,323.1 527.8,327.9 532.8,333.5 537.8,340.0 542.8,346.3 547.8,352.2 552.8,358.0 557.8,363.8 562.8,369.9 567.8,376.2 572.8,382.7 577.8,389.4 582.8,396.4 587.8,403.7 592.8,411.1 597.8,418.6 602.8,426.4 607.8,434.3 612.8,442.4 617.8,450.5 622.8,458.4 627.8,466.1 632.8,473.9 637.8,481.6 642.8,489.4 647.8,497.3 652.8,505.3 657.8,513.4 662.8,521.7 667.8,530.2 672.8,538.8 677.8,547.8 682.8,558.1 687.8,568.4 692.8,577.0 697.8,583.1 702.8,588.3 707.8,592.0 712.8,595.0 717.8,597.2 722.8,598.8 727.8,599.6 732.8,600.2 737.8,600.6 742.8,600.2 747.8,598.2 752.8,595.7 757.8,593.5 762.8,591.3 767.8,589.0 772.8,586.4 777.8,583.7 782.8,580.7 787.8,577.6 792.8,574.3 797.8,570.8 802.8,567.3 807.8,563.8 812.8,560.3 817.8,556.8 822.8,553.2 827.8,549.6 832.8,546.1 837.8,542.7 842.8,539.4 847.8,536.1 852.8,532.7 857.8,529.5 862.8,526.4 867.8,523.4 872.8,520.7 877.8,518.2 882.8,516.0 887.8,514.1 892.8,512.6 897.8,511.2 902.8,510.3 907.8,510.3 912.8,510.7 917.8,511.3 922.8,512.3 927.8,514.2 932.8,516.9 937.8,520.3 942.8,525.2 947.8,531.5 952.8,538.9 957.8,548.7 962.8,560.1 967.8,572.3 972.8,586.2 977.8,601.9 982.8,620.5 987.8,644.0 992.8,667.0 1012.8,722.9" fill="none" stroke="#3e8ec4" stroke-width="4.20" stroke-linejoin="round"/>
<polyline points="72.5,313.5 105.2,313.5 206.3,279.2 265.5,264.5 307.5,259.2 340.1,255.2 366.7,253.2 389.2,253.0 408.6,254.0 425.8,256.2 441.2,259.5 455.1,270.6 467.8,278.6 472.8,282.3 477.8,285.8 482.8,289.3 487.8,292.9 492.8,296.7 497.8,300.7 502.8,304.9 507.8,309.3 512.8,314.0 517.8,318.7 522.8,323.6 527.8,328.7 532.8,334.8 537.8,341.7 542.8,348.4 547.8,354.4 552.8,360.2 557.8,366.0 562.8,372.1 567.8,378.6 572.8,385.2 577.8,392.1 582.8,399.2 587.8,406.3 592.8,413.7 597.8,421.2 602.8,428.9 607.8,436.8 612.8,444.9 617.8,453.0 622.8,460.9 627.8,468.7 632.8,476.5 637.8,484.2 642.8,492.1 647.8,499.9 652.8,507.9 657.8,515.9 662.8,524.1 667.8,532.3 672.8,540.7 677.8,549.6 682.8,560.2 687.8,570.9 692.8,579.5 697.8,584.5 702.8,588.6 707.8,591.8 712.8,594.3 717.8,596.2 722.8,597.3 727.8,597.8 732.8,598.0 737.8,598.1 742.8,597.6 747.8,595.3 752.8,592.4 757.8,589.9 762.8,587.5 767.8,584.9 772.8,582.2 777.8,579.3 782.8,576.2 787.8,573.0 792.8,569.5 797.8,566.0 802.8,562.5 807.8,559.0 812.8,555.4 817.8,551.9 822.8,548.3 827.8,544.8 832.8,541.3 837.8,537.9 842.8,534.5 847.8,531.1 852.8,527.8 857.8,524.5 862.8,521.4 867.8,518.3 872.8,515.5 877.8,513.0 882.8,510.7 887.8,508.8 892.8,507.2 897.8,505.8 902.8,504.8 907.8,504.8 912.8,505.1 917.8,505.6 922.8,506.4 927.8,508.3 932.8,510.9 937.8,514.1 942.8,519.0 947.8,525.2 952.8,532.5 957.8,542.1 962.8,553.3 967.8,565.4 972.8,579.0 977.8,594.5 982.8,613.6 987.8,638.5 992.8,663.1 1012.8,723.2" fill="none" stroke="#3383bf" stroke-width="4.20" stroke-linejoin="round"/>
<polyline points="72.5,306.0 105.2,306.0 206.3,275.0 265.5,262.0 307.5,257.0 340.1,253.0 366.7,251.0 389.2,251.0 408.6,252.0 425.8,254.0 441.2,257.0 455.1,266.5 467.8,275.1 472.8,279.3 477.8,283.3 482.8,287.3 487.8,291.3 492.8,295.6 497.8,300.0 502.8,304.5 507.8,309.1 512.8,313.8 517.8,318.8 522.8,324.0 527.8,329.6 532.8,336.0 537.8,343.5 542.8,350.4 547.8,356.6 552.8,362.4 557.8,368.3 562.8,374.4 567.8,380.9 572.8,387.8 577.8,394.8 582.8,401.9 587.8,409.0 592.8,416.3 597.8,423.7 602.8,431.3 607.8,439.3 612.8,447.4 617.8,455.5 622.8,463.4 627.8,471.3 632.8,479.1 637.8,486.9 642.8,494.7 647.8,502.6 652.8,510.5 657.8,518.5 662.8,526.5 667.8,534.4 672.8,542.6 677.8,551.4 682.8,562.4 687.8,573.5 692.8,581.9 697.8,585.9 702.8,589.0 707.8,591.6 712.8,593.7 717.8,595.1 722.8,595.9 727.8,595.9 732.8,595.8 737.8,595.7 742.8,595.0 747.8,592.5 752.8,589.2 757.8,586.4 762.8,583.7 767.8,580.9 772.8,578.0 777.8,574.9 782.8,571.7 787.8,568.4 792.8,564.8 797.8,561.2 802.8,557.6 807.8,554.1 812.8,550.5 817.8,547.0 822.8,543.4 827.8,539.9 832.8,536.5 837.8,533.0 842.8,529.6 847.8,526.2 852.8,522.8 857.8,519.5 862.8,516.3 867.8,513.2 872.8,510.4 877.8,507.8 882.8,505.5 887.8,503.4 892.8,501.8 897.8,500.3 902.8,499.3 907.8,499.3 912.8,499.5 917.8,499.9 922.8,500.6 927.8,502.3 932.8,504.8 937.8,508.0 942.8,512.8 947.8,518.9 952.8,526.2 957.8,535.6 962.8,546.6 967.8,558.5 972.8,571.8 977.8,587.2 982.8,606.7 987.8,633.0 992.8,659.3 1012.8,723.4" fill="none" stroke="#2979b9" stroke-width="4.20" stroke-linejoin="round"/>
<polyline points="72.5,301.0 105.2,301.0 206.3,270.7 265.5,258.0 307.5,253.3 340.1,249.3 366.7,247.7 389.2,248.0 408.6,249.3 425.8,251.7 441.2,255.0 455.1,265.2 467.8,274.3 472.8,278.6 477.8,282.7 482.8,286.8 487.8,291.0 492.8,295.4 497.8,300.1 502.8,304.8 507.8,309.7 512.8,314.7 517.8,319.9 522.8,325.4 527.8,331.2 532.8,337.8 537.8,345.4 542.8,352.5 547.8,358.6 552.8,364.5 557.8,370.3 562.8,376.4 567.8,382.9 572.8,389.8 577.8,396.8 582.8,403.9 587.8,411.0 592.8,418.3 597.8,425.7 602.8,433.3 607.8,441.3 612.8,449.4 617.8,457.5 622.8,465.4 627.8,473.3 632.8,481.1 637.8,488.9 642.8,496.7 647.8,504.6 652.8,512.5 657.8,520.5 662.8,528.5 667.8,536.4 672.8,544.6 677.8,553.4 682.8,564.6 687.8,575.8 692.8,584.1 697.8,587.5 702.8,589.9 707.8,592.0 712.8,593.6 717.8,594.7 722.8,595.3 727.8,595.3 732.8,595.2 737.8,594.9 742.8,594.1 747.8,591.4 752.8,588.1 757.8,585.2 762.8,582.4 767.8,579.5 772.8,576.5 777.8,573.3 782.8,570.1 787.8,566.7 792.8,563.1 797.8,559.5 802.8,555.9 807.8,552.3 812.8,548.8 817.8,545.2 822.8,541.7 827.8,538.2 832.8,534.7 837.8,531.3 842.8,527.9 847.8,524.5 852.8,521.1 857.8,517.7 862.8,514.5 867.8,511.4 872.8,508.6 877.8,506.0 882.8,503.6 887.8,501.6 892.8,499.9 897.8,498.4 902.8,497.4 907.8,497.3 912.8,497.5 917.8,497.9 922.8,498.5 927.8,500.2 932.8,502.7 937.8,505.8 942.8,510.6 947.8,516.7 952.8,523.9 957.8,533.3 962.8,544.3 967.8,556.1 972.8,569.2 977.8,584.6 982.8,604.3 987.8,631.0 992.8,657.9 1012.8,723.5" fill="none" stroke="#2272b5" stroke-width="4.20" stroke-linejoin="round"/>
<polyline points="72.5,296.0 105.2,296.0 206.3,266.3 265.5,254.0 307.5,249.7 340.1,245.7 366.7,244.3 389.2,245.0 408.6,246.7 425.8,249.3 441.2,253.0 455.1,263.9 467.8,273.5 472.8,277.9 477.8,282.1 482.8,286.3 487.8,290.6 492.8,295.3 497.8,300.2 502.8,305.2 507.8,310.3 512.8,315.5 517.8,321.0 522.8,326.7 527.8,332.8 532.8,339.6 537.8,347.3 542.8,354.5 547.8,360.7 552.8,366.5 557.8,372.3 562.8,378.4 567.8,384.9 572.8,391.8 577.8,398.8 582.8,405.9 587.8,413.0 592.8,420.3 597.8,427.7 602.8,435.3 607.8,443.3 612.8,451.4 617.8,459.5 622.8,467.4 627.8,475.3 632.8,483.1 637.8,490.9 642.8,498.7 647.8,506.6 652.8,514.5 657.8,522.5 662.8,530.5 667.8,538.4 672.8,546.6 677.8,555.4 682.8,566.8 687.8,578.2 692.8,586.3 697.8,589.1 702.8,590.9 707.8,592.4 712.8,593.6 717.8,594.4 722.8,594.8 727.8,594.8 732.8,594.5 737.8,594.1 742.8,593.1 747.8,590.3 752.8,586.9 757.8,583.9 762.8,581.0 767.8,578.0 772.8,575.0 777.8,571.8 782.8,568.5 787.8,565.1 792.8,561.5 797.8,557.8 802.8,554.2 807.8,550.6 812.8,547.0 817.8,543.5 822.8,540.0 827.8,536.5 832.8,533.0 837.8,529.6 842.8,526.1 847.8,522.7 852.8,519.3 857.8,515.9 862.8,512.7 867.8,509.6 872.8,506.7 877.8,504.1 882.8,501.7 887.8,499.7 892.8,498.0 897.8,496.5 902.8,495.4 907.8,495.3 912.8,495.5 917.8,495.8 922.8,496.4 927.8,498.1 932.8,500.5 937.8,503.6 942.8,508.4 947.8,514.4 952.8,521.6 957.8,531.0 962.8,541.9 967.8,553.6 972.8,566.7 977.8,582.0 982.8,601.8 987.8,629.1 992.8,656.5 1012.8,723.6" fill="none" stroke="#1c6bb0" stroke-width="4.20" stroke-linejoin="round"/>
<polyline points="72.5,291.0 105.2,291.0 206.3,262.0 265.5,250.0 307.5,246.0 340.1,242.0 366.7,241.0 389.2,242.0 408.6,244.0 425.8,247.0 441.2,251.0 455.1,262.6 467.8,272.6 472.8,277.1 477.8,281.5 482.8,285.8 487.8,290.3 492.8,295.1 497.8,300.3 502.8,305.5 507.8,310.9 512.8,316.4 517.8,322.1 522.8,328.0 527.8,334.3 532.8,341.4 537.8,349.3 542.8,356.5 547.8,362.7 552.8,368.5 557.8,374.3 562.8,380.4 567.8,386.9 572.8,393.8 577.8,400.8 582.8,407.9 587.8,415.0 592.8,422.3 597.8,429.7 602.8,437.3 607.8,445.3 612.8,453.4 617.8,461.5 622.8,469.4 627.8,477.3 632.8,485.1 637.8,492.9 642.8,500.7 647.8,508.6 652.8,516.5 657.8,524.5 662.8,532.5 667.8,540.4 672.8,548.6 677.8,557.5 682.8,569.0 687.8,580.6 692.8,588.6 697.8,590.7 702.8,591.9 707.8,592.8 712.8,593.5 717.8,594.0 722.8,594.2 727.8,594.2 732.8,593.8 737.8,593.2 742.8,592.1 747.8,589.3 752.8,585.8 757.8,582.7 762.8,579.7 767.8,576.6 772.8,573.4 777.8,570.2 782.8,566.9 787.8,563.4 792.8,559.8 797.8,556.1 802.8,552.5 807.8,548.9 812.8,545.3 817.8,541.8 822.8,538.3 827.8,534.8 832.8,531.3 837.8,527.8 842.8,524.4 847.8,521.0 852.8,517.5 857.8,514.2 862.8,511.0 867.8,507.8 872.8,504.9 877.8,502.3 882.8,499.9 887.8,497.8 892.8,496.1 897.8,494.5 902.8,493.5 907.8,493.4 912.8,493.5 917.8,493.8 922.8,494.3 927.8,496.0 932.8,498.4 937.8,501.5 942.8,506.2 947.8,512.2 952.8,519.3 957.8,528.6 962.8,539.5 967.8,551.2 972.8,564.1 977.8,579.4 982.8,599.4 987.8,627.1 992.8,655.1 1012.8,723.7" fill="none" stroke="#1764ab" stroke-width="4.20" stroke-linejoin="round"/>
<polyline points="72.5,285.7 105.2,285.7 206.3,257.2 265.5,246.3 307.5,242.5 340.1,237.9 366.7,237.3 389.2,238.8 408.6,241.4 425.8,245.2 441.2,250.2 455.1,262.5 467.8,273.3 472.8,278.2 477.8,282.9 482.8,287.6 487.8,292.4 492.8,297.5 497.8,302.8 502.8,308.1 507.8,313.6 512.8,319.1 517.8,324.9 522.8,330.8 527.8,337.0 532.8,343.8 537.8,351.3 542.8,358.3 547.8,364.5 552.8,370.4 557.8,376.3 562.8,382.6 567.8,389.2 572.8,396.2 577.8,403.3 582.8,410.5 587.8,417.6 592.8,424.8 597.8,432.1 602.8,439.6 607.8,447.4 612.8,455.6 617.8,463.8 622.8,472.0 627.8,480.0 632.8,488.0 637.8,495.9 642.8,503.8 647.8,511.7 652.8,519.5 657.8,527.5 662.8,535.5 667.8,543.4 672.8,551.5 677.8,560.1 682.8,570.8 687.8,581.6 692.8,589.2 697.8,592.0 702.8,593.8 707.8,594.6 712.8,594.7 717.8,594.4 722.8,594.1 727.8,593.9 732.8,593.5 737.8,592.9 742.8,591.7 747.8,588.9 752.8,585.3 757.8,582.2 762.8,579.2 767.8,576.1 772.8,572.9 777.8,569.6 782.8,566.3 787.8,562.8 792.8,559.1 797.8,555.4 802.8,551.8 807.8,548.2 812.8,544.7 817.8,541.1 822.8,537.6 827.8,534.1 832.8,530.7 837.8,527.2 842.8,523.8 847.8,520.3 852.8,516.9 857.8,513.5 862.8,510.3 867.8,507.1 872.8,504.2 877.8,501.6 882.8,499.2 887.8,497.1 892.8,495.4 897.8,493.8 902.8,492.8 907.8,492.7 912.8,492.8 917.8,493.0 922.8,493.6 927.8,495.2 932.8,497.6 937.8,500.6 942.8,505.4 947.8,511.4 952.8,518.5 957.8,527.8 962.8,538.6 967.8,550.3 972.8,563.2 977.8,578.5 982.8,598.4 987.8,626.4 992.8,654.6 1012.8,723.7" fill="none" stroke="#1461a8" stroke-width="4.20" stroke-linejoin="round"/>
<polyline points="72.5,280.5 105.2,280.5 206.3,252.4 265.5,242.6 307.5,239.0 340.1,233.8 366.7,233.6 389.2,235.6 408.6,238.8 425.8,243.4 441.2,249.4 455.1,262.3 467.8,274.0 472.8,279.2 477.8,284.4 482.8,289.4 487.8,294.6 492.8,299.9 497.8,305.3 502.8,310.8 507.8,316.3 512.8,321.9 517.8,327.7 522.8,333.6 527.8,339.7 532.8,346.2 537.8,353.3 542.8,360.0 547.8,366.3 552.8,372.3 557.8,378.4 562.8,384.7 567.8,391.5 572.8,398.6 577.8,405.8 582.8,413.0 587.8,420.2 592.8,427.3 597.8,434.4 602.8,441.8 607.8,449.6 612.8,457.7 617.8,466.1 622.8,474.5 627.8,482.8 632.8,490.9 637.8,498.9 642.8,506.8 647.8,514.7 652.8,522.6 657.8,530.5 662.8,538.4 667.8,546.4 672.8,554.4 677.8,562.7 682.8,572.7 687.8,582.5 692.8,589.7 697.8,593.3 702.8,595.7 707.8,596.3 712.8,595.9 717.8,594.9 722.8,594.0 727.8,593.6 732.8,593.2 737.8,592.6 742.8,591.4 747.8,588.5 752.8,584.9 757.8,581.8 762.8,578.7 767.8,575.5 772.8,572.3 777.8,569.1 782.8,565.7 787.8,562.2 792.8,558.5 797.8,554.8 802.8,551.2 807.8,547.6 812.8,544.0 817.8,540.5 822.8,537.0 827.8,533.5 832.8,530.0 837.8,526.6 842.8,523.1 847.8,519.7 852.8,516.2 857.8,512.8 862.8,509.6 867.8,506.5 872.8,503.5 877.8,500.9 882.8,498.5 887.8,496.4 892.8,494.7 897.8,493.1 902.8,492.0 907.8,491.9 912.8,492.0 917.8,492.3 922.8,492.8 927.8,494.4 932.8,496.8 937.8,499.8 942.8,504.5 947.8,510.5 952.8,517.6 957.8,526.9 962.8,537.7 967.8,549.3 972.8,562.2 977.8,577.5 982.8,597.5 987.8,625.6 992.8,654.1 1012.8,723.7" fill="none" stroke="#115da5" stroke-width="4.20" stroke-linejoin="round"/>
<polyline points="72.5,275.2 105.2,275.2 206.3,247.6 265.5,238.8 307.5,235.6 340.1,229.8 366.7,229.9 389.2,232.4 408.6,236.2 425.8,241.6 441.2,248.6 455.1,262.1 467.8,274.6 472.8,280.3 477.8,285.8 482.8,291.2 487.8,296.7 492.8,302.2 497.8,307.8 502.8,313.4 507.8,319.0 512.8,324.7 517.8,330.5 522.8,336.3 527.8,342.3 532.8,348.6 537.8,355.3 542.8,361.8 547.8,368.0 552.8,374.2 557.8,380.4 562.8,386.9 567.8,393.8 572.8,401.0 577.8,408.3 582.8,415.6 587.8,422.8 592.8,429.8 597.8,436.8 602.8,444.1 607.8,451.7 612.8,459.9 617.8,468.4 622.8,477.0 627.8,485.6 632.8,493.8 637.8,501.9 642.8,509.8 647.8,517.7 652.8,525.6 657.8,533.5 662.8,541.4 667.8,549.4 672.8,557.3 677.8,565.4 682.8,574.5 687.8,583.5 692.8,590.3 697.8,594.5 702.8,597.6 707.8,598.1 712.8,597.0 717.8,595.4 722.8,593.9 727.8,593.3 732.8,592.9 737.8,592.3 742.8,591.0 747.8,588.1 752.8,584.5 757.8,581.3 762.8,578.2 767.8,575.0 772.8,571.8 777.8,568.5 782.8,565.1 787.8,561.6 792.8,557.9 797.8,554.2 802.8,550.5 807.8,546.9 812.8,543.3 817.8,539.8 822.8,536.3 827.8,532.8 832.8,529.4 837.8,525.9 842.8,522.5 847.8,519.0 852.8,515.5 857.8,512.2 862.8,508.9 867.8,505.8 872.8,502.8 877.8,500.2 882.8,497.8 887.8,495.6 892.8,494.0 897.8,492.3 902.8,491.3 907.8,491.2 912.8,491.3 917.8,491.5 922.8,492.0 927.8,493.6 932.8,496.0 937.8,499.0 942.8,503.7 947.8,509.7 952.8,516.8 957.8,526.0 962.8,536.8 967.8,548.4 972.8,561.3 977.8,576.5 982.8,596.6 987.8,624.9 992.8,653.6 1012.8,723.8" fill="none" stroke="#0f59a3" stroke-width="4.20" stroke-linejoin="round"/>
<polyline points="72.5,270.0 105.2,270.0 206.3,242.8 265.5,235.1 307.5,232.1 340.1,225.7 366.7,226.2 389.2,229.2 408.6,233.6 425.8,239.8 441.2,247.8 455.1,261.9 467.8,275.3 472.8,281.3 477.8,287.2 482.8,293.1 487.8,298.9 492.8,304.6 497.8,310.3 502.8,316.0 507.8,321.7 512.8,327.5 517.8,333.3 522.8,339.1 527.8,345.0 532.8,351.1 537.8,357.3 542.8,363.6 547.8,369.8 552.8,376.1 557.8,382.5 562.8,389.1 567.8,396.1 572.8,403.4 577.8,410.8 582.8,418.2 587.8,425.4 592.8,432.3 597.8,439.2 602.8,446.3 607.8,453.9 612.8,462.0 617.8,470.7 622.8,479.5 627.8,488.3 632.8,496.8 637.8,504.9 642.8,512.8 647.8,520.7 652.8,528.6 657.8,536.4 662.8,544.4 667.8,552.4 672.8,560.3 677.8,568.0 682.8,576.4 687.8,584.4 692.8,590.9 697.8,595.8 702.8,599.5 707.8,599.8 712.8,598.2 717.8,595.8 722.8,593.9 727.8,593.0 732.8,592.5 737.8,592.0 742.8,590.7 747.8,587.7 752.8,584.0 757.8,580.8 762.8,577.7 767.8,574.5 772.8,571.2 777.8,567.9 782.8,564.5 787.8,561.0 792.8,557.3 797.8,553.5 802.8,549.9 807.8,546.3 812.8,542.7 817.8,539.2 822.8,535.7 827.8,532.2 832.8,528.7 837.8,525.3 842.8,521.8 847.8,518.4 852.8,514.9 857.8,511.5 862.8,508.3 867.8,505.1 872.8,502.2 877.8,499.5 882.8,497.1 887.8,494.9 892.8,493.2 897.8,491.6 902.8,490.6 907.8,490.4 912.8,490.6 917.8,490.7 922.8,491.2 927.8,492.8 932.8,495.2 937.8,498.2 942.8,502.9 947.8,508.9 952.8,515.9 957.8,525.1 962.8,535.9 967.8,547.5 972.8,560.3 977.8,575.5 982.8,595.7 987.8,624.2 992.8,653.0 1012.8,723.8" fill="none" stroke="#0c56a0" stroke-width="4.20" stroke-linejoin="round"/>
<polyline points="72.5,264.7 105.2,264.7 206.3,238.0 265.5,231.4 307.5,228.6 340.1,221.6 366.7,222.5 389.2,226.0 408.6,231.0 425.8,238.0 441.2,247.0 455.1,261.7 467.8,276.0 472.8,282.4 477.8,288.6 482.8,294.9 487.8,301.0 492.8,307.0 497.8,312.8 502.8,318.6 507.8,324.4 512.8,330.3 517.8,336.1 522.8,341.9 527.8,347.7 532.8,353.5 537.8,359.3 542.8,365.4 547.8,371.6 552.8,378.0 557.8,384.6 562.8,391.3 567.8,398.4 572.8,405.8 577.8,413.4 582.8,420.8 587.8,428.0 592.8,434.8 597.8,441.6 602.8,448.6 607.8,456.0 612.8,464.2 617.8,473.0 622.8,482.1 627.8,491.1 632.8,499.7 637.8,507.9 642.8,515.9 647.8,523.8 652.8,531.6 657.8,539.4 662.8,547.4 667.8,555.4 672.8,563.2 677.8,570.7 682.8,578.2 687.8,585.4 692.8,591.5 697.8,597.1 702.8,601.4 707.8,601.6 712.8,599.4 717.8,596.3 722.8,593.8 727.8,592.7 732.8,592.2 737.8,591.6 742.8,590.3 747.8,587.3 752.8,583.6 757.8,580.4 762.8,577.2 767.8,573.9 772.8,570.6 777.8,567.3 782.8,563.9 787.8,560.3 792.8,556.6 797.8,552.9 802.8,549.2 807.8,545.6 812.8,542.0 817.8,538.5 822.8,535.0 827.8,531.5 832.8,528.1 837.8,524.6 842.8,521.2 847.8,517.7 852.8,514.2 857.8,510.8 862.8,507.6 867.8,504.4 872.8,501.5 877.8,498.8 882.8,496.4 887.8,494.2 892.8,492.5 897.8,490.9 902.8,489.8 907.8,489.7 912.8,489.8 917.8,490.0 922.8,490.5 927.8,492.0 932.8,494.4 937.8,497.4 942.8,502.0 947.8,508.0 952.8,515.1 957.8,524.3 962.8,535.0 967.8,546.6 972.8,559.4 977.8,574.6 982.8,594.8 987.8,623.4 992.8,652.5 1012.8,723.8" fill="none" stroke="#09529d" stroke-width="4.20" stroke-linejoin="round"/>
<polyline points="72.5,267.8 105.2,267.8 206.3,240.5 265.5,233.6 307.5,230.4 340.1,223.9 366.7,224.9 389.2,228.2 408.6,233.0 425.8,239.8 441.2,248.2 455.1,262.3 467.8,276.4 472.8,282.5 477.8,288.5 482.8,294.5 487.8,300.5 492.8,306.6 497.8,312.6 502.8,318.6 507.8,324.6 512.8,330.6 517.8,336.7 522.8,342.8 527.8,349.0 532.8,355.4 537.8,361.9 542.8,368.4 547.8,374.9 552.8,381.3 557.8,387.8 562.8,394.6 567.8,401.7 572.8,409.1 577.8,416.6 582.8,424.1 587.8,431.2 592.8,438.0 597.8,444.8 602.8,451.8 607.8,459.3 612.8,467.5 617.8,476.4 622.8,485.6 627.8,494.7 632.8,503.4 637.8,511.8 642.8,520.1 647.8,528.2 652.8,536.2 657.8,544.2 662.8,552.1 667.8,560.1 672.8,567.7 677.8,574.7 682.8,581.6 687.8,588.1 692.8,593.5 697.8,598.5 702.8,602.2 707.8,602.3 712.8,599.8 717.8,596.4 722.8,593.6 727.8,592.5 732.8,591.9 737.8,591.3 742.8,589.9 747.8,586.9 752.8,583.2 757.8,579.9 762.8,576.7 767.8,573.4 772.8,570.1 777.8,566.7 782.8,563.3 787.8,559.7 792.8,556.0 797.8,552.2 802.8,548.6 807.8,545.0 812.8,541.4 817.8,537.9 822.8,534.4 827.8,530.9 832.8,527.4 837.8,524.0 842.8,520.5 847.8,517.0 852.8,513.6 857.8,510.2 862.8,506.9 867.8,503.7 872.8,500.8 877.8,498.1 882.8,495.7 887.8,493.5 892.8,491.8 897.8,490.2 902.8,489.1 907.8,489.0 912.8,489.1 917.8,489.2 922.8,489.7 927.8,491.2 932.8,493.6 937.8,496.6 942.8,501.2 947.8,507.2 952.8,514.2 957.8,523.4 962.8,534.1 967.8,545.7 972.8,558.4 977.8,573.6 982.8,593.8 987.8,622.7 992.8,652.0 1012.8,723.9" fill="none" stroke="#084e98" stroke-width="4.20" stroke-linejoin="round"/>
<polyline points="72.5,270.9 105.2,270.9 206.3,243.0 265.5,235.7 307.5,232.3 340.1,226.3 366.7,227.2 389.2,230.5 408.6,235.0 425.8,241.5 441.2,249.5 455.1,262.9 467.8,276.8 472.8,282.7 477.8,288.4 482.8,294.2 487.8,300.1 492.8,306.1 497.8,312.4 502.8,318.6 507.8,324.8 512.8,331.0 517.8,337.3 522.8,343.7 527.8,350.3 532.8,357.2 537.8,364.5 542.8,371.5 547.8,378.1 552.8,384.6 557.8,391.1 562.8,397.8 567.8,404.9 572.8,412.4 577.8,419.9 582.8,427.3 587.8,434.5 592.8,441.3 597.8,448.0 602.8,455.0 607.8,462.5 612.8,470.8 617.8,479.8 622.8,489.1 627.8,498.3 632.8,507.2 637.8,515.8 642.8,524.3 647.8,532.7 652.8,540.9 657.8,548.9 662.8,556.9 667.8,564.8 672.8,572.2 677.8,578.8 682.8,585.1 687.8,590.8 692.8,595.6 697.8,599.8 702.8,603.1 707.8,603.0 712.8,600.3 717.8,596.5 722.8,593.4 727.8,592.2 732.8,591.6 737.8,591.0 742.8,589.6 747.8,586.5 752.8,582.7 757.8,579.4 762.8,576.2 767.8,572.8 772.8,569.5 777.8,566.1 782.8,562.7 787.8,559.1 792.8,555.4 797.8,551.6 802.8,547.9 807.8,544.3 812.8,540.7 817.8,537.2 822.8,533.7 827.8,530.3 832.8,526.8 837.8,523.3 842.8,519.9 847.8,516.4 852.8,512.9 857.8,509.5 862.8,506.2 867.8,503.1 872.8,500.1 877.8,497.4 882.8,495.0 887.8,492.8 892.8,491.1 897.8,489.4 902.8,488.4 907.8,488.2 912.8,488.3 917.8,488.5 922.8,488.9 927.8,490.4 932.8,492.8 937.8,495.7 942.8,500.4 947.8,506.3 952.8,513.4 957.8,522.5 962.8,533.2 967.8,544.7 972.8,557.5 977.8,572.6 982.8,592.9 987.8,621.9 992.8,651.5 1012.8,723.9" fill="none" stroke="#084a92" stroke-width="4.20" stroke-linejoin="round"/>
<polyline points="72.5,273.9 105.2,273.9 206.3,245.5 265.5,237.8 307.5,234.2 340.1,228.7 366.7,229.6 389.2,232.8 408.6,237.0 425.8,243.2 441.2,250.8 455.1,263.5 467.8,277.2 472.8,282.8 477.8,288.3 482.8,293.8 487.8,299.6 492.8,305.7 497.8,312.2 502.8,318.6 507.8,325.0 512.8,331.3 517.8,337.9 522.8,344.6 527.8,351.6 532.8,359.1 537.8,367.1 542.8,374.6 547.8,381.4 552.8,387.9 557.8,394.3 562.8,401.1 567.8,408.2 572.8,415.6 577.8,423.1 582.8,430.6 587.8,437.7 592.8,444.5 597.8,451.3 602.8,458.2 607.8,465.8 612.8,474.1 617.8,483.2 622.8,492.6 627.8,501.9 632.8,511.0 637.8,519.8 642.8,528.5 647.8,537.1 652.8,545.5 657.8,553.7 662.8,561.6 667.8,569.5 672.8,576.7 677.8,582.9 682.8,588.5 687.8,593.6 692.8,597.7 697.8,601.2 702.8,603.9 707.8,603.7 712.8,600.7 717.8,596.6 722.8,593.3 727.8,592.0 732.8,591.4 737.8,590.7 742.8,589.2 747.8,586.1 752.8,582.3 757.8,579.0 762.8,575.7 767.8,572.3 772.8,568.9 777.8,565.5 782.8,562.1 787.8,558.5 792.8,554.7 797.8,551.0 802.8,547.3 807.8,543.7 812.8,540.1 817.8,536.6 822.8,533.1 827.8,529.6 832.8,526.1 837.8,522.7 842.8,519.2 847.8,515.7 852.8,512.2 857.8,508.8 862.8,505.6 867.8,502.4 872.8,499.4 877.8,496.8 882.8,494.3 887.8,492.1 892.8,490.4 897.8,488.7 902.8,487.6 907.8,487.5 912.8,487.6 917.8,487.7 922.8,488.1 927.8,489.6 932.8,492.0 937.8,494.9 942.8,499.6 947.8,505.5 952.8,512.5 957.8,521.7 962.8,532.3 967.8,543.8 972.8,556.5 977.8,571.7 982.8,592.0 987.8,621.2 992.8,651.0 1012.8,723.9" fill="none" stroke="#08468c" stroke-width="4.20" stroke-linejoin="round"/>
<polyline points="72.5,277.0 105.2,277.0 206.3,248.0 265.5,240.0 307.5,236.0 340.1,231.0 366.7,232.0 389.2,235.0 408.6,239.0 425.8,245.0 441.2,252.0 455.1,264.1 467.8,277.6 472.8,283.0 477.8,288.2 482.8,293.5 487.8,299.1 492.8,305.3 497.8,312.0 502.8,318.7 507.8,325.1 512.8,331.7 517.8,338.5 522.8,345.6 527.8,352.9 532.8,360.9 537.8,369.7 542.8,377.6 547.8,384.6 552.8,391.2 557.8,397.6 562.8,404.3 567.8,411.5 572.8,418.9 577.8,426.4 582.8,433.8 587.8,441.0 592.8,447.8 597.8,454.5 602.8,461.5 607.8,469.0 612.8,477.4 617.8,486.6 622.8,496.0 627.8,505.6 632.8,514.7 637.8,523.7 642.8,532.7 647.8,541.6 652.8,550.2 657.8,558.4 662.8,566.4 667.8,574.2 672.8,581.2 677.8,586.9 682.8,591.9 687.8,596.3 692.8,599.7 697.8,602.6 702.8,604.7 707.8,604.4 712.8,601.2 717.8,596.8 722.8,593.1 727.8,591.7 732.8,591.1 737.8,590.4 742.8,588.9 747.8,585.7 752.8,581.9 757.8,578.5 762.8,575.1 767.8,571.8 772.8,568.4 777.8,565.0 782.8,561.5 787.8,557.9 792.8,554.1 797.8,550.3 802.8,546.6 807.8,543.0 812.8,539.4 817.8,535.9 822.8,532.4 827.8,529.0 832.8,525.5 837.8,522.0 842.8,518.6 847.8,515.1 852.8,511.6 857.8,508.2 862.8,504.9 867.8,501.7 872.8,498.7 877.8,496.1 882.8,493.6 887.8,491.4 892.8,489.7 897.8,488.0 902.8,486.9 907.8,486.8 912.8,486.8 917.8,486.9 922.8,487.3 927.8,488.9 932.8,491.2 937.8,494.1 942.8,498.7 947.8,504.7 952.8,511.7 957.8,520.8 962.8,531.4 967.8,542.9 972.8,555.6 977.8,570.7 982.8,591.1 987.8,620.5 992.8,650.5 1012.8,724.0" fill="none" stroke="#084286" stroke-width="4.20" stroke-linejoin="round"/>
<polyline points="72.5,279.9 105.2,279.9 206.3,250.0 265.5,241.5 307.5,237.5 340.1,232.8 366.7,233.5 389.2,236.2 408.6,240.2 425.8,246.2 441.2,253.0 455.1,265.6 467.8,279.9 472.8,285.7 477.8,291.5 482.8,297.4 487.8,303.5 492.8,309.9 497.8,316.7 502.8,323.4 507.8,330.1 512.8,336.7 517.8,343.4 522.8,350.1 527.8,357.1 532.8,364.7 537.8,372.9 542.8,380.6 547.8,387.6 552.8,394.2 557.8,400.8 562.8,407.6 567.8,414.7 572.8,422.2 577.8,429.7 582.8,437.1 587.8,444.2 592.8,450.9 597.8,457.6 602.8,464.5 607.8,472.0 612.8,480.5 617.8,489.8 622.8,499.4 627.8,509.2 632.8,518.5 637.8,527.7 642.8,537.0 647.8,546.1 652.8,554.8 657.8,563.0 662.8,570.6 667.8,578.0 672.8,584.6 677.8,589.7 682.8,594.1 687.8,597.8 692.8,600.8 697.8,603.2 702.8,605.0 707.8,604.6 712.8,601.3 717.8,596.7 722.8,593.0 727.8,591.5 732.8,590.9 737.8,590.2 742.8,588.6 747.8,585.4 752.8,581.5 757.8,578.1 762.8,574.8 767.8,571.4 772.8,567.9 777.8,564.5 782.8,561.0 787.8,557.4 792.8,553.6 797.8,549.8 802.8,546.2 807.8,542.5 812.8,538.9 817.8,535.4 822.8,531.9 827.8,528.5 832.8,525.0 837.8,521.5 842.8,518.1 847.8,514.6 852.8,511.1 857.8,507.7 862.8,504.4 867.8,501.2 872.8,498.2 877.8,495.5 882.8,493.0 887.8,490.9 892.8,489.1 897.8,487.4 902.8,486.4 907.8,486.2 912.8,486.3 917.8,486.4 922.8,486.7 927.8,488.3 932.8,490.6 937.8,493.5 942.8,498.1 947.8,504.0 952.8,511.0 957.8,520.1 962.8,530.8 967.8,542.2 972.8,554.8 977.8,570.0 982.8,590.4 987.8,619.9 992.8,650.1 1012.8,724.0" fill="none" stroke="#083e80" stroke-width="4.20" stroke-linejoin="round"/>
<polyline points="72.5,282.8 105.2,282.8 206.3,252.0 265.5,243.0 307.5,239.0 340.1,234.5 366.7,235.0 389.2,237.5 408.6,241.5 425.8,247.5 441.2,254.0 455.1,267.1 467.8,282.3 472.8,288.5 477.8,294.9 482.8,301.4 487.8,308.0 492.8,314.6 497.8,321.4 502.8,328.2 507.8,335.0 512.8,341.7 517.8,348.4 522.8,354.7 527.8,361.3 532.8,368.4 537.8,376.1 542.8,383.6 547.8,390.5 552.8,397.2 557.8,403.9 562.8,410.8 567.8,418.0 572.8,425.5 577.8,433.0 582.8,440.3 587.8,447.4 592.8,454.1 597.8,460.6 602.8,467.5 607.8,475.0 612.8,483.6 617.8,493.0 622.8,502.8 627.8,512.7 632.8,522.2 637.8,531.7 642.8,541.2 647.8,550.6 652.8,559.4 657.8,567.5 662.8,574.9 667.8,581.9 672.8,587.9 677.8,592.5 682.8,596.2 687.8,599.4 692.8,601.8 697.8,603.8 702.8,605.3 707.8,604.9 712.8,601.4 717.8,596.7 722.8,592.9 727.8,591.3 732.8,590.7 737.8,589.9 742.8,588.3 747.8,585.1 752.8,581.2 757.8,577.8 762.8,574.4 767.8,571.0 772.8,567.5 777.8,564.1 782.8,560.6 787.8,556.9 792.8,553.2 797.8,549.4 802.8,545.7 807.8,542.0 812.8,538.5 817.8,534.9 822.8,531.5 827.8,528.0 832.8,524.5 837.8,521.0 842.8,517.6 847.8,514.1 852.8,510.6 857.8,507.2 862.8,503.9 867.8,500.7 872.8,497.7 877.8,495.0 882.8,492.5 887.8,490.3 892.8,488.6 897.8,486.9 902.8,485.8 907.8,485.7 912.8,485.7 917.8,485.8 922.8,486.2 927.8,487.7 932.8,490.0 937.8,492.9 942.8,497.5 947.8,503.4 952.8,510.4 957.8,519.5 962.8,530.1 967.8,541.5 972.8,554.1 977.8,569.2 982.8,589.7 987.8,619.4 992.8,649.7 1012.8,724.0" fill="none" stroke="#083979" stroke-width="4.20" stroke-linejoin="round"/>
<polyline points="72.5,285.6 105.2,285.6 206.3,254.0 265.5,244.5 307.5,240.5 340.1,236.2 366.7,236.5 389.2,238.8 408.6,242.8 425.8,248.8 441.2,255.0 455.1,268.6 467.8,284.6 472.8,291.3 477.8,298.3 482.8,305.4 487.8,312.4 492.8,319.3 497.8,326.1 502.8,332.9 507.8,339.9 512.8,346.8 517.8,353.3 522.8,359.3 527.8,365.4 532.8,372.1 537.8,379.4 542.8,386.5 547.8,393.4 552.8,400.2 557.8,407.1 562.8,414.0 567.8,421.3 572.8,428.7 577.8,436.2 582.8,443.6 587.8,450.6 592.8,457.2 597.8,463.7 602.8,470.5 607.8,478.0 612.8,486.6 617.8,496.2 622.8,506.2 627.8,516.3 632.8,526.0 637.8,535.6 642.8,545.5 647.8,555.1 652.8,564.1 657.8,572.1 662.8,579.1 667.8,585.8 672.8,591.3 677.8,595.3 682.8,598.4 687.8,600.9 692.8,602.8 697.8,604.4 702.8,605.6 707.8,605.1 712.8,601.5 717.8,596.7 722.8,592.7 727.8,591.2 732.8,590.5 737.8,589.7 742.8,588.0 747.8,584.8 752.8,580.9 757.8,577.4 762.8,574.0 767.8,570.6 772.8,567.1 777.8,563.6 782.8,560.1 787.8,556.5 792.8,552.7 797.8,548.9 802.8,545.2 807.8,541.6 812.8,538.0 817.8,534.4 822.8,531.0 827.8,527.5 832.8,524.0 837.8,520.6 842.8,517.1 847.8,513.6 852.8,510.1 857.8,506.7 862.8,503.4 867.8,500.2 872.8,497.2 877.8,494.5 882.8,492.0 887.8,489.8 892.8,488.0 897.8,486.3 902.8,485.3 907.8,485.1 912.8,485.2 917.8,485.2 922.8,485.6 927.8,487.1 932.8,489.4 937.8,492.3 942.8,496.9 947.8,502.8 952.8,509.8 957.8,518.8 962.8,529.4 967.8,540.8 972.8,553.4 977.8,568.5 982.8,589.0 987.8,618.8 992.8,649.3 1012.8,724.0" fill="none" stroke="#083572" stroke-width="4.20" stroke-linejoin="round"/>
<polyline points="72.5,288.5 105.2,288.5 206.3,256.0 265.5,246.0 307.5,242.0 340.1,238.0 366.7,238.0 389.2,240.0 408.6,244.0 425.8,250.0 441.2,256.0 455.1,270.1 467.8,286.9 472.8,294.1 477.8,301.6 482.8,309.3 487.8,316.8 492.8,323.9 497.8,330.8 502.8,337.7 507.8,344.8 512.8,351.8 517.8,358.2 522.8,363.9 527.8,369.6 532.8,375.9 537.8,382.6 542.8,389.5 547.8,396.4 552.8,403.2 557.8,410.2 562.8,417.3 567.8,424.6 572.8,432.0 577.8,439.5 582.8,446.9 587.8,453.9 592.8,460.4 597.8,466.8 602.8,473.5 607.8,481.0 612.8,489.7 617.8,499.4 622.8,509.6 627.8,519.9 632.8,529.8 637.8,539.6 642.8,549.7 647.8,559.6 652.8,568.7 657.8,576.6 662.8,583.4 667.8,589.6 672.8,594.7 677.8,598.0 682.8,600.5 687.8,602.4 692.8,603.9 697.8,605.1 702.8,605.9 707.8,605.3 712.8,601.7 717.8,596.7 722.8,592.6 727.8,591.0 732.8,590.2 737.8,589.5 742.8,587.8 747.8,584.5 752.8,580.6 757.8,577.1 762.8,573.6 767.8,570.2 772.8,566.7 777.8,563.2 782.8,559.7 787.8,556.0 792.8,552.2 797.8,548.4 802.8,544.7 807.8,541.1 812.8,537.5 817.8,534.0 822.8,530.5 827.8,527.0 832.8,523.6 837.8,520.1 842.8,516.6 847.8,513.1 852.8,509.6 857.8,506.2 862.8,502.9 867.8,499.7 872.8,496.7 877.8,494.0 882.8,491.5 887.8,489.3 892.8,487.5 897.8,485.8 902.8,484.7 907.8,484.6 912.8,484.6 917.8,484.7 922.8,485.0 927.8,486.5 932.8,488.8 937.8,491.6 942.8,496.2 947.8,502.2 952.8,509.1 957.8,518.2 962.8,528.8 967.8,540.1 972.8,552.7 977.8,567.8 982.8,588.3 987.8,618.2 992.8,648.9 1012.8,724.0" fill="none" stroke="#08306b" stroke-width="4.20" stroke-linejoin="round"/>
<polyline points="414.0,634.0 417.2,626.2 421.7,615.1 426.8,602.6 431.4,590.4 435.4,578.8 439.3,566.9 443.1,554.9 447.0,543.3 450.8,532.3 454.6,521.7 458.5,511.0 462.7,499.4 467.4,486.1 472.5,471.7 477.5,457.8 481.6,446.0 484.6,436.9 486.9,429.7 488.8,423.4 491.0,417.3 493.3,411.3 495.6,405.8 498.1,400.7 500.8,395.7 504.0,391.0 507.5,386.5 511.1,382.3 514.5,378.0 517.7,373.4 520.7,368.7 523.6,364.5 526.3,361.4 528.6,359.7 530.7,358.9 532.7,358.9 535.0,359.0 537.6,359.4 540.5,360.2 543.3,361.2 545.9,362.4 548.0,363.4 549.7,364.4 551.5,365.9 553.7,368.2 556.4,371.7 559.4,376.1 562.5,380.9 565.5,385.9 568.5,390.9 571.4,396.2 574.4,401.7 577.3,407.5 580.2,413.6 583.1,419.9 586.1,426.4 589.0,433.0 592.1,439.9 595.3,447.1 598.3,454.1 600.8,460.4 602.5,465.4 603.7,469.5 604.9,474.0 606.7,480.0 609.5,488.5 612.8,498.6 616.3,509.0 619.7,518.5 623.0,526.8 626.2,534.4 629.5,541.7 632.7,548.8 635.9,555.7 639.1,562.3 642.3,568.7 645.7,574.8 649.3,580.7 653.1,586.3 657.0,591.6 660.8,596.5 664.5,600.8 668.3,604.6 672.0,608.2 676.0,611.7 680.2,615.2 684.6,618.7 689.0,621.9 693.3,624.7 697.2,626.9 700.9,628.7 704.9,630.3 710.0,632.0 716.4,634.3 723.6,636.9 731.6,639.0 740.0,640.0 749.5,639.2 760.0,637.2 770.1,634.9 778.8,633.0 785.1,631.8 789.9,630.7 794.5,629.8 800.0,629.0 806.9,628.3 814.4,627.9 822.4,627.3 830.6,626.5 839.4,625.2 848.8,623.5 858.0,621.9 865.9,620.6 872.3,619.7 877.8,619.0 882.5,618.5 887.0,618.2 891.0,618.2 894.5,618.4 897.8,618.8 901.2,619.4 904.7,620.2 908.3,621.3 911.8,622.5 915.3,624.1 918.9,626.0 922.6,628.1 926.1,630.5 929.4,633.0 932.5,636.1 935.6,639.6 938.2,642.8 940.0,645.0" fill="none" stroke="#ff00ff" stroke-width="3.20" stroke-linejoin="round" stroke-linecap="butt" />
<polyline points="72.5,465.0 105.2,465.0 206.3,391.5 265.5,337.4 307.5,316.0 340.1,298.0 366.7,289.0 389.2,285.3 408.6,285.5 425.8,287.0 441.2,290.0 441.2,290.0 444.2,291.0 448.4,292.4 453.2,294.1 458.0,296.0 462.7,298.2 467.6,300.6 472.6,303.2 477.6,305.9 482.5,308.6 487.4,311.5 492.4,314.5 497.3,317.6 502.2,320.8 507.2,324.1 512.1,327.6 517.0,331.4 521.9,335.5 526.8,339.8 531.6,344.3 536.5,349.0 541.3,353.6 546.1,358.2 551.0,363.2 556.0,369.0 561.2,375.8 566.5,383.3 571.8,391.2 577.3,399.0 582.9,406.7 588.7,414.4 594.5,422.2 600.0,430.0 605.1,437.8 609.9,445.6 614.8,453.6 620.0,462.0 625.8,471.2 632.0,480.9 638.1,490.4 643.6,499.0 648.2,506.3 652.3,512.7 656.1,518.8 660.0,525.0 664.0,531.3 667.8,537.4 671.8,543.8 676.0,551.0 680.7,559.7 685.7,569.6 690.6,579.1 695.0,587.0 698.5,592.8 701.6,597.3 704.4,600.9 707.5,604.0 710.6,606.4 713.7,607.9 717.1,609.3 721.4,611.2 727.0,614.2 733.5,617.9 740.2,621.3 746.5,623.7 752.0,624.9 757.1,625.3 762.3,624.9 768.4,623.7 775.6,621.7 783.5,618.8 791.7,615.3 799.8,611.2 807.7,606.3 815.5,600.6 823.4,594.7 831.2,589.2 839.2,584.1 847.4,579.0 855.3,574.4 862.5,570.4 868.7,567.2 874.3,564.7 879.4,562.7 884.5,561.0 889.4,559.6 894.1,558.5 898.7,557.9 903.3,557.8 908.0,558.2 912.7,559.1 917.5,560.5 922.2,562.5 927.1,565.3 932.0,568.7 936.7,572.6 941.0,576.7 944.6,581.0 947.8,585.6 950.7,590.5 953.5,595.5 956.2,600.9 958.7,606.7 961.0,612.4 962.9,617.5 964.4,621.8 965.6,625.6 966.6,629.3 967.6,633.1 968.8,637.6 970.1,642.5 971.2,646.9 972.0,650.0" fill="none" stroke="#00ff00" stroke-width="5.40" stroke-linejoin="round" stroke-linecap="butt" />
<line x1="702.5" y1="16.3" x2="702.5" y2="633.8" stroke="#bfbfbf" stroke-width="4.9" stroke-dasharray="18.4 7.7" stroke-dashoffset="2.1"/>
<line x1="542" y1="16.3" x2="542" y2="633.8" stroke="#1e90ff" stroke-width="4.9" stroke-dasharray="4.9 8.3" stroke-dashoffset="2.35"/>
<line x1="431.3" y1="16.3" x2="431.3" y2="633.8" stroke="#8fbc8f" stroke-width="4.9" stroke-dasharray="31.6 8 4.9 8" stroke-dashoffset="42.8"/>
<line x1="72.6" y1="266.9" x2="307.5" y2="159.0" stroke="#000" stroke-width="5.6" stroke-dasharray="5.6 9.2"/>
</g>
<g clip-path="url(#cb)">
<polyline points="704.0,1342.8 708.0,1342.8 712.0,1342.4 716.0,1341.8 720.0,1340.9 724.0,1339.9 728.0,1338.8 732.0,1337.5 736.0,1336.1 740.0,1334.6 744.0,1332.9 748.0,1331.1 752.0,1329.2 756.0,1327.3 760.0,1325.3 764.0,1322.8 768.0,1319.4 772.0,1315.4 776.0,1311.0 780.0,1306.5 784.0,1302.1 788.0,1298.2 792.0,1294.8 796.0,1291.5 800.0,1288.4 804.0,1285.3 808.0,1282.4 812.0,1279.6 816.0,1277.0 820.0,1274.6 824.0,1272.3 828.0,1270.1 832.0,1268.0 836.0,1266.1 840.0,1264.3 844.0,1262.5 848.0,1261.0 852.0,1259.6 856.0,1258.2 860.0,1256.9 864.0,1255.7 868.0,1254.6 872.0,1253.6 876.0,1252.7 880.0,1251.9 884.0,1251.2 888.0,1250.5 892.0,1249.9 896.0,1249.5 900.0,1249.2 904.0,1249.4 908.0,1250.2 912.0,1251.6 916.0,1253.2 920.0,1256.5 924.0,1261.2 928.0,1267.0 932.0,1274.6 936.0,1283.7 940.0,1294.9 944.0,1306.3 948.0,1316.9 952.0,1328.0 956.0,1337.6 960.0,1343.6 964.0,1346.9 968.0,1350.2 972.0,1353.3 976.0,1356.1 980.0,1358.5 984.0,1360.6 988.0,1362.5 992.0,1364.2 996.0,1365.6 1000.0,1366.7 1004.0,1367.4 1008.0,1367.9 1012.0,1368.1" fill="none" stroke="#deebf7" stroke-width="1.20" stroke-linejoin="round"/>
<polyline points="704.0,1335.5 708.0,1335.8 712.0,1335.8 716.0,1335.4 720.0,1334.8 724.0,1334.0 728.0,1333.1 732.0,1332.2 736.0,1331.1 740.0,1329.8 744.0,1328.3 748.0,1326.7 752.0,1324.9 756.0,1323.1 760.0,1321.3 764.0,1318.9 768.0,1315.8 772.0,1312.1 776.0,1308.0 780.0,1303.7 784.0,1299.5 788.0,1295.7 792.0,1292.4 796.0,1289.3 800.0,1286.2 804.0,1283.2 808.0,1280.3 812.0,1277.5 816.0,1274.8 820.0,1272.4 824.0,1270.0 828.0,1267.8 832.0,1265.7 836.0,1263.7 840.0,1261.8 844.0,1260.0 848.0,1258.4 852.0,1256.9 856.0,1255.5 860.0,1254.1 864.0,1252.9 868.0,1251.7 872.0,1250.6 876.0,1249.6 880.0,1248.8 884.0,1248.1 888.0,1247.3 892.0,1246.7 896.0,1246.2 900.0,1246.0 904.0,1246.2 908.0,1246.9 912.0,1248.2 916.0,1249.9 920.0,1253.0 924.0,1257.4 928.0,1262.9 932.0,1270.3 936.0,1278.9 940.0,1289.6 944.0,1300.5 948.0,1310.7 952.0,1321.5 956.0,1331.0 960.0,1337.2 964.0,1341.1 968.0,1345.1 972.0,1349.2 976.0,1352.6 980.0,1355.6 984.0,1358.3 988.0,1360.7 992.0,1362.9 996.0,1364.7 1000.0,1366.1 1004.0,1367.2 1008.0,1367.9 1012.0,1368.1" fill="none" stroke="#dceaf6" stroke-width="1.20" stroke-linejoin="round"/>
<polyline points="704.0,1328.2 708.0,1328.9 712.0,1329.2 716.0,1329.0 720.0,1328.6 724.0,1328.0 728.0,1327.5 732.0,1326.8 736.0,1326.0 740.0,1325.0 744.0,1323.7 748.0,1322.2 752.0,1320.6 756.0,1318.9 760.0,1317.3 764.0,1315.1 768.0,1312.2 772.0,1308.8 776.0,1304.9 780.0,1300.9 784.0,1297.0 788.0,1293.3 792.0,1290.1 796.0,1287.0 800.0,1284.0 804.0,1281.1 808.0,1278.2 812.0,1275.4 816.0,1272.7 820.0,1270.2 824.0,1267.8 828.0,1265.5 832.0,1263.3 836.0,1261.3 840.0,1259.4 844.0,1257.5 848.0,1255.8 852.0,1254.3 856.0,1252.8 860.0,1251.3 864.0,1250.0 868.0,1248.8 872.0,1247.6 876.0,1246.6 880.0,1245.7 884.0,1244.9 888.0,1244.2 892.0,1243.5 896.0,1243.0 900.0,1242.8 904.0,1242.9 908.0,1243.6 912.0,1244.9 916.0,1246.5 920.0,1249.5 924.0,1253.7 928.0,1258.9 932.0,1265.9 936.0,1274.1 940.0,1284.2 944.0,1294.6 948.0,1304.5 952.0,1315.0 956.0,1324.3 960.0,1330.7 964.0,1335.2 968.0,1340.0 972.0,1345.1 976.0,1349.2 980.0,1352.7 984.0,1356.0 988.0,1358.9 992.0,1361.5 996.0,1363.8 1000.0,1365.6 1004.0,1367.0 1008.0,1367.8 1012.0,1368.1" fill="none" stroke="#dbe9f6" stroke-width="1.20" stroke-linejoin="round"/>
<polyline points="704.0,1320.9 708.0,1322.0 712.0,1322.6 716.0,1322.6 720.0,1322.4 724.0,1322.1 728.0,1321.8 732.0,1321.4 736.0,1320.9 740.0,1320.1 744.0,1319.1 748.0,1317.8 752.0,1316.3 756.0,1314.8 760.0,1313.2 764.0,1311.3 768.0,1308.7 772.0,1305.5 776.0,1301.9 780.0,1298.1 784.0,1294.4 788.0,1290.8 792.0,1287.7 796.0,1284.7 800.0,1281.8 804.0,1278.9 808.0,1276.1 812.0,1273.3 816.0,1270.6 820.0,1268.0 824.0,1265.5 828.0,1263.2 832.0,1261.0 836.0,1258.9 840.0,1256.9 844.0,1255.0 848.0,1253.2 852.0,1251.6 856.0,1250.0 860.0,1248.6 864.0,1247.2 868.0,1245.9 872.0,1244.6 876.0,1243.5 880.0,1242.6 884.0,1241.8 888.0,1241.0 892.0,1240.3 896.0,1239.8 900.0,1239.5 904.0,1239.6 908.0,1240.3 912.0,1241.6 916.0,1243.1 920.0,1246.0 924.0,1249.9 928.0,1254.9 932.0,1261.5 936.0,1269.3 940.0,1278.9 944.0,1288.8 948.0,1298.3 952.0,1308.4 956.0,1317.6 960.0,1324.3 964.0,1329.3 968.0,1335.0 972.0,1340.9 976.0,1345.8 980.0,1349.8 984.0,1353.6 988.0,1357.1 992.0,1360.2 996.0,1362.9 1000.0,1365.1 1004.0,1366.7 1008.0,1367.7 1012.0,1368.1" fill="none" stroke="#d9e8f5" stroke-width="1.20" stroke-linejoin="round"/>
<polyline points="704.0,1313.6 708.0,1315.1 712.0,1316.0 716.0,1316.3 720.0,1316.2 724.0,1316.1 728.0,1316.1 732.0,1316.0 736.0,1315.8 740.0,1315.3 744.0,1314.5 748.0,1313.3 752.0,1312.0 756.0,1310.6 760.0,1309.2 764.0,1307.5 768.0,1305.1 772.0,1302.2 776.0,1298.9 780.0,1295.3 784.0,1291.8 788.0,1288.4 792.0,1285.4 796.0,1282.4 800.0,1279.6 804.0,1276.8 808.0,1274.0 812.0,1271.2 816.0,1268.4 820.0,1265.8 824.0,1263.3 828.0,1260.9 832.0,1258.7 836.0,1256.5 840.0,1254.5 844.0,1252.5 848.0,1250.7 852.0,1248.9 856.0,1247.3 860.0,1245.8 864.0,1244.3 868.0,1242.9 872.0,1241.6 876.0,1240.5 880.0,1239.5 884.0,1238.6 888.0,1237.8 892.0,1237.1 896.0,1236.6 900.0,1236.3 904.0,1236.4 908.0,1237.0 912.0,1238.2 916.0,1239.8 920.0,1242.5 924.0,1246.2 928.0,1250.9 932.0,1257.2 936.0,1264.5 940.0,1273.6 944.0,1282.9 948.0,1292.1 952.0,1301.9 956.0,1310.9 960.0,1317.8 964.0,1323.5 968.0,1329.9 972.0,1336.8 976.0,1342.4 980.0,1347.0 984.0,1351.3 988.0,1355.3 992.0,1358.9 996.0,1362.0 1000.0,1364.6 1004.0,1366.5 1008.0,1367.7 1012.0,1368.1" fill="none" stroke="#d7e7f5" stroke-width="1.20" stroke-linejoin="round"/>
<polyline points="704.0,1306.3 708.0,1308.1 712.0,1309.4 716.0,1309.9 720.0,1310.0 724.0,1310.2 728.0,1310.4 732.0,1310.6 736.0,1310.7 740.0,1310.5 744.0,1309.9 748.0,1308.9 752.0,1307.7 756.0,1306.5 760.0,1305.2 764.0,1303.6 768.0,1301.5 772.0,1298.9 776.0,1295.9 780.0,1292.5 784.0,1289.2 788.0,1285.9 792.0,1283.0 796.0,1280.2 800.0,1277.4 804.0,1274.7 808.0,1271.9 812.0,1269.0 816.0,1266.3 820.0,1263.6 824.0,1261.1 828.0,1258.6 832.0,1256.3 836.0,1254.1 840.0,1252.0 844.0,1250.0 848.0,1248.1 852.0,1246.3 856.0,1244.6 860.0,1243.0 864.0,1241.5 868.0,1240.0 872.0,1238.7 876.0,1237.4 880.0,1236.3 884.0,1235.4 888.0,1234.7 892.0,1233.9 896.0,1233.4 900.0,1233.0 904.0,1233.1 908.0,1233.7 912.0,1234.9 916.0,1236.4 920.0,1239.0 924.0,1242.5 928.0,1246.9 932.0,1252.8 936.0,1259.7 940.0,1268.2 944.0,1277.0 948.0,1285.8 952.0,1295.3 956.0,1304.2 960.0,1311.4 964.0,1317.6 968.0,1324.8 972.0,1332.7 976.0,1339.0 980.0,1344.1 984.0,1349.0 988.0,1353.5 992.0,1357.6 996.0,1361.1 1000.0,1364.0 1004.0,1366.2 1008.0,1367.6 1012.0,1368.1" fill="none" stroke="#d6e6f4" stroke-width="1.20" stroke-linejoin="round"/>
<polyline points="704.0,1299.0 708.0,1301.2 712.0,1302.7 716.0,1303.5 720.0,1303.9 724.0,1304.2 728.0,1304.8 732.0,1305.3 736.0,1305.6 740.0,1305.7 744.0,1305.3 748.0,1304.4 752.0,1303.4 756.0,1302.3 760.0,1301.2 764.0,1299.8 768.0,1297.9 772.0,1295.6 776.0,1292.8 780.0,1289.7 784.0,1286.6 788.0,1283.5 792.0,1280.7 796.0,1277.9 800.0,1275.2 804.0,1272.5 808.0,1269.8 812.0,1266.9 816.0,1264.1 820.0,1261.4 824.0,1258.8 828.0,1256.3 832.0,1254.0 836.0,1251.7 840.0,1249.5 844.0,1247.5 848.0,1245.5 852.0,1243.6 856.0,1241.9 860.0,1240.2 864.0,1238.6 868.0,1237.1 872.0,1235.7 876.0,1234.4 880.0,1233.2 884.0,1232.3 888.0,1231.5 892.0,1230.7 896.0,1230.1 900.0,1229.8 904.0,1229.8 908.0,1230.4 912.0,1231.6 916.0,1233.0 920.0,1235.5 924.0,1238.7 928.0,1242.9 932.0,1248.4 936.0,1255.0 940.0,1262.9 944.0,1271.2 948.0,1279.6 952.0,1288.8 956.0,1297.5 960.0,1305.0 964.0,1311.8 968.0,1319.7 972.0,1328.5 976.0,1335.6 980.0,1341.2 984.0,1346.7 988.0,1351.7 992.0,1356.3 996.0,1360.2 1000.0,1363.5 1004.0,1366.0 1008.0,1367.6 1012.0,1368.1" fill="none" stroke="#d4e5f4" stroke-width="1.20" stroke-linejoin="round"/>
<polyline points="704.0,1291.6 708.0,1294.3 712.0,1296.1 716.0,1297.1 720.0,1297.7 724.0,1298.3 728.0,1299.1 732.0,1299.9 736.0,1300.5 740.0,1300.8 744.0,1300.7 748.0,1299.9 752.0,1299.0 756.0,1298.1 760.0,1297.2 764.0,1296.0 768.0,1294.4 772.0,1292.3 776.0,1289.8 780.0,1287.0 784.0,1284.0 788.0,1281.1 792.0,1278.3 796.0,1275.6 800.0,1273.0 804.0,1270.4 808.0,1267.6 812.0,1264.8 816.0,1262.0 820.0,1259.2 824.0,1256.6 828.0,1254.0 832.0,1251.6 836.0,1249.3 840.0,1247.1 844.0,1245.0 848.0,1242.9 852.0,1241.0 856.0,1239.1 860.0,1237.4 864.0,1235.8 868.0,1234.2 872.0,1232.7 876.0,1231.3 880.0,1230.1 884.0,1229.1 888.0,1228.3 892.0,1227.5 896.0,1226.9 900.0,1226.5 904.0,1226.6 908.0,1227.1 912.0,1228.2 916.0,1229.7 920.0,1232.0 924.0,1235.0 928.0,1238.9 932.0,1244.1 936.0,1250.2 940.0,1257.5 944.0,1265.3 948.0,1273.4 952.0,1282.2 956.0,1290.8 960.0,1298.5 964.0,1305.9 968.0,1314.7 972.0,1324.4 976.0,1332.1 980.0,1338.4 984.0,1344.3 988.0,1349.9 992.0,1355.0 996.0,1359.4 1000.0,1363.0 1004.0,1365.8 1008.0,1367.5 1012.0,1368.1" fill="none" stroke="#d3e3f3" stroke-width="1.20" stroke-linejoin="round"/>
<polyline points="704.0,1284.3 708.0,1287.3 712.0,1289.5 716.0,1290.7 720.0,1291.5 724.0,1292.4 728.0,1293.4 732.0,1294.5 736.0,1295.4 740.0,1296.0 744.0,1296.1 748.0,1295.5 752.0,1294.7 756.0,1294.0 760.0,1293.2 764.0,1292.1 768.0,1290.8 772.0,1289.0 776.0,1286.8 780.0,1284.2 784.0,1281.4 788.0,1278.6 792.0,1276.0 796.0,1273.4 800.0,1270.8 804.0,1268.3 808.0,1265.5 812.0,1262.7 816.0,1259.9 820.0,1257.0 824.0,1254.3 828.0,1251.7 832.0,1249.3 836.0,1246.9 840.0,1244.6 844.0,1242.4 848.0,1240.3 852.0,1238.3 856.0,1236.4 860.0,1234.6 864.0,1232.9 868.0,1231.3 872.0,1229.7 876.0,1228.2 880.0,1227.0 884.0,1226.0 888.0,1225.1 892.0,1224.3 896.0,1223.7 900.0,1223.3 904.0,1223.3 908.0,1223.8 912.0,1224.9 916.0,1226.3 920.0,1228.4 924.0,1231.2 928.0,1234.9 932.0,1239.7 936.0,1245.4 940.0,1252.2 944.0,1259.5 948.0,1267.2 952.0,1275.7 956.0,1284.1 960.0,1292.1 964.0,1300.0 968.0,1309.6 972.0,1320.3 976.0,1328.7 980.0,1335.5 984.0,1342.0 988.0,1348.1 992.0,1353.6 996.0,1358.5 1000.0,1362.5 1004.0,1365.5 1008.0,1367.4 1012.0,1368.1" fill="none" stroke="#d1e2f3" stroke-width="1.20" stroke-linejoin="round"/>
<polyline points="704.0,1277.0 708.0,1280.4 712.0,1282.9 716.0,1284.4 720.0,1285.3 724.0,1286.4 728.0,1287.7 732.0,1289.1 736.0,1290.3 740.0,1291.2 744.0,1291.5 748.0,1291.0 752.0,1290.4 756.0,1289.8 760.0,1289.1 764.0,1288.3 768.0,1287.2 772.0,1285.7 776.0,1283.7 780.0,1281.4 784.0,1278.8 788.0,1276.2 792.0,1273.6 796.0,1271.1 800.0,1268.7 804.0,1266.1 808.0,1263.4 812.0,1260.6 816.0,1257.7 820.0,1254.9 824.0,1252.1 828.0,1249.4 832.0,1246.9 836.0,1244.5 840.0,1242.2 844.0,1239.9 848.0,1237.7 852.0,1235.7 856.0,1233.7 860.0,1231.8 864.0,1230.1 868.0,1228.3 872.0,1226.7 876.0,1225.2 880.0,1223.9 884.0,1222.8 888.0,1222.0 892.0,1221.1 896.0,1220.5 900.0,1220.0 904.0,1220.0 908.0,1220.5 912.0,1221.6 916.0,1222.9 920.0,1224.9 924.0,1227.5 928.0,1230.9 932.0,1235.3 936.0,1240.6 940.0,1246.8 944.0,1253.6 948.0,1260.9 952.0,1269.1 956.0,1277.4 960.0,1285.7 964.0,1294.2 968.0,1304.5 972.0,1316.2 976.0,1325.3 980.0,1332.6 984.0,1339.7 988.0,1346.3 992.0,1352.3 996.0,1357.6 1000.0,1362.0 1004.0,1365.3 1008.0,1367.4 1012.0,1368.1" fill="none" stroke="#d0e1f2" stroke-width="1.20" stroke-linejoin="round"/>
<polyline points="704.0,1269.7 708.0,1273.5 712.0,1276.3 716.0,1278.0 720.0,1279.1 724.0,1280.5 728.0,1282.1 732.0,1283.7 736.0,1285.2 740.0,1286.4 744.0,1286.9 748.0,1286.6 752.0,1286.1 756.0,1285.6 760.0,1285.1 764.0,1284.5 768.0,1283.7 772.0,1282.5 776.0,1280.7 780.0,1278.6 784.0,1276.2 788.0,1273.7 792.0,1271.3 796.0,1268.8 800.0,1266.5 804.0,1264.0 808.0,1261.3 812.0,1258.5 816.0,1255.6 820.0,1252.7 824.0,1249.8 828.0,1247.1 832.0,1244.6 836.0,1242.1 840.0,1239.7 844.0,1237.4 848.0,1235.2 852.0,1233.0 856.0,1231.0 860.0,1229.0 864.0,1227.2 868.0,1225.4 872.0,1223.7 876.0,1222.1 880.0,1220.8 884.0,1219.7 888.0,1218.8 892.0,1217.9 896.0,1217.2 900.0,1216.8 904.0,1216.7 908.0,1217.2 912.0,1218.2 916.0,1219.5 920.0,1221.4 924.0,1223.8 928.0,1226.9 932.0,1231.0 936.0,1235.8 940.0,1241.5 944.0,1247.7 948.0,1254.7 952.0,1262.6 956.0,1270.8 960.0,1279.2 964.0,1288.3 968.0,1299.4 972.0,1312.0 976.0,1321.9 980.0,1329.8 984.0,1337.4 988.0,1344.5 992.0,1351.0 996.0,1356.7 1000.0,1361.4 1004.0,1365.0 1008.0,1367.3 1012.0,1368.1" fill="none" stroke="#cee0f2" stroke-width="1.20" stroke-linejoin="round"/>
<polyline points="704.0,1262.4 708.0,1266.6 712.0,1269.7 716.0,1271.6 720.0,1273.0 724.0,1274.5 728.0,1276.4 732.0,1278.3 736.0,1280.1 740.0,1281.5 744.0,1282.2 748.0,1282.1 752.0,1281.8 756.0,1281.5 760.0,1281.1 764.0,1280.7 768.0,1280.1 772.0,1279.2 776.0,1277.7 780.0,1275.8 784.0,1273.6 788.0,1271.3 792.0,1268.9 796.0,1266.6 800.0,1264.3 804.0,1261.9 808.0,1259.2 812.0,1256.4 816.0,1253.4 820.0,1250.5 824.0,1247.6 828.0,1244.8 832.0,1242.2 836.0,1239.7 840.0,1237.3 844.0,1234.9 848.0,1232.6 852.0,1230.4 856.0,1228.2 860.0,1226.2 864.0,1224.4 868.0,1222.5 872.0,1220.7 876.0,1219.1 880.0,1217.7 884.0,1216.5 888.0,1215.6 892.0,1214.7 896.0,1214.0 900.0,1213.6 904.0,1213.5 908.0,1213.9 912.0,1214.9 916.0,1216.2 920.0,1217.9 924.0,1220.0 928.0,1222.9 932.0,1226.6 936.0,1231.0 940.0,1236.2 944.0,1241.9 948.0,1248.5 952.0,1256.0 956.0,1264.1 960.0,1272.8 964.0,1282.5 968.0,1294.4 972.0,1307.9 976.0,1318.5 980.0,1326.9 984.0,1335.0 988.0,1342.7 992.0,1349.7 996.0,1355.8 1000.0,1360.9 1004.0,1364.8 1008.0,1367.2 1012.0,1368.1" fill="none" stroke="#ccdff1" stroke-width="1.20" stroke-linejoin="round"/>
<polyline points="704.0,1255.1 708.0,1259.6 712.0,1263.1 716.0,1265.2 720.0,1266.8 724.0,1268.6 728.0,1270.7 732.0,1273.0 736.0,1275.1 740.0,1276.7 744.0,1277.6 748.0,1277.7 752.0,1277.5 756.0,1277.3 760.0,1277.1 764.0,1276.8 768.0,1276.5 772.0,1275.9 776.0,1274.7 780.0,1273.0 784.0,1271.0 788.0,1268.8 792.0,1266.6 796.0,1264.3 800.0,1262.1 804.0,1259.7 808.0,1257.1 812.0,1254.3 816.0,1251.3 820.0,1248.3 824.0,1245.3 828.0,1242.5 832.0,1239.9 836.0,1237.3 840.0,1234.8 844.0,1232.4 848.0,1230.0 852.0,1227.7 856.0,1225.5 860.0,1223.4 864.0,1221.5 868.0,1219.6 872.0,1217.7 876.0,1216.0 880.0,1214.5 884.0,1213.4 888.0,1212.4 892.0,1211.5 896.0,1210.8 900.0,1210.3 904.0,1210.2 908.0,1210.6 912.0,1211.6 916.0,1212.8 920.0,1214.4 924.0,1216.3 928.0,1218.9 932.0,1222.2 936.0,1226.2 940.0,1230.8 944.0,1236.0 948.0,1242.3 952.0,1249.5 956.0,1257.4 960.0,1266.4 964.0,1276.6 968.0,1289.3 972.0,1303.8 976.0,1315.1 980.0,1324.0 984.0,1332.7 988.0,1340.9 992.0,1348.4 996.0,1354.9 1000.0,1360.4 1004.0,1364.5 1008.0,1367.2 1012.0,1368.1" fill="none" stroke="#cbdef1" stroke-width="1.20" stroke-linejoin="round"/>
<polyline points="704.0,1247.7 708.0,1252.7 712.0,1256.5 716.0,1258.9 720.0,1260.6 724.0,1262.6 728.0,1265.0 732.0,1267.6 736.0,1270.0 740.0,1271.9 744.0,1273.0 748.0,1273.2 752.0,1273.2 756.0,1273.1 760.0,1273.1 764.0,1273.0 768.0,1272.9 772.0,1272.6 776.0,1271.6 780.0,1270.2 784.0,1268.4 788.0,1266.4 792.0,1264.2 796.0,1262.0 800.0,1259.9 804.0,1257.6 808.0,1255.0 812.0,1252.1 816.0,1249.1 820.0,1246.1 824.0,1243.1 828.0,1240.2 832.0,1237.5 836.0,1235.0 840.0,1232.4 844.0,1229.9 848.0,1227.4 852.0,1225.1 856.0,1222.8 860.0,1220.7 864.0,1218.7 868.0,1216.7 872.0,1214.7 876.0,1213.0 880.0,1211.4 884.0,1210.2 888.0,1209.3 892.0,1208.3 896.0,1207.6 900.0,1207.1 904.0,1206.9 908.0,1207.3 912.0,1208.2 916.0,1209.4 920.0,1210.9 924.0,1212.5 928.0,1214.9 932.0,1217.9 936.0,1221.4 940.0,1225.5 944.0,1230.2 948.0,1236.1 952.0,1242.9 956.0,1250.7 960.0,1259.9 964.0,1270.7 968.0,1284.2 972.0,1299.6 976.0,1311.6 980.0,1321.2 984.0,1330.4 988.0,1339.1 992.0,1347.1 996.0,1354.1 1000.0,1359.9 1004.0,1364.3 1008.0,1367.1 1012.0,1368.1" fill="none" stroke="#c9ddf0" stroke-width="1.20" stroke-linejoin="round"/>
<polyline points="704.0,1245.5 708.0,1250.1 712.0,1253.7 716.0,1256.0 720.0,1257.7 724.0,1259.7 728.0,1262.1 732.0,1264.6 736.0,1266.9 740.0,1268.7 744.0,1269.8 748.0,1269.8 752.0,1269.7 756.0,1269.6 760.0,1269.5 764.0,1269.3 768.0,1269.2 772.0,1268.8 776.0,1267.8 780.0,1266.4 784.0,1264.6 788.0,1262.6 792.0,1260.4 796.0,1258.2 800.0,1256.1 804.0,1253.8 808.0,1251.2 812.0,1248.3 816.0,1245.3 820.0,1242.2 824.0,1239.2 828.0,1236.3 832.0,1233.6 836.0,1231.0 840.0,1228.5 844.0,1225.9 848.0,1223.4 852.0,1221.0 856.0,1218.7 860.0,1216.5 864.0,1214.5 868.0,1212.4 872.0,1210.5 876.0,1208.6 880.0,1207.1 884.0,1205.8 888.0,1204.8 892.0,1203.8 896.0,1203.1 900.0,1202.5 904.0,1202.4 908.0,1202.7 912.0,1203.5 916.0,1204.7 920.0,1206.0 924.0,1207.6 928.0,1209.8 932.0,1212.6 936.0,1216.0 940.0,1219.8 944.0,1224.3 948.0,1230.0 952.0,1236.7 956.0,1244.4 960.0,1253.6 964.0,1264.5 968.0,1278.1 972.0,1293.5 976.0,1305.7 980.0,1315.6 984.0,1325.3 988.0,1334.8 992.0,1343.9 996.0,1351.8 1000.0,1358.3 1004.0,1363.4 1008.0,1366.8 1012.0,1368.1" fill="none" stroke="#c8dcf0" stroke-width="1.20" stroke-linejoin="round"/>
<polyline points="704.0,1245.7 708.0,1249.5 712.0,1252.7 716.0,1254.8 720.0,1256.4 724.0,1258.2 728.0,1260.4 732.0,1262.7 736.0,1264.7 740.0,1266.3 744.0,1267.1 748.0,1267.0 752.0,1266.7 756.0,1266.4 760.0,1266.0 764.0,1265.7 768.0,1265.4 772.0,1264.8 776.0,1263.7 780.0,1262.2 784.0,1260.3 788.0,1258.2 792.0,1256.0 796.0,1253.7 800.0,1251.5 804.0,1249.1 808.0,1246.5 812.0,1243.6 816.0,1240.6 820.0,1237.6 824.0,1234.6 828.0,1231.7 832.0,1229.0 836.0,1226.4 840.0,1223.8 844.0,1221.3 848.0,1218.7 852.0,1216.3 856.0,1214.0 860.0,1211.7 864.0,1209.6 868.0,1207.6 872.0,1205.6 876.0,1203.7 880.0,1202.1 884.0,1200.8 888.0,1199.7 892.0,1198.7 896.0,1197.9 900.0,1197.3 904.0,1197.1 908.0,1197.4 912.0,1198.2 916.0,1199.3 920.0,1200.5 924.0,1202.0 928.0,1204.1 932.0,1206.9 936.0,1210.2 940.0,1214.0 944.0,1218.4 948.0,1224.0 952.0,1230.7 956.0,1238.3 960.0,1247.4 964.0,1258.2 968.0,1271.4 972.0,1286.5 976.0,1298.6 980.0,1308.7 984.0,1318.8 988.0,1329.3 992.0,1339.8 996.0,1348.9 1000.0,1356.3 1004.0,1362.2 1008.0,1366.3 1012.0,1368.1" fill="none" stroke="#c6dbef" stroke-width="1.20" stroke-linejoin="round"/>
<polyline points="704.0,1245.7 708.0,1249.3 712.0,1252.2 716.0,1254.3 720.0,1255.8 724.0,1257.6 728.0,1259.7 732.0,1261.9 736.0,1263.8 740.0,1265.3 744.0,1266.0 748.0,1265.8 752.0,1265.4 756.0,1265.0 760.0,1264.6 764.0,1264.2 768.0,1263.8 772.0,1263.1 776.0,1262.0 780.0,1260.4 784.0,1258.5 788.0,1256.4 792.0,1254.1 796.0,1251.8 800.0,1249.5 804.0,1247.2 808.0,1244.5 812.0,1241.7 816.0,1238.7 820.0,1235.7 824.0,1232.7 828.0,1229.8 832.0,1227.1 836.0,1224.5 840.0,1221.9 844.0,1219.3 848.0,1216.8 852.0,1214.3 856.0,1212.0 860.0,1209.7 864.0,1207.6 868.0,1205.5 872.0,1203.5 876.0,1201.7 880.0,1200.0 884.0,1198.7 888.0,1197.6 892.0,1196.6 896.0,1195.8 900.0,1195.2 904.0,1194.9 908.0,1195.2 912.0,1195.9 916.0,1197.0 920.0,1198.2 924.0,1199.7 928.0,1201.8 932.0,1204.5 936.0,1207.7 940.0,1211.5 944.0,1215.9 948.0,1221.5 952.0,1228.1 956.0,1235.7 960.0,1244.8 964.0,1255.5 968.0,1268.6 972.0,1283.5 976.0,1295.6 980.0,1305.8 984.0,1316.1 988.0,1327.0 992.0,1338.1 996.0,1347.6 1000.0,1355.4 1004.0,1361.7 1008.0,1366.0 1012.0,1368.1" fill="none" stroke="#c3daee" stroke-width="1.20" stroke-linejoin="round"/>
<polyline points="704.0,1245.8 708.0,1249.1 712.0,1251.9 716.0,1253.9 720.0,1255.4 724.0,1257.1 728.0,1259.1 732.0,1261.2 736.0,1263.1 740.0,1264.5 744.0,1265.1 748.0,1264.8 752.0,1264.4 756.0,1263.9 760.0,1263.4 764.0,1263.0 768.0,1262.5 772.0,1261.8 776.0,1260.6 780.0,1259.0 784.0,1257.0 788.0,1254.9 792.0,1252.6 796.0,1250.3 800.0,1248.0 804.0,1245.6 808.0,1243.0 812.0,1240.1 816.0,1237.1 820.0,1234.1 824.0,1231.1 828.0,1228.2 832.0,1225.6 836.0,1222.9 840.0,1220.3 844.0,1217.7 848.0,1215.2 852.0,1212.7 856.0,1210.4 860.0,1208.1 864.0,1206.0 868.0,1203.9 872.0,1201.9 876.0,1200.0 880.0,1198.3 884.0,1197.0 888.0,1195.9 892.0,1194.9 896.0,1194.0 900.0,1193.4 904.0,1193.2 908.0,1193.4 912.0,1194.1 916.0,1195.2 920.0,1196.4 924.0,1197.8 928.0,1199.9 932.0,1202.5 936.0,1205.8 940.0,1209.5 944.0,1213.9 948.0,1219.5 952.0,1226.1 956.0,1233.6 960.0,1242.7 964.0,1253.3 968.0,1266.3 972.0,1281.1 976.0,1293.2 980.0,1303.5 984.0,1314.0 988.0,1325.2 992.0,1336.7 996.0,1346.7 1000.0,1354.7 1004.0,1361.3 1008.0,1365.9 1012.0,1368.1" fill="none" stroke="#bdd7ec" stroke-width="1.20" stroke-linejoin="round"/>
<polyline points="704.0,1245.8 708.0,1248.9 712.0,1251.5 716.0,1253.5 720.0,1254.9 724.0,1256.6 728.0,1258.5 732.0,1260.6 736.0,1262.4 740.0,1263.7 744.0,1264.2 748.0,1263.8 752.0,1263.3 756.0,1262.8 760.0,1262.3 764.0,1261.7 768.0,1261.2 772.0,1260.4 776.0,1259.2 780.0,1257.5 784.0,1255.6 788.0,1253.4 792.0,1251.1 796.0,1248.7 800.0,1246.5 804.0,1244.1 808.0,1241.4 812.0,1238.5 816.0,1235.6 820.0,1232.5 824.0,1229.6 828.0,1226.7 832.0,1224.0 836.0,1221.4 840.0,1218.8 844.0,1216.2 848.0,1213.6 852.0,1211.1 856.0,1208.8 860.0,1206.5 864.0,1204.4 868.0,1202.3 872.0,1200.2 876.0,1198.3 880.0,1196.7 884.0,1195.3 888.0,1194.2 892.0,1193.2 896.0,1192.3 900.0,1191.7 904.0,1191.4 908.0,1191.7 912.0,1192.3 916.0,1193.3 920.0,1194.5 924.0,1195.9 928.0,1198.0 932.0,1200.6 936.0,1203.8 940.0,1207.6 944.0,1212.0 948.0,1217.5 952.0,1224.1 956.0,1231.6 960.0,1240.6 964.0,1251.2 968.0,1264.1 972.0,1278.8 976.0,1290.9 980.0,1301.1 984.0,1311.8 988.0,1323.3 992.0,1335.4 996.0,1345.7 1000.0,1354.1 1004.0,1360.9 1008.0,1365.7 1012.0,1368.1" fill="none" stroke="#b7d4ea" stroke-width="1.20" stroke-linejoin="round"/>
<polyline points="704.0,1245.9 708.0,1248.7 712.0,1251.2 716.0,1253.1 720.0,1254.5 724.0,1256.1 728.0,1258.0 732.0,1259.9 736.0,1261.7 740.0,1262.9 744.0,1263.3 748.0,1262.9 752.0,1262.3 756.0,1261.7 760.0,1261.1 764.0,1260.5 768.0,1259.9 772.0,1259.1 776.0,1257.8 780.0,1256.1 784.0,1254.1 788.0,1251.9 792.0,1249.6 796.0,1247.2 800.0,1244.9 804.0,1242.5 808.0,1239.8 812.0,1237.0 816.0,1234.0 820.0,1231.0 824.0,1228.0 828.0,1225.1 832.0,1222.5 836.0,1219.8 840.0,1217.2 844.0,1214.6 848.0,1212.0 852.0,1209.6 856.0,1207.2 860.0,1204.9 864.0,1202.7 868.0,1200.6 872.0,1198.6 876.0,1196.7 880.0,1195.0 884.0,1193.6 888.0,1192.5 892.0,1191.5 896.0,1190.6 900.0,1189.9 904.0,1189.7 908.0,1189.9 912.0,1190.5 916.0,1191.5 920.0,1192.7 924.0,1194.1 928.0,1196.1 932.0,1198.7 936.0,1201.9 940.0,1205.6 944.0,1210.0 948.0,1215.5 952.0,1222.0 956.0,1229.5 960.0,1238.5 964.0,1249.0 968.0,1261.8 972.0,1276.4 976.0,1288.5 980.0,1298.8 984.0,1309.6 988.0,1321.5 992.0,1334.0 996.0,1344.7 1000.0,1353.4 1004.0,1360.5 1008.0,1365.5 1012.0,1368.1" fill="none" stroke="#b3d3e8" stroke-width="1.20" stroke-linejoin="round"/>
<polyline points="704.0,1245.9 708.0,1248.5 712.0,1250.9 716.0,1252.7 720.0,1254.0 724.0,1255.6 728.0,1257.4 732.0,1259.3 736.0,1261.0 740.0,1262.1 744.0,1262.4 748.0,1261.9 752.0,1261.3 756.0,1260.6 760.0,1260.0 764.0,1259.3 768.0,1258.6 772.0,1257.7 776.0,1256.4 780.0,1254.7 784.0,1252.7 788.0,1250.4 792.0,1248.1 796.0,1245.7 800.0,1243.4 804.0,1240.9 808.0,1238.3 812.0,1235.4 816.0,1232.4 820.0,1229.4 824.0,1226.5 828.0,1223.6 832.0,1220.9 836.0,1218.3 840.0,1215.6 844.0,1213.0 848.0,1210.5 852.0,1208.0 856.0,1205.6 860.0,1203.3 864.0,1201.1 868.0,1199.0 872.0,1196.9 876.0,1195.0 880.0,1193.3 884.0,1191.9 888.0,1190.8 892.0,1189.7 896.0,1188.8 900.0,1188.2 904.0,1187.9 908.0,1188.1 912.0,1188.7 916.0,1189.7 920.0,1190.8 924.0,1192.2 928.0,1194.2 932.0,1196.8 936.0,1199.9 940.0,1203.6 944.0,1208.0 948.0,1213.5 952.0,1220.0 956.0,1227.4 960.0,1236.4 964.0,1246.9 968.0,1259.6 972.0,1274.0 976.0,1286.1 980.0,1296.5 984.0,1307.5 988.0,1319.6 992.0,1332.6 996.0,1343.7 1000.0,1352.7 1004.0,1360.1 1008.0,1365.4 1012.0,1368.1" fill="none" stroke="#b0d2e7" stroke-width="1.20" stroke-linejoin="round"/>
<polyline points="704.0,1246.0 708.0,1248.3 712.0,1250.5 716.0,1252.3 720.0,1253.6 724.0,1255.1 728.0,1256.8 732.0,1258.7 736.0,1260.2 740.0,1261.3 744.0,1261.5 748.0,1260.9 752.0,1260.2 756.0,1259.6 760.0,1258.8 764.0,1258.1 768.0,1257.3 772.0,1256.4 776.0,1255.0 780.0,1253.2 784.0,1251.2 788.0,1249.0 792.0,1246.6 796.0,1244.2 800.0,1241.8 804.0,1239.4 808.0,1236.7 812.0,1233.8 816.0,1230.9 820.0,1227.9 824.0,1224.9 828.0,1222.1 832.0,1219.4 836.0,1216.7 840.0,1214.1 844.0,1211.5 848.0,1208.9 852.0,1206.4 856.0,1204.0 860.0,1201.7 864.0,1199.5 868.0,1197.4 872.0,1195.3 876.0,1193.4 880.0,1191.7 884.0,1190.2 888.0,1189.1 892.0,1188.0 896.0,1187.1 900.0,1186.5 904.0,1186.2 908.0,1186.3 912.0,1186.9 916.0,1187.9 920.0,1189.0 924.0,1190.3 928.0,1192.3 932.0,1194.8 936.0,1198.0 940.0,1201.7 944.0,1206.0 948.0,1211.5 952.0,1218.0 956.0,1225.4 960.0,1234.3 964.0,1244.7 968.0,1257.3 972.0,1271.6 976.0,1283.7 980.0,1294.2 984.0,1305.3 988.0,1317.8 992.0,1331.3 996.0,1342.7 1000.0,1352.0 1004.0,1359.7 1008.0,1365.2 1012.0,1368.1" fill="none" stroke="#add0e6" stroke-width="1.20" stroke-linejoin="round"/>
<polyline points="704.0,1246.0 708.0,1248.1 712.0,1250.2 716.0,1251.9 720.0,1253.1 724.0,1254.6 728.0,1256.3 732.0,1258.0 736.0,1259.5 740.0,1260.5 744.0,1260.6 748.0,1260.0 752.0,1259.2 756.0,1258.5 760.0,1257.7 764.0,1256.9 768.0,1256.0 772.0,1255.0 776.0,1253.6 780.0,1251.8 784.0,1249.8 788.0,1247.5 792.0,1245.1 796.0,1242.6 800.0,1240.3 804.0,1237.8 808.0,1235.1 812.0,1232.3 816.0,1229.3 820.0,1226.3 824.0,1223.4 828.0,1220.5 832.0,1217.8 836.0,1215.2 840.0,1212.5 844.0,1209.9 848.0,1207.3 852.0,1204.8 856.0,1202.4 860.0,1200.1 864.0,1197.9 868.0,1195.7 872.0,1193.6 876.0,1191.7 880.0,1190.0 884.0,1188.6 888.0,1187.4 892.0,1186.3 896.0,1185.4 900.0,1184.7 904.0,1184.4 908.0,1184.5 912.0,1185.1 916.0,1186.0 920.0,1187.1 924.0,1188.5 928.0,1190.4 932.0,1192.9 936.0,1196.0 940.0,1199.7 944.0,1204.0 948.0,1209.5 952.0,1215.9 956.0,1223.3 960.0,1232.3 964.0,1242.6 968.0,1255.1 972.0,1269.3 976.0,1281.3 980.0,1291.9 984.0,1303.1 988.0,1315.9 992.0,1329.9 996.0,1341.7 1000.0,1351.3 1004.0,1359.3 1008.0,1365.0 1012.0,1368.1" fill="none" stroke="#aacfe5" stroke-width="1.20" stroke-linejoin="round"/>
<polyline points="704.0,1246.0 708.0,1247.9 712.0,1249.8 716.0,1251.5 720.0,1252.7 724.0,1254.1 728.0,1255.7 732.0,1257.4 736.0,1258.8 740.0,1259.7 744.0,1259.7 748.0,1259.0 752.0,1258.2 756.0,1257.4 760.0,1256.5 764.0,1255.6 768.0,1254.7 772.0,1253.7 776.0,1252.2 780.0,1250.4 784.0,1248.3 788.0,1246.0 792.0,1243.6 796.0,1241.1 800.0,1238.7 804.0,1236.3 808.0,1233.6 812.0,1230.7 816.0,1227.7 820.0,1224.8 824.0,1221.8 828.0,1219.0 832.0,1216.3 836.0,1213.6 840.0,1211.0 844.0,1208.3 848.0,1205.8 852.0,1203.2 856.0,1200.8 860.0,1198.5 864.0,1196.3 868.0,1194.1 872.0,1192.0 876.0,1190.1 880.0,1188.3 884.0,1186.9 888.0,1185.7 892.0,1184.6 896.0,1183.7 900.0,1183.0 904.0,1182.7 908.0,1182.8 912.0,1183.3 916.0,1184.2 920.0,1185.3 924.0,1186.6 928.0,1188.5 932.0,1191.0 936.0,1194.1 940.0,1197.7 944.0,1202.1 948.0,1207.5 952.0,1213.9 956.0,1221.3 960.0,1230.2 964.0,1240.5 968.0,1252.9 972.0,1266.9 976.0,1278.9 980.0,1289.5 984.0,1301.0 988.0,1314.1 992.0,1328.6 996.0,1340.8 1000.0,1350.6 1004.0,1358.9 1008.0,1364.9 1012.0,1368.1" fill="none" stroke="#a7cee4" stroke-width="1.20" stroke-linejoin="round"/>
<polyline points="704.0,1246.1 708.0,1247.8 712.0,1249.5 716.0,1251.1 720.0,1252.2 724.0,1253.6 728.0,1255.1 732.0,1256.7 736.0,1258.1 740.0,1258.9 744.0,1258.8 748.0,1258.0 752.0,1257.2 756.0,1256.3 760.0,1255.4 764.0,1254.4 768.0,1253.4 772.0,1252.3 776.0,1250.8 780.0,1249.0 784.0,1246.8 788.0,1244.5 792.0,1242.1 796.0,1239.6 800.0,1237.2 804.0,1234.7 808.0,1232.0 812.0,1229.1 816.0,1226.2 820.0,1223.2 824.0,1220.3 828.0,1217.4 832.0,1214.7 836.0,1212.1 840.0,1209.4 844.0,1206.8 848.0,1204.2 852.0,1201.6 856.0,1199.2 860.0,1196.9 864.0,1194.6 868.0,1192.4 872.0,1190.4 876.0,1188.4 880.0,1186.6 884.0,1185.2 888.0,1184.0 892.0,1182.9 896.0,1181.9 900.0,1181.2 904.0,1180.9 908.0,1181.0 912.0,1181.5 916.0,1182.4 920.0,1183.5 924.0,1184.7 928.0,1186.6 932.0,1189.1 936.0,1192.1 940.0,1195.8 944.0,1200.1 948.0,1205.5 952.0,1211.9 956.0,1219.2 960.0,1228.1 964.0,1238.3 968.0,1250.6 972.0,1264.5 976.0,1276.5 980.0,1287.2 984.0,1298.8 988.0,1312.3 992.0,1327.2 996.0,1339.8 1000.0,1350.0 1004.0,1358.5 1008.0,1364.7 1012.0,1368.1" fill="none" stroke="#a4cce3" stroke-width="1.20" stroke-linejoin="round"/>
<polyline points="704.0,1246.1 708.0,1247.6 712.0,1249.1 716.0,1250.7 720.0,1251.8 724.0,1253.0 728.0,1254.6 732.0,1256.1 736.0,1257.3 740.0,1258.1 744.0,1258.0 748.0,1257.1 752.0,1256.1 756.0,1255.2 760.0,1254.2 764.0,1253.2 768.0,1252.2 772.0,1251.0 776.0,1249.4 780.0,1247.5 784.0,1245.4 788.0,1243.0 792.0,1240.6 796.0,1238.1 800.0,1235.7 804.0,1233.1 808.0,1230.4 812.0,1227.6 816.0,1224.6 820.0,1221.7 824.0,1218.7 828.0,1215.9 832.0,1213.2 836.0,1210.5 840.0,1207.9 844.0,1205.2 848.0,1202.6 852.0,1200.1 856.0,1197.6 860.0,1195.3 864.0,1193.0 868.0,1190.8 872.0,1188.7 876.0,1186.7 880.0,1185.0 884.0,1183.5 888.0,1182.3 892.0,1181.2 896.0,1180.2 900.0,1179.5 904.0,1179.2 908.0,1179.2 912.0,1179.7 916.0,1180.6 920.0,1181.6 924.0,1182.9 928.0,1184.7 932.0,1187.2 936.0,1190.2 940.0,1193.8 944.0,1198.1 948.0,1203.4 952.0,1209.8 956.0,1217.1 960.0,1226.0 964.0,1236.2 968.0,1248.4 972.0,1262.2 976.0,1274.1 980.0,1284.9 984.0,1296.6 988.0,1310.4 992.0,1325.8 996.0,1338.8 1000.0,1349.3 1004.0,1358.0 1008.0,1364.5 1012.0,1368.1" fill="none" stroke="#a1cbe2" stroke-width="1.20" stroke-linejoin="round"/>
<polyline points="704.0,1246.2 708.0,1247.4 712.0,1248.8 716.0,1250.3 720.0,1251.3 724.0,1252.5 728.0,1254.0 732.0,1255.4 736.0,1256.6 740.0,1257.3 744.0,1257.1 748.0,1256.1 752.0,1255.1 756.0,1254.1 760.0,1253.1 764.0,1252.0 768.0,1250.9 772.0,1249.6 776.0,1248.0 780.0,1246.1 784.0,1243.9 788.0,1241.6 792.0,1239.1 796.0,1236.6 800.0,1234.1 804.0,1231.6 808.0,1228.8 812.0,1226.0 816.0,1223.1 820.0,1220.1 824.0,1217.2 828.0,1214.3 832.0,1211.6 836.0,1209.0 840.0,1206.3 844.0,1203.7 848.0,1201.0 852.0,1198.5 856.0,1196.0 860.0,1193.7 864.0,1191.4 868.0,1189.2 872.0,1187.1 876.0,1185.1 880.0,1183.3 884.0,1181.8 888.0,1180.6 892.0,1179.5 896.0,1178.5 900.0,1177.7 904.0,1177.4 908.0,1177.4 912.0,1177.9 916.0,1178.8 920.0,1179.8 924.0,1181.0 928.0,1182.8 932.0,1185.2 936.0,1188.2 940.0,1191.8 944.0,1196.1 948.0,1201.4 952.0,1207.8 956.0,1215.1 960.0,1223.9 964.0,1234.0 968.0,1246.1 972.0,1259.8 976.0,1271.8 980.0,1282.6 984.0,1294.5 988.0,1308.6 992.0,1324.5 996.0,1337.8 1000.0,1348.6 1004.0,1357.6 1008.0,1364.4 1012.0,1368.1" fill="none" stroke="#9fcbe1" stroke-width="1.20" stroke-linejoin="round"/>
<polyline points="704.0,1246.2 708.0,1247.2 712.0,1248.5 716.0,1249.8 720.0,1250.9 724.0,1252.0 728.0,1253.4 732.0,1254.8 736.0,1255.9 740.0,1256.5 744.0,1256.2 748.0,1255.1 752.0,1254.1 756.0,1253.0 760.0,1251.9 764.0,1250.8 768.0,1249.6 772.0,1248.3 776.0,1246.6 780.0,1244.7 784.0,1242.5 788.0,1240.1 792.0,1237.6 796.0,1235.0 800.0,1232.6 804.0,1230.0 808.0,1227.3 812.0,1224.4 816.0,1221.5 820.0,1218.5 824.0,1215.6 828.0,1212.8 832.0,1210.1 836.0,1207.4 840.0,1204.7 844.0,1202.1 848.0,1199.5 852.0,1196.9 856.0,1194.4 860.0,1192.0 864.0,1189.8 868.0,1187.5 872.0,1185.4 876.0,1183.4 880.0,1181.6 884.0,1180.1 888.0,1178.9 892.0,1177.7 896.0,1176.7 900.0,1176.0 904.0,1175.6 908.0,1175.7 912.0,1176.1 916.0,1176.9 920.0,1177.9 924.0,1179.1 928.0,1181.0 932.0,1183.3 936.0,1186.3 940.0,1189.9 944.0,1194.1 948.0,1199.4 952.0,1205.8 956.0,1213.0 960.0,1221.8 964.0,1231.9 968.0,1243.9 972.0,1257.4 976.0,1269.4 980.0,1280.3 984.0,1292.3 988.0,1306.7 992.0,1323.1 996.0,1336.8 1000.0,1347.9 1004.0,1357.2 1008.0,1364.2 1012.0,1368.1" fill="none" stroke="#9dcae1" stroke-width="1.20" stroke-linejoin="round"/>
<polyline points="704.0,1246.3 708.0,1247.0 712.0,1248.1 716.0,1249.4 720.0,1250.4 724.0,1251.5 728.0,1252.9 732.0,1254.2 736.0,1255.2 740.0,1255.7 744.0,1255.3 748.0,1254.2 752.0,1253.1 756.0,1251.9 760.0,1250.8 764.0,1249.5 768.0,1248.3 772.0,1246.9 776.0,1245.2 780.0,1243.3 784.0,1241.0 788.0,1238.6 792.0,1236.1 796.0,1233.5 800.0,1231.0 804.0,1228.4 808.0,1225.7 812.0,1222.9 816.0,1219.9 820.0,1217.0 824.0,1214.1 828.0,1211.2 832.0,1208.5 836.0,1205.8 840.0,1203.2 844.0,1200.5 848.0,1197.9 852.0,1195.3 856.0,1192.8 860.0,1190.4 864.0,1188.1 868.0,1185.9 872.0,1183.8 876.0,1181.8 880.0,1180.0 884.0,1178.4 888.0,1177.2 892.0,1176.0 896.0,1175.0 900.0,1174.3 904.0,1173.9 908.0,1173.9 912.0,1174.3 916.0,1175.1 920.0,1176.1 924.0,1177.3 928.0,1179.1 932.0,1181.4 936.0,1184.3 940.0,1187.9 944.0,1192.2 948.0,1197.4 952.0,1203.7 956.0,1211.0 960.0,1219.7 964.0,1229.7 968.0,1241.6 972.0,1255.0 976.0,1267.0 980.0,1277.9 984.0,1290.1 988.0,1304.9 992.0,1321.7 996.0,1335.9 1000.0,1347.2 1004.0,1356.8 1008.0,1364.0 1012.0,1368.1" fill="none" stroke="#9bc8e0" stroke-width="1.20" stroke-linejoin="round"/>
<polyline points="704.0,1246.3 708.0,1246.8 712.0,1247.8 716.0,1249.0 720.0,1250.0 724.0,1251.0 728.0,1252.3 732.0,1253.5 736.0,1254.5 740.0,1254.9 744.0,1254.4 748.0,1253.2 752.0,1252.0 756.0,1250.8 760.0,1249.6 764.0,1248.3 768.0,1247.0 772.0,1245.6 776.0,1243.8 780.0,1241.8 784.0,1239.6 788.0,1237.1 792.0,1234.6 796.0,1232.0 800.0,1229.5 804.0,1226.9 808.0,1224.1 812.0,1221.3 816.0,1218.4 820.0,1215.4 824.0,1212.5 828.0,1209.7 832.0,1207.0 836.0,1204.3 840.0,1201.6 844.0,1199.0 848.0,1196.3 852.0,1193.7 856.0,1191.2 860.0,1188.8 864.0,1186.5 868.0,1184.3 872.0,1182.1 876.0,1180.1 880.0,1178.3 884.0,1176.8 888.0,1175.5 892.0,1174.3 896.0,1173.3 900.0,1172.5 904.0,1172.1 908.0,1172.1 912.0,1172.5 916.0,1173.3 920.0,1174.2 924.0,1175.4 928.0,1177.2 932.0,1179.5 936.0,1182.4 940.0,1186.0 944.0,1190.2 948.0,1195.4 952.0,1201.7 956.0,1208.9 960.0,1217.6 964.0,1227.6 968.0,1239.4 972.0,1252.7 976.0,1264.6 980.0,1275.6 984.0,1288.0 988.0,1303.0 992.0,1320.4 996.0,1334.9 1000.0,1346.5 1004.0,1356.4 1008.0,1363.9 1012.0,1368.1" fill="none" stroke="#98c7e0" stroke-width="1.20" stroke-linejoin="round"/>
<polyline points="704.0,1246.4 708.0,1246.6 712.0,1247.4 716.0,1248.6 720.0,1249.5 724.0,1250.5 728.0,1251.7 732.0,1252.9 736.0,1253.7 740.0,1254.1 744.0,1253.5 748.0,1252.2 752.0,1251.0 756.0,1249.8 760.0,1248.5 764.0,1247.1 768.0,1245.7 772.0,1244.2 776.0,1242.4 780.0,1240.4 784.0,1238.1 788.0,1235.6 792.0,1233.1 796.0,1230.5 800.0,1227.9 804.0,1225.3 808.0,1222.6 812.0,1219.7 816.0,1216.8 820.0,1213.9 824.0,1211.0 828.0,1208.1 832.0,1205.4 836.0,1202.7 840.0,1200.1 844.0,1197.4 848.0,1194.7 852.0,1192.1 856.0,1189.6 860.0,1187.2 864.0,1184.9 868.0,1182.6 872.0,1180.5 876.0,1178.5 880.0,1176.6 884.0,1175.1 888.0,1173.8 892.0,1172.6 896.0,1171.6 900.0,1170.8 904.0,1170.4 908.0,1170.3 912.0,1170.7 916.0,1171.5 920.0,1172.4 924.0,1173.5 928.0,1175.3 932.0,1177.5 936.0,1180.4 940.0,1184.0 944.0,1188.2 948.0,1193.4 952.0,1199.7 956.0,1206.8 960.0,1215.5 964.0,1225.4 968.0,1237.1 972.0,1250.3 976.0,1262.2 980.0,1273.3 984.0,1285.8 988.0,1301.2 992.0,1319.0 996.0,1333.9 1000.0,1345.9 1004.0,1356.0 1008.0,1363.7 1012.0,1368.1" fill="none" stroke="#95c5df" stroke-width="1.20" stroke-linejoin="round"/>
<polyline points="704.0,1246.4 708.0,1246.4 712.0,1247.1 716.0,1248.2 720.0,1249.1 724.0,1250.0 728.0,1251.2 732.0,1252.2 736.0,1253.0 740.0,1253.3 744.0,1252.6 748.0,1251.3 752.0,1250.0 756.0,1248.7 760.0,1247.3 764.0,1245.9 768.0,1244.4 772.0,1242.9 776.0,1241.0 780.0,1239.0 784.0,1236.7 788.0,1234.1 792.0,1231.6 796.0,1229.0 800.0,1226.4 804.0,1223.8 808.0,1221.0 812.0,1218.2 816.0,1215.2 820.0,1212.3 824.0,1209.4 828.0,1206.6 832.0,1203.9 836.0,1201.2 840.0,1198.5 844.0,1195.8 848.0,1193.2 852.0,1190.6 856.0,1188.0 860.0,1185.6 864.0,1183.3 868.0,1181.0 872.0,1178.8 876.0,1176.8 880.0,1175.0 884.0,1173.4 888.0,1172.1 892.0,1170.9 896.0,1169.8 900.0,1169.0 904.0,1168.6 908.0,1168.6 912.0,1168.9 916.0,1169.6 920.0,1170.5 924.0,1171.7 928.0,1173.4 932.0,1175.6 936.0,1178.5 940.0,1182.0 944.0,1186.2 948.0,1191.4 952.0,1197.6 956.0,1204.8 960.0,1213.4 964.0,1223.3 968.0,1234.9 972.0,1247.9 976.0,1259.8 980.0,1271.0 984.0,1283.6 988.0,1299.3 992.0,1317.6 996.0,1332.9 1000.0,1345.2 1004.0,1355.6 1008.0,1363.5 1012.0,1368.1" fill="none" stroke="#93c4df" stroke-width="1.20" stroke-linejoin="round"/>
<polyline points="704.0,1246.5 708.0,1246.2 712.0,1246.7 716.0,1247.8 720.0,1248.6 724.0,1249.5 728.0,1250.6 732.0,1251.6 736.0,1252.3 740.0,1252.5 744.0,1251.7 748.0,1250.3 752.0,1249.0 756.0,1247.6 760.0,1246.2 764.0,1244.7 768.0,1243.1 772.0,1241.5 776.0,1239.6 780.0,1237.5 784.0,1235.2 788.0,1232.7 792.0,1230.0 796.0,1227.4 800.0,1224.8 804.0,1222.2 808.0,1219.4 812.0,1216.6 816.0,1213.7 820.0,1210.8 824.0,1207.9 828.0,1205.0 832.0,1202.3 836.0,1199.6 840.0,1197.0 844.0,1194.3 848.0,1191.6 852.0,1189.0 856.0,1186.5 860.0,1184.0 864.0,1181.7 868.0,1179.4 872.0,1177.2 876.0,1175.2 880.0,1173.3 884.0,1171.7 888.0,1170.4 892.0,1169.2 896.0,1168.1 900.0,1167.3 904.0,1166.9 908.0,1166.8 912.0,1167.1 916.0,1167.8 920.0,1168.7 924.0,1169.8 928.0,1171.5 932.0,1173.7 936.0,1176.5 940.0,1180.1 944.0,1184.2 948.0,1189.4 952.0,1195.6 956.0,1202.7 960.0,1211.3 964.0,1221.1 968.0,1232.6 972.0,1245.6 976.0,1257.4 980.0,1268.7 984.0,1281.5 988.0,1297.5 992.0,1316.3 996.0,1331.9 1000.0,1344.5 1004.0,1355.2 1008.0,1363.3 1012.0,1368.1" fill="none" stroke="#90c2de" stroke-width="1.20" stroke-linejoin="round"/>
<polyline points="704.0,1246.5 708.0,1246.0 712.0,1246.4 716.0,1247.4 720.0,1248.2 724.0,1249.0 728.0,1250.0 732.0,1251.0 736.0,1251.6 740.0,1251.7 744.0,1250.8 748.0,1249.3 752.0,1247.9 756.0,1246.5 760.0,1245.0 764.0,1243.4 768.0,1241.9 772.0,1240.2 776.0,1238.3 780.0,1236.1 784.0,1233.7 788.0,1231.2 792.0,1228.5 796.0,1225.9 800.0,1223.3 804.0,1220.6 808.0,1217.9 812.0,1215.0 816.0,1212.1 820.0,1209.2 824.0,1206.3 828.0,1203.5 832.0,1200.8 836.0,1198.1 840.0,1195.4 844.0,1192.7 848.0,1190.0 852.0,1187.4 856.0,1184.9 860.0,1182.4 864.0,1180.0 868.0,1177.7 872.0,1175.6 876.0,1173.5 880.0,1171.6 884.0,1170.0 888.0,1168.7 892.0,1167.4 896.0,1166.4 900.0,1165.6 904.0,1165.1 908.0,1165.0 912.0,1165.3 916.0,1166.0 920.0,1166.8 924.0,1167.9 928.0,1169.6 932.0,1171.8 936.0,1174.6 940.0,1178.1 944.0,1182.3 948.0,1187.4 952.0,1193.6 956.0,1200.6 960.0,1209.3 964.0,1219.0 968.0,1230.4 972.0,1243.2 976.0,1255.0 980.0,1266.4 984.0,1279.3 988.0,1295.7 992.0,1314.9 996.0,1331.0 1000.0,1343.8 1004.0,1354.8 1008.0,1363.2 1012.0,1368.1" fill="none" stroke="#8dc1dd" stroke-width="1.20" stroke-linejoin="round"/>
<polyline points="704.0,1246.6 708.0,1245.8 712.0,1246.1 716.0,1247.0 720.0,1247.7 724.0,1248.5 728.0,1249.5 732.0,1250.3 736.0,1250.9 740.0,1250.9 744.0,1249.9 748.0,1248.4 752.0,1246.9 756.0,1245.4 760.0,1243.9 764.0,1242.2 768.0,1240.6 772.0,1238.8 776.0,1236.9 780.0,1234.7 784.0,1232.3 788.0,1229.7 792.0,1227.0 796.0,1224.4 800.0,1221.8 804.0,1219.1 808.0,1216.3 812.0,1213.4 816.0,1210.6 820.0,1207.6 824.0,1204.8 828.0,1201.9 832.0,1199.2 836.0,1196.5 840.0,1193.8 844.0,1191.1 848.0,1188.4 852.0,1185.8 856.0,1183.3 860.0,1180.8 864.0,1178.4 868.0,1176.1 872.0,1173.9 876.0,1171.8 880.0,1169.9 884.0,1168.3 888.0,1167.0 892.0,1165.7 896.0,1164.6 900.0,1163.8 904.0,1163.4 908.0,1163.2 912.0,1163.5 916.0,1164.2 920.0,1165.0 924.0,1166.1 928.0,1167.7 932.0,1169.9 936.0,1172.6 940.0,1176.1 944.0,1180.3 948.0,1185.4 952.0,1191.5 956.0,1198.6 960.0,1207.2 964.0,1216.9 968.0,1228.1 972.0,1240.8 976.0,1252.7 980.0,1264.0 984.0,1277.1 988.0,1293.8 992.0,1313.5 996.0,1330.0 1000.0,1343.1 1004.0,1354.4 1008.0,1363.0 1012.0,1368.1" fill="none" stroke="#8bc0dd" stroke-width="1.20" stroke-linejoin="round"/>
<polyline points="704.0,1246.6 708.0,1245.6 712.0,1245.7 716.0,1246.6 720.0,1247.3 724.0,1248.0 728.0,1248.9 732.0,1249.7 736.0,1250.1 740.0,1250.1 744.0,1249.0 748.0,1247.4 752.0,1245.9 756.0,1244.3 760.0,1242.7 764.0,1241.0 768.0,1239.3 772.0,1237.5 776.0,1235.5 780.0,1233.3 784.0,1230.8 788.0,1228.2 792.0,1225.5 796.0,1222.9 800.0,1220.2 804.0,1217.5 808.0,1214.7 812.0,1211.9 816.0,1209.0 820.0,1206.1 824.0,1203.2 828.0,1200.4 832.0,1197.7 836.0,1195.0 840.0,1192.3 844.0,1189.6 848.0,1186.9 852.0,1184.2 856.0,1181.7 860.0,1179.2 864.0,1176.8 868.0,1174.5 872.0,1172.3 876.0,1170.2 880.0,1168.3 884.0,1166.6 888.0,1165.3 892.0,1164.0 896.0,1162.9 900.0,1162.1 904.0,1161.6 908.0,1161.5 912.0,1161.7 916.0,1162.3 920.0,1163.1 924.0,1164.2 928.0,1165.8 932.0,1167.9 936.0,1170.7 940.0,1174.2 944.0,1178.3 948.0,1183.4 952.0,1189.5 956.0,1196.5 960.0,1205.1 964.0,1214.7 968.0,1225.9 972.0,1238.4 976.0,1250.3 980.0,1261.7 984.0,1275.0 988.0,1292.0 992.0,1312.2 996.0,1329.0 1000.0,1342.4 1004.0,1354.0 1008.0,1362.8 1012.0,1368.1" fill="none" stroke="#88bedc" stroke-width="1.20" stroke-linejoin="round"/>
<polyline points="704.0,1246.7 708.0,1245.4 712.0,1245.4 716.0,1246.2 720.0,1246.8 724.0,1247.5 728.0,1248.3 732.0,1249.0 736.0,1249.4 740.0,1249.4 744.0,1248.1 748.0,1246.4 752.0,1244.8 756.0,1243.2 760.0,1241.6 764.0,1239.8 768.0,1238.0 772.0,1236.1 776.0,1234.1 780.0,1231.8 784.0,1229.4 788.0,1226.7 792.0,1224.0 796.0,1221.3 800.0,1218.7 804.0,1216.0 808.0,1213.2 812.0,1210.3 816.0,1207.4 820.0,1204.5 824.0,1201.7 828.0,1198.8 832.0,1196.1 836.0,1193.4 840.0,1190.7 844.0,1188.0 848.0,1185.3 852.0,1182.6 856.0,1180.1 860.0,1177.6 864.0,1175.2 868.0,1172.8 872.0,1170.6 876.0,1168.5 880.0,1166.6 884.0,1164.9 888.0,1163.6 892.0,1162.3 896.0,1161.2 900.0,1160.3 904.0,1159.9 908.0,1159.7 912.0,1159.9 916.0,1160.5 920.0,1161.3 924.0,1162.3 928.0,1163.9 932.0,1166.0 936.0,1168.7 940.0,1172.2 944.0,1176.3 948.0,1181.3 952.0,1187.4 956.0,1194.5 960.0,1203.0 964.0,1212.6 968.0,1223.7 972.0,1236.1 976.0,1247.9 980.0,1259.4 984.0,1272.8 988.0,1290.1 992.0,1310.8 996.0,1328.0 1000.0,1341.7 1004.0,1353.6 1008.0,1362.7 1012.0,1368.1" fill="none" stroke="#86bddc" stroke-width="1.20" stroke-linejoin="round"/>
<polyline points="704.0,1246.7 708.0,1245.2 712.0,1245.0 716.0,1245.8 720.0,1246.4 724.0,1247.0 728.0,1247.8 732.0,1248.4 736.0,1248.7 740.0,1248.6 744.0,1247.2 748.0,1245.5 752.0,1243.8 756.0,1242.1 760.0,1240.4 764.0,1238.6 768.0,1236.7 772.0,1234.8 776.0,1232.7 780.0,1230.4 784.0,1227.9 788.0,1225.3 792.0,1222.5 796.0,1219.8 800.0,1217.1 804.0,1214.4 808.0,1211.6 812.0,1208.7 816.0,1205.9 820.0,1203.0 824.0,1200.1 828.0,1197.3 832.0,1194.6 836.0,1191.9 840.0,1189.2 844.0,1186.4 848.0,1183.7 852.0,1181.1 856.0,1178.5 860.0,1176.0 864.0,1173.5 868.0,1171.2 872.0,1169.0 876.0,1166.9 880.0,1164.9 884.0,1163.3 888.0,1161.9 892.0,1160.6 896.0,1159.5 900.0,1158.6 904.0,1158.1 908.0,1157.9 912.0,1158.1 916.0,1158.7 920.0,1159.4 924.0,1160.5 928.0,1162.0 932.0,1164.1 936.0,1166.8 940.0,1170.2 944.0,1174.3 948.0,1179.3 952.0,1185.4 956.0,1192.4 960.0,1200.9 964.0,1210.4 968.0,1221.4 972.0,1233.7 976.0,1245.5 980.0,1257.1 984.0,1270.6 988.0,1288.3 992.0,1309.5 996.0,1327.0 1000.0,1341.1 1004.0,1353.2 1008.0,1362.5 1012.0,1368.1" fill="none" stroke="#83bbdb" stroke-width="1.20" stroke-linejoin="round"/>
<polyline points="704.0,1246.8 708.0,1245.0 712.0,1244.7 716.0,1245.4 720.0,1245.9 724.0,1246.5 728.0,1247.2 732.0,1247.8 736.0,1248.0 740.0,1247.8 744.0,1246.3 748.0,1244.5 752.0,1242.8 756.0,1241.1 760.0,1239.2 764.0,1237.3 768.0,1235.4 772.0,1233.4 776.0,1231.3 780.0,1229.0 784.0,1226.5 788.0,1223.8 792.0,1221.0 796.0,1218.3 800.0,1215.6 804.0,1212.8 808.0,1210.0 812.0,1207.2 816.0,1204.3 820.0,1201.4 824.0,1198.6 828.0,1195.7 832.0,1193.0 836.0,1190.3 840.0,1187.6 844.0,1184.9 848.0,1182.2 852.0,1179.5 856.0,1176.9 860.0,1174.4 864.0,1171.9 868.0,1169.6 872.0,1167.3 876.0,1165.2 880.0,1163.3 884.0,1161.6 888.0,1160.2 892.0,1158.9 896.0,1157.7 900.0,1156.9 904.0,1156.3 908.0,1156.1 912.0,1156.3 916.0,1156.9 920.0,1157.6 924.0,1158.6 928.0,1160.1 932.0,1162.2 936.0,1164.8 940.0,1168.3 944.0,1172.4 948.0,1177.3 952.0,1183.4 956.0,1190.3 960.0,1198.8 964.0,1208.3 968.0,1219.2 972.0,1231.3 976.0,1243.1 980.0,1254.8 984.0,1268.5 988.0,1286.4 992.0,1308.1 996.0,1326.0 1000.0,1340.4 1004.0,1352.8 1008.0,1362.3 1012.0,1368.1" fill="none" stroke="#80badb" stroke-width="1.20" stroke-linejoin="round"/>
<polyline points="704.0,1246.8 708.0,1244.9 712.0,1244.3 716.0,1245.0 720.0,1245.5 724.0,1246.0 728.0,1246.6 732.0,1247.1 736.0,1247.2 740.0,1247.0 744.0,1245.5 748.0,1243.5 752.0,1241.8 756.0,1240.0 760.0,1238.1 764.0,1236.1 768.0,1234.1 772.0,1232.1 776.0,1229.9 780.0,1227.5 784.0,1225.0 788.0,1222.3 792.0,1219.5 796.0,1216.8 800.0,1214.0 804.0,1211.3 808.0,1208.5 812.0,1205.6 816.0,1202.7 820.0,1199.9 824.0,1197.0 828.0,1194.2 832.0,1191.5 836.0,1188.8 840.0,1186.0 844.0,1183.3 848.0,1180.6 852.0,1177.9 856.0,1175.3 860.0,1172.8 864.0,1170.3 868.0,1167.9 872.0,1165.7 876.0,1163.6 880.0,1161.6 884.0,1159.9 888.0,1158.5 892.0,1157.2 896.0,1156.0 900.0,1155.1 904.0,1154.6 908.0,1154.4 912.0,1154.6 916.0,1155.1 920.0,1155.7 924.0,1156.7 928.0,1158.3 932.0,1160.2 936.0,1162.9 940.0,1166.3 944.0,1170.4 948.0,1175.3 952.0,1181.3 956.0,1188.3 960.0,1196.7 964.0,1206.1 968.0,1216.9 972.0,1229.0 976.0,1240.7 980.0,1252.4 984.0,1266.3 988.0,1284.6 992.0,1306.7 996.0,1325.1 1000.0,1339.7 1004.0,1352.4 1008.0,1362.2 1012.0,1368.1" fill="none" stroke="#7eb8da" stroke-width="1.20" stroke-linejoin="round"/>
<polyline points="704.0,1246.9 708.0,1244.7 712.0,1244.0 716.0,1244.6 720.0,1245.0 724.0,1245.5 728.0,1246.1 732.0,1246.5 736.0,1246.5 740.0,1246.2 744.0,1244.6 748.0,1242.6 752.0,1240.7 756.0,1238.9 760.0,1236.9 764.0,1234.9 768.0,1232.8 772.0,1230.7 776.0,1228.5 780.0,1226.1 784.0,1223.6 788.0,1220.8 792.0,1218.0 796.0,1215.3 800.0,1212.5 804.0,1209.7 808.0,1206.9 812.0,1204.0 816.0,1201.2 820.0,1198.3 824.0,1195.5 828.0,1192.7 832.0,1189.9 836.0,1187.2 840.0,1184.5 844.0,1181.7 848.0,1179.0 852.0,1176.3 856.0,1173.7 860.0,1171.2 864.0,1168.7 868.0,1166.3 872.0,1164.0 876.0,1161.9 880.0,1159.9 884.0,1158.2 888.0,1156.8 892.0,1155.4 896.0,1154.3 900.0,1153.4 904.0,1152.8 908.0,1152.6 912.0,1152.8 916.0,1153.2 920.0,1153.9 924.0,1154.8 928.0,1156.4 932.0,1158.3 936.0,1160.9 940.0,1164.3 944.0,1168.4 948.0,1173.3 952.0,1179.3 956.0,1186.2 960.0,1194.6 964.0,1204.0 968.0,1214.7 972.0,1226.6 976.0,1238.3 980.0,1250.1 984.0,1264.1 988.0,1282.8 992.0,1305.4 996.0,1324.1 1000.0,1339.0 1004.0,1352.0 1008.0,1362.0 1012.0,1368.1" fill="none" stroke="#7bb7d9" stroke-width="1.20" stroke-linejoin="round"/>
<polyline points="704.0,1246.9 708.0,1244.5 712.0,1243.7 716.0,1244.2 720.0,1244.6 724.0,1245.0 728.0,1245.5 732.0,1245.8 736.0,1245.8 740.0,1245.4 744.0,1243.7 748.0,1241.6 752.0,1239.7 756.0,1237.8 760.0,1235.8 764.0,1233.7 768.0,1231.6 772.0,1229.4 776.0,1227.1 780.0,1224.7 784.0,1222.1 788.0,1219.3 792.0,1216.5 796.0,1213.7 800.0,1211.0 804.0,1208.2 808.0,1205.3 812.0,1202.5 816.0,1199.6 820.0,1196.7 824.0,1193.9 828.0,1191.1 832.0,1188.4 836.0,1185.7 840.0,1182.9 844.0,1180.2 848.0,1177.4 852.0,1174.7 856.0,1172.1 860.0,1169.5 864.0,1167.1 868.0,1164.6 872.0,1162.4 876.0,1160.3 880.0,1158.3 884.0,1156.5 888.0,1155.1 892.0,1153.7 896.0,1152.5 900.0,1151.6 904.0,1151.1 908.0,1150.8 912.0,1151.0 916.0,1151.4 920.0,1152.0 924.0,1153.0 928.0,1154.5 932.0,1156.4 936.0,1159.0 940.0,1162.4 944.0,1166.4 948.0,1171.3 952.0,1177.3 956.0,1184.2 960.0,1192.5 964.0,1201.8 968.0,1212.4 972.0,1224.2 976.0,1236.0 980.0,1247.8 984.0,1262.0 988.0,1280.9 992.0,1304.0 996.0,1323.1 1000.0,1338.3 1004.0,1351.6 1008.0,1361.8 1012.0,1368.1" fill="none" stroke="#79b5d9" stroke-width="1.20" stroke-linejoin="round"/>
<polyline points="704.0,1246.9 708.0,1244.3 712.0,1243.3 716.0,1243.8 720.0,1244.1 724.0,1244.5 728.0,1244.9 732.0,1245.2 736.0,1245.1 740.0,1244.6 744.0,1242.8 748.0,1240.7 752.0,1238.7 756.0,1236.7 760.0,1234.6 764.0,1232.5 768.0,1230.3 772.0,1228.0 776.0,1225.7 780.0,1223.3 784.0,1220.6 788.0,1217.9 792.0,1215.0 796.0,1212.2 800.0,1209.4 804.0,1206.6 808.0,1203.8 812.0,1200.9 816.0,1198.0 820.0,1195.2 824.0,1192.3 828.0,1189.6 832.0,1186.8 836.0,1184.1 840.0,1181.4 844.0,1178.6 848.0,1175.9 852.0,1173.1 856.0,1170.5 860.0,1167.9 864.0,1165.4 868.0,1163.0 872.0,1160.7 876.0,1158.6 880.0,1156.6 884.0,1154.8 888.0,1153.4 892.0,1152.0 896.0,1150.8 900.0,1149.9 904.0,1149.3 908.0,1149.0 912.0,1149.2 916.0,1149.6 920.0,1150.2 924.0,1151.1 928.0,1152.6 932.0,1154.5 936.0,1157.0 940.0,1160.4 944.0,1164.4 948.0,1169.3 952.0,1175.2 956.0,1182.1 960.0,1190.4 964.0,1199.7 968.0,1210.2 972.0,1221.8 976.0,1233.6 980.0,1245.5 984.0,1259.8 988.0,1279.1 992.0,1302.6 996.0,1322.1 1000.0,1337.6 1004.0,1351.2 1008.0,1361.7 1012.0,1368.1" fill="none" stroke="#76b4d8" stroke-width="1.20" stroke-linejoin="round"/>
<polyline points="704.0,1247.0 708.0,1244.1 712.0,1243.0 716.0,1243.4 720.0,1243.7 724.0,1244.0 728.0,1244.4 732.0,1244.5 736.0,1244.4 740.0,1243.8 744.0,1241.9 748.0,1239.7 752.0,1237.7 756.0,1235.6 760.0,1233.5 764.0,1231.3 768.0,1229.0 772.0,1226.7 776.0,1224.3 780.0,1221.8 784.0,1219.2 788.0,1216.4 792.0,1213.5 796.0,1210.7 800.0,1207.9 804.0,1205.0 808.0,1202.2 812.0,1199.3 816.0,1196.5 820.0,1193.6 824.0,1190.8 828.0,1188.0 832.0,1185.3 836.0,1182.5 840.0,1179.8 844.0,1177.1 848.0,1174.3 852.0,1171.6 856.0,1168.9 860.0,1166.3 864.0,1163.8 868.0,1161.4 872.0,1159.1 876.0,1156.9 880.0,1154.9 884.0,1153.1 888.0,1151.7 892.0,1150.3 896.0,1149.1 900.0,1148.1 904.0,1147.6 908.0,1147.3 912.0,1147.4 916.0,1147.8 920.0,1148.4 924.0,1149.2 928.0,1150.7 932.0,1152.6 936.0,1155.1 940.0,1158.4 944.0,1162.5 948.0,1167.3 952.0,1173.2 956.0,1180.0 960.0,1188.3 964.0,1197.5 968.0,1207.9 972.0,1219.5 976.0,1231.2 980.0,1243.2 984.0,1257.6 988.0,1277.2 992.0,1301.3 996.0,1321.1 1000.0,1337.0 1004.0,1350.8 1008.0,1361.5 1012.0,1368.1" fill="none" stroke="#73b3d8" stroke-width="1.20" stroke-linejoin="round"/>
<polyline points="704.0,1247.0 708.0,1243.9 712.0,1242.6 716.0,1243.0 720.0,1243.2 724.0,1243.5 728.0,1243.8 732.0,1243.9 736.0,1243.6 740.0,1243.0 744.0,1241.0 748.0,1238.7 752.0,1236.6 756.0,1234.5 760.0,1232.3 764.0,1230.0 768.0,1227.7 772.0,1225.3 776.0,1222.9 780.0,1220.4 784.0,1217.7 788.0,1214.9 792.0,1212.0 796.0,1209.2 800.0,1206.3 804.0,1203.5 808.0,1200.6 812.0,1197.8 816.0,1194.9 820.0,1192.1 824.0,1189.2 828.0,1186.5 832.0,1183.7 836.0,1181.0 840.0,1178.3 844.0,1175.5 848.0,1172.7 852.0,1170.0 856.0,1167.3 860.0,1164.7 864.0,1162.2 868.0,1159.7 872.0,1157.5 876.0,1155.3 880.0,1153.2 884.0,1151.4 888.0,1149.9 892.0,1148.6 896.0,1147.4 900.0,1146.4 904.0,1145.8 908.0,1145.5 912.0,1145.6 916.0,1145.9 920.0,1146.5 924.0,1147.4 928.0,1148.8 932.0,1150.6 936.0,1153.1 940.0,1156.5 944.0,1160.5 948.0,1165.3 952.0,1171.2 956.0,1178.0 960.0,1186.2 964.0,1195.4 968.0,1205.7 972.0,1217.1 976.0,1228.8 980.0,1240.9 984.0,1255.5 988.0,1275.4 992.0,1299.9 996.0,1320.2 1000.0,1336.3 1004.0,1350.4 1008.0,1361.3 1012.0,1368.1" fill="none" stroke="#6eafd7" stroke-width="1.20" stroke-linejoin="round"/>
<polyline points="704.0,1247.1 708.0,1243.7 712.0,1242.3 716.0,1242.6 720.0,1242.8 724.0,1243.0 728.0,1243.2 732.0,1243.3 736.0,1242.9 740.0,1242.2 744.0,1240.1 748.0,1237.8 752.0,1235.6 756.0,1233.4 760.0,1231.2 764.0,1228.8 768.0,1226.4 772.0,1224.0 776.0,1221.5 780.0,1219.0 784.0,1216.3 788.0,1213.4 792.0,1210.5 796.0,1207.6 800.0,1204.8 804.0,1201.9 808.0,1199.0 812.0,1196.2 816.0,1193.4 820.0,1190.5 824.0,1187.7 828.0,1184.9 832.0,1182.2 836.0,1179.4 840.0,1176.7 844.0,1173.9 848.0,1171.1 852.0,1168.4 856.0,1165.7 860.0,1163.1 864.0,1160.6 868.0,1158.1 872.0,1155.8 876.0,1153.6 880.0,1151.6 884.0,1149.8 888.0,1148.2 892.0,1146.9 896.0,1145.6 900.0,1144.7 904.0,1144.1 908.0,1143.7 912.0,1143.8 916.0,1144.1 920.0,1144.7 924.0,1145.5 928.0,1146.9 932.0,1148.7 936.0,1151.2 940.0,1154.5 944.0,1158.5 948.0,1163.3 952.0,1169.1 956.0,1175.9 960.0,1184.2 964.0,1193.2 968.0,1203.4 972.0,1214.7 976.0,1226.4 980.0,1238.5 984.0,1253.3 988.0,1273.5 992.0,1298.5 996.0,1319.2 1000.0,1335.6 1004.0,1350.0 1008.0,1361.2 1012.0,1368.1" fill="none" stroke="#68acd5" stroke-width="1.20" stroke-linejoin="round"/>
<polyline points="704.0,1247.1 708.0,1243.5 712.0,1241.9 716.0,1242.2 720.0,1242.3 724.0,1242.5 728.0,1242.7 732.0,1242.6 736.0,1242.2 740.0,1241.4 744.0,1239.2 748.0,1236.8 752.0,1234.6 756.0,1232.3 760.0,1230.0 764.0,1227.6 768.0,1225.1 772.0,1222.6 776.0,1220.1 780.0,1217.5 784.0,1214.8 788.0,1211.9 792.0,1209.0 796.0,1206.1 800.0,1203.2 804.0,1200.3 808.0,1197.5 812.0,1194.6 816.0,1191.8 820.0,1189.0 824.0,1186.1 828.0,1183.4 832.0,1180.6 836.0,1177.9 840.0,1175.1 844.0,1172.4 848.0,1169.6 852.0,1166.8 856.0,1164.1 860.0,1161.5 864.0,1158.9 868.0,1156.5 872.0,1154.2 876.0,1152.0 880.0,1149.9 884.0,1148.1 888.0,1146.5 892.0,1145.1 896.0,1143.9 900.0,1142.9 904.0,1142.3 908.0,1141.9 912.0,1142.0 916.0,1142.3 920.0,1142.8 924.0,1143.6 928.0,1145.0 932.0,1146.8 936.0,1149.2 940.0,1152.5 944.0,1156.5 948.0,1161.3 952.0,1167.1 956.0,1173.9 960.0,1182.1 964.0,1191.1 968.0,1201.2 972.0,1212.4 976.0,1224.0 980.0,1236.2 984.0,1251.1 988.0,1271.7 992.0,1297.2 996.0,1318.2 1000.0,1334.9 1004.0,1349.5 1008.0,1361.0 1012.0,1368.1" fill="none" stroke="#63a9d3" stroke-width="1.20" stroke-linejoin="round"/>
<polyline points="704.0,1247.2 708.0,1243.3 712.0,1241.6 716.0,1241.8 720.0,1241.9 724.0,1242.0 728.0,1242.1 732.0,1242.0 736.0,1241.5 740.0,1240.6 744.0,1238.3 748.0,1235.8 752.0,1233.5 756.0,1231.3 760.0,1228.9 764.0,1226.4 768.0,1223.8 772.0,1221.3 776.0,1218.7 780.0,1216.1 784.0,1213.4 788.0,1210.5 792.0,1207.5 796.0,1204.6 800.0,1201.7 804.0,1198.8 808.0,1195.9 812.0,1193.1 816.0,1190.2 820.0,1187.4 824.0,1184.6 828.0,1181.8 832.0,1179.1 836.0,1176.3 840.0,1173.6 844.0,1170.8 848.0,1168.0 852.0,1165.2 856.0,1162.5 860.0,1159.9 864.0,1157.3 868.0,1154.8 872.0,1152.5 876.0,1150.3 880.0,1148.2 884.0,1146.4 888.0,1144.8 892.0,1143.4 896.0,1142.2 900.0,1141.2 904.0,1140.6 908.0,1140.2 912.0,1140.2 916.0,1140.5 920.0,1141.0 924.0,1141.8 928.0,1143.1 932.0,1144.9 936.0,1147.3 940.0,1150.6 944.0,1154.5 948.0,1159.2 952.0,1165.1 956.0,1171.8 960.0,1180.0 964.0,1189.0 968.0,1198.9 972.0,1210.0 976.0,1221.6 980.0,1233.9 984.0,1249.0 988.0,1269.9 992.0,1295.8 996.0,1317.2 1000.0,1334.2 1004.0,1349.1 1008.0,1360.8 1012.0,1368.1" fill="none" stroke="#5da5d1" stroke-width="1.20" stroke-linejoin="round"/>
<polyline points="704.0,1247.2 708.0,1243.1 712.0,1241.3 716.0,1241.3 720.0,1241.4 724.0,1241.5 728.0,1241.5 732.0,1241.3 736.0,1240.8 740.0,1239.8 744.0,1237.4 748.0,1234.9 752.0,1232.5 756.0,1230.2 760.0,1227.7 764.0,1225.2 768.0,1222.5 772.0,1219.9 776.0,1217.3 780.0,1214.7 784.0,1211.9 788.0,1209.0 792.0,1206.0 796.0,1203.1 800.0,1200.1 804.0,1197.2 808.0,1194.3 812.0,1191.5 816.0,1188.7 820.0,1185.8 824.0,1183.0 828.0,1180.3 832.0,1177.5 836.0,1174.8 840.0,1172.0 844.0,1169.2 848.0,1166.4 852.0,1163.6 856.0,1160.9 860.0,1158.3 864.0,1155.7 868.0,1153.2 872.0,1150.9 876.0,1148.7 880.0,1146.6 884.0,1144.7 888.0,1143.1 892.0,1141.7 896.0,1140.4 900.0,1139.4 904.0,1138.8 908.0,1138.4 912.0,1138.4 916.0,1138.7 920.0,1139.1 924.0,1139.9 928.0,1141.2 932.0,1142.9 936.0,1145.3 940.0,1148.6 944.0,1152.6 948.0,1157.2 952.0,1163.0 956.0,1169.7 960.0,1177.9 964.0,1186.8 968.0,1196.7 972.0,1207.6 976.0,1219.2 980.0,1231.6 984.0,1246.8 988.0,1268.0 992.0,1294.4 996.0,1316.2 1000.0,1333.5 1004.0,1348.7 1008.0,1360.7 1012.0,1368.1" fill="none" stroke="#57a0ce" stroke-width="1.20" stroke-linejoin="round"/>
<polyline points="704.0,1247.3 708.0,1242.9 712.0,1240.9 716.0,1240.9 720.0,1241.0 724.0,1241.0 728.0,1241.0 732.0,1240.7 736.0,1240.0 740.0,1239.0 744.0,1236.5 748.0,1233.9 752.0,1231.5 756.0,1229.1 760.0,1226.6 764.0,1223.9 768.0,1221.2 772.0,1218.6 776.0,1215.9 780.0,1213.3 784.0,1210.4 788.0,1207.5 792.0,1204.5 796.0,1201.6 800.0,1198.6 804.0,1195.7 808.0,1192.8 812.0,1189.9 816.0,1187.1 820.0,1184.3 824.0,1181.5 828.0,1178.7 832.0,1176.0 836.0,1173.2 840.0,1170.5 844.0,1167.7 848.0,1164.8 852.0,1162.1 856.0,1159.4 860.0,1156.7 864.0,1154.1 868.0,1151.6 872.0,1149.2 876.0,1147.0 880.0,1144.9 884.0,1143.0 888.0,1141.4 892.0,1140.0 896.0,1138.7 900.0,1137.7 904.0,1137.1 908.0,1136.6 912.0,1136.6 916.0,1136.8 920.0,1137.3 924.0,1138.0 928.0,1139.3 932.0,1141.0 936.0,1143.4 940.0,1146.7 944.0,1150.6 948.0,1155.2 952.0,1161.0 956.0,1167.7 960.0,1175.8 964.0,1184.7 968.0,1194.5 972.0,1205.2 976.0,1216.9 980.0,1229.3 984.0,1244.6 988.0,1266.2 992.0,1293.1 996.0,1315.2 1000.0,1332.9 1004.0,1348.3 1008.0,1360.5 1012.0,1368.1" fill="none" stroke="#509ccc" stroke-width="1.20" stroke-linejoin="round"/>
<polyline points="704.0,1247.3 708.0,1242.7 712.0,1240.6 716.0,1240.5 720.0,1240.5 724.0,1240.5 728.0,1240.4 732.0,1240.1 736.0,1239.3 740.0,1238.2 744.0,1235.6 748.0,1232.9 752.0,1230.5 756.0,1228.0 760.0,1225.4 764.0,1222.7 768.0,1220.0 772.0,1217.2 776.0,1214.6 780.0,1211.8 784.0,1209.0 788.0,1206.0 792.0,1203.0 796.0,1200.0 800.0,1197.1 804.0,1194.1 808.0,1191.2 812.0,1188.4 816.0,1185.5 820.0,1182.7 824.0,1179.9 828.0,1177.2 832.0,1174.4 836.0,1171.7 840.0,1168.9 844.0,1166.1 848.0,1163.3 852.0,1160.5 856.0,1157.8 860.0,1155.1 864.0,1152.4 868.0,1149.9 872.0,1147.6 876.0,1145.4 880.0,1143.2 884.0,1141.3 888.0,1139.7 892.0,1138.3 896.0,1137.0 900.0,1136.0 904.0,1135.3 908.0,1134.8 912.0,1134.8 916.0,1135.0 920.0,1135.4 924.0,1136.2 928.0,1137.4 932.0,1139.1 936.0,1141.4 940.0,1144.7 944.0,1148.6 948.0,1153.2 952.0,1159.0 956.0,1165.6 960.0,1173.7 964.0,1182.5 968.0,1192.2 972.0,1202.9 976.0,1214.5 980.0,1226.9 984.0,1242.5 988.0,1264.3 992.0,1291.7 996.0,1314.3 1000.0,1332.2 1004.0,1347.9 1008.0,1360.3 1012.0,1368.1" fill="none" stroke="#4896c8" stroke-width="1.20" stroke-linejoin="round"/>
<polyline points="704.0,1247.4 708.0,1242.5 712.0,1240.2 716.0,1240.1 720.0,1240.1 724.0,1240.0 728.0,1239.8 732.0,1239.4 736.0,1238.6 740.0,1237.4 744.0,1234.7 748.0,1232.0 752.0,1229.4 756.0,1226.9 760.0,1224.3 764.0,1221.5 768.0,1218.7 772.0,1215.9 776.0,1213.2 780.0,1210.4 784.0,1207.5 788.0,1204.5 792.0,1201.5 796.0,1198.5 800.0,1195.5 804.0,1192.5 808.0,1189.6 812.0,1186.8 816.0,1184.0 820.0,1181.2 824.0,1178.4 828.0,1175.6 832.0,1172.9 836.0,1170.1 840.0,1167.3 844.0,1164.5 848.0,1161.7 852.0,1158.9 856.0,1156.2 860.0,1153.5 864.0,1150.8 868.0,1148.3 872.0,1145.9 876.0,1143.7 880.0,1141.6 884.0,1139.6 888.0,1138.0 892.0,1136.6 896.0,1135.3 900.0,1134.2 904.0,1133.5 908.0,1133.1 912.0,1133.0 916.0,1133.2 920.0,1133.6 924.0,1134.3 928.0,1135.6 932.0,1137.2 936.0,1139.5 940.0,1142.7 944.0,1146.6 948.0,1151.2 952.0,1156.9 956.0,1163.6 960.0,1171.6 964.0,1180.4 968.0,1190.0 972.0,1200.5 976.0,1212.1 980.0,1224.6 984.0,1240.3 988.0,1262.5 992.0,1290.3 996.0,1313.3 1000.0,1331.5 1004.0,1347.5 1008.0,1360.1 1012.0,1368.1" fill="none" stroke="#3f8fc4" stroke-width="1.20" stroke-linejoin="round"/>
<polyline points="72.5,2048.1 389.2,1343.1 408.6,1295.1 425.8,1253.1 441.2,1209.0 455.1,1168.6 467.8,1133.2 472.8,1119.3 477.8,1105.1 482.8,1090.5 487.8,1074.5 492.8,1060.8 497.8,1049.4 502.8,1040.7 507.8,1034.2 512.8,1028.3 517.8,1020.9 522.8,1012.8 527.8,1008.9 532.8,1007.3 537.8,1007.4 542.8,1009.1 547.8,1011.5 552.8,1015.4 557.8,1021.4 562.8,1029.5 567.8,1037.9 572.8,1046.9 577.8,1056.6 582.8,1067.2 587.8,1078.4 592.8,1089.4 597.8,1100.7 602.8,1114.8 607.8,1131.6 612.8,1147.0 617.8,1161.5 622.8,1174.4 627.8,1186.1 632.8,1197.1 637.8,1207.8 642.8,1217.7 647.8,1226.4 652.8,1234.0 657.8,1240.9 662.8,1246.9 667.8,1252.2 672.8,1257.0 677.8,1261.3 682.8,1265.5 687.8,1269.3 692.8,1272.5 697.8,1275.1 702.8,1277.4 707.8,1279.3 712.8,1281.1 717.8,1282.9 722.8,1284.7 727.8,1286.2 732.8,1287.4 737.8,1288.0 742.8,1288.0 747.8,1287.6 752.8,1286.8 757.8,1285.8 762.8,1284.7 767.8,1283.5 772.8,1282.3 777.8,1281.3 782.8,1280.3 787.8,1279.3 792.8,1278.2 797.8,1277.4 802.8,1276.8 807.8,1276.4 812.8,1276.0 817.8,1275.7 822.8,1275.3 827.8,1274.9 832.8,1274.3 837.8,1273.6 842.8,1272.8 847.8,1271.8 852.8,1270.9 857.8,1270.0 862.8,1269.1 867.8,1268.4 872.8,1267.7 877.8,1267.0 882.8,1266.5 887.8,1266.3 892.8,1266.5 897.8,1267.1 902.8,1267.8 907.8,1269.2 912.8,1271.1 917.8,1273.4 922.8,1276.3 927.8,1279.8 932.8,1284.5 937.8,1290.6 942.8,1296.2 947.8,1301.6 1012.8,1368.9" fill="none" stroke="#dfecf7" stroke-width="1.20" stroke-linejoin="round"/>
<polyline points="72.5,1808.1 307.5,1349.1 340.1,1275.1 366.7,1215.1 389.2,1160.1 408.6,1105.1 425.8,1069.1 441.2,1029.1 455.1,995.9 467.8,980.1 472.8,976.4 477.8,974.2 482.8,974.4 487.8,975.5 492.8,977.5 497.8,982.2 502.8,988.1 507.8,996.2 512.8,1005.6 517.8,1015.0 522.8,1024.0 527.8,1033.2 532.8,1042.4 537.8,1051.8 542.8,1061.2 547.8,1070.7 552.8,1080.3 557.8,1090.0 562.8,1099.7 567.8,1109.5 572.8,1119.3 577.8,1129.1 582.8,1138.9 587.8,1148.8 592.8,1158.6 597.8,1168.6 602.8,1178.6 607.8,1188.6 612.8,1198.9 617.8,1209.3 622.8,1220.0 627.8,1230.7 632.8,1241.3 637.8,1251.7 642.8,1261.7 647.8,1271.7 652.8,1281.9 657.8,1291.6 662.8,1300.0 787.8,1300.2 792.8,1295.8 797.8,1291.6 802.8,1287.7 807.8,1284.0 812.8,1280.5 817.8,1277.4 822.8,1274.5 827.8,1271.8 832.8,1269.3 837.8,1266.9 842.8,1264.8 847.8,1262.9 852.8,1261.1 857.8,1259.5 862.8,1258.1 867.8,1256.7 872.8,1255.5 877.8,1254.4 882.8,1253.4 887.8,1252.6 892.8,1252.3 897.8,1252.0 902.8,1251.9 907.8,1252.2 912.8,1254.2 917.8,1257.4 922.8,1261.8 927.8,1269.7 932.8,1279.8 937.8,1291.4 942.8,1306.8 1012.8,1368.1" fill="none" stroke="#ddeaf7" stroke-width="1.20" stroke-linejoin="round"/>
<polyline points="72.5,1548.1 206.3,1368.1 265.5,1282.1 307.5,1201.6 340.1,1116.1 366.7,1066.1 389.2,1029.6 408.6,1000.1 425.8,978.1 441.2,964.1 455.1,955.1 467.8,952.1 472.8,952.8 477.8,954.3 482.8,956.3 487.8,959.5 492.8,963.4 497.8,968.2 502.8,974.1 507.8,981.2 512.8,989.2 517.8,997.5 522.8,1005.7 527.8,1014.1 532.8,1022.7 537.8,1031.4 542.8,1040.4 547.8,1049.5 552.8,1058.7 557.8,1068.2 562.8,1077.9 567.8,1087.5 572.8,1097.0 577.8,1106.5 582.8,1116.0 587.8,1125.8 592.8,1135.7 597.8,1145.7 602.8,1155.9 607.8,1166.2 612.8,1176.5 617.8,1186.7 622.8,1196.8 627.8,1206.9 632.8,1217.0 637.8,1227.1 642.8,1237.1 647.8,1246.9 652.8,1256.5 657.8,1266.3 662.8,1275.7 667.8,1284.5 672.8,1292.7 677.8,1301.5 777.8,1300.9 782.8,1295.9 787.8,1291.6 792.8,1287.7 797.8,1283.9 802.8,1280.2 807.8,1276.6 812.8,1273.1 817.8,1269.8 822.8,1266.7 827.8,1263.8 832.8,1261.0 837.8,1258.4 842.8,1256.0 847.8,1253.8 852.8,1251.8 857.8,1249.9 862.8,1248.1 867.8,1246.5 872.8,1245.0 877.8,1243.7 882.8,1242.5 887.8,1241.5 892.8,1241.0 897.8,1240.6 902.8,1240.4 907.8,1240.7 912.8,1242.5 917.8,1245.3 922.8,1249.1 927.8,1255.7 932.8,1264.2 937.8,1273.9 942.8,1286.7 947.8,1299.7 1012.8,1368.3" fill="none" stroke="#dbe9f6" stroke-width="1.20" stroke-linejoin="round"/>
<polyline points="72.5,1428.1 105.2,1428.1 206.3,1245.7 265.5,1131.1 307.5,1066.1 340.1,1025.1 366.7,995.7 389.2,975.1 408.6,959.1 425.8,954.1 441.2,950.1 455.1,948.1 467.8,949.1 472.8,950.3 477.8,952.2 482.8,954.4 487.8,957.1 492.8,960.4 497.8,964.2 502.8,968.9 507.8,975.0 512.8,982.1 517.8,989.8 522.8,997.4 527.8,1005.7 532.8,1014.4 537.8,1023.3 542.8,1032.0 547.8,1040.7 552.8,1049.5 557.8,1058.3 562.8,1067.2 567.8,1076.2 572.8,1085.2 577.8,1094.2 582.8,1103.3 587.8,1112.4 592.8,1121.6 597.8,1131.0 602.8,1140.4 607.8,1150.0 612.8,1159.8 617.8,1169.6 622.8,1179.5 627.8,1189.4 632.8,1199.3 637.8,1209.1 642.8,1218.8 647.8,1228.5 652.8,1238.4 657.8,1248.2 662.8,1257.7 667.8,1266.5 672.8,1274.7 677.8,1283.2 682.8,1291.0 687.8,1296.6 692.8,1299.5 772.8,1297.4 777.8,1293.5 782.8,1289.2 787.8,1285.4 792.8,1281.8 797.8,1278.3 802.8,1274.7 807.8,1271.2 812.8,1267.7 817.8,1264.4 822.8,1261.1 827.8,1258.0 832.8,1255.1 837.8,1252.3 842.8,1249.7 847.8,1247.3 852.8,1245.1 857.8,1242.9 862.8,1241.0 867.8,1239.1 872.8,1237.4 877.8,1235.9 882.8,1234.6 887.8,1233.5 892.8,1232.9 897.8,1232.4 902.8,1232.2 907.8,1232.4 912.8,1234.0 917.8,1236.6 922.8,1239.9 927.8,1245.6 932.8,1252.9 937.8,1261.3 942.8,1272.2 947.8,1283.8 952.8,1294.1 957.8,1304.0 1012.8,1368.4" fill="none" stroke="#d9e8f5" stroke-width="1.20" stroke-linejoin="round"/>
<polyline points="72.5,1250.5 105.2,1250.5 206.3,1135.7 265.5,1072.1 307.5,1031.1 340.1,1004.6 366.7,984.1 389.2,966.1 408.6,954.6 425.8,950.1 441.2,946.1 455.1,945.1 467.8,946.1 472.8,947.3 477.8,949.2 482.8,951.3 487.8,953.9 492.8,956.9 497.8,960.4 502.8,964.6 507.8,970.0 512.8,976.3 517.8,983.1 522.8,990.0 527.8,997.5 532.8,1005.4 537.8,1013.6 542.8,1021.9 547.8,1030.5 552.8,1039.3 557.8,1048.3 562.8,1057.2 567.8,1066.1 572.8,1075.0 577.8,1083.9 582.8,1092.8 587.8,1101.8 592.8,1110.8 597.8,1120.0 602.8,1129.4 607.8,1139.0 612.8,1148.7 617.8,1158.6 622.8,1168.5 627.8,1178.4 632.8,1188.1 637.8,1197.6 642.8,1206.8 647.8,1215.8 652.8,1224.7 657.8,1233.4 662.8,1242.0 667.8,1250.2 672.8,1258.2 677.8,1266.0 682.8,1274.8 687.8,1283.8 692.8,1291.3 697.8,1295.6 702.8,1296.0 707.8,1295.7 712.8,1295.2 717.8,1294.7 722.8,1294.3 727.8,1294.6 732.8,1295.9 737.8,1297.2 742.8,1297.3 747.8,1296.7 752.8,1295.8 757.8,1294.8 762.8,1293.5 767.8,1291.8 772.8,1289.6 777.8,1286.5 782.8,1282.9 787.8,1279.6 792.8,1276.3 797.8,1273.0 802.8,1269.6 807.8,1266.1 812.8,1262.7 817.8,1259.3 822.8,1255.8 827.8,1252.5 832.8,1249.4 837.8,1246.5 842.8,1243.8 847.8,1241.2 852.8,1238.7 857.8,1236.4 862.8,1234.2 867.8,1232.1 872.8,1230.2 877.8,1228.6 882.8,1227.1 887.8,1226.0 892.8,1225.3 897.8,1224.7 902.8,1224.4 907.8,1224.6 912.8,1226.0 917.8,1228.3 922.8,1231.3 927.8,1236.1 932.8,1242.3 937.8,1249.4 942.8,1258.7 947.8,1268.8 952.8,1278.8 957.8,1289.0 962.8,1299.4 1012.8,1368.6" fill="none" stroke="#d7e7f5" stroke-width="1.20" stroke-linejoin="round"/>
<polyline points="72.5,1174.4 105.2,1174.4 206.3,1088.1 265.5,1026.1 307.5,996.1 340.1,978.1 366.7,964.1 389.2,954.1 408.6,948.1 425.8,945.1 441.2,944.1 455.1,944.1 467.8,946.1 472.8,947.4 477.8,949.2 482.8,951.3 487.8,953.9 492.8,957.0 497.8,960.4 502.8,964.5 507.8,969.5 512.8,975.2 517.8,981.3 522.8,987.7 527.8,994.8 532.8,1002.2 537.8,1010.0 542.8,1017.8 547.8,1025.9 552.8,1034.2 557.8,1042.7 562.8,1051.3 567.8,1059.8 572.8,1068.3 577.8,1076.9 582.8,1085.6 587.8,1094.4 592.8,1103.2 597.8,1112.1 602.8,1121.2 607.8,1130.5 612.8,1139.9 617.8,1149.5 622.8,1159.1 627.8,1168.7 632.8,1178.2 637.8,1187.6 642.8,1196.8 647.8,1206.0 652.8,1215.1 657.8,1224.2 662.8,1233.2 667.8,1241.8 672.8,1250.1 677.8,1258.0 682.8,1266.9 687.8,1275.9 692.8,1283.3 697.8,1287.6 702.8,1287.7 707.8,1285.7 712.8,1282.8 717.8,1279.9 722.8,1278.0 727.8,1278.4 732.8,1281.0 737.8,1283.5 742.8,1283.9 747.8,1283.8 752.8,1283.7 757.8,1283.4 762.8,1282.8 767.8,1281.8 772.8,1280.5 777.8,1278.2 782.8,1275.5 787.8,1272.7 792.8,1269.8 797.8,1266.7 802.8,1263.5 807.8,1260.2 812.8,1256.7 817.8,1253.2 822.8,1249.6 827.8,1246.1 832.8,1242.8 837.8,1239.7 842.8,1236.8 847.8,1234.0 852.8,1231.3 857.8,1228.7 862.8,1226.2 867.8,1223.9 872.8,1221.8 877.8,1220.0 882.8,1218.4 887.8,1217.1 892.8,1216.3 897.8,1215.6 902.8,1215.2 907.8,1215.4 912.8,1216.7 917.8,1218.7 922.8,1221.1 927.8,1224.9 932.8,1229.8 937.8,1235.5 942.8,1242.8 947.8,1251.4 952.8,1260.6 957.8,1271.3 962.8,1282.8 967.8,1295.3 972.8,1309.6 1012.8,1368.7" fill="none" stroke="#d5e5f4" stroke-width="1.20" stroke-linejoin="round"/>
<polyline points="72.5,1132.0 105.2,1132.0 206.3,1052.1 265.5,998.1 307.5,974.1 340.1,958.1 366.7,949.1 389.2,944.1 408.6,942.1 425.8,941.1 441.2,941.1 455.1,942.1 467.8,945.1 472.8,946.9 477.8,949.1 482.8,951.5 487.8,954.2 492.8,957.1 497.8,960.5 502.8,964.3 507.8,968.9 512.8,974.0 517.8,979.6 522.8,985.5 527.8,992.0 532.8,999.0 537.8,1006.4 542.8,1013.7 547.8,1021.3 552.8,1029.1 557.8,1037.2 562.8,1045.3 567.8,1053.5 572.8,1061.9 577.8,1070.4 582.8,1079.0 587.8,1087.6 592.8,1096.4 597.8,1105.2 602.8,1114.1 607.8,1123.1 612.8,1132.3 617.8,1141.5 622.8,1150.8 627.8,1160.1 632.8,1169.4 637.8,1178.6 642.8,1187.8 647.8,1197.1 652.8,1206.5 657.8,1216.0 662.8,1225.4 667.8,1234.4 672.8,1243.0 677.8,1251.0 682.8,1260.0 687.8,1268.9 692.8,1276.3 697.8,1280.6 702.8,1280.8 707.8,1278.8 712.8,1276.0 717.8,1273.2 722.8,1271.4 727.8,1271.9 732.8,1275.0 737.8,1278.0 742.8,1278.6 747.8,1278.8 752.8,1278.9 757.8,1278.8 762.8,1278.4 767.8,1277.8 772.8,1276.9 777.8,1274.9 782.8,1272.5 787.8,1270.0 792.8,1267.2 797.8,1264.2 802.8,1261.1 807.8,1257.8 812.8,1254.3 817.8,1250.8 822.8,1247.1 827.8,1243.5 832.8,1240.2 837.8,1237.0 842.8,1234.0 847.8,1231.1 852.8,1228.3 857.8,1225.6 862.8,1223.1 867.8,1220.6 872.8,1218.4 877.8,1216.5 882.8,1214.9 887.8,1213.6 892.8,1212.7 897.8,1212.0 902.8,1211.5 907.8,1211.7 912.8,1212.9 917.8,1214.8 922.8,1217.1 927.8,1220.4 932.8,1224.8 937.8,1229.9 942.8,1236.5 947.8,1244.4 952.8,1253.4 957.8,1264.1 962.8,1276.2 967.8,1289.4 972.8,1304.8 1012.8,1368.8" fill="none" stroke="#d3e4f3" stroke-width="1.20" stroke-linejoin="round"/>
<polyline points="72.5,1113.1 105.2,1113.1 206.3,1039.6 265.5,985.5 307.5,964.1 340.1,946.1 366.7,937.1 389.2,933.4 408.6,933.6 425.8,935.1 441.2,938.1 455.1,942.9 467.8,948.7 472.8,951.4 477.8,954.1 482.8,956.9 487.8,959.8 492.8,962.9 497.8,966.0 502.8,969.3 507.8,972.7 512.8,976.3 517.8,980.1 522.8,984.3 527.8,988.9 532.8,993.6 537.8,998.4 542.8,1003.2 547.8,1008.1 552.8,1013.4 557.8,1019.3 562.8,1026.0 567.8,1033.3 572.8,1040.7 577.8,1047.8 582.8,1054.6 587.8,1061.2 592.8,1067.9 597.8,1074.9 602.8,1082.3 607.8,1090.3 612.8,1098.4 617.8,1106.6 622.8,1114.5 627.8,1122.4 632.8,1130.2 637.8,1138.0 642.8,1145.8 647.8,1153.7 652.8,1161.6 657.8,1169.6 662.8,1177.6 667.8,1185.5 672.8,1193.7 677.8,1202.4 682.8,1212.1 687.8,1222.1 692.8,1231.5 697.8,1239.6 702.8,1247.0 707.8,1252.3 712.8,1255.3 717.8,1257.6 722.8,1260.1 727.8,1263.1 732.8,1266.4 737.8,1269.3 742.8,1271.3 747.8,1271.8 752.8,1271.8 757.8,1271.8 762.8,1271.8 767.8,1271.8 772.8,1271.4 777.8,1270.1 782.8,1268.1 787.8,1265.7 792.8,1263.0 797.8,1260.3 802.8,1257.7 807.8,1254.5 812.8,1250.9 817.8,1247.1 822.8,1243.3 827.8,1239.6 832.8,1236.3 837.8,1233.0 842.8,1229.8 847.8,1226.7 852.8,1223.7 857.8,1220.9 862.8,1218.3 867.8,1215.8 872.8,1213.4 877.8,1211.3 882.8,1209.5 887.8,1208.3 892.8,1207.2 897.8,1206.3 902.8,1205.9 907.8,1206.3 912.8,1207.4 917.8,1209.0 922.8,1210.8 927.8,1213.5 932.8,1217.1 937.8,1221.6 942.8,1226.8 947.8,1233.8 952.8,1242.3 957.8,1252.6 962.8,1265.3 967.8,1281.9 972.8,1301.4 1012.8,1464.3" fill="none" stroke="#d2e3f3" stroke-width="1.20" stroke-linejoin="round"/>
<polyline points="72.5,1094.9 105.2,1094.9 206.3,1021.6 265.5,977.1 307.5,952.1 340.1,945.1 366.7,942.1 389.2,941.1 408.6,941.1 425.8,942.1 441.2,944.1 455.1,945.1 467.8,949.1 472.8,951.3 477.8,953.9 482.8,956.7 487.8,959.6 492.8,962.8 497.8,966.4 502.8,970.6 507.8,975.6 512.8,981.4 517.8,987.4 522.8,993.6 527.8,1000.3 532.8,1007.2 537.8,1014.4 542.8,1021.7 547.8,1029.1 552.8,1036.7 557.8,1044.4 562.8,1052.3 567.8,1060.3 572.8,1068.4 577.8,1076.6 582.8,1084.8 587.8,1093.2 592.8,1101.7 597.8,1110.3 602.8,1119.0 607.8,1127.9 612.8,1137.0 617.8,1146.2 622.8,1155.5 627.8,1164.7 632.8,1173.9 637.8,1183.0 642.8,1191.9 647.8,1200.7 652.8,1209.6 657.8,1218.5 662.8,1227.2 667.8,1235.5 672.8,1243.4 677.8,1250.8 682.8,1259.0 687.8,1267.1 692.8,1273.8 697.8,1277.7 702.8,1277.5 707.8,1274.0 712.8,1268.8 717.8,1263.8 722.8,1260.6 727.8,1261.0 732.8,1264.5 737.8,1268.0 742.8,1269.0 747.8,1269.3 752.8,1269.5 757.8,1269.5 762.8,1269.4 767.8,1269.1 772.8,1268.6 777.8,1267.1 782.8,1265.0 787.8,1262.8 792.8,1260.2 797.8,1257.3 802.8,1254.3 807.8,1251.0 812.8,1247.5 817.8,1243.9 822.8,1240.2 827.8,1236.4 832.8,1233.0 837.8,1229.7 842.8,1226.5 847.8,1223.5 852.8,1220.5 857.8,1217.6 862.8,1214.9 867.8,1212.3 872.8,1209.9 877.8,1207.9 882.8,1206.1 887.8,1204.7 892.8,1203.7 897.8,1202.9 902.8,1202.4 907.8,1202.5 912.8,1203.5 917.8,1205.2 922.8,1207.1 927.8,1209.8 932.8,1213.2 937.8,1217.4 942.8,1223.0 947.8,1229.8 952.8,1238.1 957.8,1249.1 962.8,1261.8 967.8,1275.8 972.8,1292.6 977.8,1309.1 1012.8,1369.1" fill="none" stroke="#d0e1f2" stroke-width="1.20" stroke-linejoin="round"/>
<polyline points="72.5,1079.1 105.2,1079.1 206.3,1005.6 265.5,966.1 307.5,942.1 340.1,938.1 366.7,937.1 389.2,936.1 408.6,936.1 425.8,937.1 441.2,939.1 455.1,942.1 467.8,946.1 472.8,948.3 477.8,950.9 482.8,953.7 487.8,956.6 492.8,959.8 497.8,963.4 502.8,967.5 507.8,972.4 512.8,977.8 517.8,983.6 522.8,989.4 527.8,995.5 532.8,1002.0 537.8,1008.7 542.8,1015.7 547.8,1023.0 552.8,1030.6 557.8,1038.4 562.8,1046.3 567.8,1054.3 572.8,1062.4 577.8,1070.6 582.8,1078.9 587.8,1087.3 592.8,1095.8 597.8,1104.3 602.8,1113.0 607.8,1121.8 612.8,1130.7 617.8,1139.7 622.8,1148.7 627.8,1157.8 632.8,1166.9 637.8,1175.9 642.8,1184.9 647.8,1193.9 652.8,1203.1 657.8,1212.4 662.8,1221.4 667.8,1230.2 672.8,1238.3 677.8,1245.8 682.8,1254.0 687.8,1262.1 692.8,1268.8 697.8,1272.7 702.8,1272.6 707.8,1269.9 712.8,1265.9 717.8,1262.0 722.8,1259.5 727.8,1259.9 732.8,1263.2 737.8,1266.5 742.8,1267.1 747.8,1267.3 752.8,1267.3 757.8,1267.3 762.8,1267.0 767.8,1266.5 772.8,1265.7 777.8,1264.1 782.8,1262.0 787.8,1259.7 792.8,1257.1 797.8,1254.1 802.8,1251.0 807.8,1247.7 812.8,1244.2 817.8,1240.7 822.8,1236.9 827.8,1233.2 832.8,1229.7 837.8,1226.5 842.8,1223.3 847.8,1220.2 852.8,1217.2 857.8,1214.3 862.8,1211.5 867.8,1208.9 872.8,1206.5 877.8,1204.4 882.8,1202.6 887.8,1201.1 892.8,1200.1 897.8,1199.2 902.8,1198.7 907.8,1198.8 912.8,1199.8 917.8,1201.4 922.8,1203.2 927.8,1205.8 932.8,1209.2 937.8,1213.4 942.8,1218.8 947.8,1225.6 952.8,1233.9 957.8,1244.7 962.8,1257.3 967.8,1271.2 972.8,1287.7 977.8,1304.1 1012.8,1369.2" fill="none" stroke="#cee0f2" stroke-width="1.20" stroke-linejoin="round"/>
<polyline points="72.5,1068.4 105.2,1068.4 206.3,994.6 265.5,955.1 307.5,936.1 340.1,933.1 366.7,932.1 389.2,932.1 408.6,932.1 425.8,933.1 441.2,935.1 455.1,939.1 467.8,944.1 472.8,946.4 477.8,948.9 482.8,951.7 487.8,954.6 492.8,957.9 497.8,961.4 502.8,965.4 507.8,970.1 512.8,975.2 517.8,980.7 522.8,986.3 527.8,992.1 532.8,998.3 537.8,1004.8 542.8,1011.6 547.8,1018.9 552.8,1026.5 557.8,1034.4 562.8,1042.3 567.8,1050.2 572.8,1058.2 577.8,1066.3 582.8,1074.4 587.8,1082.7 592.8,1091.0 597.8,1099.4 602.8,1107.9 607.8,1116.5 612.8,1125.3 617.8,1134.1 622.8,1143.1 627.8,1152.0 632.8,1161.0 637.8,1169.9 642.8,1178.9 647.8,1187.9 652.8,1197.3 657.8,1206.8 662.8,1216.1 667.8,1225.0 672.8,1233.2 677.8,1240.8 682.8,1249.1 687.8,1257.2 692.8,1263.8 697.8,1267.7 702.8,1267.7 707.8,1265.8 712.8,1262.9 717.8,1260.1 722.8,1258.3 727.8,1258.7 732.8,1261.9 737.8,1264.9 742.8,1265.3 747.8,1265.3 752.8,1265.2 757.8,1265.0 762.8,1264.5 767.8,1263.8 772.8,1262.9 777.8,1261.1 782.8,1259.0 787.8,1256.6 792.8,1253.9 797.8,1250.9 802.8,1247.8 807.8,1244.5 812.8,1241.0 817.8,1237.4 822.8,1233.7 827.8,1230.0 832.8,1226.5 837.8,1223.2 842.8,1220.0 847.8,1216.9 852.8,1213.9 857.8,1210.9 862.8,1208.2 867.8,1205.5 872.8,1203.0 877.8,1201.0 882.8,1199.1 887.8,1197.6 892.8,1196.5 897.8,1195.6 902.8,1195.0 907.8,1195.1 912.8,1196.1 917.8,1197.5 922.8,1199.3 927.8,1201.9 932.8,1205.2 937.8,1209.3 942.8,1214.7 947.8,1221.4 952.8,1229.6 957.8,1240.4 962.8,1252.9 967.8,1266.6 972.8,1282.7 977.8,1299.2 1012.8,1369.4" fill="none" stroke="#ccdff1" stroke-width="1.20" stroke-linejoin="round"/>
<polyline points="72.5,1034.1 105.2,1034.1 206.3,983.1 265.5,960.1 307.5,952.1 340.1,946.1 366.7,942.1 389.2,940.1 408.6,940.1 425.8,942.1 441.2,944.1 455.1,939.1 467.8,941.6 472.8,942.7 477.8,943.6 482.8,944.6 487.8,945.9 492.8,947.6 497.8,949.8 502.8,952.4 507.8,955.4 512.8,958.9 517.8,962.3 522.8,965.7 527.8,969.4 532.8,974.0 537.8,979.6 542.8,985.3 547.8,991.0 552.8,996.7 557.8,1002.5 562.8,1008.5 567.8,1014.6 572.8,1020.7 577.8,1027.2 582.8,1034.1 587.8,1041.5 592.8,1049.0 597.8,1056.7 602.8,1064.4 607.8,1072.3 612.8,1080.3 617.8,1088.1 622.8,1095.8 627.8,1103.2 632.8,1110.7 637.8,1118.2 642.8,1125.7 647.8,1133.4 652.8,1141.3 657.8,1149.4 662.8,1157.9 667.8,1166.8 672.8,1175.8 677.8,1184.7 682.8,1193.5 687.8,1202.5 692.8,1212.1 697.8,1223.7 702.8,1232.5 707.8,1239.7 712.8,1246.0 717.8,1251.3 722.8,1255.5 727.8,1258.8 732.8,1261.7 737.8,1263.5 742.8,1263.6 747.8,1263.4 752.8,1263.0 757.8,1262.6 762.8,1262.0 767.8,1261.2 772.8,1260.0 777.8,1258.2 782.8,1255.9 787.8,1253.5 792.8,1250.7 797.8,1247.7 802.8,1244.5 807.8,1241.2 812.8,1237.7 817.8,1234.2 822.8,1230.4 827.8,1226.7 832.8,1223.3 837.8,1220.0 842.8,1216.8 847.8,1213.6 852.8,1210.6 857.8,1207.6 862.8,1204.8 867.8,1202.1 872.8,1199.6 877.8,1197.5 882.8,1195.6 887.8,1194.1 892.8,1192.9 897.8,1192.0 902.8,1191.4 907.8,1191.5 912.8,1192.3 917.8,1193.7 922.8,1195.4 927.8,1197.9 932.8,1201.2 937.8,1205.2 942.8,1210.6 947.8,1217.2 952.8,1225.4 957.8,1236.0 962.8,1248.4 967.8,1262.0 972.8,1277.8 977.8,1294.2 982.8,1309.5 1012.8,1369.6" fill="none" stroke="#b6d4e9" stroke-width="1.20" stroke-linejoin="round"/>
<polyline points="72.5,1014.6 105.2,1014.6 206.3,971.6 265.5,950.1 307.5,942.6 340.1,937.1 366.7,933.6 389.2,932.1 408.6,932.6 425.8,935.1 441.2,938.1 455.1,937.1 467.8,940.5 472.8,941.8 477.8,943.0 482.8,944.3 487.8,945.8 492.8,947.8 497.8,950.2 502.8,952.9 507.8,956.1 512.8,959.7 517.8,963.4 522.8,967.0 527.8,970.9 532.8,975.5 537.8,981.1 542.8,986.8 547.8,992.5 552.8,998.2 557.8,1004.0 562.8,1010.0 567.8,1016.1 572.8,1022.2 577.8,1028.7 582.8,1035.6 587.8,1042.9 592.8,1050.5 597.8,1058.2 602.8,1066.0 607.8,1073.9 612.8,1082.0 617.8,1089.9 622.8,1097.5 627.8,1105.0 632.8,1112.5 637.8,1119.9 642.8,1127.4 647.8,1135.2 652.8,1143.2 657.8,1151.4 662.8,1160.0 667.8,1168.9 672.8,1178.0 677.8,1187.0 682.8,1196.2 687.8,1205.4 692.8,1214.7 697.8,1224.7 702.8,1232.9 707.8,1239.5 712.8,1245.3 717.8,1250.2 722.8,1254.1 727.8,1256.9 732.8,1259.4 737.8,1261.0 742.8,1261.1 747.8,1260.6 752.8,1259.8 757.8,1259.1 762.8,1258.2 767.8,1257.2 772.8,1255.8 777.8,1253.8 782.8,1251.4 787.8,1248.9 792.8,1246.0 797.8,1242.9 802.8,1239.7 807.8,1236.3 812.8,1232.8 817.8,1229.3 822.8,1225.6 827.8,1221.9 832.8,1218.4 837.8,1215.1 842.8,1211.9 847.8,1208.7 852.8,1205.6 857.8,1202.6 862.8,1199.8 867.8,1197.0 872.8,1194.5 877.8,1192.3 882.8,1190.4 887.8,1188.7 892.8,1187.6 897.8,1186.5 902.8,1185.9 907.8,1185.9 912.8,1186.8 917.8,1188.0 922.8,1189.6 927.8,1192.0 932.8,1195.1 937.8,1199.0 942.8,1204.3 947.8,1210.9 952.8,1219.0 957.8,1229.5 962.8,1241.7 967.8,1255.0 972.8,1270.5 977.8,1286.8 982.8,1302.7 1012.8,1369.8" fill="none" stroke="#acd0e6" stroke-width="1.20" stroke-linejoin="round"/>
<polyline points="72.5,995.1 105.2,995.1 206.3,960.1 265.5,940.1 307.5,933.1 340.1,928.1 366.7,925.1 389.2,924.1 408.6,925.1 425.8,928.1 441.2,932.1 455.1,935.1 467.8,939.4 472.8,941.0 477.8,942.5 482.8,944.0 487.8,945.8 492.8,947.9 497.8,950.5 502.8,953.4 507.8,956.8 512.8,960.6 517.8,964.5 522.8,968.2 527.8,972.3 532.8,977.1 537.8,982.7 542.8,988.3 547.8,994.0 552.8,999.7 557.8,1005.5 562.8,1011.5 567.8,1017.6 572.8,1023.7 577.8,1030.2 582.8,1037.1 587.8,1044.4 592.8,1052.0 597.8,1059.7 602.8,1067.5 607.8,1075.5 612.8,1083.6 617.8,1091.6 622.8,1099.3 627.8,1106.7 632.8,1114.2 637.8,1121.7 642.8,1129.2 647.8,1137.0 652.8,1145.0 657.8,1153.4 662.8,1162.1 667.8,1171.1 672.8,1180.2 677.8,1189.4 682.8,1198.9 687.8,1208.4 692.8,1217.3 697.8,1225.7 702.8,1233.3 707.8,1239.3 712.8,1244.5 717.8,1249.1 722.8,1252.6 727.8,1255.1 732.8,1257.2 737.8,1258.5 742.8,1258.5 747.8,1257.7 752.8,1256.6 757.8,1255.6 762.8,1254.5 767.8,1253.1 772.8,1251.5 777.8,1249.4 782.8,1246.9 787.8,1244.3 792.8,1241.3 797.8,1238.1 802.8,1234.8 807.8,1231.4 812.8,1228.0 817.8,1224.4 822.8,1220.7 827.8,1217.1 832.8,1213.6 837.8,1210.3 842.8,1207.0 847.8,1203.8 852.8,1200.7 857.8,1197.6 862.8,1194.7 867.8,1191.9 872.8,1189.3 877.8,1187.1 882.8,1185.1 887.8,1183.4 892.8,1182.2 897.8,1181.1 902.8,1180.4 907.8,1180.4 912.8,1181.2 917.8,1182.3 922.8,1183.7 927.8,1186.0 932.8,1189.1 937.8,1192.9 942.8,1198.1 947.8,1204.7 952.8,1212.6 957.8,1222.9 962.8,1235.0 967.8,1248.1 972.8,1263.2 977.8,1279.4 982.8,1295.9 987.8,1314.0 1012.8,1370.0" fill="none" stroke="#a3cce3" stroke-width="1.20" stroke-linejoin="round"/>
<polyline points="72.5,989.6 105.2,989.6 206.3,950.1 265.5,930.1 307.5,923.6 340.1,919.1 366.7,916.6 389.2,915.6 408.6,916.6 425.8,919.6 441.2,923.6 455.1,933.2 467.8,938.3 472.8,940.2 477.8,941.9 482.8,943.7 487.8,945.7 492.8,948.1 497.8,950.9 502.8,953.9 507.8,957.5 512.8,961.6 517.8,965.5 522.8,969.3 527.8,973.3 532.8,978.1 537.8,983.7 542.8,989.3 547.8,995.0 552.8,1000.7 557.8,1006.5 562.8,1012.5 567.8,1018.6 572.8,1024.7 577.8,1031.2 582.8,1038.1 587.8,1045.4 592.8,1053.0 597.8,1060.7 602.8,1068.5 607.8,1076.5 612.8,1084.6 617.8,1092.6 622.8,1100.3 627.8,1107.9 632.8,1115.5 637.8,1123.0 642.8,1130.6 647.8,1138.5 652.8,1146.6 657.8,1154.9 662.8,1163.6 667.8,1172.6 672.8,1181.7 677.8,1190.9 682.8,1200.4 687.8,1209.9 692.8,1218.8 697.8,1227.1 702.8,1234.5 707.8,1239.9 712.8,1244.4 717.8,1248.3 722.8,1251.2 727.8,1253.2 732.8,1255.0 737.8,1256.1 742.8,1256.0 747.8,1254.9 752.8,1253.4 757.8,1252.1 762.8,1250.7 767.8,1249.1 772.8,1247.3 777.8,1245.0 782.8,1242.4 787.8,1239.6 792.8,1236.6 797.8,1233.3 802.8,1230.0 807.8,1226.6 812.8,1223.1 817.8,1219.5 822.8,1215.9 827.8,1212.2 832.8,1208.8 837.8,1205.4 842.8,1202.1 847.8,1198.9 852.8,1195.7 857.8,1192.6 862.8,1189.7 867.8,1186.8 872.8,1184.2 877.8,1181.9 882.8,1179.8 887.8,1178.1 892.8,1176.8 897.8,1175.6 902.8,1174.9 907.8,1174.9 912.8,1175.6 917.8,1176.6 922.8,1177.9 927.8,1180.1 932.8,1183.1 937.8,1186.8 942.8,1191.9 947.8,1198.4 952.8,1206.2 957.8,1216.4 962.8,1228.3 967.8,1241.2 972.8,1256.0 977.8,1272.0 982.8,1289.1 987.8,1308.5 1012.8,1370.3" fill="none" stroke="#9cc9e1" stroke-width="1.20" stroke-linejoin="round"/>
<polyline points="72.5,984.1 105.2,984.1 206.3,940.1 265.5,920.1 307.5,914.1 340.1,910.1 366.7,908.1 389.2,907.1 408.6,908.1 425.8,911.1 441.2,915.1 455.1,931.2 467.8,937.2 472.8,939.3 477.8,941.4 482.8,943.4 487.8,945.7 492.8,948.3 497.8,951.2 502.8,954.4 507.8,958.3 512.8,962.5 517.8,966.5 522.8,970.3 527.8,974.3 532.8,979.1 537.8,984.7 542.8,990.3 547.8,996.0 552.8,1001.7 557.8,1007.5 562.8,1013.5 567.8,1019.6 572.8,1025.7 577.8,1032.2 582.8,1039.1 587.8,1046.4 592.8,1054.0 597.8,1061.7 602.8,1069.5 607.8,1077.5 612.8,1085.6 617.8,1093.6 622.8,1101.4 627.8,1109.1 632.8,1116.7 637.8,1124.4 642.8,1132.1 647.8,1140.0 652.8,1148.1 657.8,1156.4 662.8,1165.1 667.8,1174.1 672.8,1183.2 677.8,1192.4 682.8,1202.0 687.8,1211.5 692.8,1220.3 697.8,1228.5 702.8,1235.8 707.8,1240.5 712.8,1244.3 717.8,1247.4 722.8,1249.8 727.8,1251.4 732.8,1252.8 737.8,1253.6 742.8,1253.4 747.8,1252.0 752.8,1250.2 757.8,1248.6 762.8,1246.9 767.8,1245.1 772.8,1243.0 777.8,1240.6 782.8,1237.9 787.8,1235.0 792.8,1231.8 797.8,1228.5 802.8,1225.1 807.8,1221.7 812.8,1218.2 817.8,1214.6 822.8,1211.0 827.8,1207.4 832.8,1203.9 837.8,1200.6 842.8,1197.2 847.8,1194.0 852.8,1190.7 857.8,1187.6 862.8,1184.6 867.8,1181.7 872.8,1179.0 877.8,1176.7 882.8,1174.6 887.8,1172.8 892.8,1171.4 897.8,1170.2 902.8,1169.4 907.8,1169.4 912.8,1170.0 917.8,1170.8 922.8,1172.0 927.8,1174.2 932.8,1177.1 937.8,1180.6 942.8,1185.7 947.8,1192.1 952.8,1199.8 957.8,1209.9 962.8,1221.6 967.8,1234.3 972.8,1248.7 977.8,1264.6 982.8,1282.3 987.8,1303.1 1012.8,1370.5" fill="none" stroke="#94c4df" stroke-width="1.20" stroke-linejoin="round"/>
<polyline points="72.5,976.6 105.2,976.6 206.3,935.9 265.5,917.6 307.5,911.9 340.1,907.9 366.7,905.9 389.2,905.1 408.6,906.1 425.8,908.9 441.2,912.6 455.1,927.0 467.8,933.7 472.8,936.3 477.8,938.9 482.8,941.4 487.8,944.1 492.8,947.1 497.8,950.4 502.8,954.0 507.8,958.0 512.8,962.3 517.8,966.6 522.8,970.8 527.8,975.2 532.8,980.3 537.8,986.4 542.8,992.4 547.8,998.2 552.8,1003.9 557.8,1009.7 562.8,1015.7 567.8,1021.9 572.8,1028.3 577.8,1034.9 582.8,1041.8 587.8,1049.1 592.8,1056.6 597.8,1064.2 602.8,1072.0 607.8,1080.0 612.8,1088.1 617.8,1096.1 622.8,1103.9 627.8,1111.6 632.8,1119.3 637.8,1127.0 642.8,1134.8 647.8,1142.7 652.8,1150.7 657.8,1158.9 662.8,1167.5 667.8,1176.2 672.8,1185.0 677.8,1194.2 682.8,1204.1 687.8,1214.0 692.8,1222.7 697.8,1229.9 702.8,1236.1 707.8,1240.3 712.8,1243.7 717.8,1246.4 722.8,1248.3 727.8,1249.5 732.8,1250.5 737.8,1251.1 742.8,1250.9 747.8,1249.2 752.8,1247.0 757.8,1245.1 762.8,1243.1 767.8,1241.1 772.8,1238.8 777.8,1236.2 782.8,1233.4 787.8,1230.4 792.8,1227.1 797.8,1223.7 802.8,1220.3 807.8,1216.8 812.8,1213.3 817.8,1209.7 822.8,1206.1 827.8,1202.6 832.8,1199.1 837.8,1195.7 842.8,1192.4 847.8,1189.1 852.8,1185.8 857.8,1182.6 862.8,1179.6 867.8,1176.6 872.8,1173.9 877.8,1171.5 882.8,1169.3 887.8,1167.5 892.8,1166.1 897.8,1164.8 902.8,1163.9 907.8,1163.9 912.8,1164.4 917.8,1165.1 922.8,1166.2 927.8,1168.2 932.8,1171.0 937.8,1174.5 942.8,1179.5 947.8,1185.8 952.8,1193.4 957.8,1203.3 962.8,1214.9 967.8,1227.4 972.8,1241.5 977.8,1257.3 982.8,1275.4 987.8,1297.6 1012.8,1370.8" fill="none" stroke="#8cc0dd" stroke-width="1.20" stroke-linejoin="round"/>
<polyline points="72.5,969.1 105.2,969.1 206.3,931.6 265.5,915.1 307.5,909.6 340.1,905.6 366.7,903.6 389.2,903.1 408.6,904.1 425.8,906.6 441.2,910.1 455.1,922.9 467.8,930.2 472.8,933.4 477.8,936.4 482.8,939.4 487.8,942.6 492.8,946.0 497.8,949.6 502.8,953.5 507.8,957.7 512.8,962.2 517.8,966.7 522.8,971.2 527.8,976.0 532.8,981.6 537.8,988.1 542.8,994.4 547.8,1000.3 552.8,1006.1 557.8,1011.9 562.8,1018.0 567.8,1024.3 572.8,1030.8 577.8,1037.5 582.8,1044.5 587.8,1051.8 592.8,1059.2 597.8,1066.7 602.8,1074.5 607.8,1082.4 612.8,1090.5 617.8,1098.6 622.8,1106.5 627.8,1114.2 632.8,1122.0 637.8,1129.7 642.8,1137.5 647.8,1145.4 652.8,1153.4 657.8,1161.5 662.8,1169.8 667.8,1178.3 672.8,1186.9 677.8,1195.9 682.8,1206.2 687.8,1216.5 692.8,1225.1 697.8,1231.2 702.8,1236.4 707.8,1240.1 712.8,1243.1 717.8,1245.3 722.8,1246.9 727.8,1247.7 732.8,1248.3 737.8,1248.7 742.8,1248.3 747.8,1246.3 752.8,1243.8 757.8,1241.6 762.8,1239.4 767.8,1237.1 772.8,1234.5 777.8,1231.8 782.8,1228.8 787.8,1225.7 792.8,1222.4 797.8,1218.9 802.8,1215.4 807.8,1211.9 812.8,1208.4 817.8,1204.9 822.8,1201.3 827.8,1197.7 832.8,1194.2 837.8,1190.8 842.8,1187.5 847.8,1184.2 852.8,1180.8 857.8,1177.6 862.8,1174.5 867.8,1171.5 872.8,1168.8 877.8,1166.3 882.8,1164.1 887.8,1162.2 892.8,1160.7 897.8,1159.3 902.8,1158.4 907.8,1158.4 912.8,1158.8 917.8,1159.4 922.8,1160.4 927.8,1162.3 932.8,1165.0 937.8,1168.4 942.8,1173.3 947.8,1179.6 952.8,1187.0 957.8,1196.8 962.8,1208.2 967.8,1220.4 972.8,1234.3 977.8,1250.0 982.8,1268.6 987.8,1292.1 992.8,1315.1 1012.8,1371.0" fill="none" stroke="#83bbdb" stroke-width="1.20" stroke-linejoin="round"/>
<polyline points="72.5,961.6 105.2,961.6 206.3,927.4 265.5,912.6 307.5,907.4 340.1,903.4 366.7,901.4 389.2,901.1 408.6,902.1 425.8,904.4 441.2,907.6 455.1,918.7 467.8,926.7 472.8,930.4 477.8,933.9 482.8,937.4 487.8,941.0 492.8,944.8 497.8,948.8 502.8,953.0 507.8,957.4 512.8,962.1 517.8,966.8 522.8,971.7 527.8,976.8 532.8,982.9 537.8,989.8 542.8,996.5 547.8,1002.5 552.8,1008.3 557.8,1014.1 562.8,1020.2 567.8,1026.7 572.8,1033.3 577.8,1040.2 582.8,1047.3 587.8,1054.4 592.8,1061.8 597.8,1069.3 602.8,1077.0 607.8,1084.9 612.8,1093.0 617.8,1101.1 622.8,1109.0 627.8,1116.8 632.8,1124.6 637.8,1132.3 642.8,1140.2 647.8,1148.0 652.8,1156.0 657.8,1164.0 662.8,1172.2 667.8,1180.4 672.8,1188.8 677.8,1197.7 682.8,1208.3 687.8,1219.0 692.8,1227.6 697.8,1232.6 702.8,1236.7 707.8,1239.9 712.8,1242.4 717.8,1244.3 722.8,1245.4 727.8,1245.9 732.8,1246.1 737.8,1246.2 742.8,1245.7 747.8,1243.4 752.8,1240.5 757.8,1238.0 762.8,1235.6 767.8,1233.0 772.8,1230.3 777.8,1227.4 782.8,1224.3 787.8,1221.1 792.8,1217.6 797.8,1214.1 802.8,1210.6 807.8,1207.1 812.8,1203.5 817.8,1200.0 822.8,1196.4 827.8,1192.9 832.8,1189.4 837.8,1186.0 842.8,1182.6 847.8,1179.2 852.8,1175.9 857.8,1172.6 862.8,1169.5 867.8,1166.4 872.8,1163.6 877.8,1161.1 882.8,1158.8 887.8,1156.9 892.8,1155.3 897.8,1153.9 902.8,1152.9 907.8,1152.9 912.8,1153.2 917.8,1153.7 922.8,1154.5 927.8,1156.4 932.8,1159.0 937.8,1162.2 942.8,1167.1 947.8,1173.3 952.8,1180.6 957.8,1190.2 962.8,1201.4 967.8,1213.5 972.8,1227.1 977.8,1242.6 982.8,1261.7 987.8,1286.6 992.8,1311.2 1012.8,1371.3" fill="none" stroke="#7bb7da" stroke-width="1.20" stroke-linejoin="round"/>
<polyline points="72.5,954.1 105.2,954.1 206.3,923.1 265.5,910.1 307.5,905.1 340.1,901.1 366.7,899.1 389.2,899.1 408.6,900.1 425.8,902.1 441.2,905.1 455.1,914.6 467.8,923.2 472.8,927.4 477.8,931.4 482.8,935.4 487.8,939.4 492.8,943.7 497.8,948.1 502.8,952.6 507.8,957.2 512.8,961.9 517.8,966.9 522.8,972.1 527.8,977.7 532.8,984.1 537.8,991.6 542.8,998.5 547.8,1004.7 552.8,1010.5 557.8,1016.4 562.8,1022.5 567.8,1029.0 572.8,1035.9 577.8,1042.9 582.8,1050.0 587.8,1057.1 592.8,1064.4 597.8,1071.8 602.8,1079.4 607.8,1087.4 612.8,1095.5 617.8,1103.6 622.8,1111.5 627.8,1119.4 632.8,1127.2 637.8,1135.0 642.8,1142.8 647.8,1150.7 652.8,1158.6 657.8,1166.6 662.8,1174.6 667.8,1182.5 672.8,1190.7 677.8,1199.5 682.8,1210.5 687.8,1221.6 692.8,1230.0 697.8,1234.0 702.8,1237.1 707.8,1239.7 712.8,1241.8 717.8,1243.2 722.8,1244.0 727.8,1244.0 732.8,1243.9 737.8,1243.8 742.8,1243.1 747.8,1240.6 752.8,1237.3 757.8,1234.5 762.8,1231.8 767.8,1229.0 772.8,1226.1 777.8,1223.0 782.8,1219.8 787.8,1216.5 792.8,1212.9 797.8,1209.3 802.8,1205.7 807.8,1202.2 812.8,1198.6 817.8,1195.1 822.8,1191.5 827.8,1188.0 832.8,1184.6 837.8,1181.1 842.8,1177.7 847.8,1174.3 852.8,1170.9 857.8,1167.6 862.8,1164.4 867.8,1161.3 872.8,1158.5 877.8,1155.9 882.8,1153.6 887.8,1151.5 892.8,1149.9 897.8,1148.4 902.8,1147.4 907.8,1147.4 912.8,1147.6 917.8,1148.0 922.8,1148.7 927.8,1150.4 932.8,1152.9 937.8,1156.1 942.8,1160.9 947.8,1167.0 952.8,1174.3 957.8,1183.7 962.8,1194.7 967.8,1206.6 972.8,1219.9 977.8,1235.3 982.8,1254.8 987.8,1281.1 992.8,1307.4 1012.8,1371.5" fill="none" stroke="#73b2d8" stroke-width="1.20" stroke-linejoin="round"/>
<polyline points="72.5,949.1 105.2,949.1 206.3,918.8 265.5,906.1 307.5,901.4 340.1,897.4 366.7,895.8 389.2,896.1 408.6,897.4 425.8,899.8 441.2,903.1 455.1,913.3 467.8,922.4 472.8,926.7 477.8,930.8 482.8,934.9 487.8,939.1 492.8,943.5 497.8,948.2 502.8,952.9 507.8,957.8 512.8,962.8 517.8,968.0 522.8,973.5 527.8,979.3 532.8,985.9 537.8,993.5 542.8,1000.6 547.8,1006.7 552.8,1012.6 557.8,1018.4 562.8,1024.5 567.8,1031.0 572.8,1037.9 577.8,1044.9 582.8,1052.0 587.8,1059.1 592.8,1066.4 597.8,1073.8 602.8,1081.4 607.8,1089.4 612.8,1097.5 617.8,1105.6 622.8,1113.5 627.8,1121.4 632.8,1129.2 637.8,1137.0 642.8,1144.8 647.8,1152.7 652.8,1160.6 657.8,1168.6 662.8,1176.6 667.8,1184.5 672.8,1192.7 677.8,1201.5 682.8,1212.7 687.8,1223.9 692.8,1232.2 697.8,1235.6 702.8,1238.0 707.8,1240.1 712.8,1241.7 717.8,1242.8 722.8,1243.4 727.8,1243.4 732.8,1243.3 737.8,1243.0 742.8,1242.2 747.8,1239.5 752.8,1236.2 757.8,1233.3 762.8,1230.5 767.8,1227.6 772.8,1224.6 777.8,1221.4 782.8,1218.2 787.8,1214.8 792.8,1211.2 797.8,1207.6 802.8,1204.0 807.8,1200.4 812.8,1196.9 817.8,1193.3 822.8,1189.8 827.8,1186.3 832.8,1182.8 837.8,1179.4 842.8,1176.0 847.8,1172.6 852.8,1169.2 857.8,1165.8 862.8,1162.6 867.8,1159.5 872.8,1156.7 877.8,1154.1 882.8,1151.7 887.8,1149.7 892.8,1148.0 897.8,1146.5 902.8,1145.5 907.8,1145.4 912.8,1145.6 917.8,1146.0 922.8,1146.6 927.8,1148.3 932.8,1150.8 937.8,1153.9 942.8,1158.7 947.8,1164.8 952.8,1172.0 957.8,1181.4 962.8,1192.4 967.8,1204.2 972.8,1217.3 977.8,1232.7 982.8,1252.4 987.8,1279.1 992.8,1306.0 1012.8,1371.6" fill="none" stroke="#6cafd6" stroke-width="1.20" stroke-linejoin="round"/>
<polyline points="72.5,944.1 105.2,944.1 206.3,914.4 265.5,902.1 307.5,897.8 340.1,893.8 366.7,892.4 389.2,893.1 408.6,894.8 425.8,897.4 441.2,901.1 455.1,912.0 467.8,921.6 472.8,926.0 477.8,930.2 482.8,934.4 487.8,938.7 492.8,943.4 497.8,948.3 502.8,953.3 507.8,958.4 512.8,963.6 517.8,969.1 522.8,974.8 527.8,980.9 532.8,987.7 537.8,995.4 542.8,1002.6 547.8,1008.8 552.8,1014.6 557.8,1020.4 562.8,1026.5 567.8,1033.0 572.8,1039.9 577.8,1046.9 582.8,1054.0 587.8,1061.1 592.8,1068.4 597.8,1075.8 602.8,1083.4 607.8,1091.4 612.8,1099.5 617.8,1107.6 622.8,1115.5 627.8,1123.4 632.8,1131.2 637.8,1139.0 642.8,1146.8 647.8,1154.7 652.8,1162.6 657.8,1170.6 662.8,1178.6 667.8,1186.5 672.8,1194.7 677.8,1203.5 682.8,1214.9 687.8,1226.3 692.8,1234.4 697.8,1237.2 702.8,1239.0 707.8,1240.5 712.8,1241.7 717.8,1242.5 722.8,1242.9 727.8,1242.9 732.8,1242.6 737.8,1242.2 742.8,1241.2 747.8,1238.4 752.8,1235.0 757.8,1232.0 762.8,1229.1 767.8,1226.1 772.8,1223.1 777.8,1219.9 782.8,1216.6 787.8,1213.2 792.8,1209.6 797.8,1205.9 802.8,1202.3 807.8,1198.7 812.8,1195.1 817.8,1191.6 822.8,1188.1 827.8,1184.6 832.8,1181.1 837.8,1177.7 842.8,1174.2 847.8,1170.8 852.8,1167.4 857.8,1164.0 862.8,1160.8 867.8,1157.7 872.8,1154.8 877.8,1152.2 882.8,1149.8 887.8,1147.8 892.8,1146.1 897.8,1144.6 902.8,1143.5 907.8,1143.4 912.8,1143.6 917.8,1143.9 922.8,1144.5 927.8,1146.2 932.8,1148.6 937.8,1151.7 942.8,1156.5 947.8,1162.5 952.8,1169.7 957.8,1179.1 962.8,1190.0 967.8,1201.7 972.8,1214.8 977.8,1230.1 982.8,1249.9 987.8,1277.2 992.8,1304.6 1012.8,1371.7" fill="none" stroke="#67abd4" stroke-width="1.20" stroke-linejoin="round"/>
<polyline points="72.5,939.1 105.2,939.1 206.3,910.1 265.5,898.1 307.5,894.1 340.1,890.1 366.7,889.1 389.2,890.1 408.6,892.1 425.8,895.1 441.2,899.1 455.1,910.7 467.8,920.7 472.8,925.2 477.8,929.6 482.8,933.9 487.8,938.4 492.8,943.2 497.8,948.4 502.8,953.6 507.8,959.0 512.8,964.5 517.8,970.2 522.8,976.1 527.8,982.4 532.8,989.5 537.8,997.4 542.8,1004.6 547.8,1010.8 552.8,1016.6 557.8,1022.4 562.8,1028.5 567.8,1035.0 572.8,1041.9 577.8,1048.9 582.8,1056.0 587.8,1063.1 592.8,1070.4 597.8,1077.8 602.8,1085.4 607.8,1093.4 612.8,1101.5 617.8,1109.6 622.8,1117.5 627.8,1125.4 632.8,1133.2 637.8,1141.0 642.8,1148.8 647.8,1156.7 652.8,1164.6 657.8,1172.6 662.8,1180.6 667.8,1188.5 672.8,1196.7 677.8,1205.6 682.8,1217.1 687.8,1228.7 692.8,1236.7 697.8,1238.8 702.8,1240.0 707.8,1240.9 712.8,1241.6 717.8,1242.1 722.8,1242.3 727.8,1242.3 732.8,1241.9 737.8,1241.3 742.8,1240.2 747.8,1237.4 752.8,1233.9 757.8,1230.8 762.8,1227.8 767.8,1224.7 772.8,1221.5 777.8,1218.3 782.8,1215.0 787.8,1211.5 792.8,1207.9 797.8,1204.2 802.8,1200.6 807.8,1197.0 812.8,1193.4 817.8,1189.9 822.8,1186.4 827.8,1182.9 832.8,1179.4 837.8,1175.9 842.8,1172.5 847.8,1169.1 852.8,1165.6 857.8,1162.3 862.8,1159.1 867.8,1155.9 872.8,1153.0 877.8,1150.4 882.8,1148.0 887.8,1145.9 892.8,1144.2 897.8,1142.6 902.8,1141.6 907.8,1141.5 912.8,1141.6 917.8,1141.9 922.8,1142.4 927.8,1144.1 932.8,1146.5 937.8,1149.6 942.8,1154.3 947.8,1160.3 952.8,1167.4 957.8,1176.7 962.8,1187.6 967.8,1199.3 972.8,1212.2 977.8,1227.5 982.8,1247.5 987.8,1275.2 992.8,1303.2 1012.8,1371.8" fill="none" stroke="#61a7d2" stroke-width="1.20" stroke-linejoin="round"/>
<polyline points="72.5,933.8 105.2,933.8 206.3,905.3 265.5,894.4 307.5,890.6 340.1,886.0 366.7,885.4 389.2,886.9 408.6,889.5 425.8,893.3 441.2,898.3 455.1,910.6 467.8,921.4 472.8,926.3 477.8,931.0 482.8,935.7 487.8,940.5 492.8,945.6 497.8,950.9 502.8,956.2 507.8,961.7 512.8,967.2 517.8,973.0 522.8,978.9 527.8,985.1 532.8,991.9 537.8,999.4 542.8,1006.4 547.8,1012.6 552.8,1018.5 557.8,1024.4 562.8,1030.7 567.8,1037.3 572.8,1044.3 577.8,1051.4 582.8,1058.6 587.8,1065.7 592.8,1072.9 597.8,1080.2 602.8,1087.7 607.8,1095.5 612.8,1103.7 617.8,1111.9 622.8,1120.1 627.8,1128.1 632.8,1136.1 637.8,1144.0 642.8,1151.9 647.8,1159.8 652.8,1167.6 657.8,1175.6 662.8,1183.6 667.8,1191.5 672.8,1199.6 677.8,1208.2 682.8,1218.9 687.8,1229.7 692.8,1237.3 697.8,1240.1 702.8,1241.9 707.8,1242.7 712.8,1242.8 717.8,1242.5 722.8,1242.2 727.8,1242.0 732.8,1241.6 737.8,1241.0 742.8,1239.8 747.8,1237.0 752.8,1233.4 757.8,1230.3 762.8,1227.3 767.8,1224.2 772.8,1221.0 777.8,1217.7 782.8,1214.4 787.8,1210.9 792.8,1207.2 797.8,1203.5 802.8,1199.9 807.8,1196.3 812.8,1192.8 817.8,1189.2 822.8,1185.7 827.8,1182.2 832.8,1178.8 837.8,1175.3 842.8,1171.9 847.8,1168.4 852.8,1165.0 857.8,1161.6 862.8,1158.4 867.8,1155.2 872.8,1152.3 877.8,1149.7 882.8,1147.3 887.8,1145.2 892.8,1143.5 897.8,1141.9 902.8,1140.9 907.8,1140.8 912.8,1140.9 917.8,1141.1 922.8,1141.7 927.8,1143.3 932.8,1145.7 937.8,1148.7 942.8,1153.5 947.8,1159.5 952.8,1166.6 957.8,1175.9 962.8,1186.7 967.8,1198.4 972.8,1211.3 977.8,1226.6 982.8,1246.5 987.8,1274.5 992.8,1302.7 1012.8,1371.8" fill="none" stroke="#5fa5d1" stroke-width="1.20" stroke-linejoin="round"/>
<polyline points="72.5,928.6 105.2,928.6 206.3,900.5 265.5,890.7 307.5,887.1 340.1,881.9 366.7,881.7 389.2,883.7 408.6,886.9 425.8,891.5 441.2,897.5 455.1,910.4 467.8,922.1 472.8,927.3 477.8,932.5 482.8,937.5 487.8,942.7 492.8,948.0 497.8,953.4 502.8,958.9 507.8,964.4 512.8,970.0 517.8,975.8 522.8,981.7 527.8,987.8 532.8,994.3 537.8,1001.4 542.8,1008.1 547.8,1014.4 552.8,1020.4 557.8,1026.5 562.8,1032.8 567.8,1039.6 572.8,1046.7 577.8,1053.9 582.8,1061.1 587.8,1068.3 592.8,1075.4 597.8,1082.5 602.8,1089.9 607.8,1097.7 612.8,1105.8 617.8,1114.2 622.8,1122.6 627.8,1130.9 632.8,1139.0 637.8,1147.0 642.8,1154.9 647.8,1162.8 652.8,1170.7 657.8,1178.6 662.8,1186.5 667.8,1194.5 672.8,1202.5 677.8,1210.8 682.8,1220.8 687.8,1230.6 692.8,1237.8 697.8,1241.4 702.8,1243.8 707.8,1244.4 712.8,1244.0 717.8,1243.0 722.8,1242.1 727.8,1241.7 732.8,1241.3 737.8,1240.7 742.8,1239.5 747.8,1236.6 752.8,1233.0 757.8,1229.9 762.8,1226.8 767.8,1223.6 772.8,1220.4 777.8,1217.2 782.8,1213.8 787.8,1210.3 792.8,1206.6 797.8,1202.9 802.8,1199.3 807.8,1195.7 812.8,1192.1 817.8,1188.6 822.8,1185.1 827.8,1181.6 832.8,1178.1 837.8,1174.7 842.8,1171.2 847.8,1167.8 852.8,1164.3 857.8,1160.9 862.8,1157.7 867.8,1154.6 872.8,1151.6 877.8,1149.0 882.8,1146.6 887.8,1144.5 892.8,1142.8 897.8,1141.2 902.8,1140.1 907.8,1140.0 912.8,1140.1 917.8,1140.4 922.8,1140.9 927.8,1142.5 932.8,1144.9 937.8,1147.9 942.8,1152.6 947.8,1158.6 952.8,1165.7 957.8,1175.0 962.8,1185.8 967.8,1197.4 972.8,1210.3 977.8,1225.6 982.8,1245.6 987.8,1273.7 992.8,1302.2 1012.8,1371.8" fill="none" stroke="#5ca4d0" stroke-width="1.20" stroke-linejoin="round"/>
<polyline points="72.5,923.3 105.2,923.3 206.3,895.7 265.5,886.9 307.5,883.7 340.1,877.9 366.7,878.0 389.2,880.5 408.6,884.3 425.8,889.7 441.2,896.7 455.1,910.2 467.8,922.7 472.8,928.4 477.8,933.9 482.8,939.3 487.8,944.8 492.8,950.3 497.8,955.9 502.8,961.5 507.8,967.1 512.8,972.8 517.8,978.6 522.8,984.4 527.8,990.4 532.8,996.7 537.8,1003.4 542.8,1009.9 547.8,1016.1 552.8,1022.3 557.8,1028.5 562.8,1035.0 567.8,1041.9 572.8,1049.1 577.8,1056.4 582.8,1063.7 587.8,1070.9 592.8,1077.9 597.8,1084.9 602.8,1092.2 607.8,1099.8 612.8,1108.0 617.8,1116.5 622.8,1125.1 627.8,1133.7 632.8,1141.9 637.8,1150.0 642.8,1157.9 647.8,1165.8 652.8,1173.7 657.8,1181.6 662.8,1189.5 667.8,1197.5 672.8,1205.4 677.8,1213.5 682.8,1222.6 687.8,1231.6 692.8,1238.4 697.8,1242.6 702.8,1245.7 707.8,1246.2 712.8,1245.1 717.8,1243.5 722.8,1242.0 727.8,1241.4 732.8,1241.0 737.8,1240.4 742.8,1239.1 747.8,1236.2 752.8,1232.6 757.8,1229.4 762.8,1226.3 767.8,1223.1 772.8,1219.9 777.8,1216.6 782.8,1213.2 787.8,1209.7 792.8,1206.0 797.8,1202.3 802.8,1198.6 807.8,1195.0 812.8,1191.4 817.8,1187.9 822.8,1184.4 827.8,1180.9 832.8,1177.5 837.8,1174.0 842.8,1170.6 847.8,1167.1 852.8,1163.6 857.8,1160.3 862.8,1157.0 867.8,1153.9 872.8,1150.9 877.8,1148.3 882.8,1145.9 887.8,1143.7 892.8,1142.1 897.8,1140.4 902.8,1139.4 907.8,1139.3 912.8,1139.4 917.8,1139.6 922.8,1140.1 927.8,1141.7 932.8,1144.1 937.8,1147.1 942.8,1151.8 947.8,1157.8 952.8,1164.9 957.8,1174.1 962.8,1184.9 967.8,1196.5 972.8,1209.4 977.8,1224.6 982.8,1244.7 987.8,1273.0 992.8,1301.7 1012.8,1371.9" fill="none" stroke="#59a2cf" stroke-width="1.20" stroke-linejoin="round"/>
<polyline points="72.5,918.1 105.2,918.1 206.3,890.9 265.5,883.2 307.5,880.2 340.1,873.8 366.7,874.3 389.2,877.3 408.6,881.7 425.8,887.9 441.2,895.9 455.1,910.0 467.8,923.4 472.8,929.4 477.8,935.3 482.8,941.2 487.8,947.0 492.8,952.7 497.8,958.4 502.8,964.1 507.8,969.8 512.8,975.6 517.8,981.4 522.8,987.2 527.8,993.1 532.8,999.2 537.8,1005.4 542.8,1011.7 547.8,1017.9 552.8,1024.2 557.8,1030.6 562.8,1037.2 567.8,1044.2 572.8,1051.5 577.8,1058.9 582.8,1066.3 587.8,1073.5 592.8,1080.4 597.8,1087.3 602.8,1094.4 607.8,1102.0 612.8,1110.1 617.8,1118.8 622.8,1127.6 627.8,1136.4 632.8,1144.9 637.8,1153.0 642.8,1160.9 647.8,1168.8 652.8,1176.7 657.8,1184.5 662.8,1192.5 667.8,1200.5 672.8,1208.4 677.8,1216.1 682.8,1224.5 687.8,1232.5 692.8,1239.0 697.8,1243.9 702.8,1247.6 707.8,1247.9 712.8,1246.3 717.8,1243.9 722.8,1242.0 727.8,1241.1 732.8,1240.6 737.8,1240.1 742.8,1238.8 747.8,1235.8 752.8,1232.1 757.8,1228.9 762.8,1225.8 767.8,1222.6 772.8,1219.3 777.8,1216.0 782.8,1212.6 787.8,1209.1 792.8,1205.4 797.8,1201.6 802.8,1198.0 807.8,1194.4 812.8,1190.8 817.8,1187.3 822.8,1183.8 827.8,1180.3 832.8,1176.8 837.8,1173.4 842.8,1169.9 847.8,1166.5 852.8,1163.0 857.8,1159.6 862.8,1156.4 867.8,1153.2 872.8,1150.3 877.8,1147.6 882.8,1145.2 887.8,1143.0 892.8,1141.3 897.8,1139.7 902.8,1138.7 907.8,1138.5 912.8,1138.7 917.8,1138.8 922.8,1139.3 927.8,1140.9 932.8,1143.3 937.8,1146.3 942.8,1151.0 947.8,1157.0 952.8,1164.0 957.8,1173.2 962.8,1184.0 967.8,1195.6 972.8,1208.4 977.8,1223.6 982.8,1243.8 987.8,1272.3 992.8,1301.1 1012.8,1371.9" fill="none" stroke="#57a0ce" stroke-width="1.20" stroke-linejoin="round"/>
<polyline points="72.5,912.8 105.2,912.8 206.3,886.1 265.5,879.5 307.5,876.7 340.1,869.7 366.7,870.6 389.2,874.1 408.6,879.1 425.8,886.1 441.2,895.1 455.1,909.8 467.8,924.1 472.8,930.5 477.8,936.7 482.8,943.0 487.8,949.1 492.8,955.1 497.8,960.9 502.8,966.7 507.8,972.5 512.8,978.4 517.8,984.2 522.8,990.0 527.8,995.8 532.8,1001.6 537.8,1007.4 542.8,1013.5 547.8,1019.7 552.8,1026.1 557.8,1032.7 562.8,1039.4 567.8,1046.5 572.8,1053.9 577.8,1061.5 582.8,1068.9 587.8,1076.1 592.8,1082.9 597.8,1089.7 602.8,1096.7 607.8,1104.1 612.8,1112.3 617.8,1121.1 622.8,1130.2 627.8,1139.2 632.8,1147.8 637.8,1156.0 642.8,1164.0 647.8,1171.9 652.8,1179.7 657.8,1187.5 662.8,1195.5 667.8,1203.5 672.8,1211.3 677.8,1218.8 682.8,1226.3 687.8,1233.5 692.8,1239.6 697.8,1245.2 702.8,1249.5 707.8,1249.7 712.8,1247.5 717.8,1244.4 722.8,1241.9 727.8,1240.8 732.8,1240.3 737.8,1239.7 742.8,1238.4 747.8,1235.4 752.8,1231.7 757.8,1228.5 762.8,1225.3 767.8,1222.0 772.8,1218.7 777.8,1215.4 782.8,1212.0 787.8,1208.4 792.8,1204.7 797.8,1201.0 802.8,1197.3 807.8,1193.7 812.8,1190.1 817.8,1186.6 822.8,1183.1 827.8,1179.6 832.8,1176.2 837.8,1172.7 842.8,1169.3 847.8,1165.8 852.8,1162.3 857.8,1158.9 862.8,1155.7 867.8,1152.5 872.8,1149.6 877.8,1146.9 882.8,1144.5 887.8,1142.3 892.8,1140.6 897.8,1139.0 902.8,1137.9 907.8,1137.8 912.8,1137.9 917.8,1138.1 922.8,1138.6 927.8,1140.1 932.8,1142.5 937.8,1145.5 942.8,1150.1 947.8,1156.1 952.8,1163.2 957.8,1172.4 962.8,1183.1 967.8,1194.7 972.8,1207.5 977.8,1222.7 982.8,1242.9 987.8,1271.5 992.8,1300.6 1012.8,1371.9" fill="none" stroke="#549ecd" stroke-width="1.20" stroke-linejoin="round"/>
<polyline points="72.5,915.9 105.2,915.9 206.3,888.6 265.5,881.7 307.5,878.5 340.1,872.0 366.7,873.0 389.2,876.4 408.6,881.1 425.8,887.9 441.2,896.4 455.1,910.4 467.8,924.5 472.8,930.6 477.8,936.6 482.8,942.6 487.8,948.6 492.8,954.7 497.8,960.7 502.8,966.7 507.8,972.7 512.8,978.7 517.8,984.8 522.8,990.9 527.8,997.1 532.8,1003.5 537.8,1010.0 542.8,1016.5 547.8,1023.0 552.8,1029.4 557.8,1035.9 562.8,1042.7 567.8,1049.8 572.8,1057.2 577.8,1064.7 582.8,1072.2 587.8,1079.3 592.8,1086.1 597.8,1092.9 602.8,1099.9 607.8,1107.4 612.8,1115.6 617.8,1124.5 622.8,1133.7 627.8,1142.8 632.8,1151.5 637.8,1159.9 642.8,1168.2 647.8,1176.3 652.8,1184.3 657.8,1192.3 662.8,1200.2 667.8,1208.2 672.8,1215.8 677.8,1222.8 682.8,1229.7 687.8,1236.2 692.8,1241.6 697.8,1246.6 702.8,1250.3 707.8,1250.4 712.8,1247.9 717.8,1244.5 722.8,1241.7 727.8,1240.6 732.8,1240.0 737.8,1239.4 742.8,1238.0 747.8,1235.0 752.8,1231.3 757.8,1228.0 762.8,1224.8 767.8,1221.5 772.8,1218.2 777.8,1214.8 782.8,1211.4 787.8,1207.8 792.8,1204.1 797.8,1200.3 802.8,1196.7 807.8,1193.1 812.8,1189.5 817.8,1186.0 822.8,1182.5 827.8,1179.0 832.8,1175.5 837.8,1172.1 842.8,1168.6 847.8,1165.1 852.8,1161.7 857.8,1158.3 862.8,1155.0 867.8,1151.8 872.8,1148.9 877.8,1146.2 882.8,1143.8 887.8,1141.6 892.8,1139.9 897.8,1138.3 902.8,1137.2 907.8,1137.1 912.8,1137.2 917.8,1137.3 922.8,1137.8 927.8,1139.3 932.8,1141.7 937.8,1144.7 942.8,1149.3 947.8,1155.3 952.8,1162.3 957.8,1171.5 962.8,1182.2 967.8,1193.8 972.8,1206.5 977.8,1221.7 982.8,1241.9 987.8,1270.8 992.8,1300.1 1012.8,1372.0" fill="none" stroke="#519ccc" stroke-width="1.20" stroke-linejoin="round"/>
<polyline points="72.5,919.0 105.2,919.0 206.3,891.1 265.5,883.8 307.5,880.4 340.1,874.4 366.7,875.4 389.2,878.6 408.6,883.1 425.8,889.6 441.2,897.6 455.1,911.0 467.8,924.9 472.8,930.8 477.8,936.5 482.8,942.3 487.8,948.2 492.8,954.2 497.8,960.5 502.8,966.7 507.8,972.9 512.8,979.1 517.8,985.4 522.8,991.8 527.8,998.4 532.8,1005.3 537.8,1012.6 542.8,1019.6 547.8,1026.2 552.8,1032.7 557.8,1039.2 562.8,1045.9 567.8,1053.0 572.8,1060.5 577.8,1068.0 582.8,1075.4 587.8,1082.6 592.8,1089.4 597.8,1096.1 602.8,1103.1 607.8,1110.6 612.8,1118.9 617.8,1127.9 622.8,1137.2 627.8,1146.4 632.8,1155.3 637.8,1163.9 642.8,1172.4 647.8,1180.8 652.8,1189.0 657.8,1197.0 662.8,1205.0 667.8,1212.9 672.8,1220.3 677.8,1226.9 682.8,1233.2 687.8,1238.9 692.8,1243.7 697.8,1247.9 702.8,1251.2 707.8,1251.1 712.8,1248.4 717.8,1244.6 722.8,1241.5 727.8,1240.3 732.8,1239.7 737.8,1239.1 742.8,1237.7 747.8,1234.6 752.8,1230.8 757.8,1227.5 762.8,1224.3 767.8,1220.9 772.8,1217.6 777.8,1214.2 782.8,1210.8 787.8,1207.2 792.8,1203.5 797.8,1199.7 802.8,1196.0 807.8,1192.4 812.8,1188.8 817.8,1185.3 822.8,1181.8 827.8,1178.4 832.8,1174.9 837.8,1171.4 842.8,1168.0 847.8,1164.5 852.8,1161.0 857.8,1157.6 862.8,1154.3 867.8,1151.2 872.8,1148.2 877.8,1145.5 882.8,1143.1 887.8,1140.9 892.8,1139.2 897.8,1137.5 902.8,1136.5 907.8,1136.3 912.8,1136.4 917.8,1136.6 922.8,1137.0 927.8,1138.5 932.8,1140.9 937.8,1143.8 942.8,1148.5 947.8,1154.4 952.8,1161.5 957.8,1170.6 962.8,1181.3 967.8,1192.8 972.8,1205.6 977.8,1220.7 982.8,1241.0 987.8,1270.0 992.8,1299.6 1012.8,1372.0" fill="none" stroke="#4d9aca" stroke-width="1.20" stroke-linejoin="round"/>
<polyline points="72.5,922.0 105.2,922.0 206.3,893.6 265.5,886.0 307.5,882.2 340.1,876.8 366.7,877.7 389.2,880.9 408.6,885.1 425.8,891.4 441.2,898.9 455.1,911.6 467.8,925.3 472.8,930.9 477.8,936.4 482.8,941.9 487.8,947.7 492.8,953.8 497.8,960.3 502.8,966.7 507.8,973.1 512.8,979.4 517.8,986.0 522.8,992.7 527.8,999.7 532.8,1007.2 537.8,1015.2 542.8,1022.7 547.8,1029.5 552.8,1036.0 557.8,1042.4 562.8,1049.2 567.8,1056.3 572.8,1063.7 577.8,1071.2 582.8,1078.7 587.8,1085.8 592.8,1092.6 597.8,1099.4 602.8,1106.3 607.8,1113.9 612.8,1122.2 617.8,1131.3 622.8,1140.7 627.8,1150.0 632.8,1159.1 637.8,1167.9 642.8,1176.6 647.8,1185.2 652.8,1193.6 657.8,1201.8 662.8,1209.7 667.8,1217.6 672.8,1224.8 677.8,1231.0 682.8,1236.6 687.8,1241.7 692.8,1245.8 697.8,1249.3 702.8,1252.0 707.8,1251.8 712.8,1248.8 717.8,1244.7 722.8,1241.4 727.8,1240.1 732.8,1239.5 737.8,1238.8 742.8,1237.3 747.8,1234.2 752.8,1230.4 757.8,1227.1 762.8,1223.8 767.8,1220.4 772.8,1217.0 777.8,1213.6 782.8,1210.2 787.8,1206.6 792.8,1202.8 797.8,1199.1 802.8,1195.4 807.8,1191.8 812.8,1188.2 817.8,1184.7 822.8,1181.2 827.8,1177.7 832.8,1174.2 837.8,1170.8 842.8,1167.3 847.8,1163.8 852.8,1160.3 857.8,1156.9 862.8,1153.7 867.8,1150.5 872.8,1147.5 877.8,1144.9 882.8,1142.4 887.8,1140.2 892.8,1138.5 897.8,1136.8 902.8,1135.7 907.8,1135.6 912.8,1135.7 917.8,1135.8 922.8,1136.2 927.8,1137.7 932.8,1140.1 937.8,1143.0 942.8,1147.7 947.8,1153.6 952.8,1160.6 957.8,1169.8 962.8,1180.4 967.8,1191.9 972.8,1204.6 977.8,1219.8 982.8,1240.1 987.8,1269.3 992.8,1299.1 1012.8,1372.0" fill="none" stroke="#4a98c9" stroke-width="1.20" stroke-linejoin="round"/>
<polyline points="72.5,925.1 105.2,925.1 206.3,896.1 265.5,888.1 307.5,884.1 340.1,879.1 366.7,880.1 389.2,883.1 408.6,887.1 425.8,893.1 441.2,900.1 455.1,912.2 467.8,925.7 472.8,931.1 477.8,936.3 482.8,941.6 487.8,947.2 492.8,953.4 497.8,960.1 502.8,966.8 507.8,973.2 512.8,979.8 517.8,986.6 522.8,993.7 527.8,1001.0 532.8,1009.0 537.8,1017.8 542.8,1025.7 547.8,1032.7 552.8,1039.3 557.8,1045.7 562.8,1052.4 567.8,1059.6 572.8,1067.0 577.8,1074.5 582.8,1081.9 587.8,1089.1 592.8,1095.9 597.8,1102.6 602.8,1109.6 607.8,1117.1 612.8,1125.5 617.8,1134.7 622.8,1144.1 627.8,1153.7 632.8,1162.8 637.8,1171.8 642.8,1180.8 647.8,1189.7 652.8,1198.3 657.8,1206.5 662.8,1214.5 667.8,1222.3 672.8,1229.3 677.8,1235.0 682.8,1240.0 687.8,1244.4 692.8,1247.8 697.8,1250.7 702.8,1252.8 707.8,1252.5 712.8,1249.3 717.8,1244.9 722.8,1241.2 727.8,1239.8 732.8,1239.2 737.8,1238.5 742.8,1237.0 747.8,1233.8 752.8,1230.0 757.8,1226.6 762.8,1223.2 767.8,1219.9 772.8,1216.5 777.8,1213.1 782.8,1209.6 787.8,1206.0 792.8,1202.2 797.8,1198.4 802.8,1194.7 807.8,1191.1 812.8,1187.5 817.8,1184.0 822.8,1180.5 827.8,1177.1 832.8,1173.6 837.8,1170.1 842.8,1166.7 847.8,1163.2 852.8,1159.7 857.8,1156.3 862.8,1153.0 867.8,1149.8 872.8,1146.8 877.8,1144.2 882.8,1141.7 887.8,1139.5 892.8,1137.8 897.8,1136.1 902.8,1135.0 907.8,1134.9 912.8,1134.9 917.8,1135.0 922.8,1135.4 927.8,1137.0 932.8,1139.3 937.8,1142.2 942.8,1146.8 947.8,1152.8 952.8,1159.8 957.8,1168.9 962.8,1179.5 967.8,1191.0 972.8,1203.7 977.8,1218.8 982.8,1239.2 987.8,1268.6 992.8,1298.6 1012.8,1372.1" fill="none" stroke="#4795c8" stroke-width="1.20" stroke-linejoin="round"/>
<polyline points="72.5,928.0 105.2,928.0 206.3,898.1 265.5,889.6 307.5,885.6 340.1,880.9 366.7,881.6 389.2,884.4 408.6,888.4 425.8,894.4 441.2,901.1 455.1,913.7 467.8,928.0 472.8,933.8 477.8,939.6 482.8,945.5 487.8,951.6 492.8,958.0 497.8,964.8 502.8,971.5 507.8,978.2 512.8,984.8 517.8,991.5 522.8,998.2 527.8,1005.2 532.8,1012.8 537.8,1021.0 542.8,1028.7 547.8,1035.7 552.8,1042.3 557.8,1048.9 562.8,1055.7 567.8,1062.8 572.8,1070.3 577.8,1077.8 582.8,1085.2 587.8,1092.3 592.8,1099.0 597.8,1105.7 602.8,1112.6 607.8,1120.1 612.8,1128.6 617.8,1137.9 622.8,1147.5 627.8,1157.3 632.8,1166.6 637.8,1175.8 642.8,1185.1 647.8,1194.2 652.8,1202.9 657.8,1211.1 662.8,1218.7 667.8,1226.1 672.8,1232.7 677.8,1237.8 682.8,1242.2 687.8,1245.9 692.8,1248.9 697.8,1251.3 702.8,1253.1 707.8,1252.7 712.8,1249.4 717.8,1244.8 722.8,1241.1 727.8,1239.6 732.8,1239.0 737.8,1238.3 742.8,1236.7 747.8,1233.5 752.8,1229.6 757.8,1226.2 762.8,1222.9 767.8,1219.5 772.8,1216.0 777.8,1212.6 782.8,1209.1 787.8,1205.5 792.8,1201.7 797.8,1197.9 802.8,1194.3 807.8,1190.6 812.8,1187.0 817.8,1183.5 822.8,1180.0 827.8,1176.6 832.8,1173.1 837.8,1169.6 842.8,1166.2 847.8,1162.7 852.8,1159.2 857.8,1155.8 862.8,1152.5 867.8,1149.3 872.8,1146.3 877.8,1143.6 882.8,1141.1 887.8,1139.0 892.8,1137.2 897.8,1135.5 902.8,1134.5 907.8,1134.3 912.8,1134.4 917.8,1134.5 922.8,1134.8 927.8,1136.4 932.8,1138.7 937.8,1141.6 942.8,1146.2 947.8,1152.1 952.8,1159.1 957.8,1168.2 962.8,1178.9 967.8,1190.3 972.8,1202.9 977.8,1218.1 982.8,1238.5 987.8,1268.0 992.8,1298.2 1012.8,1372.1" fill="none" stroke="#4493c7" stroke-width="1.20" stroke-linejoin="round"/>
<polyline points="72.5,930.9 105.2,930.9 206.3,900.1 265.5,891.1 307.5,887.1 340.1,882.6 366.7,883.1 389.2,885.6 408.6,889.6 425.8,895.6 441.2,902.1 455.1,915.2 467.8,930.4 472.8,936.6 477.8,943.0 482.8,949.5 487.8,956.1 492.8,962.7 497.8,969.5 502.8,976.3 507.8,983.1 512.8,989.8 517.8,996.5 522.8,1002.8 527.8,1009.4 532.8,1016.5 537.8,1024.2 542.8,1031.7 547.8,1038.6 552.8,1045.3 557.8,1052.0 562.8,1058.9 567.8,1066.1 572.8,1073.6 577.8,1081.1 582.8,1088.4 587.8,1095.5 592.8,1102.2 597.8,1108.7 602.8,1115.6 607.8,1123.1 612.8,1131.7 617.8,1141.1 622.8,1150.9 627.8,1160.8 632.8,1170.3 637.8,1179.8 642.8,1189.3 647.8,1198.7 652.8,1207.5 657.8,1215.6 662.8,1223.0 667.8,1230.0 672.8,1236.0 677.8,1240.6 682.8,1244.3 687.8,1247.5 692.8,1249.9 697.8,1251.9 702.8,1253.4 707.8,1253.0 712.8,1249.5 717.8,1244.8 722.8,1241.0 727.8,1239.4 732.8,1238.8 737.8,1238.0 742.8,1236.4 747.8,1233.2 752.8,1229.3 757.8,1225.9 762.8,1222.5 767.8,1219.1 772.8,1215.6 777.8,1212.2 782.8,1208.7 787.8,1205.0 792.8,1201.3 797.8,1197.5 802.8,1193.8 807.8,1190.1 812.8,1186.6 817.8,1183.0 822.8,1179.6 827.8,1176.1 832.8,1172.6 837.8,1169.1 842.8,1165.7 847.8,1162.2 852.8,1158.7 857.8,1155.3 862.8,1152.0 867.8,1148.8 872.8,1145.8 877.8,1143.1 882.8,1140.6 887.8,1138.4 892.8,1136.7 897.8,1135.0 902.8,1133.9 907.8,1133.8 912.8,1133.8 917.8,1133.9 922.8,1134.3 927.8,1135.8 932.8,1138.1 937.8,1141.0 942.8,1145.6 947.8,1151.5 952.8,1158.5 957.8,1167.6 962.8,1178.2 967.8,1189.6 972.8,1202.2 977.8,1217.3 982.8,1237.8 987.8,1267.5 992.8,1297.8 1012.8,1372.1" fill="none" stroke="#4191c5" stroke-width="1.20" stroke-linejoin="round"/>
<polyline points="72.5,933.7 105.2,933.7 206.3,902.1 265.5,892.6 307.5,888.6 340.1,884.4 366.7,884.6 389.2,886.9 408.6,890.9 425.8,896.9 441.2,903.1 455.1,916.7 467.8,932.7 472.8,939.4 477.8,946.4 482.8,953.5 487.8,960.5 492.8,967.4 497.8,974.2 502.8,981.0 507.8,988.0 512.8,994.9 517.8,1001.4 522.8,1007.4 527.8,1013.5 532.8,1020.2 537.8,1027.5 542.8,1034.6 547.8,1041.5 552.8,1048.3 557.8,1055.2 562.8,1062.1 567.8,1069.4 572.8,1076.8 577.8,1084.3 582.8,1091.7 587.8,1098.7 592.8,1105.3 597.8,1111.8 602.8,1118.6 607.8,1126.1 612.8,1134.7 617.8,1144.3 622.8,1154.3 627.8,1164.4 632.8,1174.1 637.8,1183.7 642.8,1193.6 647.8,1203.2 652.8,1212.2 657.8,1220.2 662.8,1227.2 667.8,1233.9 672.8,1239.4 677.8,1243.4 682.8,1246.5 687.8,1249.0 692.8,1250.9 697.8,1252.5 702.8,1253.7 707.8,1253.2 712.8,1249.6 717.8,1244.8 722.8,1240.8 727.8,1239.3 732.8,1238.6 737.8,1237.8 742.8,1236.1 747.8,1232.9 752.8,1229.0 757.8,1225.5 762.8,1222.1 767.8,1218.7 772.8,1215.2 777.8,1211.7 782.8,1208.2 787.8,1204.6 792.8,1200.8 797.8,1197.0 802.8,1193.3 807.8,1189.7 812.8,1186.1 817.8,1182.5 822.8,1179.1 827.8,1175.6 832.8,1172.1 837.8,1168.7 842.8,1165.2 847.8,1161.7 852.8,1158.2 857.8,1154.8 862.8,1151.5 867.8,1148.3 872.8,1145.3 877.8,1142.6 882.8,1140.1 887.8,1137.9 892.8,1136.1 897.8,1134.4 902.8,1133.4 907.8,1133.2 912.8,1133.3 917.8,1133.3 922.8,1133.7 927.8,1135.2 932.8,1137.5 937.8,1140.4 942.8,1145.0 947.8,1150.9 952.8,1157.9 957.8,1166.9 962.8,1177.5 967.8,1188.9 972.8,1201.5 977.8,1216.6 982.8,1237.1 987.8,1266.9 992.8,1297.4 1012.8,1372.1" fill="none" stroke="#3e8ec4" stroke-width="1.20" stroke-linejoin="round"/>
<polyline points="72.5,936.6 105.2,936.6 206.3,904.1 265.5,894.1 307.5,890.1 340.1,886.1 366.7,886.1 389.2,888.1 408.6,892.1 425.8,898.1 441.2,904.1 455.1,918.2 467.8,935.0 472.8,942.2 477.8,949.7 482.8,957.4 487.8,964.9 492.8,972.0 497.8,978.9 502.8,985.8 507.8,992.9 512.8,999.9 517.8,1006.3 522.8,1012.0 527.8,1017.7 532.8,1024.0 537.8,1030.7 542.8,1037.6 547.8,1044.5 552.8,1051.3 557.8,1058.3 562.8,1065.4 567.8,1072.7 572.8,1080.1 577.8,1087.6 582.8,1095.0 587.8,1102.0 592.8,1108.5 597.8,1114.9 602.8,1121.6 607.8,1129.1 612.8,1137.8 617.8,1147.5 622.8,1157.7 627.8,1168.0 632.8,1177.9 637.8,1187.7 642.8,1197.8 647.8,1207.7 652.8,1216.8 657.8,1224.7 662.8,1231.5 667.8,1237.7 672.8,1242.8 677.8,1246.1 682.8,1248.6 687.8,1250.5 692.8,1252.0 697.8,1253.2 702.8,1254.0 707.8,1253.4 712.8,1249.8 717.8,1244.8 722.8,1240.7 727.8,1239.1 732.8,1238.3 737.8,1237.6 742.8,1235.9 747.8,1232.6 752.8,1228.7 757.8,1225.2 762.8,1221.7 767.8,1218.3 772.8,1214.8 777.8,1211.3 782.8,1207.8 787.8,1204.1 792.8,1200.3 797.8,1196.5 802.8,1192.8 807.8,1189.2 812.8,1185.6 817.8,1182.1 822.8,1178.6 827.8,1175.1 832.8,1171.7 837.8,1168.2 842.8,1164.7 847.8,1161.2 852.8,1157.7 857.8,1154.3 862.8,1151.0 867.8,1147.8 872.8,1144.8 877.8,1142.1 882.8,1139.6 887.8,1137.4 892.8,1135.6 897.8,1133.9 902.8,1132.8 907.8,1132.7 912.8,1132.7 917.8,1132.8 922.8,1133.1 927.8,1134.6 932.8,1136.9 937.8,1139.7 942.8,1144.3 947.8,1150.3 952.8,1157.2 957.8,1166.3 962.8,1176.9 967.8,1188.2 972.8,1200.8 977.8,1215.9 982.8,1236.4 987.8,1266.3 992.8,1297.0 997.8,1320.5 1012.8,1372.1" fill="none" stroke="#3b8bc3" stroke-width="1.20" stroke-linejoin="round"/>
<polyline points="72.5,841.7 105.2,841.7 206.3,1216.0 265.5,1600.0 1012.8,1700.0" fill="none" stroke="#fdb272" stroke-width="3.40" stroke-linejoin="round"/>
<polyline points="72.5,819.3 105.2,819.3 206.3,1041.6 265.5,1074.3 307.5,1170.7 340.1,1172.3 366.7,1162.7 389.2,1157.3 408.6,1155.0 425.8,1155.0 441.2,1160.0 455.1,1169.6 467.8,1178.2 472.8,1180.5 477.8,1182.8 482.8,1185.7 487.8,1189.5 492.8,1193.9 497.8,1198.5 502.8,1202.9 507.8,1206.7 512.8,1210.1 517.8,1213.4 522.8,1216.6 527.8,1219.9 532.8,1223.4 537.8,1227.2 542.8,1231.0 547.8,1234.7 552.8,1239.1 557.8,1243.6 562.8,1247.1 567.8,1248.5 572.8,1248.3 577.8,1247.8 582.8,1247.2 587.8,1246.5 592.8,1245.8 597.8,1244.7 602.8,1243.6 607.8,1242.8 612.8,1242.4 617.8,1242.9 622.8,1244.2 627.8,1245.9 632.8,1247.9 637.8,1250.6 642.8,1253.8 647.8,1257.3 652.8,1260.9 657.8,1265.3 662.8,1269.9 667.8,1273.8 672.8,1276.3 677.8,1278.4 682.8,1279.4 687.8,1279.4 692.8,1279.2 697.8,1278.9 702.8,1278.6 707.8,1277.0 712.8,1274.7 717.8,1273.2 722.8,1271.8 727.8,1270.6 732.8,1269.5 737.8,1268.3 742.8,1267.2 747.8,1265.9 752.8,1264.5 757.8,1263.1 762.8,1261.7 767.8,1260.5 772.8,1259.3 777.8,1258.5 782.8,1257.7 787.8,1256.9 792.8,1256.3 797.8,1256.0 802.8,1256.1 807.8,1256.4 812.8,1257.0 817.8,1257.8 822.8,1258.7 827.8,1259.9 832.8,1261.5 837.8,1263.4 842.8,1265.4 847.8,1267.7 852.8,1270.2 857.8,1273.0 862.8,1275.8 867.8,1279.7 872.8,1290.1 877.8,1300.6 1012.8,1340.0" fill="none" stroke="#fdb272" stroke-width="3.40" stroke-linejoin="round"/>
<polyline points="72.5,766.0 105.2,766.0 206.3,978.0 265.5,1040.0 307.5,1098.0 340.1,1117.0 366.7,1113.0 389.2,1119.0 408.6,1125.0 425.8,1128.0 441.2,1131.0 455.1,1142.1 467.8,1154.5 472.8,1159.0 477.8,1163.7 482.8,1168.4 487.8,1172.9 492.8,1176.9 497.8,1180.5 502.8,1183.4 507.8,1185.4 512.8,1187.0 517.8,1188.5 522.8,1189.7 527.8,1190.8 532.8,1191.8 537.8,1192.8 542.8,1193.7 547.8,1194.4 552.8,1195.0 557.8,1195.7 562.8,1196.8 567.8,1198.9 572.8,1202.6 577.8,1207.3 582.8,1212.4 587.8,1217.2 592.8,1221.9 597.8,1226.7 602.8,1231.6 607.8,1236.7 612.8,1241.8 617.8,1247.0 622.8,1252.1 627.8,1257.2 632.8,1262.3 637.8,1267.6 642.8,1272.7 647.8,1277.5 652.8,1281.7 657.8,1286.0 662.8,1290.1 667.8,1293.9 672.8,1297.0 1012.8,1339.9" fill="none" stroke="#fdb272" stroke-width="3.40" stroke-linejoin="round"/>
<polyline points="72.5,752.0 105.2,752.0 206.3,950.0 265.5,1005.0 307.5,1045.0 340.1,1066.0 366.7,1077.0 389.2,1084.0 408.6,1090.0 425.8,1100.0 441.2,1106.0 455.1,1119.4 467.8,1128.0 472.8,1129.3 477.8,1130.4 482.8,1131.2 487.8,1132.0 492.8,1132.7 497.8,1133.6 502.8,1134.6 507.8,1135.8 512.8,1137.1 517.8,1138.5 522.8,1140.2 527.8,1142.2 532.8,1144.8 537.8,1148.8 542.8,1154.0 547.8,1159.7 552.8,1165.5 557.8,1170.9 562.8,1176.5 567.8,1182.3 572.8,1188.2 577.8,1194.0 582.8,1199.6 587.8,1204.9 592.8,1209.9 597.8,1214.9 602.8,1219.7 607.8,1224.4 612.8,1229.0 617.8,1233.3 622.8,1237.4 627.8,1241.2 632.8,1244.8 637.8,1248.2 642.8,1251.4 647.8,1254.5 652.8,1257.4 657.8,1260.3 662.8,1263.0 667.8,1265.6 672.8,1268.1 677.8,1270.4 682.8,1272.6 687.8,1274.7 692.8,1276.8 697.8,1279.0 702.8,1281.4 707.8,1284.0 712.8,1286.9 717.8,1289.7 722.8,1292.6 727.8,1295.2 732.8,1297.5 1012.8,1339.9" fill="none" stroke="#fdb272" stroke-width="3.40" stroke-linejoin="round"/>
<polyline points="72.5,742.0 105.2,742.0 206.3,930.0 265.5,985.0 307.5,1016.0 340.1,1044.0 366.7,1050.0 389.2,1055.0 408.6,1062.0 425.8,1068.0 441.2,1072.0 455.1,1077.5 467.8,1083.2 472.8,1085.4 477.8,1087.6 482.8,1089.9 487.8,1092.3 492.8,1094.8 497.8,1097.5 502.8,1100.5 507.8,1103.7 512.8,1107.2 517.8,1111.2 522.8,1115.6 527.8,1120.2 532.8,1125.1 537.8,1130.2 542.8,1135.7 547.8,1142.0 552.8,1148.8 557.8,1155.7 562.8,1162.4 567.8,1168.4 572.8,1174.0 577.8,1179.4 582.8,1184.6 587.8,1189.7 592.8,1194.6 597.8,1199.3 602.8,1204.0 607.8,1208.5 612.8,1213.0 617.8,1217.4 622.8,1221.8 627.8,1226.1 632.8,1230.2 637.8,1234.1 642.8,1237.7 647.8,1241.1 652.8,1244.1 657.8,1247.0 662.8,1249.8 667.8,1252.4 672.8,1254.9 677.8,1257.2 682.8,1259.2 687.8,1261.0 692.8,1262.5 697.8,1263.9 702.8,1265.3 707.8,1266.5 712.8,1267.4 717.8,1267.9 722.8,1268.0 727.8,1268.0 732.8,1268.0 737.8,1268.0 742.8,1268.0 747.8,1268.0 752.8,1268.0 757.8,1268.0 762.8,1268.0 767.8,1268.1 772.8,1268.3 777.8,1268.5 782.8,1268.7 787.8,1269.1 792.8,1269.4 797.8,1269.8 802.8,1270.3 807.8,1271.0 812.8,1271.9 817.8,1273.0 822.8,1274.3 827.8,1275.8 832.8,1277.4 837.8,1279.2 842.8,1281.2 847.8,1284.3 852.8,1288.0 857.8,1291.9 862.8,1295.7 867.8,1298.9 1012.8,1339.6" fill="none" stroke="#fdb272" stroke-width="3.40" stroke-linejoin="round"/>
<polyline points="72.5,706.7 105.2,706.7 206.3,783.3 265.5,863.3 307.5,943.3 340.1,968.0 366.7,987.0 389.2,997.0 408.6,1004.0 425.8,1010.0 441.2,1016.0 455.1,1023.9 467.8,1032.4 472.8,1035.8 477.8,1039.0 482.8,1042.1 487.8,1045.2 492.8,1048.3 497.8,1051.4 502.8,1054.8 507.8,1058.4 512.8,1062.2 517.8,1066.2 522.8,1070.4 527.8,1074.9 532.8,1079.8 537.8,1085.3 542.8,1091.3 547.8,1097.4 552.8,1103.5 557.8,1109.4 562.8,1115.3 567.8,1121.1 572.8,1126.9 577.8,1132.7 582.8,1138.6 587.8,1144.4 592.8,1150.2 597.8,1156.0 602.8,1161.8 607.8,1167.6 612.8,1173.5 617.8,1179.4 622.8,1185.3 627.8,1191.1 632.8,1197.1 637.8,1203.2 642.8,1209.3 647.8,1215.1 652.8,1220.5 657.8,1225.3 662.8,1229.9 667.8,1234.2 672.8,1238.2 677.8,1241.7 682.8,1245.1 687.8,1248.6 692.8,1251.8 697.8,1254.5 702.8,1256.4 707.8,1257.2 712.8,1257.8 717.8,1258.2 722.8,1258.5 727.8,1258.6 732.8,1258.4 737.8,1257.9 742.8,1257.1 747.8,1256.1 752.8,1255.1 757.8,1254.2 762.8,1253.4 767.8,1252.6 772.8,1251.8 777.8,1250.9 782.8,1250.2 787.8,1249.7 792.8,1249.5 797.8,1249.5 802.8,1249.5 807.8,1249.5 812.8,1249.5 817.8,1249.6 822.8,1250.2 827.8,1251.4 832.8,1252.9 837.8,1254.6 842.8,1256.8 847.8,1259.6 852.8,1262.6 857.8,1266.1 862.8,1270.1 867.8,1274.2 872.8,1279.1 877.8,1289.5 882.8,1300.9 1012.8,1340.0" fill="none" stroke="#fd9a4f" stroke-width="4.40" stroke-linejoin="round"/>
<polyline points="72.5,710.0 105.2,710.0 206.3,780.0 265.5,852.0 307.5,935.0 340.1,962.0 366.7,981.0 389.2,994.0 408.6,1003.0 425.8,1010.0 441.2,1017.0 455.1,1024.9 467.8,1033.0 472.8,1036.3 477.8,1039.6 482.8,1043.0 487.8,1046.4 492.8,1050.0 497.8,1053.7 502.8,1057.6 507.8,1061.5 512.8,1065.7 517.8,1070.0 522.8,1074.5 527.8,1079.1 532.8,1083.9 537.8,1088.8 542.8,1093.7 547.8,1098.8 552.8,1104.1 557.8,1109.5 562.8,1115.1 567.8,1120.9 572.8,1126.7 577.8,1132.6 582.8,1138.6 587.8,1144.5 592.8,1150.6 597.8,1156.8 602.8,1163.2 607.8,1169.6 612.8,1176.0 617.8,1182.2 622.8,1188.3 627.8,1194.2 632.8,1199.8 637.8,1205.5 642.8,1211.2 647.8,1216.7 652.8,1222.1 657.8,1227.1 662.8,1231.8 667.8,1235.9 672.8,1239.6 677.8,1243.0 682.8,1246.2 687.8,1249.1 692.8,1251.6 697.8,1253.5 702.8,1255.0 707.8,1256.3 712.8,1257.3 717.8,1257.9 722.8,1257.9 727.8,1257.6 732.8,1257.1 737.8,1256.4 742.8,1255.7 747.8,1255.1 752.8,1254.3 757.8,1253.4 762.8,1252.5 767.8,1251.7 772.8,1251.0 777.8,1250.4 782.8,1250.0 787.8,1249.6 792.8,1249.2 797.8,1248.8 802.8,1248.6 807.8,1248.5 812.8,1248.6 817.8,1249.1 822.8,1249.9 827.8,1250.9 832.8,1252.1 837.8,1253.4 842.8,1255.5 847.8,1258.2 852.8,1261.2 857.8,1264.7 862.8,1268.9 867.8,1273.6 872.8,1278.2 877.8,1289.6 882.8,1296.1 887.8,1299.8 1012.8,1339.0" fill="none" stroke="#fd9a4f" stroke-width="4.40" stroke-linejoin="round"/>
<polyline points="72.5,708.6 105.2,710.9 206.3,792.0 265.5,859.9 307.5,933.9 340.1,959.7 366.7,979.2 389.2,992.9 408.6,1002.2 425.8,1009.3 441.2,1015.6 455.1,1022.1 467.8,1028.7 472.8,1031.4 477.8,1034.2 482.8,1037.0 487.8,1040.0 492.8,1043.1 497.8,1046.4 502.8,1049.8 507.8,1053.4 512.8,1057.2 517.8,1061.3 522.8,1065.6 527.8,1070.1 532.8,1074.7 537.8,1079.6 542.8,1084.6 547.8,1089.7 552.8,1095.1 557.8,1100.6 562.8,1106.4 567.8,1112.4 572.8,1118.5 577.8,1124.7 582.8,1131.0 587.8,1137.4 592.8,1143.8 597.8,1150.5 602.8,1157.4 607.8,1164.2 612.8,1171.1 617.8,1177.9 622.8,1184.5 627.8,1190.8 632.8,1197.0 637.8,1203.1 642.8,1209.1 647.8,1214.8 652.8,1220.2 657.8,1225.2 662.8,1229.9 667.8,1234.0 672.8,1237.6 677.8,1241.0 682.8,1244.2 687.8,1247.1 692.8,1249.5 697.8,1251.4 702.8,1252.8 707.8,1254.1 712.8,1255.1 717.8,1255.7 722.8,1256.0 727.8,1256.0 732.8,1255.9 737.8,1255.6 742.8,1255.2 747.8,1254.6 752.8,1253.9 757.8,1253.0 762.8,1252.1 767.8,1251.2 772.8,1250.5 777.8,1249.9 782.8,1249.5 787.8,1249.1 792.8,1248.7 797.8,1248.4 802.8,1248.1 807.8,1248.0 812.8,1248.1 817.8,1248.6 822.8,1249.3 827.8,1250.4 832.8,1251.5 837.8,1252.9 842.8,1254.9 847.8,1257.6 852.8,1260.6 857.8,1264.0 862.8,1268.3 867.8,1272.9 872.8,1277.5 877.8,1288.6 882.8,1295.5 887.8,1299.2 1012.8,1338.5" fill="none" stroke="#fd974a" stroke-width="4.40" stroke-linejoin="round"/>
<polyline points="72.5,716.1 105.2,714.5 206.3,785.6 265.5,857.5 307.5,931.3 340.1,959.3 366.7,980.1 389.2,994.3 408.6,1004.3 425.8,1012.3 441.2,1019.6 455.1,1026.5 467.8,1033.5 472.8,1036.5 477.8,1039.6 482.8,1042.8 487.8,1046.1 492.8,1049.5 497.8,1053.0 502.8,1056.7 507.8,1060.5 512.8,1064.5 517.8,1068.6 522.8,1073.0 527.8,1077.5 532.8,1082.1 537.8,1086.8 542.8,1091.6 547.8,1096.4 552.8,1101.3 557.8,1106.3 562.8,1111.5 567.8,1116.8 572.8,1122.1 577.8,1127.5 582.8,1132.9 587.8,1138.3 592.8,1143.8 597.8,1149.5 602.8,1155.2 607.8,1161.1 612.8,1166.9 617.8,1172.6 622.8,1178.2 627.8,1183.6 632.8,1188.7 637.8,1194.0 642.8,1199.2 647.8,1204.5 652.8,1209.7 657.8,1214.7 662.8,1219.4 667.8,1223.8 672.8,1227.9 677.8,1231.8 682.8,1235.7 687.8,1239.3 692.8,1242.6 697.8,1245.3 702.8,1247.6 707.8,1249.8 712.8,1251.7 717.8,1253.2 722.8,1254.0 727.8,1254.4 732.8,1254.7 737.8,1254.8 742.8,1254.6 747.8,1254.2 752.8,1253.5 757.8,1252.7 762.8,1251.7 767.8,1250.8 772.8,1250.0 777.8,1249.5 782.8,1249.0 787.8,1248.6 792.8,1248.2 797.8,1247.9 802.8,1247.6 807.8,1247.5 812.8,1247.6 817.8,1248.0 822.8,1248.8 827.8,1249.8 832.8,1251.0 837.8,1252.3 842.8,1254.4 847.8,1257.0 852.8,1260.0 857.8,1263.4 862.8,1267.6 867.8,1272.3 872.8,1276.9 877.8,1287.6 882.8,1294.9 887.8,1298.6 1012.8,1338.0" fill="none" stroke="#fd9446" stroke-width="4.40" stroke-linejoin="round"/>
<polyline points="72.5,721.1 105.2,721.3 206.3,797.0 265.5,865.4 307.5,929.9 340.1,954.9 366.7,974.2 389.2,987.7 408.6,997.4 425.8,1005.6 441.2,1012.9 455.1,1019.4 467.8,1026.2 472.8,1029.1 477.8,1032.2 482.8,1035.5 487.8,1038.9 492.8,1042.5 497.8,1046.1 502.8,1049.9 507.8,1053.9 512.8,1058.0 517.8,1062.5 522.8,1067.1 527.8,1071.8 532.8,1076.7 537.8,1081.7 542.8,1086.8 547.8,1091.8 552.8,1096.9 557.8,1102.2 562.8,1107.6 567.8,1113.1 572.8,1118.6 577.8,1124.2 582.8,1129.8 587.8,1135.5 592.8,1141.2 597.8,1147.1 602.8,1153.1 607.8,1159.2 612.8,1165.2 617.8,1171.2 622.8,1177.0 627.8,1182.7 632.8,1188.1 637.8,1193.6 642.8,1198.9 647.8,1204.1 652.8,1209.1 657.8,1213.9 662.8,1218.5 667.8,1222.8 672.8,1226.7 677.8,1230.6 682.8,1234.4 687.8,1237.9 692.8,1241.0 697.8,1243.7 702.8,1245.9 707.8,1247.9 712.8,1249.7 717.8,1251.1 722.8,1252.0 727.8,1252.9 732.8,1253.5 737.8,1253.9 742.8,1254.0 747.8,1253.8 752.8,1253.1 757.8,1252.3 762.8,1251.3 767.8,1250.4 772.8,1249.6 777.8,1249.0 782.8,1248.5 787.8,1248.1 792.8,1247.7 797.8,1247.4 802.8,1247.1 807.8,1247.0 812.8,1247.1 817.8,1247.5 822.8,1248.3 827.8,1249.3 832.8,1250.5 837.8,1251.8 842.8,1253.8 847.8,1256.4 852.8,1259.4 857.8,1262.8 862.8,1267.0 867.8,1271.6 872.8,1276.2 877.8,1286.6 882.8,1294.3 887.8,1298.0 1012.8,1337.5" fill="none" stroke="#fd9142" stroke-width="4.40" stroke-linejoin="round"/>
<polyline points="72.5,723.2 105.2,719.7 206.3,801.1 265.5,876.0 307.5,933.8 340.1,955.1 366.7,972.3 389.2,985.1 408.6,995.2 425.8,1004.8 441.2,1013.2 455.1,1020.4 467.8,1027.4 472.8,1030.5 477.8,1033.7 482.8,1037.0 487.8,1040.4 492.8,1043.9 497.8,1047.5 502.8,1051.1 507.8,1054.8 512.8,1058.6 517.8,1062.7 522.8,1066.9 527.8,1071.2 532.8,1075.5 537.8,1079.9 542.8,1084.3 547.8,1088.6 552.8,1093.0 557.8,1097.4 562.8,1102.0 567.8,1106.6 572.8,1111.4 577.8,1116.2 582.8,1121.1 587.8,1126.0 592.8,1131.2 597.8,1136.5 602.8,1142.0 607.8,1147.7 612.8,1153.4 617.8,1159.1 622.8,1164.8 627.8,1170.5 632.8,1176.0 637.8,1181.6 642.8,1187.4 647.8,1193.3 652.8,1199.1 657.8,1204.7 662.8,1210.1 667.8,1215.2 672.8,1220.0 677.8,1224.7 682.8,1229.1 687.8,1233.3 692.8,1237.1 697.8,1240.3 702.8,1242.9 707.8,1245.3 712.8,1247.3 717.8,1248.8 722.8,1250.0 727.8,1251.3 732.8,1252.3 737.8,1253.1 742.8,1253.5 747.8,1253.3 752.8,1252.8 757.8,1251.9 762.8,1250.9 767.8,1250.0 772.8,1249.1 777.8,1248.5 782.8,1248.0 787.8,1247.6 792.8,1247.2 797.8,1246.9 802.8,1246.6 807.8,1246.5 812.8,1246.6 817.8,1247.0 822.8,1247.7 827.8,1248.8 832.8,1249.9 837.8,1251.2 842.8,1253.2 847.8,1255.8 852.8,1258.8 857.8,1262.1 862.8,1266.3 867.8,1271.0 872.8,1275.5 877.8,1285.6 882.8,1293.6 887.8,1297.3 1012.8,1337.0" fill="none" stroke="#fd8e3d" stroke-width="4.40" stroke-linejoin="round"/>
<polyline points="72.5,726.1 105.2,724.7 206.3,804.3 265.5,873.0 307.5,927.1 340.1,952.2 366.7,972.8 389.2,987.5 408.6,998.2 425.8,1007.6 441.2,1015.2 455.1,1020.7 467.8,1026.4 472.8,1029.0 477.8,1031.8 482.8,1034.8 487.8,1038.0 492.8,1041.3 497.8,1044.7 502.8,1048.2 507.8,1051.9 512.8,1055.8 517.8,1059.9 522.8,1064.3 527.8,1068.8 532.8,1073.5 537.8,1078.2 542.8,1082.9 547.8,1087.6 552.8,1092.3 557.8,1097.1 562.8,1102.0 567.8,1107.0 572.8,1112.0 577.8,1117.1 582.8,1122.2 587.8,1127.4 592.8,1132.6 597.8,1138.1 602.8,1143.6 607.8,1149.2 612.8,1154.8 617.8,1160.4 622.8,1165.8 627.8,1171.1 632.8,1176.3 637.8,1181.5 642.8,1186.7 647.8,1191.8 652.8,1196.8 657.8,1201.7 662.8,1206.5 667.8,1211.1 672.8,1215.6 677.8,1220.0 682.8,1224.4 687.8,1228.6 692.8,1232.5 697.8,1236.0 702.8,1239.0 707.8,1241.7 712.8,1244.2 717.8,1246.4 722.8,1248.1 727.8,1249.7 732.8,1251.1 737.8,1252.3 742.8,1252.9 747.8,1252.9 752.8,1252.4 757.8,1251.5 762.8,1250.5 767.8,1249.5 772.8,1248.6 777.8,1248.0 782.8,1247.6 787.8,1247.1 792.8,1246.7 797.8,1246.4 802.8,1246.2 807.8,1246.0 812.8,1246.1 817.8,1246.5 822.8,1247.2 827.8,1248.2 832.8,1249.4 837.8,1250.7 842.8,1252.6 847.8,1255.2 852.8,1258.2 857.8,1261.5 862.8,1265.7 867.8,1270.3 872.8,1274.8 877.8,1284.6 882.8,1293.0 887.8,1296.7 892.8,1300.2 1012.8,1336.5" fill="none" stroke="#fc8b39" stroke-width="4.40" stroke-linejoin="round"/>
<polyline points="72.5,728.0 105.2,728.0 206.3,812.0 265.5,880.0 307.5,928.0 340.1,952.0 366.7,972.0 389.2,986.0 408.6,996.0 425.8,1005.0 441.2,1012.0 455.1,1016.6 467.8,1021.4 472.8,1023.8 477.8,1026.4 482.8,1029.3 487.8,1032.4 492.8,1035.6 497.8,1039.0 502.8,1042.5 507.8,1046.1 512.8,1050.0 517.8,1054.2 522.8,1058.7 527.8,1063.4 532.8,1068.1 537.8,1073.0 542.8,1077.8 547.8,1082.6 552.8,1087.4 557.8,1092.2 562.8,1097.1 567.8,1102.1 572.8,1107.1 577.8,1112.2 582.8,1117.4 587.8,1122.6 592.8,1127.9 597.8,1133.3 602.8,1138.9 607.8,1144.5 612.8,1150.1 617.8,1155.7 622.8,1161.2 627.8,1166.5 632.8,1171.8 637.8,1177.0 642.8,1182.1 647.8,1187.2 652.8,1192.3 657.8,1197.2 662.8,1202.1 667.8,1206.8 672.8,1211.4 677.8,1216.1 682.8,1220.7 687.8,1225.1 692.8,1229.2 697.8,1232.9 702.8,1236.2 707.8,1239.1 712.8,1241.8 717.8,1244.1 722.8,1246.1 727.8,1248.1 732.8,1250.0 737.8,1251.5 742.8,1252.3 747.8,1252.5 752.8,1252.0 757.8,1251.2 762.8,1250.2 767.8,1249.1 772.8,1248.2 777.8,1247.5 782.8,1247.1 787.8,1246.6 792.8,1246.2 797.8,1245.9 802.8,1245.7 807.8,1245.5 812.8,1245.6 817.8,1246.0 822.8,1246.7 827.8,1247.7 832.8,1248.8 837.8,1250.1 842.8,1252.0 847.8,1254.6 852.8,1257.6 857.8,1260.9 862.8,1265.0 867.8,1269.7 872.8,1274.2 877.8,1283.6 882.8,1292.4 887.8,1296.1 892.8,1299.6 1012.8,1336.0" fill="none" stroke="#fb8735" stroke-width="4.40" stroke-linejoin="round"/>
<polyline points="72.5,729.1 105.2,726.2 206.3,819.8 265.5,887.7 307.5,931.7 340.1,951.4 366.7,970.4 389.2,985.6 408.6,997.9 425.8,1009.1 441.2,1018.0 455.1,1023.2 467.8,1028.0 472.8,1030.3 477.8,1032.9 482.8,1035.6 487.8,1038.5 492.8,1041.5 497.8,1044.6 502.8,1047.7 507.8,1050.8 512.8,1054.2 517.8,1057.9 522.8,1061.8 527.8,1065.9 532.8,1070.1 537.8,1074.4 542.8,1078.7 547.8,1082.9 552.8,1087.2 557.8,1091.6 562.8,1096.1 567.8,1100.8 572.8,1105.6 577.8,1110.5 582.8,1115.5 587.8,1120.7 592.8,1126.0 597.8,1131.6 602.8,1137.3 607.8,1143.1 612.8,1149.1 617.8,1155.0 622.8,1161.0 627.8,1166.8 632.8,1172.5 637.8,1178.3 642.8,1184.0 647.8,1189.6 652.8,1195.0 657.8,1200.3 662.8,1205.3 667.8,1210.2 672.8,1214.8 677.8,1219.5 682.8,1224.1 687.8,1228.3 692.8,1232.2 697.8,1235.4 702.8,1238.0 707.8,1240.3 712.8,1242.4 717.8,1244.0 722.8,1245.5 727.8,1246.9 732.8,1248.2 737.8,1249.1 742.8,1249.6 747.8,1249.5 752.8,1249.0 757.8,1248.1 762.8,1247.2 767.8,1246.2 772.8,1245.3 777.8,1244.7 782.8,1244.2 787.8,1243.8 792.8,1243.4 797.8,1243.1 802.8,1242.8 807.8,1242.7 812.8,1242.7 817.8,1243.1 822.8,1243.8 827.8,1244.7 832.8,1245.7 837.8,1246.9 842.8,1248.8 847.8,1251.3 852.8,1254.3 857.8,1257.7 862.8,1262.0 867.8,1266.9 872.8,1272.0 877.8,1281.1 882.8,1289.4 887.8,1293.6 892.8,1299.8 1012.8,1337.3" fill="none" stroke="#f87e2b" stroke-width="4.40" stroke-linejoin="round"/>
<polyline points="72.5,733.9 105.2,731.1 206.3,813.9 265.5,889.0 307.5,942.9 340.1,964.3 366.7,981.1 389.2,993.1 408.6,1002.5 425.8,1011.6 441.2,1019.5 455.1,1023.8 467.8,1028.5 472.8,1031.0 477.8,1033.9 482.8,1037.1 487.8,1040.5 492.8,1044.1 497.8,1047.8 502.8,1051.6 507.8,1055.4 512.8,1059.4 517.8,1063.7 522.8,1068.2 527.8,1072.9 532.8,1077.6 537.8,1082.2 542.8,1086.9 547.8,1091.3 552.8,1095.8 557.8,1100.2 562.8,1104.7 567.8,1109.1 572.8,1113.6 577.8,1118.0 582.8,1122.5 587.8,1127.0 592.8,1131.6 597.8,1136.3 602.8,1141.1 607.8,1146.0 612.8,1150.9 617.8,1155.8 622.8,1160.6 627.8,1165.3 632.8,1170.0 637.8,1174.6 642.8,1179.5 647.8,1184.6 652.8,1189.8 657.8,1194.9 662.8,1200.0 667.8,1205.0 672.8,1210.0 677.8,1215.2 682.8,1220.3 687.8,1225.3 692.8,1229.8 697.8,1233.5 702.8,1236.5 707.8,1239.3 712.8,1241.6 717.8,1243.5 722.8,1244.8 727.8,1245.7 732.8,1246.4 737.8,1246.8 742.8,1246.9 747.8,1246.6 752.8,1246.0 757.8,1245.1 762.8,1244.2 767.8,1243.2 772.8,1242.4 777.8,1241.8 782.8,1241.4 787.8,1240.9 792.8,1240.5 797.8,1240.2 802.8,1240.0 807.8,1239.8 812.8,1239.9 817.8,1240.2 822.8,1240.8 827.8,1241.7 832.8,1242.6 837.8,1243.8 842.8,1245.6 847.8,1248.1 852.8,1251.0 857.8,1254.4 862.8,1259.0 867.8,1264.2 872.8,1269.9 877.8,1278.7 882.8,1286.4 887.8,1291.1 892.8,1299.9 1012.8,1338.6" fill="none" stroke="#f57520" stroke-width="4.40" stroke-linejoin="round"/>
<polyline points="72.5,733.8 105.2,734.1 206.3,826.1 265.5,894.0 307.5,944.6 340.1,964.4 366.7,981.4 389.2,994.3 408.6,1004.3 425.8,1013.4 441.2,1021.1 455.1,1024.1 467.8,1027.4 472.8,1029.5 477.8,1031.9 482.8,1034.7 487.8,1037.8 492.8,1041.1 497.8,1044.5 502.8,1048.1 507.8,1051.7 512.8,1055.6 517.8,1059.8 522.8,1064.3 527.8,1069.0 532.8,1073.9 537.8,1078.8 542.8,1083.7 547.8,1088.5 552.8,1093.4 557.8,1098.4 562.8,1103.4 567.8,1108.4 572.8,1113.6 577.8,1118.7 582.8,1124.0 587.8,1129.2 592.8,1134.6 597.8,1140.1 602.8,1145.6 607.8,1151.2 612.8,1156.9 617.8,1162.4 622.8,1167.9 627.8,1173.2 632.8,1178.3 637.8,1183.4 642.8,1188.4 647.8,1193.3 652.8,1198.0 657.8,1202.7 662.8,1207.3 667.8,1211.8 672.8,1216.1 677.8,1220.7 682.8,1225.3 687.8,1229.7 692.8,1233.5 697.8,1236.5 702.8,1238.6 707.8,1240.6 712.8,1242.2 717.8,1243.4 722.8,1244.2 727.8,1244.5 732.8,1244.6 737.8,1244.4 742.8,1244.1 747.8,1243.7 752.8,1242.9 757.8,1242.1 762.8,1241.2 767.8,1240.3 772.8,1239.6 777.8,1239.0 782.8,1238.5 787.8,1238.1 792.8,1237.7 797.8,1237.3 802.8,1237.1 807.8,1237.0 812.8,1237.0 817.8,1237.4 822.8,1237.9 827.8,1238.6 832.8,1239.5 837.8,1240.6 842.8,1242.4 847.8,1244.8 852.8,1247.7 857.8,1251.2 862.8,1256.0 867.8,1261.4 872.8,1267.8 877.8,1276.3 882.8,1283.5 887.8,1288.7 892.8,1300.1 1012.8,1339.9" fill="none" stroke="#f26c16" stroke-width="4.40" stroke-linejoin="round"/>
<polyline points="72.5,732.8 105.2,733.1 206.3,831.1 265.5,901.5 307.5,953.4 340.1,971.3 366.7,986.9 389.2,998.9 408.6,1008.6 425.8,1017.3 441.2,1025.0 455.1,1027.2 467.8,1029.6 472.8,1031.4 477.8,1033.7 482.8,1036.3 487.8,1039.2 492.8,1042.4 497.8,1045.7 502.8,1049.1 507.8,1052.5 512.8,1056.2 517.8,1060.3 522.8,1064.6 527.8,1069.1 532.8,1073.8 537.8,1078.6 542.8,1083.3 547.8,1088.0 552.8,1092.7 557.8,1097.5 562.8,1102.4 567.8,1107.4 572.8,1112.4 577.8,1117.5 582.8,1122.7 587.8,1127.9 592.8,1133.2 597.8,1138.6 602.8,1144.2 607.8,1149.8 612.8,1155.5 617.8,1161.1 622.8,1166.6 627.8,1171.9 632.8,1177.2 637.8,1182.4 642.8,1187.5 647.8,1192.6 652.8,1197.7 657.8,1202.6 662.8,1207.4 667.8,1212.1 672.8,1216.6 677.8,1221.4 682.8,1226.2 687.8,1230.7 692.8,1234.6 697.8,1237.4 702.8,1239.3 707.8,1241.0 712.8,1242.3 717.8,1243.2 722.8,1243.5 727.8,1243.3 732.8,1242.8 737.8,1242.1 742.8,1241.4 747.8,1240.7 752.8,1239.9 757.8,1239.1 762.8,1238.2 767.8,1237.4 772.8,1236.7 777.8,1236.2 782.8,1235.7 787.8,1235.2 792.8,1234.8 797.8,1234.5 802.8,1234.3 807.8,1234.1 812.8,1234.2 817.8,1234.5 822.8,1235.0 827.8,1235.6 832.8,1236.4 837.8,1237.4 842.8,1239.2 847.8,1241.6 852.8,1244.4 857.8,1248.0 862.8,1252.9 867.8,1258.7 872.8,1265.6 877.8,1273.9 882.8,1280.5 887.8,1286.2 892.8,1300.2 1012.8,1341.2" fill="none" stroke="#ed6310" stroke-width="4.40" stroke-linejoin="round"/>
<polyline points="72.5,735.0 105.2,735.0 206.3,835.0 265.5,905.0 307.5,958.0 340.1,975.0 366.7,990.0 389.2,1002.0 408.6,1012.0 425.8,1021.0 441.2,1029.0 455.1,1030.7 467.8,1032.7 472.8,1034.4 477.8,1036.6 482.8,1039.2 487.8,1042.1 492.8,1045.3 497.8,1048.6 502.8,1051.9 507.8,1055.3 512.8,1059.0 517.8,1063.0 522.8,1067.3 527.8,1071.9 532.8,1076.5 537.8,1081.3 542.8,1086.1 547.8,1090.8 552.8,1095.5 557.8,1100.3 562.8,1105.2 567.8,1110.1 572.8,1115.2 577.8,1120.3 582.8,1125.4 587.8,1130.6 592.8,1135.9 597.8,1141.3 602.8,1146.9 607.8,1152.5 612.8,1158.1 617.8,1163.6 622.8,1169.1 627.8,1174.3 632.8,1179.5 637.8,1184.6 642.8,1189.7 647.8,1194.6 652.8,1199.5 657.8,1204.3 662.8,1209.0 667.8,1213.5 672.8,1218.0 677.8,1222.7 682.8,1227.5 687.8,1232.0 692.8,1235.8 697.8,1238.4 702.8,1240.0 707.8,1241.3 712.8,1242.4 717.8,1242.9 722.8,1242.9 727.8,1242.2 732.8,1241.0 737.8,1239.8 742.8,1238.7 747.8,1237.8 752.8,1236.9 757.8,1236.0 762.8,1235.2 767.8,1234.5 772.8,1233.8 777.8,1233.3 782.8,1232.8 787.8,1232.4 792.8,1232.0 797.8,1231.6 802.8,1231.4 807.8,1231.3 812.8,1231.4 817.8,1231.6 822.8,1232.1 827.8,1232.6 832.8,1233.3 837.8,1234.2 842.8,1235.9 847.8,1238.3 852.8,1241.1 857.8,1244.8 862.8,1249.9 867.8,1255.9 872.8,1263.5 877.8,1271.5 882.8,1277.5 887.8,1283.7 892.8,1300.4 1012.8,1342.5" fill="none" stroke="#e65a0b" stroke-width="4.40" stroke-linejoin="round"/>
<polyline points="72.5,734.4 105.2,734.5 206.3,838.7 265.5,906.1 307.5,958.0 340.1,976.7 366.7,993.4 389.2,1006.7 408.6,1017.4 425.8,1026.5 441.2,1034.2 455.1,1035.8 467.8,1037.5 472.8,1039.0 477.8,1040.9 482.8,1043.2 487.8,1045.8 492.8,1048.7 497.8,1051.7 502.8,1054.7 507.8,1057.8 512.8,1061.3 517.8,1065.0 522.8,1069.1 527.8,1073.4 532.8,1077.9 537.8,1082.5 542.8,1087.1 547.8,1091.7 552.8,1096.4 557.8,1101.2 562.8,1106.1 567.8,1111.1 572.8,1116.2 577.8,1121.3 582.8,1126.6 587.8,1131.8 592.8,1137.2 597.8,1142.7 602.8,1148.4 607.8,1154.0 612.8,1159.7 617.8,1165.3 622.8,1170.8 627.8,1176.1 632.8,1181.2 637.8,1186.3 642.8,1191.3 647.8,1196.3 652.8,1201.1 657.8,1205.8 662.8,1210.3 667.8,1214.7 672.8,1219.0 677.8,1223.5 682.8,1228.1 687.8,1232.5 692.8,1236.1 697.8,1238.7 702.8,1240.1 707.8,1241.4 712.8,1242.3 717.8,1242.9 722.8,1242.8 727.8,1242.1 732.8,1240.9 737.8,1239.6 742.8,1238.5 747.8,1237.7 752.8,1236.8 757.8,1235.9 762.8,1235.1 767.8,1234.3 772.8,1233.7 777.8,1233.2 782.8,1232.7 787.8,1232.3 792.8,1231.8 797.8,1231.5 802.8,1231.3 807.8,1231.2 812.8,1231.2 817.8,1231.5 822.8,1231.9 827.8,1232.5 832.8,1233.1 837.8,1234.1 842.8,1235.8 847.8,1238.1 852.8,1240.9 857.8,1244.6 862.8,1249.7 867.8,1255.7 872.8,1263.3 877.8,1271.3 882.8,1277.3 887.8,1283.5 892.8,1300.1 1012.8,1342.4" fill="none" stroke="#e35609" stroke-width="4.40" stroke-linejoin="round"/>
<polyline points="72.5,739.2 105.2,740.5 206.3,844.9 265.5,909.9 307.5,959.7 340.1,977.4 366.7,992.8 389.2,1005.0 408.6,1014.9 425.8,1023.6 441.2,1031.2 455.1,1033.4 467.8,1035.8 472.8,1037.5 477.8,1039.7 482.8,1042.3 487.8,1045.2 492.8,1048.3 497.8,1051.6 502.8,1054.9 507.8,1058.4 512.8,1062.1 517.8,1066.2 522.8,1070.6 527.8,1075.2 532.8,1079.9 537.8,1084.8 542.8,1089.7 547.8,1094.6 552.8,1099.5 557.8,1104.5 562.8,1109.7 567.8,1114.9 572.8,1120.2 577.8,1125.5 582.8,1130.9 587.8,1136.3 592.8,1141.7 597.8,1147.3 602.8,1153.0 607.8,1158.7 612.8,1164.4 617.8,1170.0 622.8,1175.4 627.8,1180.7 632.8,1185.7 637.8,1190.7 642.8,1195.6 647.8,1200.3 652.8,1204.9 657.8,1209.4 662.8,1213.7 667.8,1217.8 672.8,1221.8 677.8,1226.0 682.8,1230.4 687.8,1234.4 692.8,1237.7 697.8,1240.0 702.8,1241.2 707.8,1242.1 712.8,1242.8 717.8,1243.0 722.8,1242.8 727.8,1242.0 732.8,1240.8 737.8,1239.5 742.8,1238.4 747.8,1237.5 752.8,1236.6 757.8,1235.8 762.8,1234.9 767.8,1234.2 772.8,1233.6 777.8,1233.1 782.8,1232.6 787.8,1232.1 792.8,1231.7 797.8,1231.4 802.8,1231.1 807.8,1231.0 812.8,1231.1 817.8,1231.4 822.8,1231.8 827.8,1232.3 832.8,1233.0 837.8,1233.9 842.8,1235.6 847.8,1238.0 852.8,1240.8 857.8,1244.4 862.8,1249.6 867.8,1255.5 872.8,1263.1 877.8,1271.1 882.8,1277.1 887.8,1283.3 892.8,1299.9 1012.8,1342.2" fill="none" stroke="#e15207" stroke-width="4.40" stroke-linejoin="round"/>
<polyline points="72.5,740.9 105.2,742.9 206.3,849.3 265.5,912.8 307.5,961.8 340.1,979.9 366.7,995.2 389.2,1007.2 408.6,1016.7 425.8,1024.9 441.2,1032.0 455.1,1034.3 467.8,1036.9 472.8,1038.7 477.8,1040.9 482.8,1043.5 487.8,1046.3 492.8,1049.4 497.8,1052.7 502.8,1056.1 507.8,1059.6 512.8,1063.4 517.8,1067.5 522.8,1071.9 527.8,1076.6 532.8,1081.4 537.8,1086.3 542.8,1091.3 547.8,1096.3 552.8,1101.3 557.8,1106.5 562.8,1111.7 567.8,1117.0 572.8,1122.4 577.8,1127.8 582.8,1133.3 587.8,1138.7 592.8,1144.2 597.8,1149.9 602.8,1155.6 607.8,1161.3 612.8,1166.9 617.8,1172.5 622.8,1177.8 627.8,1183.0 632.8,1188.0 637.8,1192.9 642.8,1197.6 647.8,1202.3 652.8,1206.7 657.8,1211.1 662.8,1215.2 667.8,1219.2 672.8,1223.1 677.8,1227.2 682.8,1231.3 687.8,1235.2 692.8,1238.4 697.8,1240.6 702.8,1241.7 707.8,1242.4 712.8,1242.9 717.8,1243.1 722.8,1242.7 727.8,1241.9 732.8,1240.7 737.8,1239.4 742.8,1238.3 747.8,1237.4 752.8,1236.5 757.8,1235.6 762.8,1234.8 767.8,1234.1 772.8,1233.4 777.8,1232.9 782.8,1232.5 787.8,1232.0 792.8,1231.6 797.8,1231.2 802.8,1231.0 807.8,1230.9 812.8,1231.0 817.8,1231.2 822.8,1231.6 827.8,1232.2 832.8,1232.9 837.8,1233.8 842.8,1235.5 847.8,1237.8 852.8,1240.6 857.8,1244.2 862.8,1249.4 867.8,1255.3 872.8,1262.9 877.8,1270.9 882.8,1277.0 887.8,1283.0 892.8,1299.6 1012.8,1342.1" fill="none" stroke="#de4e04" stroke-width="4.40" stroke-linejoin="round"/>
<polyline points="72.5,744.4 105.2,743.5 206.3,856.0 265.5,923.2 307.5,967.6 340.1,980.8 366.7,992.6 389.2,1003.2 408.6,1013.0 425.8,1022.3 441.2,1030.8 455.1,1034.9 467.8,1039.1 472.8,1041.4 477.8,1044.0 482.8,1046.9 487.8,1050.0 492.8,1053.3 497.8,1056.7 502.8,1060.2 507.8,1063.6 512.8,1067.3 517.8,1071.3 522.8,1075.4 527.8,1079.8 532.8,1084.2 537.8,1088.7 542.8,1093.2 547.8,1097.7 552.8,1102.2 557.8,1106.9 562.8,1111.6 567.8,1116.4 572.8,1121.3 577.8,1126.3 582.8,1131.4 587.8,1136.5 592.8,1141.7 597.8,1147.0 602.8,1152.6 607.8,1158.2 612.8,1163.8 617.8,1169.4 622.8,1174.9 627.8,1180.3 632.8,1185.6 637.8,1190.8 642.8,1196.2 647.8,1201.4 652.8,1206.6 657.8,1211.5 662.8,1216.2 667.8,1220.7 672.8,1224.8 677.8,1229.2 682.8,1233.4 687.8,1237.3 692.8,1240.4 697.8,1242.4 702.8,1243.3 707.8,1243.7 712.8,1243.6 717.8,1243.3 722.8,1242.7 727.8,1241.8 732.8,1240.6 737.8,1239.3 742.8,1238.2 747.8,1237.2 752.8,1236.4 757.8,1235.5 762.8,1234.7 767.8,1233.9 772.8,1233.3 777.8,1232.8 782.8,1232.3 787.8,1231.9 792.8,1231.4 797.8,1231.1 802.8,1230.9 807.8,1230.8 812.8,1230.8 817.8,1231.1 822.8,1231.5 827.8,1232.1 832.8,1232.7 837.8,1233.6 842.8,1235.3 847.8,1237.7 852.8,1240.4 857.8,1244.1 862.8,1249.2 867.8,1255.1 872.8,1262.7 877.8,1270.7 882.8,1276.8 887.8,1282.8 892.8,1299.3 1012.8,1341.9" fill="none" stroke="#db4a02" stroke-width="4.40" stroke-linejoin="round"/>
<polyline points="72.5,748.0 105.2,747.6 206.3,856.5 265.5,919.4 307.5,964.7 340.1,981.4 366.7,995.4 389.2,1007.3 408.6,1017.5 425.8,1026.7 441.2,1034.8 455.1,1039.0 467.8,1043.2 472.8,1045.5 477.8,1048.1 482.8,1051.0 487.8,1054.1 492.8,1057.4 497.8,1060.8 502.8,1064.3 507.8,1067.9 512.8,1071.7 517.8,1075.8 522.8,1080.1 527.8,1084.6 532.8,1089.3 537.8,1094.0 542.8,1098.7 547.8,1103.4 552.8,1108.2 557.8,1113.0 562.8,1118.0 567.8,1123.0 572.8,1128.1 577.8,1133.2 582.8,1138.3 587.8,1143.5 592.8,1148.7 597.8,1154.0 602.8,1159.4 607.8,1164.9 612.8,1170.3 617.8,1175.6 622.8,1180.8 627.8,1185.8 632.8,1190.6 637.8,1195.4 642.8,1200.1 647.8,1204.8 652.8,1209.3 657.8,1213.7 662.8,1217.9 667.8,1221.8 672.8,1225.5 677.8,1229.5 682.8,1233.5 687.8,1237.1 692.8,1240.1 697.8,1242.0 702.8,1242.9 707.8,1243.3 712.8,1243.4 717.8,1243.2 722.8,1242.6 727.8,1241.7 732.8,1240.4 737.8,1239.2 742.8,1238.0 747.8,1237.1 752.8,1236.2 757.8,1235.3 762.8,1234.5 767.8,1233.8 772.8,1233.2 777.8,1232.7 782.8,1232.2 787.8,1231.7 792.8,1231.3 797.8,1231.0 802.8,1230.7 807.8,1230.6 812.8,1230.7 817.8,1230.9 822.8,1231.4 827.8,1231.9 832.8,1232.6 837.8,1233.5 842.8,1235.2 847.8,1237.5 852.8,1240.3 857.8,1243.9 862.8,1249.0 867.8,1254.9 872.8,1262.5 877.8,1270.5 882.8,1276.6 887.8,1282.6 892.8,1299.1 1012.8,1341.8" fill="none" stroke="#d64701" stroke-width="4.40" stroke-linejoin="round"/>
<polyline points="72.5,748.4 105.2,750.0 206.3,868.4 265.5,926.4 307.5,966.1 340.1,980.6 366.7,993.9 389.2,1005.7 408.6,1016.1 425.8,1025.2 441.2,1033.1 455.1,1037.3 467.8,1041.6 472.8,1043.8 477.8,1046.3 482.8,1049.0 487.8,1051.9 492.8,1055.0 497.8,1058.3 502.8,1061.6 507.8,1065.0 512.8,1068.7 517.8,1072.7 522.8,1077.0 527.8,1081.4 532.8,1086.1 537.8,1090.8 542.8,1095.6 547.8,1100.5 552.8,1105.4 557.8,1110.6 562.8,1115.8 567.8,1121.2 572.8,1126.7 577.8,1132.2 582.8,1137.8 587.8,1143.5 592.8,1149.2 597.8,1155.1 602.8,1161.1 607.8,1167.1 612.8,1173.0 617.8,1178.9 622.8,1184.7 627.8,1190.2 632.8,1195.5 637.8,1200.8 642.8,1205.9 647.8,1210.7 652.8,1215.3 657.8,1219.6 662.8,1223.6 667.8,1227.3 672.8,1230.7 677.8,1234.2 682.8,1237.7 687.8,1240.8 692.8,1243.2 697.8,1244.6 702.8,1244.9 707.8,1244.7 712.8,1244.1 717.8,1243.4 722.8,1242.6 727.8,1241.6 732.8,1240.3 737.8,1239.0 742.8,1237.9 747.8,1237.0 752.8,1236.1 757.8,1235.2 762.8,1234.4 767.8,1233.7 772.8,1233.0 777.8,1232.5 782.8,1232.1 787.8,1231.6 792.8,1231.2 797.8,1230.8 802.8,1230.6 807.8,1230.5 812.8,1230.6 817.8,1230.8 822.8,1231.2 827.8,1231.8 832.8,1232.4 837.8,1233.3 842.8,1235.0 847.8,1237.3 852.8,1240.1 857.8,1243.7 862.8,1248.8 867.8,1254.7 872.8,1262.2 877.8,1270.3 882.8,1276.4 887.8,1282.4 892.8,1298.8 1012.8,1341.7" fill="none" stroke="#d04501" stroke-width="4.40" stroke-linejoin="round"/>
<polyline points="72.5,755.4 105.2,755.8 206.3,869.8 265.5,930.8 307.5,970.6 340.1,983.4 366.7,994.0 389.2,1003.7 408.6,1012.9 425.8,1021.8 441.2,1030.2 455.1,1035.9 467.8,1041.7 472.8,1044.6 477.8,1047.6 482.8,1051.0 487.8,1054.5 492.8,1058.1 497.8,1061.9 502.8,1065.8 507.8,1069.7 512.8,1073.9 517.8,1078.3 522.8,1082.8 527.8,1087.5 532.8,1092.3 537.8,1097.2 542.8,1102.1 547.8,1106.9 552.8,1111.8 557.8,1116.8 562.8,1121.9 567.8,1127.1 572.8,1132.3 577.8,1137.5 582.8,1142.7 587.8,1147.9 592.8,1153.2 597.8,1158.6 602.8,1164.1 607.8,1169.6 612.8,1175.1 617.8,1180.5 622.8,1185.8 627.8,1190.9 632.8,1195.8 637.8,1200.8 642.8,1205.6 647.8,1210.4 652.8,1214.9 657.8,1219.3 662.8,1223.4 667.8,1227.2 672.8,1230.7 677.8,1234.3 682.8,1237.9 687.8,1241.1 692.8,1243.6 697.8,1245.0 702.8,1245.3 707.8,1245.0 712.8,1244.4 717.8,1243.4 722.8,1242.5 727.8,1241.5 732.8,1240.2 737.8,1238.9 742.8,1237.8 747.8,1236.8 752.8,1235.9 757.8,1235.1 762.8,1234.3 767.8,1233.5 772.8,1232.9 777.8,1232.4 782.8,1231.9 787.8,1231.5 792.8,1231.0 797.8,1230.7 802.8,1230.5 807.8,1230.3 812.8,1230.4 817.8,1230.7 822.8,1231.1 827.8,1231.6 832.8,1232.3 837.8,1233.2 842.8,1234.9 847.8,1237.2 852.8,1240.0 857.8,1243.5 862.8,1248.6 867.8,1254.5 872.8,1262.0 877.8,1270.1 882.8,1276.2 887.8,1282.2 892.8,1298.5 1012.8,1341.5" fill="none" stroke="#c94302" stroke-width="4.40" stroke-linejoin="round"/>
<polyline points="72.5,755.3 105.2,753.5 206.3,872.5 265.5,933.9 307.5,971.7 340.1,984.7 366.7,996.1 389.2,1007.1 408.6,1017.6 425.8,1027.5 441.2,1036.5 455.1,1042.9 467.8,1049.1 472.8,1051.9 477.8,1054.9 482.8,1058.0 487.8,1061.3 492.8,1064.7 497.8,1068.1 502.8,1071.6 507.8,1075.2 512.8,1079.0 517.8,1082.9 522.8,1087.0 527.8,1091.2 532.8,1095.6 537.8,1099.9 542.8,1104.3 547.8,1108.7 552.8,1113.2 557.8,1117.8 562.8,1122.5 567.8,1127.3 572.8,1132.2 577.8,1137.1 582.8,1142.1 587.8,1147.1 592.8,1152.2 597.8,1157.5 602.8,1162.8 607.8,1168.3 612.8,1173.7 617.8,1179.1 622.8,1184.4 627.8,1189.6 632.8,1194.6 637.8,1199.6 642.8,1204.6 647.8,1209.7 652.8,1214.5 657.8,1219.1 662.8,1223.4 667.8,1227.3 672.8,1230.9 677.8,1234.6 682.8,1238.2 687.8,1241.4 692.8,1243.9 697.8,1245.3 702.8,1245.5 707.8,1245.2 712.8,1244.4 717.8,1243.4 722.8,1242.5 727.8,1241.4 732.8,1240.1 737.8,1238.8 742.8,1237.7 747.8,1236.7 752.8,1235.8 757.8,1234.9 762.8,1234.1 767.8,1233.4 772.8,1232.8 777.8,1232.3 782.8,1231.8 787.8,1231.3 792.8,1230.9 797.8,1230.6 802.8,1230.3 807.8,1230.2 812.8,1230.3 817.8,1230.5 822.8,1230.9 827.8,1231.5 832.8,1232.1 837.8,1233.0 842.8,1234.7 847.8,1237.0 852.8,1239.8 857.8,1243.3 862.8,1248.4 867.8,1254.3 872.8,1261.8 877.8,1269.9 882.8,1276.0 887.8,1282.0 892.8,1298.3 1012.8,1341.4" fill="none" stroke="#c34002" stroke-width="4.40" stroke-linejoin="round"/>
<polyline points="72.5,754.0 105.2,754.8 206.3,878.1 265.5,937.1 307.5,975.1 340.1,989.8 366.7,1001.7 389.2,1012.2 408.6,1021.6 425.8,1030.0 441.2,1037.4 455.1,1042.9 467.8,1048.3 472.8,1050.9 477.8,1053.6 482.8,1056.4 487.8,1059.5 492.8,1062.6 497.8,1065.9 502.8,1069.4 507.8,1072.9 512.8,1076.6 517.8,1080.6 522.8,1084.8 527.8,1089.2 532.8,1093.6 537.8,1098.2 542.8,1102.8 547.8,1107.5 552.8,1112.3 557.8,1117.2 562.8,1122.3 567.8,1127.4 572.8,1132.6 577.8,1137.9 582.8,1143.2 587.8,1148.4 592.8,1153.8 597.8,1159.3 602.8,1164.9 607.8,1170.5 612.8,1176.0 617.8,1181.5 622.8,1186.8 627.8,1192.0 632.8,1196.9 637.8,1201.8 642.8,1206.8 647.8,1211.6 652.8,1216.3 657.8,1220.8 662.8,1224.9 667.8,1228.6 672.8,1232.0 677.8,1235.5 682.8,1238.9 687.8,1242.0 692.8,1244.3 697.8,1245.6 702.8,1245.8 707.8,1245.3 712.8,1244.5 717.8,1243.4 722.8,1242.5 727.8,1241.3 732.8,1240.0 737.8,1238.7 742.8,1237.5 747.8,1236.6 752.8,1235.7 757.8,1234.8 762.8,1234.0 767.8,1233.3 772.8,1232.6 777.8,1232.1 782.8,1231.7 787.8,1231.2 792.8,1230.8 797.8,1230.4 802.8,1230.2 807.8,1230.1 812.8,1230.1 817.8,1230.4 822.8,1230.8 827.8,1231.3 832.8,1232.0 837.8,1232.9 842.8,1234.5 847.8,1236.9 852.8,1239.6 857.8,1243.2 862.8,1248.2 867.8,1254.1 872.8,1261.6 877.8,1269.6 882.8,1275.9 887.8,1281.8 892.8,1298.0 1012.8,1341.3" fill="none" stroke="#bd3e02" stroke-width="4.40" stroke-linejoin="round"/>
<polyline points="72.5,761.4 105.2,761.6 206.3,880.4 265.5,935.3 307.5,971.7 340.1,987.0 366.7,999.5 389.2,1010.7 408.6,1020.9 425.8,1030.0 441.2,1038.2 455.1,1044.8 467.8,1051.4 472.8,1054.4 477.8,1057.4 482.8,1060.6 487.8,1064.0 492.8,1067.5 497.8,1071.1 502.8,1074.8 507.8,1078.6 512.8,1082.7 517.8,1086.9 522.8,1091.3 527.8,1095.9 532.8,1100.6 537.8,1105.4 542.8,1110.2 547.8,1115.0 552.8,1119.9 557.8,1125.0 562.8,1130.1 567.8,1135.4 572.8,1140.6 577.8,1145.9 582.8,1151.2 587.8,1156.4 592.8,1161.7 597.8,1167.1 602.8,1172.5 607.8,1177.9 612.8,1183.3 617.8,1188.6 622.8,1193.6 627.8,1198.5 632.8,1203.1 637.8,1207.7 642.8,1212.2 647.8,1216.5 652.8,1220.6 657.8,1224.6 662.8,1228.2 667.8,1231.5 672.8,1234.4 677.8,1237.5 682.8,1240.5 687.8,1243.2 692.8,1245.2 697.8,1246.3 702.8,1246.3 707.8,1245.6 712.8,1244.6 717.8,1243.5 722.8,1242.4 727.8,1241.2 732.8,1239.9 737.8,1238.6 742.8,1237.4 747.8,1236.4 752.8,1235.5 757.8,1234.7 762.8,1233.9 767.8,1233.1 772.8,1232.5 777.8,1232.0 782.8,1231.5 787.8,1231.1 792.8,1230.6 797.8,1230.3 802.8,1230.1 807.8,1229.9 812.8,1230.0 817.8,1230.2 822.8,1230.7 827.8,1231.2 832.8,1231.9 837.8,1232.7 842.8,1234.4 847.8,1236.7 852.8,1239.5 857.8,1243.0 862.8,1248.1 867.8,1253.9 872.8,1261.4 877.8,1269.4 882.8,1275.7 887.8,1281.6 892.8,1297.7 1012.8,1341.1" fill="none" stroke="#b73c02" stroke-width="4.40" stroke-linejoin="round"/>
<polyline points="72.5,762.0 105.2,762.0 206.3,885.0 265.5,940.0 307.5,975.0 340.1,990.0 366.7,1002.0 389.2,1013.0 408.6,1023.0 425.8,1032.0 441.2,1040.0 455.1,1046.9 467.8,1053.8 472.8,1056.7 477.8,1059.8 482.8,1062.9 487.8,1066.2 492.8,1069.6 497.8,1073.1 502.8,1076.7 507.8,1080.4 512.8,1084.4 517.8,1088.5 522.8,1092.8 527.8,1097.2 532.8,1101.8 537.8,1106.4 542.8,1111.1 547.8,1115.8 552.8,1120.6 557.8,1125.5 562.8,1130.6 567.8,1135.8 572.8,1141.0 577.8,1146.2 582.8,1151.4 587.8,1156.6 592.8,1161.8 597.8,1167.2 602.8,1172.6 607.8,1178.0 612.8,1183.4 617.8,1188.6 622.8,1193.7 627.8,1198.5 632.8,1203.2 637.8,1207.8 642.8,1212.4 647.8,1216.9 652.8,1221.2 657.8,1225.2 662.8,1229.0 667.8,1232.3 672.8,1235.3 677.8,1238.4 682.8,1241.3 687.8,1244.0 692.8,1245.9 697.8,1246.9 702.8,1246.8 707.8,1246.0 712.8,1244.8 717.8,1243.5 722.8,1242.4 727.8,1241.1 732.8,1239.7 737.8,1238.4 742.8,1237.3 747.8,1236.3 752.8,1235.4 757.8,1234.5 762.8,1233.7 767.8,1233.0 772.8,1232.4 777.8,1231.9 782.8,1231.4 787.8,1230.9 792.8,1230.5 797.8,1230.2 802.8,1229.9 807.8,1229.8 812.8,1229.9 817.8,1230.1 822.8,1230.5 827.8,1231.1 832.8,1231.7 837.8,1232.6 842.8,1234.2 847.8,1236.5 852.8,1239.3 857.8,1242.8 862.8,1247.9 867.8,1253.7 872.8,1261.2 877.8,1269.2 882.8,1275.5 887.8,1281.3 892.8,1297.5 1012.8,1341.0" fill="none" stroke="#b03a03" stroke-width="4.40" stroke-linejoin="round"/>
<polyline points="72.5,758.4 105.2,760.2 206.3,891.8 265.5,943.9 307.5,978.5 340.1,993.7 366.7,1005.8 389.2,1016.5 408.6,1026.0 425.8,1034.1 441.2,1041.1 455.1,1047.5 467.8,1053.8 472.8,1056.4 477.8,1059.1 482.8,1061.9 487.8,1064.8 492.8,1067.9 497.8,1071.0 502.8,1074.3 507.8,1077.8 512.8,1081.6 517.8,1085.5 522.8,1089.6 527.8,1094.0 532.8,1098.4 537.8,1103.0 542.8,1107.7 547.8,1112.5 552.8,1117.4 557.8,1122.5 562.8,1127.7 567.8,1133.0 572.8,1138.4 577.8,1143.8 582.8,1149.3 587.8,1154.7 592.8,1160.2 597.8,1165.9 602.8,1171.6 607.8,1177.2 612.8,1182.9 617.8,1188.4 622.8,1193.7 627.8,1198.8 632.8,1203.7 637.8,1208.5 642.8,1213.3 647.8,1218.0 652.8,1222.4 657.8,1226.5 662.8,1230.2 667.8,1233.5 672.8,1236.5 677.8,1239.4 682.8,1242.3 687.8,1244.7 692.8,1246.4 697.8,1247.0 702.8,1246.7 707.8,1245.7 712.8,1244.4 717.8,1243.1 722.8,1242.0 727.8,1240.8 732.8,1239.5 737.8,1238.3 742.8,1237.2 747.8,1236.2 752.8,1235.3 757.8,1234.5 762.8,1233.7 767.8,1232.9 772.8,1232.3 777.8,1231.8 782.8,1231.3 787.8,1230.9 792.8,1230.4 797.8,1230.1 802.8,1229.8 807.8,1229.7 812.8,1229.8 817.8,1230.0 822.8,1230.4 827.8,1231.0 832.8,1231.6 837.8,1232.5 842.8,1234.1 847.8,1236.4 852.8,1239.2 857.8,1242.7 862.8,1247.7 867.8,1253.6 872.8,1261.0 877.8,1269.1 882.8,1275.4 887.8,1281.2 892.8,1297.2 1012.8,1340.9" fill="none" stroke="#ac3803" stroke-width="4.40" stroke-linejoin="round"/>
<polyline points="72.5,764.1 105.2,765.0 206.3,895.3 265.5,946.9 307.5,980.6 340.1,993.5 366.7,1003.4 389.2,1012.6 408.6,1021.6 425.8,1029.9 441.2,1037.6 455.1,1045.6 467.8,1053.4 472.8,1056.6 477.8,1059.8 482.8,1063.0 487.8,1066.4 492.8,1069.8 497.8,1073.4 502.8,1077.1 507.8,1081.0 512.8,1085.0 517.8,1089.3 522.8,1093.7 527.8,1098.3 532.8,1102.9 537.8,1107.7 542.8,1112.4 547.8,1117.2 552.8,1122.1 557.8,1127.1 562.8,1132.3 567.8,1137.5 572.8,1142.7 577.8,1148.0 582.8,1153.2 587.8,1158.5 592.8,1163.7 597.8,1169.1 602.8,1174.6 607.8,1180.0 612.8,1185.5 617.8,1190.8 622.8,1195.9 627.8,1200.8 632.8,1205.5 637.8,1210.3 642.8,1215.0 647.8,1219.6 652.8,1223.9 657.8,1228.0 662.8,1231.6 667.8,1234.9 672.8,1237.8 677.8,1240.7 682.8,1243.4 687.8,1245.7 692.8,1247.1 697.8,1247.5 702.8,1246.8 707.8,1245.6 712.8,1244.2 717.8,1242.8 722.8,1241.7 727.8,1240.5 732.8,1239.3 737.8,1238.2 742.8,1237.1 747.8,1236.2 752.8,1235.3 757.8,1234.4 762.8,1233.6 767.8,1232.9 772.8,1232.2 777.8,1231.7 782.8,1231.2 787.8,1230.8 792.8,1230.3 797.8,1230.0 802.8,1229.8 807.8,1229.6 812.8,1229.7 817.8,1229.9 822.8,1230.3 827.8,1230.9 832.8,1231.5 837.8,1232.4 842.8,1234.0 847.8,1236.3 852.8,1239.1 857.8,1242.6 862.8,1247.6 867.8,1253.5 872.8,1260.9 877.8,1268.9 882.8,1275.3 887.8,1281.0 892.8,1297.0 1012.8,1340.8" fill="none" stroke="#a83703" stroke-width="4.40" stroke-linejoin="round"/>
<polyline points="72.5,766.0 105.2,765.0 206.3,894.0 265.5,942.2 307.5,977.1 340.1,992.5 366.7,1004.9 389.2,1016.0 408.6,1026.7 425.8,1035.9 441.2,1044.2 455.1,1052.9 467.8,1061.2 472.8,1064.4 477.8,1067.6 482.8,1070.7 487.8,1074.0 492.8,1077.3 497.8,1080.7 502.8,1084.3 507.8,1088.0 512.8,1091.9 517.8,1096.0 522.8,1100.3 527.8,1104.6 532.8,1109.1 537.8,1113.7 542.8,1118.3 547.8,1122.9 552.8,1127.6 557.8,1132.4 562.8,1137.4 567.8,1142.4 572.8,1147.4 577.8,1152.5 582.8,1157.6 587.8,1162.6 592.8,1167.6 597.8,1172.8 602.8,1178.0 607.8,1183.2 612.8,1188.4 617.8,1193.4 622.8,1198.3 627.8,1202.9 632.8,1207.3 637.8,1211.7 642.8,1216.1 647.8,1220.3 652.8,1224.4 657.8,1228.2 662.8,1231.5 667.8,1234.5 672.8,1237.3 677.8,1240.0 682.8,1242.6 687.8,1244.7 692.8,1245.9 697.8,1246.2 702.8,1245.5 707.8,1244.4 712.8,1243.3 717.8,1242.3 722.8,1241.4 727.8,1240.3 732.8,1239.1 737.8,1238.0 742.8,1237.0 747.8,1236.1 752.8,1235.2 757.8,1234.4 762.8,1233.5 767.8,1232.8 772.8,1232.2 777.8,1231.6 782.8,1231.2 787.8,1230.7 792.8,1230.3 797.8,1229.9 802.8,1229.7 807.8,1229.6 812.8,1229.6 817.8,1229.9 822.8,1230.3 827.8,1230.8 832.8,1231.4 837.8,1232.3 842.8,1233.9 847.8,1236.2 852.8,1239.0 857.8,1242.5 862.8,1247.5 867.8,1253.3 872.8,1260.7 877.8,1268.8 882.8,1275.1 887.8,1280.9 892.8,1296.8 897.8,1303.3 1012.8,1340.7" fill="none" stroke="#a43503" stroke-width="4.40" stroke-linejoin="round"/>
<polyline points="72.5,762.3 105.2,764.5 206.3,901.8 265.5,948.3 307.5,983.6 340.1,998.8 366.7,1010.0 389.2,1019.3 408.6,1028.1 425.8,1035.3 441.2,1041.9 455.1,1049.8 467.8,1057.4 472.8,1060.3 477.8,1063.1 482.8,1066.0 487.8,1069.0 492.8,1072.1 497.8,1075.3 502.8,1078.8 507.8,1082.5 512.8,1086.4 517.8,1090.5 522.8,1094.9 527.8,1099.4 532.8,1104.0 537.8,1108.8 542.8,1113.6 547.8,1118.5 552.8,1123.4 557.8,1128.6 562.8,1133.8 567.8,1139.1 572.8,1144.5 577.8,1149.9 582.8,1155.3 587.8,1160.6 592.8,1165.9 597.8,1171.4 602.8,1176.9 607.8,1182.4 612.8,1187.8 617.8,1193.1 622.8,1198.2 627.8,1203.0 632.8,1207.5 637.8,1212.1 642.8,1216.7 647.8,1221.1 652.8,1225.3 657.8,1229.1 662.8,1232.5 667.8,1235.5 672.8,1238.3 677.8,1241.0 682.8,1243.4 687.8,1245.4 692.8,1246.4 697.8,1246.4 702.8,1245.5 707.8,1244.2 712.8,1243.0 717.8,1242.0 722.8,1241.0 727.8,1240.0 732.8,1238.9 737.8,1237.9 742.8,1236.9 747.8,1236.1 752.8,1235.2 757.8,1234.3 762.8,1233.5 767.8,1232.7 772.8,1232.1 777.8,1231.6 782.8,1231.1 787.8,1230.6 792.8,1230.2 797.8,1229.8 802.8,1229.6 807.8,1229.5 812.8,1229.5 817.8,1229.8 822.8,1230.2 827.8,1230.7 832.8,1231.4 837.8,1232.2 842.8,1233.8 847.8,1236.1 852.8,1238.9 857.8,1242.3 862.8,1247.3 867.8,1253.2 872.8,1260.6 877.8,1268.7 882.8,1275.0 887.8,1280.8 892.8,1296.6 897.8,1303.1 1012.8,1340.7" fill="none" stroke="#a13403" stroke-width="4.40" stroke-linejoin="round"/>
<polyline points="72.5,763.9 105.2,761.4 206.3,906.5 265.5,955.5 307.5,986.7 340.1,997.4 366.7,1006.4 389.2,1015.8 408.6,1026.3 425.8,1035.6 441.2,1044.3 455.1,1054.5 467.8,1063.8 472.8,1067.0 477.8,1070.2 482.8,1073.2 487.8,1076.3 492.8,1079.3 497.8,1082.4 502.8,1085.7 507.8,1089.0 512.8,1092.5 517.8,1096.2 522.8,1100.0 527.8,1103.9 532.8,1107.9 537.8,1111.9 542.8,1116.0 547.8,1120.1 552.8,1124.3 557.8,1128.6 562.8,1133.1 567.8,1137.7 572.8,1142.4 577.8,1147.1 582.8,1152.0 587.8,1156.8 592.8,1161.8 597.8,1166.9 602.8,1172.2 607.8,1177.6 612.8,1183.0 617.8,1188.4 622.8,1193.6 627.8,1198.7 632.8,1203.7 637.8,1208.7 642.8,1213.9 647.8,1219.1 652.8,1224.1 657.8,1228.5 662.8,1232.5 667.8,1236.0 672.8,1239.2 677.8,1242.2 682.8,1244.8 687.8,1246.7 692.8,1247.5 697.8,1247.2 702.8,1246.0 707.8,1244.4 712.8,1243.0 717.8,1241.7 722.8,1240.7 727.8,1239.7 732.8,1238.7 737.8,1237.8 742.8,1236.8 747.8,1236.0 752.8,1235.1 757.8,1234.2 762.8,1233.4 767.8,1232.7 772.8,1232.0 777.8,1231.5 782.8,1231.0 787.8,1230.5 792.8,1230.1 797.8,1229.8 802.8,1229.5 807.8,1229.4 812.8,1229.4 817.8,1229.7 822.8,1230.1 827.8,1230.6 832.8,1231.3 837.8,1232.1 842.8,1233.7 847.8,1236.0 852.8,1238.8 857.8,1242.2 862.8,1247.2 867.8,1253.1 872.8,1260.4 877.8,1268.5 882.8,1274.9 887.8,1280.6 892.8,1296.3 897.8,1303.0 1012.8,1340.6" fill="none" stroke="#9e3303" stroke-width="4.40" stroke-linejoin="round"/>
<polyline points="72.5,769.5 105.2,769.8 206.3,912.4 265.5,950.0 307.5,979.5 340.1,992.0 366.7,1003.0 389.2,1013.6 408.6,1024.8 425.8,1034.2 441.2,1042.7 455.1,1053.2 467.8,1062.9 472.8,1066.2 477.8,1069.4 482.8,1072.5 487.8,1075.7 492.8,1078.9 497.8,1082.2 502.8,1085.7 507.8,1089.4 512.8,1093.3 517.8,1097.4 522.8,1101.7 527.8,1106.1 532.8,1110.7 537.8,1115.3 542.8,1120.0 547.8,1124.8 552.8,1129.7 557.8,1134.7 562.8,1139.9 567.8,1145.2 572.8,1150.5 577.8,1155.9 582.8,1161.3 587.8,1166.7 592.8,1172.2 597.8,1177.8 602.8,1183.4 607.8,1189.1 612.8,1194.7 617.8,1200.2 622.8,1205.5 627.8,1210.5 632.8,1215.3 637.8,1220.2 642.8,1224.7 647.8,1229.0 652.8,1232.9 657.8,1236.4 662.8,1239.3 667.8,1241.8 672.8,1244.0 677.8,1246.1 682.8,1247.8 687.8,1248.9 692.8,1249.0 697.8,1248.0 702.8,1246.2 707.8,1244.2 712.8,1242.6 717.8,1241.3 722.8,1240.4 727.8,1239.4 732.8,1238.5 737.8,1237.6 742.8,1236.8 747.8,1235.9 752.8,1235.1 757.8,1234.2 762.8,1233.4 767.8,1232.6 772.8,1231.9 777.8,1231.4 782.8,1230.9 787.8,1230.5 792.8,1230.0 797.8,1229.7 802.8,1229.4 807.8,1229.3 812.8,1229.4 817.8,1229.6 822.8,1230.0 827.8,1230.5 832.8,1231.2 837.8,1232.0 842.8,1233.6 847.8,1235.9 852.8,1238.7 857.8,1242.1 862.8,1247.1 867.8,1252.9 872.8,1260.3 877.8,1268.4 882.8,1274.8 887.8,1280.5 892.8,1296.1 897.8,1302.9 1012.8,1340.5" fill="none" stroke="#9b3203" stroke-width="4.40" stroke-linejoin="round"/>
<polyline points="72.5,773.5 105.2,773.8 206.3,910.7 265.5,946.4 307.5,979.4 340.1,994.3 366.7,1006.0 389.2,1016.2 408.6,1026.8 425.8,1035.6 441.2,1043.8 455.1,1054.8 467.8,1065.0 472.8,1068.6 477.8,1072.0 482.8,1075.3 487.8,1078.7 492.8,1082.2 497.8,1085.8 502.8,1089.5 507.8,1093.6 512.8,1097.8 517.8,1102.3 522.8,1106.9 527.8,1111.6 532.8,1116.5 537.8,1121.4 542.8,1126.4 547.8,1131.4 552.8,1136.4 557.8,1141.6 562.8,1146.8 567.8,1152.1 572.8,1157.4 577.8,1162.7 582.8,1168.0 587.8,1173.2 592.8,1178.3 597.8,1183.6 602.8,1188.9 607.8,1194.1 612.8,1199.3 617.8,1204.3 622.8,1209.0 627.8,1213.5 632.8,1217.7 637.8,1221.9 642.8,1225.9 647.8,1229.6 652.8,1233.0 657.8,1236.0 662.8,1238.6 667.8,1240.8 672.8,1242.9 677.8,1244.8 682.8,1246.5 687.8,1247.5 692.8,1247.5 697.8,1246.5 702.8,1244.8 707.8,1243.0 712.8,1241.7 717.8,1240.8 722.8,1240.0 727.8,1239.2 732.8,1238.3 737.8,1237.5 742.8,1236.7 747.8,1235.9 752.8,1235.0 757.8,1234.1 762.8,1233.3 767.8,1232.5 772.8,1231.8 777.8,1231.3 782.8,1230.8 787.8,1230.4 792.8,1229.9 797.8,1229.6 802.8,1229.3 807.8,1229.2 812.8,1229.3 817.8,1229.5 822.8,1229.9 827.8,1230.4 832.8,1231.1 837.8,1231.9 842.8,1233.5 847.8,1235.8 852.8,1238.5 857.8,1242.0 862.8,1247.0 867.8,1252.8 872.8,1260.1 877.8,1268.2 882.8,1274.6 887.8,1280.3 892.8,1295.9 897.8,1302.8 1012.8,1340.4" fill="none" stroke="#983103" stroke-width="4.40" stroke-linejoin="round"/>
<polyline points="72.5,768.2 105.2,769.3 206.3,918.8 265.5,953.1 307.5,984.4 340.1,998.2 366.7,1009.6 389.2,1019.6 408.6,1030.1 425.8,1038.3 441.2,1045.9 455.1,1056.6 467.8,1066.2 472.8,1069.3 477.8,1072.3 482.8,1075.2 487.8,1078.1 492.8,1081.1 497.8,1084.1 502.8,1087.4 507.8,1091.0 512.8,1094.8 517.8,1098.8 522.8,1103.0 527.8,1107.4 532.8,1112.0 537.8,1116.6 542.8,1121.3 547.8,1126.1 552.8,1131.0 557.8,1136.0 562.8,1141.2 567.8,1146.5 572.8,1151.9 577.8,1157.2 582.8,1162.7 587.8,1168.0 592.8,1173.5 597.8,1179.0 602.8,1184.6 607.8,1190.2 612.8,1195.8 617.8,1201.2 622.8,1206.3 627.8,1211.2 632.8,1215.9 637.8,1220.6 642.8,1225.1 647.8,1229.3 652.8,1233.2 657.8,1236.6 662.8,1239.4 667.8,1241.8 672.8,1244.0 677.8,1246.0 682.8,1247.6 687.8,1248.6 692.8,1248.3 697.8,1246.9 702.8,1244.9 707.8,1242.9 712.8,1241.5 717.8,1240.5 722.8,1239.7 727.8,1238.9 732.8,1238.1 737.8,1237.4 742.8,1236.6 747.8,1235.8 752.8,1235.0 757.8,1234.1 762.8,1233.2 767.8,1232.4 772.8,1231.8 777.8,1231.2 782.8,1230.8 787.8,1230.3 792.8,1229.9 797.8,1229.5 802.8,1229.3 807.8,1229.1 812.8,1229.2 817.8,1229.4 822.8,1229.8 827.8,1230.4 832.8,1231.0 837.8,1231.9 842.8,1233.4 847.8,1235.7 852.8,1238.4 857.8,1241.9 862.8,1246.8 867.8,1252.7 872.8,1260.0 877.8,1268.1 882.8,1274.5 887.8,1280.2 892.8,1295.7 897.8,1302.7 1012.8,1340.3" fill="none" stroke="#952f03" stroke-width="4.40" stroke-linejoin="round"/>
<polyline points="72.5,771.1 105.2,772.5 206.3,925.6 265.5,959.9 307.5,989.4 340.1,999.9 366.7,1008.1 389.2,1015.9 408.6,1025.3 425.8,1033.2 441.2,1040.9 455.1,1052.6 467.8,1063.4 472.8,1066.9 477.8,1070.2 482.8,1073.4 487.8,1076.6 492.8,1079.8 497.8,1083.2 502.8,1086.7 507.8,1090.5 512.8,1094.6 517.8,1098.8 522.8,1103.3 527.8,1107.8 532.8,1112.5 537.8,1117.2 542.8,1122.0 547.8,1126.9 552.8,1131.8 557.8,1136.9 562.8,1142.0 567.8,1147.3 572.8,1152.6 577.8,1157.9 582.8,1163.3 587.8,1168.6 592.8,1174.0 597.8,1179.5 602.8,1185.1 607.8,1190.7 612.8,1196.2 617.8,1201.7 622.8,1206.9 627.8,1211.9 632.8,1216.7 637.8,1221.5 642.8,1226.2 647.8,1230.7 652.8,1234.7 657.8,1238.3 662.8,1241.1 667.8,1243.7 672.8,1246.0 677.8,1248.0 682.8,1249.5 687.8,1250.2 692.8,1249.6 697.8,1247.9 702.8,1245.5 707.8,1243.2 712.8,1241.5 717.8,1240.3 722.8,1239.4 727.8,1238.6 732.8,1237.9 737.8,1237.2 742.8,1236.5 747.8,1235.7 752.8,1234.9 757.8,1234.0 762.8,1233.2 767.8,1232.4 772.8,1231.7 777.8,1231.2 782.8,1230.7 787.8,1230.2 792.8,1229.8 797.8,1229.4 802.8,1229.2 807.8,1229.1 812.8,1229.1 817.8,1229.3 822.8,1229.7 827.8,1230.3 832.8,1230.9 837.8,1231.8 842.8,1233.3 847.8,1235.6 852.8,1238.3 857.8,1241.7 862.8,1246.7 867.8,1252.5 872.8,1259.8 877.8,1267.9 882.8,1274.4 887.8,1280.0 892.8,1295.5 897.8,1302.6 1012.8,1340.2" fill="none" stroke="#922e04" stroke-width="4.40" stroke-linejoin="round"/>
<polyline points="72.5,772.9 105.2,773.9 206.3,924.3 265.5,956.0 307.5,988.4 340.1,1001.7 366.7,1011.6 389.2,1020.1 408.6,1029.7 425.8,1037.4 441.2,1044.8 455.1,1056.9 467.8,1067.9 472.8,1071.4 477.8,1074.7 482.8,1077.9 487.8,1081.1 492.8,1084.3 497.8,1087.7 502.8,1091.3 507.8,1095.1 512.8,1099.3 517.8,1103.6 522.8,1108.1 527.8,1112.7 532.8,1117.5 537.8,1122.3 542.8,1127.2 547.8,1132.1 552.8,1137.0 557.8,1142.1 562.8,1147.2 567.8,1152.4 572.8,1157.7 577.8,1162.9 582.8,1168.1 587.8,1173.3 592.8,1178.5 597.8,1183.7 602.8,1189.1 607.8,1194.4 612.8,1199.6 617.8,1204.6 622.8,1209.4 627.8,1214.0 632.8,1218.3 637.8,1222.7 642.8,1226.9 647.8,1230.9 652.8,1234.6 657.8,1237.8 662.8,1240.4 667.8,1242.7 672.8,1244.8 677.8,1246.7 682.8,1248.1 687.8,1248.8 692.8,1248.1 697.8,1246.4 702.8,1244.1 707.8,1241.9 712.8,1240.6 717.8,1239.7 722.8,1239.0 727.8,1238.4 732.8,1237.7 737.8,1237.1 742.8,1236.4 747.8,1235.7 752.8,1234.8 757.8,1234.0 762.8,1233.1 767.8,1232.3 772.8,1231.6 777.8,1231.1 782.8,1230.6 787.8,1230.1 792.8,1229.7 797.8,1229.4 802.8,1229.1 807.8,1229.0 812.8,1229.0 817.8,1229.2 822.8,1229.6 827.8,1230.2 832.8,1230.8 837.8,1231.7 842.8,1233.2 847.8,1235.5 852.8,1238.2 857.8,1241.6 862.8,1246.6 867.8,1252.4 872.8,1259.7 877.8,1267.8 882.8,1274.3 887.8,1279.9 892.8,1295.2 897.8,1302.5 1012.8,1340.2" fill="none" stroke="#8f2d04" stroke-width="4.40" stroke-linejoin="round"/>
<polyline points="72.5,776.0 105.2,775.8 206.3,932.6 265.5,958.5 307.5,985.4 340.1,996.0 366.7,1005.8 389.2,1015.4 408.6,1026.9 425.8,1036.3 441.2,1045.2 455.1,1058.8 467.8,1070.8 472.8,1074.5 477.8,1077.9 482.8,1081.2 487.8,1084.3 492.8,1087.5 497.8,1090.7 502.8,1094.2 507.8,1097.9 512.8,1101.9 517.8,1106.0 522.8,1110.4 527.8,1114.8 532.8,1119.4 537.8,1124.0 542.8,1128.7 547.8,1133.5 552.8,1138.3 557.8,1143.3 562.8,1148.4 567.8,1153.6 572.8,1158.9 577.8,1164.2 582.8,1169.6 587.8,1174.9 592.8,1180.3 597.8,1185.9 602.8,1191.5 607.8,1197.1 612.8,1202.7 617.8,1208.1 622.8,1213.4 627.8,1218.3 632.8,1223.1 637.8,1227.9 642.8,1232.4 647.8,1236.5 652.8,1240.2 657.8,1243.2 662.8,1245.6 667.8,1247.6 672.8,1249.4 677.8,1250.9 682.8,1251.8 687.8,1251.9 692.8,1250.6 697.8,1248.1 702.8,1245.1 707.8,1242.4 712.8,1240.7 717.8,1239.5 722.8,1238.7 727.8,1238.1 732.8,1237.5 737.8,1237.0 742.8,1236.3 747.8,1235.6 752.8,1234.8 757.8,1233.9 762.8,1233.1 767.8,1232.2 772.8,1231.5 777.8,1231.0 782.8,1230.5 787.8,1230.1 792.8,1229.6 797.8,1229.3 802.8,1229.0 807.8,1228.9 812.8,1228.9 817.8,1229.2 822.8,1229.6 827.8,1230.1 832.8,1230.7 837.8,1231.6 842.8,1233.1 847.8,1235.4 852.8,1238.1 857.8,1241.5 862.8,1246.4 867.8,1252.3 872.8,1259.5 877.8,1267.6 882.8,1274.1 887.8,1279.7 892.8,1295.0 897.8,1302.3 1012.8,1340.1" fill="none" stroke="#8b2c04" stroke-width="4.40" stroke-linejoin="round"/>
<polyline points="72.5,776.0 105.2,776.0 206.3,932.0 265.5,960.0 307.5,991.0 340.1,1003.0 366.7,1012.0 389.2,1020.0 408.6,1030.0 425.8,1038.0 441.2,1046.0 455.1,1059.6 467.8,1071.9 472.8,1075.7 477.8,1079.1 482.8,1082.4 487.8,1085.6 492.8,1088.9 497.8,1092.3 502.8,1095.8 507.8,1099.7 512.8,1103.8 517.8,1108.1 522.8,1112.6 527.8,1117.2 532.8,1121.8 537.8,1126.6 542.8,1131.3 547.8,1136.1 552.8,1140.9 557.8,1145.8 562.8,1150.8 567.8,1155.9 572.8,1160.9 577.8,1166.0 582.8,1171.1 587.8,1176.1 592.8,1181.2 597.8,1186.3 602.8,1191.6 607.8,1196.8 612.8,1201.9 617.8,1206.9 622.8,1211.7 627.8,1216.2 632.8,1220.5 637.8,1224.9 642.8,1229.2 647.8,1233.3 652.8,1236.9 657.8,1240.1 662.8,1242.6 667.8,1244.8 672.8,1246.8 677.8,1248.5 682.8,1249.7 687.8,1250.0 692.8,1248.8 697.8,1246.5 702.8,1243.7 707.8,1241.2 712.8,1239.8 717.8,1239.0 722.8,1238.4 727.8,1237.8 732.8,1237.3 737.8,1236.8 742.8,1236.2 747.8,1235.6 752.8,1234.7 757.8,1233.9 762.8,1233.0 767.8,1232.2 772.8,1231.5 777.8,1230.9 782.8,1230.4 787.8,1230.0 792.8,1229.5 797.8,1229.2 802.8,1228.9 807.8,1228.8 812.8,1228.8 817.8,1229.1 822.8,1229.5 827.8,1230.0 832.8,1230.6 837.8,1231.5 842.8,1233.0 847.8,1235.3 852.8,1238.0 857.8,1241.4 862.8,1246.3 867.8,1252.1 872.8,1259.4 877.8,1267.5 882.8,1274.0 887.8,1279.6 892.8,1294.8 897.8,1302.2 1012.8,1340.0" fill="none" stroke="#882b04" stroke-width="4.40" stroke-linejoin="round"/>
<polyline points="72.5,790.0 105.2,790.0 206.3,932.0 265.5,960.0 307.5,991.0 340.1,1003.0 366.7,1012.0 389.2,1020.0 408.6,1030.0 425.8,1038.0 441.2,1046.0 455.1,1059.6 467.8,1071.9 472.8,1075.7 477.8,1079.1 482.8,1082.4 487.8,1085.6 492.8,1088.9 497.8,1092.3 502.8,1095.8 507.8,1099.7 512.8,1103.8 517.8,1108.1 522.8,1112.6 527.8,1117.2 532.8,1121.8 537.8,1126.6 542.8,1131.3 547.8,1136.1 552.8,1140.9 557.8,1145.8 562.8,1150.8 567.8,1155.9 572.8,1160.9 577.8,1166.0 582.8,1171.1 587.8,1176.1 592.8,1181.2 597.8,1186.3 602.8,1191.6 607.8,1196.8 612.8,1201.9 617.8,1206.9 622.8,1211.7 627.8,1216.2 632.8,1220.5 637.8,1224.9 642.8,1229.2 647.8,1233.3 652.8,1236.9 657.8,1240.1 662.8,1242.6 667.8,1244.8 672.8,1246.8 677.8,1248.5 682.8,1249.7 687.8,1250.0 692.8,1248.8 697.8,1246.5 702.8,1243.7 707.8,1241.2 712.8,1239.8 717.8,1239.0 722.8,1238.4 727.8,1237.8 732.8,1237.3 737.8,1236.8 742.8,1236.2 747.8,1235.6 752.8,1234.7 757.8,1233.9 762.8,1233.0 767.8,1232.2 772.8,1231.5 777.8,1230.9 782.8,1230.4 787.8,1230.0 792.8,1229.5 797.8,1229.2 802.8,1228.9 807.8,1228.8 812.8,1228.8 817.8,1229.1 822.8,1229.5 827.8,1230.0 832.8,1230.6 837.8,1231.5 842.8,1233.0 847.8,1235.3 852.8,1238.0 857.8,1241.4 862.8,1246.3 867.8,1252.1 872.8,1259.4 877.8,1267.5 882.8,1274.0 887.8,1279.6 892.8,1294.8 897.8,1302.2 1012.8,1340.0" fill="none" stroke="#7f2704" stroke-width="4.40" stroke-linejoin="round"/>
<polyline points="72.5,819.3 105.2,819.3 206.5,1041.7 265.5,1074.3 307.5,1170.7 340.1,1172.3 366.7,1162.7 389.2,1157.3 408.6,1155.0 425.8,1155.0 441.2,1160.0 464.7,1176.5 481.2,1184.7 505.9,1205.3 530.6,1221.8 547.0,1234.1 567.6,1248.5 588.2,1246.5 613.0,1242.4 629.4,1246.5 650.0,1258.8 670.6,1275.3 683.0,1279.4 703.5,1278.5 712.4,1274.8 744.7,1266.7 777.0,1258.6 799.7,1256.0 822.4,1258.6 841.8,1265.0 858.0,1273.1 867.7,1279.6" fill="none" stroke="#ff00ff" stroke-width="3.20" stroke-linejoin="round" stroke-linecap="butt" />
<polyline points="72.5,706.7 105.2,706.7 206.3,783.3 265.5,863.3 307.5,943.3 340.1,968.0 366.7,987.0 389.2,997.0 408.6,1004.0 425.8,1010.0 441.2,1016.0 441.2,1016.0 447.8,1020.1 457.3,1026.1 467.7,1032.6 477.0,1038.5 484.8,1043.4 492.1,1047.9 499.1,1052.3 505.9,1057.0 512.4,1061.8 518.5,1066.7 524.5,1071.8 530.6,1077.6 536.8,1084.2 543.0,1091.5 549.1,1099.1 555.3,1106.5 561.5,1113.7 567.6,1120.9 573.8,1128.1 580.0,1135.3 586.2,1142.5 592.4,1149.6 598.5,1156.8 604.7,1164.0 610.9,1171.2 617.1,1178.5 623.2,1185.8 629.4,1193.0 635.6,1200.4 641.8,1207.9 647.9,1215.2 654.1,1221.8 660.2,1227.7 666.3,1233.0 672.5,1237.9 678.8,1242.4 685.5,1246.8 692.5,1250.9 699.4,1254.4 705.9,1257.0 711.6,1258.5 716.9,1259.0 722.3,1259.0 728.5,1258.6 735.9,1257.8 744.1,1256.5 752.6,1255.0 760.9,1253.7 769.2,1252.5 777.7,1251.3 785.9,1250.2 793.3,1249.5 799.7,1249.1 805.5,1249.0 810.8,1249.1 816.0,1249.5 821.1,1250.2 826.1,1251.1 830.8,1252.3 835.3,1253.7 839.6,1255.4 843.8,1257.4 847.7,1259.6 851.5,1261.8 855.1,1264.1 858.4,1266.6 861.6,1269.1 864.5,1271.5 867.2,1273.8 869.8,1276.0 872.1,1278.3 874.2,1281.0 876.1,1284.5 877.7,1288.6 879.0,1292.4 880.0,1295.0" fill="none" stroke="#00ff00" stroke-width="5.40" stroke-linejoin="round" stroke-linecap="butt" />
<line x1="206.3" y1="962.7" x2="643.5" y2="1185.9" stroke="#000" stroke-width="5" stroke-dasharray="18.5 8"/>
<line x1="702.5" y1="664.4" x2="702.5" y2="1282.0" stroke="#bfbfbf" stroke-width="4.9" stroke-dasharray="18.4 7.7" stroke-dashoffset="2.1"/>
</g>
<line x1="64.2" y1="633.80" x2="72.5" y2="633.80" stroke="#000" stroke-width="1.9"/>
<line x1="1011.4" y1="633.80" x2="1019.7" y2="633.80" stroke="#000" stroke-width="1.9"/>
<line x1="67.9" y1="602.82" x2="72.5" y2="602.82" stroke="#000" stroke-width="1.5"/>
<line x1="67.9" y1="584.70" x2="72.5" y2="584.70" stroke="#000" stroke-width="1.5"/>
<line x1="67.9" y1="571.84" x2="72.5" y2="571.84" stroke="#000" stroke-width="1.5"/>
<line x1="67.9" y1="561.86" x2="72.5" y2="561.86" stroke="#000" stroke-width="1.5"/>
<line x1="67.9" y1="553.72" x2="72.5" y2="553.72" stroke="#000" stroke-width="1.5"/>
<line x1="67.9" y1="546.83" x2="72.5" y2="546.83" stroke="#000" stroke-width="1.5"/>
<line x1="67.9" y1="540.86" x2="72.5" y2="540.86" stroke="#000" stroke-width="1.5"/>
<line x1="67.9" y1="535.59" x2="72.5" y2="535.59" stroke="#000" stroke-width="1.5"/>
<line x1="64.2" y1="530.88" x2="72.5" y2="530.88" stroke="#000" stroke-width="1.9"/>
<line x1="1011.4" y1="530.88" x2="1019.7" y2="530.88" stroke="#000" stroke-width="1.9"/>
<line x1="67.9" y1="499.90" x2="72.5" y2="499.90" stroke="#000" stroke-width="1.5"/>
<line x1="67.9" y1="481.78" x2="72.5" y2="481.78" stroke="#000" stroke-width="1.5"/>
<line x1="67.9" y1="468.92" x2="72.5" y2="468.92" stroke="#000" stroke-width="1.5"/>
<line x1="67.9" y1="458.95" x2="72.5" y2="458.95" stroke="#000" stroke-width="1.5"/>
<line x1="67.9" y1="450.80" x2="72.5" y2="450.80" stroke="#000" stroke-width="1.5"/>
<line x1="67.9" y1="443.91" x2="72.5" y2="443.91" stroke="#000" stroke-width="1.5"/>
<line x1="67.9" y1="437.94" x2="72.5" y2="437.94" stroke="#000" stroke-width="1.5"/>
<line x1="67.9" y1="432.68" x2="72.5" y2="432.68" stroke="#000" stroke-width="1.5"/>
<line x1="64.2" y1="427.97" x2="72.5" y2="427.97" stroke="#000" stroke-width="1.9"/>
<line x1="1011.4" y1="427.97" x2="1019.7" y2="427.97" stroke="#000" stroke-width="1.9"/>
<line x1="67.9" y1="396.99" x2="72.5" y2="396.99" stroke="#000" stroke-width="1.5"/>
<line x1="67.9" y1="378.86" x2="72.5" y2="378.86" stroke="#000" stroke-width="1.5"/>
<line x1="67.9" y1="366.00" x2="72.5" y2="366.00" stroke="#000" stroke-width="1.5"/>
<line x1="67.9" y1="356.03" x2="72.5" y2="356.03" stroke="#000" stroke-width="1.5"/>
<line x1="67.9" y1="347.88" x2="72.5" y2="347.88" stroke="#000" stroke-width="1.5"/>
<line x1="67.9" y1="340.99" x2="72.5" y2="340.99" stroke="#000" stroke-width="1.5"/>
<line x1="67.9" y1="335.02" x2="72.5" y2="335.02" stroke="#000" stroke-width="1.5"/>
<line x1="67.9" y1="329.76" x2="72.5" y2="329.76" stroke="#000" stroke-width="1.5"/>
<line x1="64.2" y1="325.05" x2="72.5" y2="325.05" stroke="#000" stroke-width="1.9"/>
<line x1="1011.4" y1="325.05" x2="1019.7" y2="325.05" stroke="#000" stroke-width="1.9"/>
<line x1="67.9" y1="294.07" x2="72.5" y2="294.07" stroke="#000" stroke-width="1.5"/>
<line x1="67.9" y1="275.95" x2="72.5" y2="275.95" stroke="#000" stroke-width="1.5"/>
<line x1="67.9" y1="263.09" x2="72.5" y2="263.09" stroke="#000" stroke-width="1.5"/>
<line x1="67.9" y1="253.11" x2="72.5" y2="253.11" stroke="#000" stroke-width="1.5"/>
<line x1="67.9" y1="244.97" x2="72.5" y2="244.97" stroke="#000" stroke-width="1.5"/>
<line x1="67.9" y1="238.08" x2="72.5" y2="238.08" stroke="#000" stroke-width="1.5"/>
<line x1="67.9" y1="232.11" x2="72.5" y2="232.11" stroke="#000" stroke-width="1.5"/>
<line x1="67.9" y1="226.84" x2="72.5" y2="226.84" stroke="#000" stroke-width="1.5"/>
<line x1="64.2" y1="222.13" x2="72.5" y2="222.13" stroke="#000" stroke-width="1.9"/>
<line x1="1011.4" y1="222.13" x2="1019.7" y2="222.13" stroke="#000" stroke-width="1.9"/>
<line x1="67.9" y1="191.15" x2="72.5" y2="191.15" stroke="#000" stroke-width="1.5"/>
<line x1="67.9" y1="173.03" x2="72.5" y2="173.03" stroke="#000" stroke-width="1.5"/>
<line x1="67.9" y1="160.17" x2="72.5" y2="160.17" stroke="#000" stroke-width="1.5"/>
<line x1="67.9" y1="150.20" x2="72.5" y2="150.20" stroke="#000" stroke-width="1.5"/>
<line x1="67.9" y1="142.05" x2="72.5" y2="142.05" stroke="#000" stroke-width="1.5"/>
<line x1="67.9" y1="135.16" x2="72.5" y2="135.16" stroke="#000" stroke-width="1.5"/>
<line x1="67.9" y1="129.19" x2="72.5" y2="129.19" stroke="#000" stroke-width="1.5"/>
<line x1="67.9" y1="123.93" x2="72.5" y2="123.93" stroke="#000" stroke-width="1.5"/>
<line x1="64.2" y1="119.22" x2="72.5" y2="119.22" stroke="#000" stroke-width="1.9"/>
<line x1="1011.4" y1="119.22" x2="1019.7" y2="119.22" stroke="#000" stroke-width="1.9"/>
<line x1="67.9" y1="88.24" x2="72.5" y2="88.24" stroke="#000" stroke-width="1.5"/>
<line x1="67.9" y1="70.11" x2="72.5" y2="70.11" stroke="#000" stroke-width="1.5"/>
<line x1="67.9" y1="57.25" x2="72.5" y2="57.25" stroke="#000" stroke-width="1.5"/>
<line x1="67.9" y1="47.28" x2="72.5" y2="47.28" stroke="#000" stroke-width="1.5"/>
<line x1="67.9" y1="39.13" x2="72.5" y2="39.13" stroke="#000" stroke-width="1.5"/>
<line x1="67.9" y1="32.24" x2="72.5" y2="32.24" stroke="#000" stroke-width="1.5"/>
<line x1="67.9" y1="26.27" x2="72.5" y2="26.27" stroke="#000" stroke-width="1.5"/>
<line x1="67.9" y1="21.01" x2="72.5" y2="21.01" stroke="#000" stroke-width="1.5"/>
<line x1="64.2" y1="16.30" x2="72.5" y2="16.30" stroke="#000" stroke-width="1.9"/>
<line x1="1011.4" y1="16.30" x2="1019.7" y2="16.30" stroke="#000" stroke-width="1.9"/>
<line x1="105.20" y1="8.0" x2="105.20" y2="16.3" stroke="#000" stroke-width="1.9"/>
<line x1="105.20" y1="633.8" x2="105.20" y2="642.1" stroke="#000" stroke-width="1.9"/>
<line x1="441.20" y1="8.0" x2="441.20" y2="16.3" stroke="#000" stroke-width="1.9"/>
<line x1="441.20" y1="633.8" x2="441.20" y2="642.1" stroke="#000" stroke-width="1.9"/>
<line x1="777.20" y1="8.0" x2="777.20" y2="16.3" stroke="#000" stroke-width="1.9"/>
<line x1="777.20" y1="633.8" x2="777.20" y2="642.1" stroke="#000" stroke-width="1.9"/>
<line x1="72.64" y1="633.8" x2="72.64" y2="638.4" stroke="#000" stroke-width="1.5"/>
<line x1="89.83" y1="633.8" x2="89.83" y2="638.4" stroke="#000" stroke-width="1.5"/>
<line x1="206.35" y1="633.8" x2="206.35" y2="638.4" stroke="#000" stroke-width="1.5"/>
<line x1="265.51" y1="633.8" x2="265.51" y2="638.4" stroke="#000" stroke-width="1.5"/>
<line x1="307.49" y1="633.8" x2="307.49" y2="638.4" stroke="#000" stroke-width="1.5"/>
<line x1="340.05" y1="633.8" x2="340.05" y2="638.4" stroke="#000" stroke-width="1.5"/>
<line x1="366.66" y1="633.8" x2="366.66" y2="638.4" stroke="#000" stroke-width="1.5"/>
<line x1="389.15" y1="633.8" x2="389.15" y2="638.4" stroke="#000" stroke-width="1.5"/>
<line x1="408.64" y1="633.8" x2="408.64" y2="638.4" stroke="#000" stroke-width="1.5"/>
<line x1="425.83" y1="633.8" x2="425.83" y2="638.4" stroke="#000" stroke-width="1.5"/>
<line x1="542.35" y1="633.8" x2="542.35" y2="638.4" stroke="#000" stroke-width="1.5"/>
<line x1="601.51" y1="633.8" x2="601.51" y2="638.4" stroke="#000" stroke-width="1.5"/>
<line x1="643.49" y1="633.8" x2="643.49" y2="638.4" stroke="#000" stroke-width="1.5"/>
<line x1="676.05" y1="633.8" x2="676.05" y2="638.4" stroke="#000" stroke-width="1.5"/>
<line x1="702.66" y1="633.8" x2="702.66" y2="638.4" stroke="#000" stroke-width="1.5"/>
<line x1="725.15" y1="633.8" x2="725.15" y2="638.4" stroke="#000" stroke-width="1.5"/>
<line x1="744.64" y1="633.8" x2="744.64" y2="638.4" stroke="#000" stroke-width="1.5"/>
<line x1="761.83" y1="633.8" x2="761.83" y2="638.4" stroke="#000" stroke-width="1.5"/>
<line x1="878.35" y1="633.8" x2="878.35" y2="638.4" stroke="#000" stroke-width="1.5"/>
<line x1="937.51" y1="633.8" x2="937.51" y2="638.4" stroke="#000" stroke-width="1.5"/>
<line x1="979.49" y1="633.8" x2="979.49" y2="638.4" stroke="#000" stroke-width="1.5"/>
<line x1="1012.05" y1="633.8" x2="1012.05" y2="638.4" stroke="#000" stroke-width="1.5"/>
<rect x="72.50" y="16.30" width="938.90" height="617.50" fill="none" stroke="#000" stroke-width="1.9"/>
<line x1="64.2" y1="1282.00" x2="72.5" y2="1282.00" stroke="#000" stroke-width="1.9"/>
<line x1="1011.4" y1="1282.00" x2="1019.7" y2="1282.00" stroke="#000" stroke-width="1.9"/>
<line x1="67.9" y1="1251.01" x2="72.5" y2="1251.01" stroke="#000" stroke-width="1.5"/>
<line x1="67.9" y1="1232.89" x2="72.5" y2="1232.89" stroke="#000" stroke-width="1.5"/>
<line x1="67.9" y1="1220.03" x2="72.5" y2="1220.03" stroke="#000" stroke-width="1.5"/>
<line x1="67.9" y1="1210.05" x2="72.5" y2="1210.05" stroke="#000" stroke-width="1.5"/>
<line x1="67.9" y1="1201.90" x2="72.5" y2="1201.90" stroke="#000" stroke-width="1.5"/>
<line x1="67.9" y1="1195.01" x2="72.5" y2="1195.01" stroke="#000" stroke-width="1.5"/>
<line x1="67.9" y1="1189.04" x2="72.5" y2="1189.04" stroke="#000" stroke-width="1.5"/>
<line x1="67.9" y1="1183.78" x2="72.5" y2="1183.78" stroke="#000" stroke-width="1.5"/>
<line x1="64.2" y1="1179.07" x2="72.5" y2="1179.07" stroke="#000" stroke-width="1.9"/>
<line x1="1011.4" y1="1179.07" x2="1019.7" y2="1179.07" stroke="#000" stroke-width="1.9"/>
<line x1="67.9" y1="1148.08" x2="72.5" y2="1148.08" stroke="#000" stroke-width="1.5"/>
<line x1="67.9" y1="1129.95" x2="72.5" y2="1129.95" stroke="#000" stroke-width="1.5"/>
<line x1="67.9" y1="1117.09" x2="72.5" y2="1117.09" stroke="#000" stroke-width="1.5"/>
<line x1="67.9" y1="1107.12" x2="72.5" y2="1107.12" stroke="#000" stroke-width="1.5"/>
<line x1="67.9" y1="1098.97" x2="72.5" y2="1098.97" stroke="#000" stroke-width="1.5"/>
<line x1="67.9" y1="1092.08" x2="72.5" y2="1092.08" stroke="#000" stroke-width="1.5"/>
<line x1="67.9" y1="1086.11" x2="72.5" y2="1086.11" stroke="#000" stroke-width="1.5"/>
<line x1="67.9" y1="1080.84" x2="72.5" y2="1080.84" stroke="#000" stroke-width="1.5"/>
<line x1="64.2" y1="1076.13" x2="72.5" y2="1076.13" stroke="#000" stroke-width="1.9"/>
<line x1="1011.4" y1="1076.13" x2="1019.7" y2="1076.13" stroke="#000" stroke-width="1.9"/>
<line x1="67.9" y1="1045.15" x2="72.5" y2="1045.15" stroke="#000" stroke-width="1.5"/>
<line x1="67.9" y1="1027.02" x2="72.5" y2="1027.02" stroke="#000" stroke-width="1.5"/>
<line x1="67.9" y1="1014.16" x2="72.5" y2="1014.16" stroke="#000" stroke-width="1.5"/>
<line x1="67.9" y1="1004.19" x2="72.5" y2="1004.19" stroke="#000" stroke-width="1.5"/>
<line x1="67.9" y1="996.04" x2="72.5" y2="996.04" stroke="#000" stroke-width="1.5"/>
<line x1="67.9" y1="989.14" x2="72.5" y2="989.14" stroke="#000" stroke-width="1.5"/>
<line x1="67.9" y1="983.18" x2="72.5" y2="983.18" stroke="#000" stroke-width="1.5"/>
<line x1="67.9" y1="977.91" x2="72.5" y2="977.91" stroke="#000" stroke-width="1.5"/>
<line x1="64.2" y1="973.20" x2="72.5" y2="973.20" stroke="#000" stroke-width="1.9"/>
<line x1="1011.4" y1="973.20" x2="1019.7" y2="973.20" stroke="#000" stroke-width="1.9"/>
<line x1="67.9" y1="942.21" x2="72.5" y2="942.21" stroke="#000" stroke-width="1.5"/>
<line x1="67.9" y1="924.09" x2="72.5" y2="924.09" stroke="#000" stroke-width="1.5"/>
<line x1="67.9" y1="911.23" x2="72.5" y2="911.23" stroke="#000" stroke-width="1.5"/>
<line x1="67.9" y1="901.25" x2="72.5" y2="901.25" stroke="#000" stroke-width="1.5"/>
<line x1="67.9" y1="893.10" x2="72.5" y2="893.10" stroke="#000" stroke-width="1.5"/>
<line x1="67.9" y1="886.21" x2="72.5" y2="886.21" stroke="#000" stroke-width="1.5"/>
<line x1="67.9" y1="880.24" x2="72.5" y2="880.24" stroke="#000" stroke-width="1.5"/>
<line x1="67.9" y1="874.98" x2="72.5" y2="874.98" stroke="#000" stroke-width="1.5"/>
<line x1="64.2" y1="870.27" x2="72.5" y2="870.27" stroke="#000" stroke-width="1.9"/>
<line x1="1011.4" y1="870.27" x2="1019.7" y2="870.27" stroke="#000" stroke-width="1.9"/>
<line x1="67.9" y1="839.28" x2="72.5" y2="839.28" stroke="#000" stroke-width="1.5"/>
<line x1="67.9" y1="821.15" x2="72.5" y2="821.15" stroke="#000" stroke-width="1.5"/>
<line x1="67.9" y1="808.29" x2="72.5" y2="808.29" stroke="#000" stroke-width="1.5"/>
<line x1="67.9" y1="798.32" x2="72.5" y2="798.32" stroke="#000" stroke-width="1.5"/>
<line x1="67.9" y1="790.17" x2="72.5" y2="790.17" stroke="#000" stroke-width="1.5"/>
<line x1="67.9" y1="783.28" x2="72.5" y2="783.28" stroke="#000" stroke-width="1.5"/>
<line x1="67.9" y1="777.31" x2="72.5" y2="777.31" stroke="#000" stroke-width="1.5"/>
<line x1="67.9" y1="772.04" x2="72.5" y2="772.04" stroke="#000" stroke-width="1.5"/>
<line x1="64.2" y1="767.33" x2="72.5" y2="767.33" stroke="#000" stroke-width="1.9"/>
<line x1="1011.4" y1="767.33" x2="1019.7" y2="767.33" stroke="#000" stroke-width="1.9"/>
<line x1="67.9" y1="736.35" x2="72.5" y2="736.35" stroke="#000" stroke-width="1.5"/>
<line x1="67.9" y1="718.22" x2="72.5" y2="718.22" stroke="#000" stroke-width="1.5"/>
<line x1="67.9" y1="705.36" x2="72.5" y2="705.36" stroke="#000" stroke-width="1.5"/>
<line x1="67.9" y1="695.39" x2="72.5" y2="695.39" stroke="#000" stroke-width="1.5"/>
<line x1="67.9" y1="687.24" x2="72.5" y2="687.24" stroke="#000" stroke-width="1.5"/>
<line x1="67.9" y1="680.34" x2="72.5" y2="680.34" stroke="#000" stroke-width="1.5"/>
<line x1="67.9" y1="674.38" x2="72.5" y2="674.38" stroke="#000" stroke-width="1.5"/>
<line x1="67.9" y1="669.11" x2="72.5" y2="669.11" stroke="#000" stroke-width="1.5"/>
<line x1="64.2" y1="664.40" x2="72.5" y2="664.40" stroke="#000" stroke-width="1.9"/>
<line x1="1011.4" y1="664.40" x2="1019.7" y2="664.40" stroke="#000" stroke-width="1.9"/>
<line x1="105.20" y1="656.1" x2="105.20" y2="664.4" stroke="#000" stroke-width="1.9"/>
<line x1="105.20" y1="1282.0" x2="105.20" y2="1290.3" stroke="#000" stroke-width="1.9"/>
<line x1="441.20" y1="656.1" x2="441.20" y2="664.4" stroke="#000" stroke-width="1.9"/>
<line x1="441.20" y1="1282.0" x2="441.20" y2="1290.3" stroke="#000" stroke-width="1.9"/>
<line x1="777.20" y1="656.1" x2="777.20" y2="664.4" stroke="#000" stroke-width="1.9"/>
<line x1="777.20" y1="1282.0" x2="777.20" y2="1290.3" stroke="#000" stroke-width="1.9"/>
<line x1="72.64" y1="1282.0" x2="72.64" y2="1286.6" stroke="#000" stroke-width="1.5"/>
<line x1="89.83" y1="1282.0" x2="89.83" y2="1286.6" stroke="#000" stroke-width="1.5"/>
<line x1="206.35" y1="1282.0" x2="206.35" y2="1286.6" stroke="#000" stroke-width="1.5"/>
<line x1="265.51" y1="1282.0" x2="265.51" y2="1286.6" stroke="#000" stroke-width="1.5"/>
<line x1="307.49" y1="1282.0" x2="307.49" y2="1286.6" stroke="#000" stroke-width="1.5"/>
<line x1="340.05" y1="1282.0" x2="340.05" y2="1286.6" stroke="#000" stroke-width="1.5"/>
<line x1="366.66" y1="1282.0" x2="366.66" y2="1286.6" stroke="#000" stroke-width="1.5"/>
<line x1="389.15" y1="1282.0" x2="389.15" y2="1286.6" stroke="#000" stroke-width="1.5"/>
<line x1="408.64" y1="1282.0" x2="408.64" y2="1286.6" stroke="#000" stroke-width="1.5"/>
<line x1="425.83" y1="1282.0" x2="425.83" y2="1286.6" stroke="#000" stroke-width="1.5"/>
<line x1="542.35" y1="1282.0" x2="542.35" y2="1286.6" stroke="#000" stroke-width="1.5"/>
<line x1="601.51" y1="1282.0" x2="601.51" y2="1286.6" stroke="#000" stroke-width="1.5"/>
<line x1="643.49" y1="1282.0" x2="643.49" y2="1286.6" stroke="#000" stroke-width="1.5"/>
<line x1="676.05" y1="1282.0" x2="676.05" y2="1286.6" stroke="#000" stroke-width="1.5"/>
<line x1="702.66" y1="1282.0" x2="702.66" y2="1286.6" stroke="#000" stroke-width="1.5"/>
<line x1="725.15" y1="1282.0" x2="725.15" y2="1286.6" stroke="#000" stroke-width="1.5"/>
<line x1="744.64" y1="1282.0" x2="744.64" y2="1286.6" stroke="#000" stroke-width="1.5"/>
<line x1="761.83" y1="1282.0" x2="761.83" y2="1286.6" stroke="#000" stroke-width="1.5"/>
<line x1="878.35" y1="1282.0" x2="878.35" y2="1286.6" stroke="#000" stroke-width="1.5"/>
<line x1="937.51" y1="1282.0" x2="937.51" y2="1286.6" stroke="#000" stroke-width="1.5"/>
<line x1="979.49" y1="1282.0" x2="979.49" y2="1286.6" stroke="#000" stroke-width="1.5"/>
<line x1="1012.05" y1="1282.0" x2="1012.05" y2="1286.6" stroke="#000" stroke-width="1.5"/>
<rect x="72.50" y="664.40" width="938.90" height="617.60" fill="none" stroke="#000" stroke-width="1.9"/>
<text x="31.2" y="646.2" class="tl" text-anchor="end">10</text><text x="55.6" y="633.6" class="ts" text-anchor="end">16</text>
<text x="31.2" y="543.3" class="tl" text-anchor="end">10</text><text x="55.6" y="530.7" class="ts" text-anchor="end">17</text>
<text x="31.2" y="440.4" class="tl" text-anchor="end">10</text><text x="55.6" y="427.8" class="ts" text-anchor="end">18</text>
<text x="31.2" y="337.4" class="tl" text-anchor="end">10</text><text x="55.6" y="324.9" class="ts" text-anchor="end">19</text>
<text x="31.2" y="234.5" class="tl" text-anchor="end">10</text><text x="55.6" y="221.9" class="ts" text-anchor="end">20</text>
<text x="31.2" y="131.6" class="tl" text-anchor="end">10</text><text x="55.6" y="119.0" class="ts" text-anchor="end">21</text>
<text x="31.2" y="28.7" class="tl" text-anchor="end">10</text><text x="55.6" y="16.1" class="ts" text-anchor="end">22</text>
<text x="31.2" y="1294.4" class="tl" text-anchor="end">10</text><text x="55.6" y="1281.8" class="ts" text-anchor="end">16</text>
<text x="31.2" y="1191.5" class="tl" text-anchor="end">10</text><text x="55.6" y="1178.9" class="ts" text-anchor="end">17</text>
<text x="31.2" y="1088.5" class="tl" text-anchor="end">10</text><text x="55.6" y="1075.9" class="ts" text-anchor="end">18</text>
<text x="31.2" y="985.6" class="tl" text-anchor="end">10</text><text x="55.6" y="973.0" class="ts" text-anchor="end">19</text>
<text x="31.2" y="882.7" class="tl" text-anchor="end">10</text><text x="55.6" y="870.1" class="ts" text-anchor="end">20</text>
<text x="31.2" y="779.7" class="tl" text-anchor="end">10</text><text x="55.6" y="767.1" class="ts" text-anchor="end">21</text>
<text x="31.2" y="676.8" class="tl" text-anchor="end">10</text><text x="55.6" y="664.2" class="ts" text-anchor="end">22</text>
<text x="115.7" y="1323.6" class="tl" text-anchor="end">10</text><text x="116.7" y="1311.0" class="ts">0</text>
<text x="451.7" y="1323.6" class="tl" text-anchor="end">10</text><text x="452.7" y="1311.0" class="ts">1</text>
<text x="787.7" y="1323.6" class="tl" text-anchor="end">10</text><text x="788.7" y="1311.0" class="ts">2</text>
<text x="482" y="1372.6" class="xl" textLength="119" lengthAdjust="spacingAndGlyphs"><tspan class="it">kL</tspan>/2<tspan class="it">π</tspan></text>
<rect x="648" y="39" width="341.4" height="222.9" rx="9" ry="9" fill="#fff" fill-opacity="0.8" stroke="#cccccc" stroke-width="2"/>
<line x1="678.8" y1="74.1" x2="741.3" y2="74.1" stroke="#bfbfbf" stroke-width="4.9" stroke-dasharray="18.4 7.7"/>
<line x1="678.8" y1="122.8" x2="741.3" y2="122.8" stroke="#1e90ff" stroke-width="4.9" stroke-dasharray="4.9 8.3"/>
<line x1="678.8" y1="171.5" x2="741.3" y2="171.5" stroke="#8fbc8f" stroke-width="4.9" stroke-dasharray="31.6 8 4.9 8"/>
<line x1="678.8" y1="219.5" x2="741.3" y2="219.5" stroke="#000" stroke-width="5.6" stroke-dasharray="5.6 9.2"/>
<text x="791.5" y="89.5" class="lg" textLength="131" lengthAdjust="spacingAndGlyphs"><tspan class="it">L</tspan>/2<tspan class="it">πd</tspan><tspan class="lgs it" dy="7">e</tspan></text>
<text x="791.5" y="138.2" class="lg" textLength="139" lengthAdjust="spacingAndGlyphs"><tspan class="it">k</tspan><tspan class="lgs" dy="7">w</tspan><tspan class="it" dy="-7">L</tspan>/2<tspan class="it">π</tspan></text>
<text x="791.5" y="186.9" class="lg" textLength="178" lengthAdjust="spacingAndGlyphs"><tspan class="it">L</tspan>/2<tspan class="it">πρ</tspan><tspan class="lgs" dy="7"><tspan class="it">e</tspan>,sat</tspan></text>
<text x="791.5" y="234.9" class="lg" textLength="67" lengthAdjust="spacingAndGlyphs"><tspan class="it">k</tspan><tspan class="lgs" dy="-16">3/2</tspan></text>
<rect x="627.5" y="687" width="362" height="168" rx="9" ry="9" fill="#fff" fill-opacity="0.8" stroke="#cccccc" stroke-width="2"/>
<line x1="656.1" y1="720.1" x2="722.5" y2="720.1" stroke="#ff00ff" stroke-width="3.2"/>
<line x1="656.1" y1="765.9" x2="722.5" y2="765.9" stroke="#00ff00" stroke-width="5.4"/>
<line x1="656.1" y1="812.9" x2="722.5" y2="812.9" stroke="#000" stroke-width="5" stroke-dasharray="18.5 8"/>
<text x="767.7" y="736.1" class="lg" textLength="116" lengthAdjust="spacingAndGlyphs"><tspan class="it">t</tspan> = <tspan class="it">τ</tspan><tspan class="lgs" dy="6">w</tspan></text>
<text x="767.7" y="781.9" class="lg" textLength="205" lengthAdjust="spacingAndGlyphs"><tspan class="it">t</tspan> = <tspan class="it">L</tspan>/<tspan class="it">U</tspan><tspan class="lgs" dy="6">rms</tspan></text>
<text x="769.8" y="826.9" class="lg" textLength="94.5" lengthAdjust="spacingAndGlyphs"><tspan class="it">k</tspan><tspan class="lgs" dy="-14">−5/3</tspan></text>
</svg>
</body></html>
